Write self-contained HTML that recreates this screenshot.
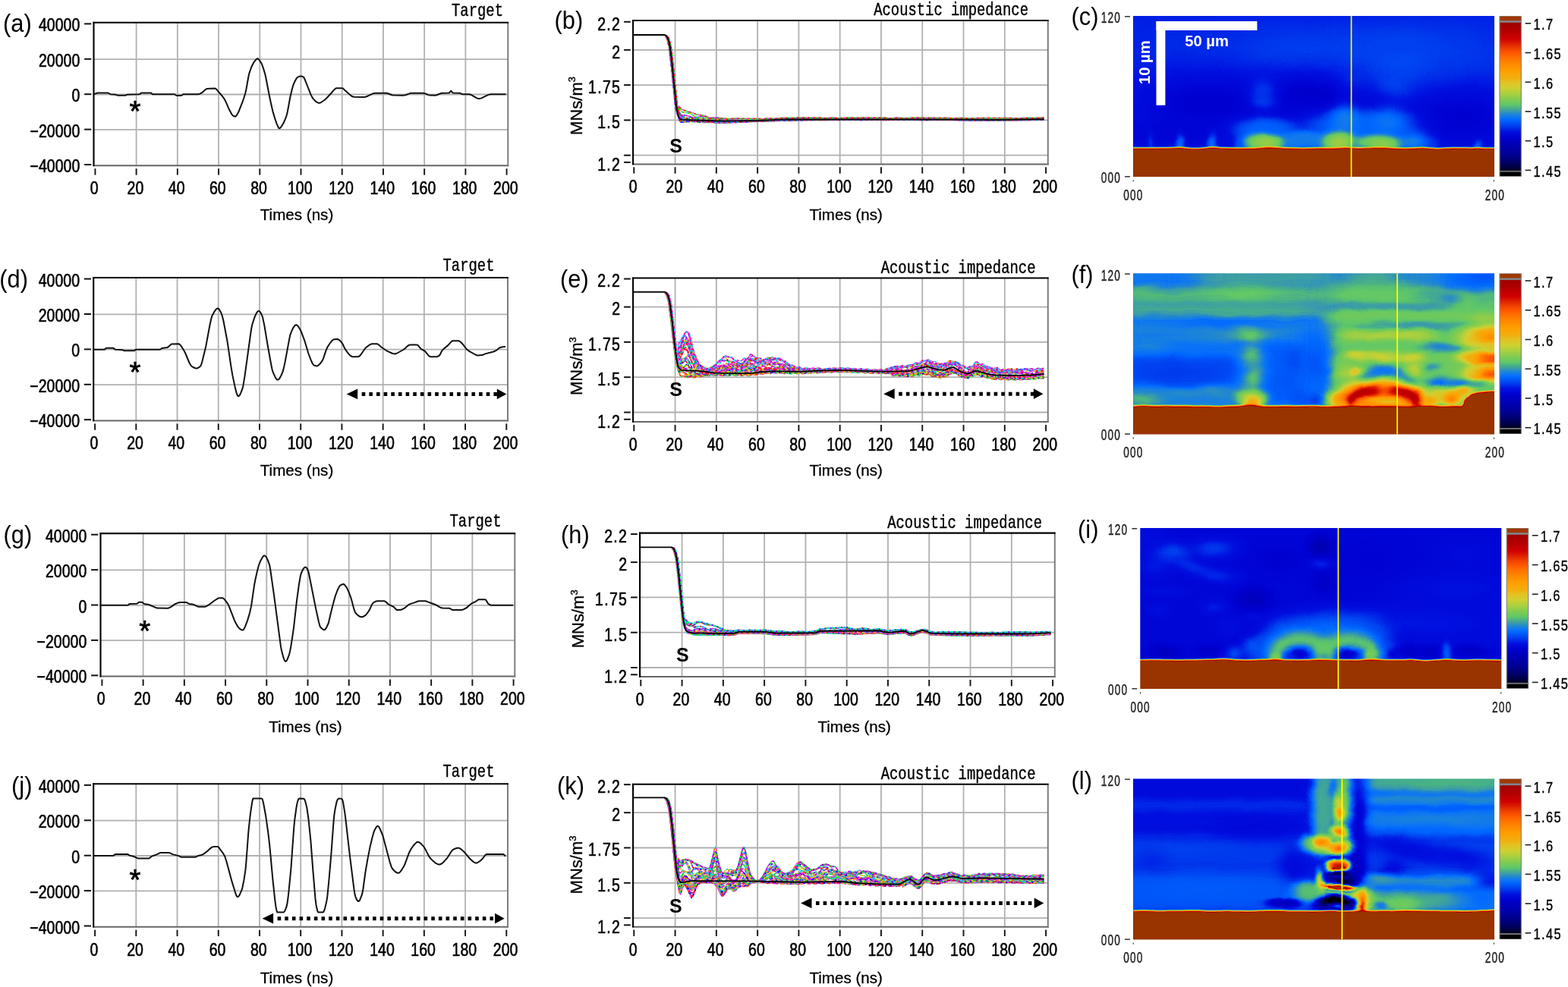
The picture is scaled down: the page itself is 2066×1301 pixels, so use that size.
<!DOCTYPE html>
<html lang="en"><head><meta charset="utf-8"><title>Figure</title>
<style>html,body{margin:0;padding:0;background:#fff;overflow:hidden}svg{display:block}text{white-space:pre}</style>
</head><body>
<svg width="2066" height="1301" viewBox="0 0 2066 1301">
<defs>
<filter id="cm" x="0" y="0" width="100%" height="100%" color-interpolation-filters="sRGB"><feComponentTransfer><feFuncR type="table" tableValues="0 0 0 0 0 0 0 0 0 0 0 0 0 0 0 0 0 0 0 0 0 0 0 0 0 0 0 0 0 0 0 0 0 0 0 0 0 0 0 0 0 0 0 0 0 0 0 0 0 0.025 0.05 0.076 0.102 0.13 0.175 0.22 0.242 0.264 0.289 0.321 0.353 0.383 0.411 0.439 0.467 0.495 0.527 0.56 0.593 0.626 0.659 0.69 0.722 0.753 0.784 0.816 0.831 0.847 0.863 0.878 0.894 0.911 0.928 0.943 0.952 0.961 0.97 0.978 0.985 0.991 0.998 1 1 1 1 1 1 1 1 1 1 1 1 1 1 0.989 0.974 0.96 0.945 0.926 0.907 0.887 0.868 0.854 0.842 0.83 0.819 0.804 0.788 0.773 0.757 0.739 0.722 0.704 0.688 0.678 0.668 0.658 0.648 0.637 0.627 0.614 0.6 0.6 0.6 0.6 0.6 0.6 0.6 0.6 0.6"/><feFuncG type="table" tableValues="0 0 0 0 0 0 0 0 0 0 0 0 0 0 0 0 0 0 0 0 0 0 0 0 0 0 0 0 0 0 0 0 0 0 0.01 0.023 0.036 0.05 0.063 0.1 0.138 0.176 0.213 0.251 0.282 0.314 0.345 0.376 0.408 0.433 0.458 0.484 0.51 0.536 0.566 0.596 0.63 0.663 0.697 0.728 0.76 0.785 0.789 0.792 0.796 0.799 0.802 0.806 0.809 0.812 0.816 0.816 0.816 0.816 0.816 0.816 0.803 0.791 0.778 0.765 0.753 0.73 0.707 0.688 0.679 0.67 0.661 0.65 0.638 0.626 0.615 0.6 0.584 0.569 0.553 0.537 0.519 0.5 0.482 0.463 0.444 0.422 0.398 0.375 0.351 0.327 0.304 0.28 0.257 0.227 0.196 0.165 0.133 0.102 0.071 0.039 0.008 0 0 0 0 0 0 0 0 0 0 0 0 0 0 0.1 0.2 0.2 0.2 0.2 0.2 0.2 0.2 0.2 0.2"/><feFuncB type="table" tableValues="0 0 0 0 0 0.118 0.165 0.212 0.259 0.299 0.331 0.363 0.396 0.428 0.456 0.481 0.506 0.532 0.557 0.578 0.597 0.616 0.634 0.653 0.669 0.683 0.697 0.711 0.725 0.739 0.753 0.772 0.792 0.811 0.826 0.839 0.852 0.865 0.878 0.891 0.904 0.916 0.929 0.941 0.953 0.965 0.976 0.988 1 0.976 0.953 0.915 0.863 0.81 0.75 0.69 0.634 0.578 0.525 0.482 0.44 0.403 0.382 0.361 0.34 0.319 0.304 0.291 0.277 0.264 0.251 0.238 0.226 0.213 0.201 0.188 0.176 0.163 0.151 0.138 0.125 0.103 0.08 0.061 0.052 0.043 0.034 0.025 0.018 0.01 0.002 0 0 0 0 0 0 0 0 0 0 0 0 0 0 0 0 0 0 0 0 0 0 0 0 0 0 0 0 0 0 0 0 0 0 0 0 0 0 0 0 0 0 0 0 0 0 0 0 0 0"/></feComponentTransfer></filter>
<clipPath id="clip-b"><rect x="835.1" y="28.0" width="545.4" height="187.4"/></clipPath>
<path id="cb0" d="M875.9,46.7L878.6,50.7L881.3,61.3L884,83.8L889.5,138L890.8,146.5L895,157.2L896.4,159L899.1,160.3L903.1,160.9L912.6,160.3L920.8,161.2L952,161.7L1063.3,158.1L1074.1,158.4L1147.4,157.9L1161,158.3L1232.9,158.1L1326.5,158.7L1375.4,158"/>
<path id="cb1" d="M876.2,46.7L878.9,50.7L881.6,61.3L884.3,83.8L889.7,138L891.1,146.5L893.7,153.3L895,159L896.4,160.6L897.7,161.2L909.9,159.4L919.4,160.4L928.9,159.9L941.1,161.5L957.4,161.7L983.2,160.9L994.1,159.9L1004.9,159.9L1015.8,159.1L1068.7,158.4L1079.6,157.8L1135.2,158.3L1165.1,157.7L1219.3,158.4L1249.2,157.9L1261.4,158.4L1302.1,158.8L1375.4,158"/>
<path id="cb2" d="M876.4,46.7L879.1,50.7L881.9,61.3L884.6,83.8L890,138L891.4,146.5L895,157.4L896.4,158.6L897.7,158.8L903.1,157.8L912.6,159.5L922.1,159.1L934.4,161.1L954.7,161.7L977.8,160.8L988.6,159.7L999.5,159.9L1009,159.3L1018.5,159.4L1072.8,157.6L1105.3,158.3L1158.3,157.5L1190.8,158.3L1243.8,157.6L1277.7,158.6L1298,158.6L1308.9,158.1L1359.1,158.3L1375.4,157.7"/>
<path id="cb3" d="M876.7,46.7L879.4,50.7L882.1,61.3L884.8,83.8L890.3,138L891.6,146.5L893.7,152.7L895,153.3L897.7,156L903.1,157.9L907.2,158.3L915.4,157.7L926.2,160.4L937.1,160.5L947.9,161.5L958.8,160.7L969.6,160.7L980.5,159.5L990,159.8L1000.9,159.3L1011.7,159.6L1066,157.3L1098.6,158.2L1118.9,158.1L1150.1,157.2L1182.7,158.2L1235.6,157.4L1268.2,158.5L1289.9,158.4L1300.8,157.8L1352.3,158.3L1375.4,157.6"/>
<path id="cb4" d="M877,46.7L879.7,50.7L882.4,61.3L885.1,83.8L890.5,138L891.9,146.5L893.7,152.7L896.4,154.8L897.7,155.2L903.1,155.2L912.6,158.9L915.4,159.3L923.5,159.2L935.7,160.9L946.6,160.2L956.1,160.6L968.3,159.3L977.8,159.8L988.6,159.2L1000.9,159.8L1052.4,157.1L1063.3,157.6L1074.1,157.4L1085,158L1105.3,158L1137.9,156.9L1170.5,158L1190.8,158L1201.7,157.3L1212.5,157.5L1222,157L1254.6,158.2L1307.5,157.5L1318.4,158.2L1340.1,158.4L1361.8,157.7L1375.4,156.8"/>
<path id="cb5" d="M877.2,46.7L879.9,50.7L882.7,61.3L885.4,83.8L890.8,138L892.2,146.5L893.7,152.4L895,151.4L897.7,154.7L900.4,155.6L904.5,155.9L912.6,154.7L923.5,158.2L934.4,158.7L942.5,160.4L946.6,160.7L956.1,160.1L966.9,160.4L977.8,159L987.3,159.2L998.1,158.3L1009,158.9L1019.9,158.2L1030.7,158.4L1041.6,157.7L1052.4,157.7L1063.3,156.8L1072.8,157.2L1083.6,156.8L1094.5,157.6L1105.3,157.4L1116.2,157.9L1127.1,157.3L1137.9,157.4L1148.8,156.6L1158.3,157.1L1169.1,156.9L1180,157.7L1200.3,157.9L1232.9,156.7L1243.8,157.3L1254.6,157.2L1265.5,158L1285.8,158.2L1318.4,157.1L1327.9,157.7L1338.7,157.5L1349.6,158L1375.4,157.2"/>
<path id="cb6" d="M877.5,46.7L880.2,50.7L882.9,61.3L885.6,83.8L891.1,138L893.7,152.1L895,148.3L897.7,152.3L901.8,155.3L905.9,157L915.4,157L926.2,159.4L937.1,158.4L947.9,159.3L958.8,158.1L968.3,159L979.1,158.6L991.4,159.6L1000.9,159L1011.7,159L1022.6,157.6L1033.4,157.3L1044.3,156.4L1055.1,157.1L1066,156.9L1076.8,157.7L1086.3,157.3L1097.2,157.6L1108.1,156.7L1118.9,156.9L1128.4,156.3L1161,157.6L1171.8,157.2L1182.7,157.4L1193.5,156.6L1204.4,156.9L1213.9,156.4L1224.8,157.2L1235.6,157.1L1246.5,157.8L1257.3,157.3L1268.2,157.5L1279,156.8L1288.5,157.2L1299.4,156.9L1310.2,157.8L1321.1,157.6L1330.6,158L1342.8,157.3L1353.7,157.3L1364.5,156.3L1375.4,156.6"/>
<path id="cb7" d="M877.8,46.7L880.5,50.7L883.2,61.3L885.9,83.8L891.3,138L893.7,152L895,148.2L897.7,152.5L901.8,155.5L904.5,156.5L914,156.2L924.9,158.3L935.7,157L946.6,158.2L957.4,157.3L968.3,158.8L977.8,158.5L990,159.4L999.5,158.7L1010.4,158.6L1021.2,157L1032.1,156.9L1041.6,156.1L1053.8,157L1063.3,156.8L1075.5,157.5L1085,156.9L1095.8,157.1L1108.1,156.1L1117.6,156.5L1128.4,156L1137.9,156.9L1148.8,156.8L1159.6,157.4L1170.5,156.8L1181.3,156.9L1192.2,156L1203,156.6L1212.5,156.2L1223.4,157.2L1234.3,157L1245.1,157.5L1256,156.8L1266.8,157L1277.7,156.3L1288.5,157L1298,156.8L1310.2,157.7L1319.7,157.4L1330.6,157.7L1341.5,156.8L1352.3,156.8L1361.8,155.9L1375.4,156.4"/>
<path id="cb8" d="M878,46.7L880.7,50.7L883.5,61.3L886.2,83.8L891.6,138L893.7,152L895,147.9L897.7,151.3L903.1,154.9L905.9,156L908.6,156.3L918.1,155L926.2,156.7L928.9,156.8L938.4,155.5L949.3,157.4L960.1,157.1L971,158.9L981.9,158.5L991.4,159.1L1003.6,157.8L1013.1,157.7L1025.3,156L1034.8,156.4L1045.6,156L1056.5,157L1067.3,156.7L1076.8,157.2L1087.7,156.3L1098.6,156.4L1109.4,155.5L1120.3,156.2L1131.1,156L1142,157L1151.5,156.6L1162.3,157L1173.2,156.1L1184,156.3L1194.9,155.6L1204.4,156.4L1215.3,156.3L1227.5,157.2L1237,156.7L1247.8,157L1258.7,156.1L1269.5,156.5L1279,156L1289.9,156.9L1300.8,156.8L1311.6,157.6L1322.5,157L1333.3,157.1L1345.5,156L1355,156.3L1365.9,155.7L1375.4,156.4"/>
<path id="cb9" d="M878.3,46.7L881,50.7L883.7,61.3L893.7,152.3L895,149.8L896.4,151.4L897.7,151.9L903.1,151.8L912.6,154.9L915.4,155L924.9,153.3L934.4,155.4L945.2,155L956.1,157.5L966.9,157.6L977.8,158.9L988.6,158L999.5,158.1L1010.4,156.4L1019.9,156.5L1030.7,155.4L1041.6,156.4L1052.4,156.2L1063.3,157L1074.1,156.2L1085,156.3L1095.8,155.3L1105.3,155.8L1116.2,155.3L1127.1,156.4L1137.9,156.2L1148.8,156.8L1159.6,156L1170.5,156.2L1181.3,155.2L1190.8,155.9L1201.7,155.6L1212.5,156.6L1223.4,156.4L1232.9,156.9L1243.8,156L1254.6,156.2L1265.5,155.4L1276.3,156.3L1287.2,156.1L1299.4,157.2L1308.9,156.8L1319.7,157.1L1329.2,156.1L1340.1,156.2L1351,155.4L1361.8,156.1L1375.4,155.9"/>
<path id="cb10" d="M878.6,46.7L881.3,50.7L884,61.3L886.7,83.8L892.1,138L893.5,146.5L893.7,151.2L895,142L896.4,145L897.7,146.7L899.1,147.5L901.8,148.4L908.6,149.4L918.1,154.6L922.1,155.4L930.3,154.9L941.1,156.9L952,155.5L961.5,156.7L976.4,156.4L983.2,157.4L994.1,157.1L1004.9,158L1015.8,156.7L1026.6,156.5L1036.1,155.2L1048.3,155.5L1060.6,155.1L1068.7,156L1079.6,155.8L1090.4,156.5L1101.3,155.7L1112.1,155.8L1118.9,155.1L1133.8,155.4L1143.3,155.1L1154.2,156.2L1165.1,155.9L1174.5,156.5L1186.8,155.6L1196.3,155.8L1204.4,155.2L1219.3,155.6L1228.8,155.4L1239.7,156.5L1250.5,156.1L1260,156.6L1272.3,155.6L1281.8,156L1296.7,155.6L1304.8,156.2L1314.3,156L1325.2,156.9L1336,156.3L1345.5,156.5L1357.7,155.2L1367.2,155.4L1375.4,154.9"/>
<path id="cb11" d="M878.8,46.7L881.5,50.7L884.3,61.3L887,83.8L892.4,138L893.8,146.5L893.7,151.1L895,140.6L897.7,143.8L903.1,146L914,149.2L918.1,151.1L927.6,152.3L937.1,156.2L941.1,156.6L949.3,156.1L958.8,157.3L966.9,156.2L998.1,156.3L1003.6,156.8L1013.1,156.2L1022.6,156.8L1033.4,155.6L1044.3,155.8L1051.1,155.1L1080.9,155.1L1087.7,155.7L1098.6,155.4L1108.1,156.2L1118.9,155.3L1128.4,155.5L1135.2,155.1L1165.1,155.1L1173.2,155.9L1182.7,155.6L1193.5,156.2L1205.8,155.2L1249.2,155.3L1257.3,156.2L1268.2,155.9L1277.7,156.4L1288.5,155.5L1332,155.5L1344.2,156.4L1353.7,155.7L1364.5,155.8L1375.4,154.9"/>
<clipPath id="clip-e"><rect x="835.1" y="367.5" width="545.4" height="187.6"/></clipPath>
<path id="ce0" d="M875.8,385.5L878.5,389.5L881.3,400.2L889.4,469.7L890.8,477.7L893.7,489.5L896.4,495L897.7,495.8L901.8,495.6L905.9,497.7L909.9,496.5L914,497.7L915.4,497.6L919.4,495.6L923.5,496.1L927.6,493.7L928.9,493.6L933,494.9L937.1,493.5L941.1,494.6L942.5,494.3L946.6,491.9L950.6,493.3L954.7,493L958.8,494.9L960.1,495L964.2,493.6L968.3,495L973.7,493.7L977.8,495.2L981.9,493.7L985.9,495.1L987.3,495.1L991.4,493.4L995.4,494.3L999.5,492.2L1000.9,492.1L1004.9,493L1009,490.5L1013.1,490.9L1017.1,489.8L1018.5,489.9L1022.6,491.8L1026.6,490.1L1032.1,491L1034.8,490.1L1036.1,490.2L1040.2,492.5L1041.6,492.4L1044.3,491.3L1045.6,491.3L1049.7,492.7L1053.8,491.3L1057.8,492.6L1063.3,491L1067.3,492.2L1071.4,490.6L1076.8,491.6L1080.9,489.9L1085,491.1L1090.4,489.4L1094.5,490.5L1098.6,488.8L1102.6,490.2L1104,490.3L1108.1,489L1112.1,490.5L1116.2,489L1117.6,489.1L1121.6,490.8L1125.7,489.6L1129.8,491.3L1135.2,490.1L1139.3,491.7L1143.3,490.4L1147.4,491.9L1148.8,492L1152.8,490.8L1156.9,492.3L1161,490.9L1162.3,490.9L1166.4,492.4L1170.5,491.1L1174.5,492.7L1175.9,495.2L1180,493.3L1184,494.5L1188.1,493.6L1192.2,495.6L1193.5,495.8L1197.6,494.6L1201.7,495.5L1205.8,493.8L1207.1,493.8L1209.8,495L1211.2,495.1L1215.3,493L1216.6,493L1219.3,494L1223.4,493.4L1224.8,493.7L1228.8,496.6L1230.2,496.8L1232.9,496.1L1238.3,498.2L1242.4,496.5L1246.5,496.1L1251.9,491.7L1256,491.9L1258.7,491.3L1260,491.5L1264.1,494.5L1269.5,494.8L1273.6,497.9L1275,498L1279,495.9L1283.1,495.1L1285.8,493.2L1287.2,492.9L1292.6,496L1296.7,495.9L1300.8,498.4L1304.8,498L1308.9,500L1310.2,500.1L1314.3,498.8L1318.4,500.4L1322.5,499.2L1323.8,499.2L1326.5,500.4L1327.9,500.5L1332,498.6L1336,500.1L1337.4,500.2L1341.5,499L1345.5,500.2L1349.6,498.1L1351,497.9L1355,499.1L1359.1,498.2L1363.2,499.8L1367.2,498.2L1368.6,498L1372.7,499L1375.4,497.8"/>
<path id="ce1" d="M876,385.5L878.7,389.5L881.4,400.2L889.5,469.7L890.9,477.7L893.7,486.9L895,488.7L897.7,490.2L901.8,490.5L907.2,495.3L908.6,495.2L911.3,493.7L912.6,493.5L916.7,494.6L920.8,494L924.9,495.9L926.2,495.7L928.9,494.1L930.3,494L934.4,495.2L938.4,493.6L942.5,495L943.9,495L947.9,493.5L952,495L956.1,493.6L961.5,494.6L965.6,493.3L969.6,495L971,494.9L975.1,493.1L979.1,493.1L983.2,490.7L984.6,490.9L988.6,493.2L992.7,492.3L996.8,492.9L1000.9,490.4L1002.2,490.2L1006.3,492L1010.4,491.1L1014.4,492.3L1015.8,492.2L1019.9,490.7L1023.9,492.2L1028,490.8L1033.4,492.4L1037.5,491L1041.6,492.6L1045.6,491L1047,490.9L1051.1,492.5L1055.1,491.1L1059.2,492.3L1060.6,492.2L1064.6,490.2L1068.7,491.4L1072.8,490L1074.1,490.1L1076.8,491.3L1078.2,491.4L1082.3,489.6L1086.3,490.8L1091.8,489.3L1095.8,490.7L1099.9,489.1L1105.3,490.5L1109.4,489.1L1113.5,490.6L1117.6,489.4L1118.9,489.4L1123,491L1127.1,489.6L1131.1,491.1L1136.6,489.9L1140.6,491.6L1144.7,490.3L1150.1,491.6L1154.2,490.3L1158.3,492.1L1163.7,490.9L1167.8,492.4L1171.8,491L1174.5,492L1175.9,495.3L1177.3,495.4L1181.3,494.2L1185.4,495.7L1189.5,494.4L1194.9,496.1L1199,494.9L1203,496L1204.4,495.7L1207.1,494.1L1212.5,494.3L1216.6,491.3L1218,491.2L1222,493L1226.1,493.4L1230.2,495.9L1231.5,495.7L1234.3,494.4L1235.6,494.3L1239.7,496.2L1243.8,495.4L1247.8,495.6L1251.9,492.1L1253.3,491.3L1254.6,491.2L1261.4,492.7L1265.5,496L1266.8,496.6L1270.9,496.6L1275,498.6L1276.3,498.2L1280.4,495.1L1284.5,494.8L1288.5,493.5L1292.6,496.1L1294,496.4L1298,495.4L1302.1,497.2L1306.2,496.9L1310.2,499.3L1311.6,499.5L1315.7,498.1L1319.7,499.2L1323.8,497.9L1325.2,498L1329.2,500.4L1333.3,499.2L1337.4,500.6L1338.7,500.6L1342.8,499.1L1346.9,500.6L1351,499L1352.3,499L1356.4,500.2L1360.5,498.5L1364.5,499.5L1370,497.7L1374,498.9L1375.4,498.5"/>
<path id="ce2" d="M876.1,385.5L878.8,389.5L881.5,400.2L889.7,469.7L891,477.7L893.7,487.5L895,489.9L896.4,491.2L900.4,487.4L903.1,487.1L905.9,488.1L908.6,490.5L912.6,496.1L914,496.5L918.1,495.2L922.1,495.8L926.2,493.9L930.3,495.3L931.6,495.2L935.7,493.7L939.8,495.1L943.9,493.6L945.2,493.5L949.3,494.7L953.4,493.5L957.4,495L958.8,494.9L962.9,492.6L966.9,492.9L971,491.5L975.1,493.5L976.4,493.8L980.5,492.1L984.6,492.2L988.6,489.8L990,489.8L994.1,492.5L998.1,491.9L1002.2,493L1003.6,492.8L1007.6,490.8L1011.7,492.1L1015.8,490.8L1017.1,490.9L1021.2,492.2L1025.3,490.8L1029.4,492.1L1033.4,490.6L1034.8,490.7L1038.8,492.4L1042.9,491.1L1047,492.2L1048.3,492L1052.4,490.3L1056.5,491.8L1060.6,490.6L1066,491.9L1070.1,490L1074.1,491.1L1079.6,489.7L1083.6,491.2L1087.7,489.5L1093.1,490.7L1097.2,489.1L1101.3,490.6L1105.3,489.1L1106.7,489.1L1110.8,490.6L1114.8,489.1L1118.9,490.6L1124.3,489.5L1128.4,491.1L1132.5,489.7L1137.9,490.9L1142,489.7L1146.1,491.6L1151.5,490.5L1155.6,491.9L1159.6,490.5L1163.7,492.1L1165.1,492.2L1169.1,491.1L1173.2,492.7L1174.5,492.5L1175.9,494.7L1178.6,494.1L1182.7,495.5L1186.8,494.3L1190.8,495.9L1192.2,495.9L1194.9,494.8L1200.3,495.7L1204.4,493.4L1209.8,494.5L1213.9,492.4L1218,492.4L1222,489.9L1223.4,490.1L1227.5,493.5L1231.5,494.5L1235.6,497.1L1237,497.1L1241,495.4L1245.1,495.9L1249.2,493.1L1253.3,492.7L1257.3,490.9L1258.7,491.1L1262.8,495L1264.1,495.4L1266.8,495.1L1272.3,498.4L1276.3,496.9L1280.4,496.5L1284.5,492.8L1285.8,492.1L1289.9,493.9L1294,494.2L1298,496.7L1299.4,497.1L1303.5,496L1307.5,497.5L1311.6,496.8L1313,497.1L1317,499.7L1321.1,498.7L1325.2,500L1326.5,499.9L1330.6,498.6L1334.7,500.6L1336,500.5L1338.7,499.3L1340.1,499.3L1344.2,500.6L1348.2,499.1L1352.3,500.2L1357.7,498.7L1361.8,499.9L1365.9,498L1371.3,498L1375.4,495.9"/>
<path id="ce3" d="M876.2,385.5L878.9,389.5L881.7,400.2L889.8,469.7L891.2,477.7L893.7,483.3L896.4,487.1L897.7,488.6L901.8,491.5L905.9,496.1L907.2,496.7L911.3,495.1L915.4,496.1L920.8,495.1L924.9,496.1L928.9,494.1L934.4,494.9L938.4,493.1L942.5,494.5L946.6,493.2L947.9,493.1L950.6,493.8L952,493.6L956.1,490.1L957.4,489.7L961.5,490.7L964.2,490.5L965.6,490.9L969.6,493.4L971,493.2L973.7,491.7L979.1,491.9L981.9,490.9L983.2,490.9L987.3,494L988.6,494.3L992.7,493.2L996.8,493.7L1000.9,491.3L1002.2,491.3L1004.9,492.6L1006.3,492.7L1010.4,491.1L1014.4,492.3L1019.9,490.1L1023.9,490.8L1028,489.7L1032.1,491.6L1033.4,491.6L1037.5,489.9L1041.6,490.8L1045.6,489.4L1051.1,491.7L1055.1,490.7L1059.2,492L1063.3,490.3L1064.6,490.2L1068.7,491.6L1072.8,490.3L1076.8,491.6L1082.3,489.8L1086.3,490.9L1090.4,489.4L1091.8,489.5L1094.5,490.6L1095.8,490.7L1099.9,489.1L1104,490.4L1108.1,488.8L1109.4,488.7L1113.5,490.3L1117.6,489L1121.6,490.5L1123,490.5L1127.1,489L1131.1,490.5L1135.2,489.5L1140.6,491.4L1144.7,490.1L1148.8,491.7L1154.2,490.6L1158.3,492.3L1162.3,490.9L1167.8,492.4L1171.8,491L1174.5,492.2L1175.9,495.4L1180,494.2L1181.3,494.2L1185.4,495.6L1189.5,493.6L1193.5,494.4L1199,493.4L1203,494.8L1207.1,492.4L1208.5,492L1211.2,492.1L1216.6,489.4L1218,489.9L1220.7,492L1226.1,493.4L1228.8,495.5L1230.2,496.1L1234.3,494.9L1239.7,497.5L1243.8,496.2L1247.8,495.8L1251.9,492L1253.3,491.4L1260,491.7L1261.4,492.3L1265.5,496L1266.8,496.4L1270.9,496.3L1273.6,497.4L1275,497.4L1279,493.9L1280.4,493.3L1283.1,493.4L1287.2,491.9L1288.5,492L1292.6,494.4L1294,494.4L1296.7,493.5L1298,493.6L1302.1,496.3L1306.2,496.9L1310.2,499.7L1311.6,499.8L1315.7,498.5L1319.7,499.8L1323.8,498.7L1327.9,500.5L1329.2,500.6L1333.3,499.2L1337.4,500.7L1341.5,498.8L1342.8,498.7L1346.9,500.1L1351,498.7L1355,499.8L1356.4,499.5L1360.5,497L1364.5,497.5L1368.6,496L1370,496.2L1372.7,497.6L1374,497.8L1375.4,497.2"/>
<path id="ce4" d="M876.4,385.5L879.1,389.5L881.8,400.2L889.9,469.7L891.3,477.7L896.4,488.9L897.7,490.2L904.5,494.6L905.9,494.5L908.6,492.8L909.9,492.6L914,495.4L915.4,495.7L919.4,495.5L922.1,496.4L923.5,496.3L927.6,494.1L931.6,494.8L935.7,493.1L937.1,493.1L941.1,494.6L945.2,492.8L949.3,492.8L954.7,488.6L956.1,488.7L958.8,490.2L962.9,490.4L966.9,492.4L968.3,492.5L972.4,490.4L976.4,491.3L980.5,490.9L981.9,491.4L985.9,494.2L987.3,494.1L990,492.9L994.1,493.2L995.4,492.9L998.1,491.3L999.5,491.1L1003.6,492.9L1009,491.3L1011.7,492.2L1013.1,492.1L1017.1,489.4L1018.5,489.3L1022.6,490.4L1026.6,489.6L1030.7,491.2L1034.8,489L1036.1,488.8L1040.2,489.9L1044.3,489.2L1048.3,491.5L1049.7,491.6L1053.8,490.5L1057.8,491.6L1061.9,490L1066,491.6L1067.3,491.7L1071.4,490.4L1075.5,491.7L1079.6,489.9L1080.9,489.8L1085,490.9L1089.1,489.4L1093.1,490.8L1098.6,489.1L1102.6,490.2L1106.7,488.6L1112.1,490.2L1116.2,488.9L1120.3,490.2L1124.3,488.7L1125.7,488.7L1129.8,490.5L1133.8,489.5L1137.9,491.2L1139.3,491.2L1143.3,489.9L1147.4,491.5L1151.5,490.5L1156.9,492.3L1161,490.9L1165.1,492.3L1169.1,490.9L1170.5,490.9L1174.5,492.7L1175.9,495.1L1178.6,494L1182.7,495.2L1184,495L1188.1,492.8L1192.2,494.1L1196.3,493.3L1200.3,494.6L1201.7,494.5L1205.8,491.4L1209.8,491.3L1213.9,489.7L1215.3,489.8L1219.3,492.1L1223.4,491.8L1227.5,494.2L1228.8,494.6L1232.9,494.1L1237,497.3L1238.3,497.5L1241,496.7L1245.1,497L1246.5,496.4L1250.5,492.2L1251.9,491.5L1254.6,491.4L1257.3,490.7L1258.7,490.8L1260,491.5L1264.1,495.4L1268.2,494.9L1272.3,496.4L1273.6,496.4L1277.7,494.1L1281.8,494.1L1285.8,491.4L1287.2,491.3L1291.3,492.8L1295.3,492.1L1300.8,496L1304.8,496.8L1308.9,499.3L1313,497.9L1314.3,497.9L1318.4,499.4L1322.5,498.7L1326.5,500.6L1332,499.2L1336,500.2L1340.1,498.4L1341.5,498.6L1344.2,499.9L1345.5,500L1349.6,498.6L1353.7,499.2L1357.7,496.5L1359.1,496.2L1363.2,497.3L1367.2,496.2L1371.3,497.6L1372.7,497.4L1375.4,495.6"/>
<path id="ce5" d="M876.5,385.5L879.2,389.5L881.9,400.2L890.1,469.7L893.7,487.3L895,489.6L897.7,489.9L899.1,488.8L903.1,481.8L904.5,480.6L905.9,481L909.9,486.2L916.7,492.8L918.1,493.1L922.1,491.6L926.2,493.2L931.6,492.6L935.7,494.6L939.8,493.2L943.9,494L945.2,493.7L947.9,492.3L949.3,492.1L953.4,494.3L954.7,494.4L957.4,493.5L961.5,494.4L962.9,494.3L966.9,491.7L968.3,491.7L971,492.8L976.4,491.9L979.1,493L980.5,493L985.9,488.7L988.6,488.2L992.7,486.6L994.1,486.8L998.1,489.8L999.5,489.9L1003.6,488.6L1007.6,489.1L1011.7,487.2L1017.1,490.2L1021.2,490L1025.3,491.7L1029.4,489.9L1030.7,489.9L1034.8,491.5L1038.8,490.7L1042.9,492.5L1048.3,490.9L1052.4,491.8L1056.5,490.2L1060.6,491.7L1061.9,491.7L1066,490.1L1070.1,490.9L1074.1,488.8L1075.5,488.8L1079.6,490.2L1083.6,489L1087.7,490.4L1093.1,488.7L1097.2,490L1101.3,488.7L1105.3,490.3L1106.7,490.4L1110.8,489L1114.8,490.5L1118.9,489.1L1120.3,489.2L1124.3,490.9L1128.4,489.7L1132.5,491.1L1137.9,489.5L1142,491L1146.1,489.9L1151.5,491.6L1155.6,490L1159.6,491.2L1163.7,490L1165.1,490L1169.1,491.8L1173.2,490.5L1174.5,490.7L1175.9,493.7L1177.3,494.2L1182.7,492.7L1186.8,495L1190.8,494.3L1196.3,496.1L1200.3,494L1204.4,494.6L1208.5,493.1L1209.8,493L1212.5,494L1213.9,494L1218,491.1L1219.3,490.6L1223.4,490.8L1226.1,490.1L1227.5,490.4L1231.5,493.9L1232.9,494.2L1237,493.6L1239.7,494.3L1241,494.1L1245.1,490.9L1246.5,490.7L1249.2,491.1L1254.6,489.2L1258.7,491.4L1264.1,492.8L1268.2,495.7L1272.3,496.3L1276.3,498.3L1277.7,497.7L1281.8,494.3L1285.8,493.6L1289.9,492.3L1295.3,495.9L1299.4,495.7L1303.5,497.3L1307.5,495.4L1308.9,495.3L1313,496.8L1317,496.3L1321.1,498.3L1322.5,498.2L1326.5,496.4L1330.6,497.5L1334.7,496.8L1338.7,499.4L1340.1,499.7L1344.2,498.5L1348.2,499.6L1352.3,497.9L1353.7,497.9L1357.7,499.7L1361.8,498.3L1365.9,499.4L1367.2,499.1L1371.3,496.7L1375.4,497.4"/>
<path id="ce6" d="M876.6,385.5L879.3,389.5L882.1,400.2L890.2,469.7L891.6,477.7L896.4,480.6L903.1,486.8L907.2,491.3L908.6,491.6L912.6,490.4L916.7,493.4L918.1,493.9L922.1,494.2L924.9,495.5L926.2,495.6L930.3,493.6L934.4,494.3L939.8,492.4L943.9,493.8L947.9,492.1L952,491.9L953.4,491.1L957.4,487.2L958.8,487.1L962.9,488.9L966.9,489.5L969.6,491.3L971,491.5L975.1,489.1L976.4,488.7L980.5,488.9L983.2,488.2L984.6,488.6L988.6,492.1L990,492.3L994.1,491L998.1,491.2L1002.2,489.3L1006.3,491.6L1007.6,491.7L1011.7,490.7L1015.8,491.5L1019.9,488.7L1021.2,488.5L1025.3,489.5L1029.4,488.9L1033.4,490.8L1038.8,488.6L1042.9,489.6L1047,488.6L1051.1,490.9L1052.4,491.1L1056.5,490L1060.6,491.1L1064.6,489.4L1066,489.4L1070.1,491.1L1074.1,489.9L1078.2,491.2L1083.6,489.3L1087.7,490.6L1091.8,489.1L1095.8,490.5L1097.2,490.5L1101.3,488.9L1105.3,490L1109.4,488.4L1110.8,488.5L1114.8,490.1L1118.9,488.8L1123,490.1L1128.4,488.5L1132.5,490.2L1136.6,489.2L1140.6,490.9L1142,491L1146.1,489.7L1150.1,491.2L1154.2,490.2L1155.6,490.4L1159.6,492.1L1163.7,490.7L1167.8,492.1L1169.1,492L1171.8,490.7L1173.2,490.6L1174.5,491.1L1175.9,494.4L1177.3,494.9L1181.3,493.8L1185.4,494.9L1186.8,494.8L1190.8,492.4L1194.9,493.4L1199,492.4L1204.4,493.3L1208.5,490.2L1212.5,489.5L1216.6,487.4L1218,487.4L1222,490.6L1223.4,491.2L1226.1,491.4L1230.2,493.7L1231.5,493.9L1235.6,492.9L1239.7,495.8L1241,496.2L1249.2,494.5L1253.3,490.3L1254.6,489.7L1261.4,491.7L1266.8,495.9L1268.2,496.2L1270.9,495.5L1275,496.1L1276.3,495.7L1280.4,492L1288.5,490.8L1289.9,491L1294,492.9L1298,491.6L1299.4,492L1303.5,495.1L1307.5,496L1311.6,498.5L1317,497L1321.1,498.4L1325.2,497.8L1329.2,500.1L1330.6,500.3L1334.7,498.9L1338.7,499.8L1342.8,497.8L1344.2,497.8L1348.2,499.4L1352.3,498L1356.4,498.7L1361.8,495.4L1365.9,496.2L1370,495L1374,496.5L1375.4,496.4"/>
<path id="ce7" d="M876.8,385.5L879.5,389.5L882.2,400.2L890.3,469.7L891.7,477.7L893.7,478.4L899.1,485.5L901.8,488.1L907.2,491.3L908.6,491.5L912.6,490.2L914,490.8L918.1,494.4L922.1,494.2L926.2,495.4L930.3,493.2L931.6,492.8L935.7,493.5L939.8,491.7L943.9,492.9L945.2,492.7L949.3,489.9L953.4,488.4L957.4,484.9L958.8,485L962.9,488.3L966.9,489L971,490.8L976.4,488.2L980.5,489.5L984.6,489.8L988.6,492.7L990,492.9L994.1,490.7L998.1,490.8L1002.2,489.3L1007.6,491.7L1011.7,490L1015.8,490.1L1019.9,487L1021.2,486.6L1025.3,488.3L1029.4,487.8L1033.4,489.3L1034.8,489.3L1038.8,487.2L1042.9,488.8L1047,488.6L1048.3,488.9L1052.4,491.2L1056.5,489.8L1060.6,490.9L1066,489.5L1070.1,491.4L1074.1,490.1L1079.6,491L1083.6,489.2L1087.7,490.5L1093.1,489.1L1097.2,490.4L1101.3,488.5L1106.7,489.4L1110.8,488.1L1114.8,489.8L1118.9,488.5L1124.3,489.7L1128.4,488.3L1132.5,490.2L1137.9,489.4L1142,491.1L1146.1,489.7L1151.5,491.4L1155.6,490.5L1159.6,492.2L1163.7,490.7L1165.1,490.7L1169.1,491.8L1173.2,490.3L1174.5,490.6L1175.9,493.9L1178.6,494.6L1182.7,493.1L1186.8,493.6L1190.8,491.1L1192.2,491L1196.3,492.6L1200.3,491.6L1204.4,492.2L1209.8,488.4L1213.9,488.6L1218,487.8L1223.4,491.8L1227.5,491.9L1231.5,493.9L1235.6,493.3L1241,496.8L1242.4,496.5L1245.1,495L1249.2,493.9L1253.3,489.5L1254.6,488.6L1256,488.7L1258.7,490.3L1262.8,491.9L1266.8,494.9L1268.2,495.3L1272.3,493.9L1276.3,494.3L1280.4,491.2L1281.8,490.7L1285.8,490.8L1289.9,490.1L1294,491.9L1298,491.4L1299.4,491.8L1303.5,495.8L1304.8,496.3L1307.5,496.5L1311.6,498.5L1313,498.6L1317,496.8L1321.1,498.6L1326.5,498.4L1330.6,500.2L1334.7,498.3L1338.7,498.8L1342.8,497.1L1344.2,497L1348.2,498.7L1352.3,497.1L1356.4,497.2L1357.7,496.8L1361.8,494.1L1363.2,494.2L1365.9,495.5L1371.3,494.8L1374,495.9L1375.4,496"/>
<path id="ce8" d="M876.9,385.5L879.6,389.5L882.3,400.2L890.5,469.7L891.8,477.7L895,481.8L896.4,483.2L897.7,483.8L905.9,481.6L909.9,477.8L911.3,477.9L912.6,479.3L916.7,486.1L922.1,491.6L923.5,492.7L924.9,493.1L928.9,491.5L933,492.6L937.1,491.3L938.4,491.5L942.5,493.5L946.6,492.2L950.6,492.6L956.1,489.6L960.1,491.8L964.2,491.6L968.3,492.9L969.6,492.8L973.7,489.6L977.8,489.1L981.9,487.2L983.2,487.1L987.3,488.8L992.7,485.2L995.4,484.9L999.5,483.2L1000.9,483.4L1004.9,487.1L1006.3,487.6L1009,487.2L1013.1,488.2L1014.4,488.1L1018.5,485.8L1019.9,486.2L1023.9,488.7L1028,489.2L1032.1,491.3L1036.1,489.6L1037.5,489.5L1041.6,490.7L1045.6,489.8L1049.7,491.8L1055.1,490.2L1059.2,490.9L1063.3,488.9L1064.6,489L1067.3,490.2L1068.7,490.3L1072.8,488.9L1076.8,490L1080.9,488.2L1082.3,488.1L1086.3,489.5L1090.4,488.4L1094.5,490L1099.9,488.4L1104,489.7L1108.1,488.4L1113.5,490.3L1117.6,489L1121.6,490.5L1125.7,489L1127.1,489L1131.1,490.6L1135.2,489.4L1139.3,490.9L1140.6,490.8L1144.7,489.2L1148.8,490.6L1152.8,489.4L1158.3,491.2L1162.3,489.7L1166.4,490.7L1170.5,489L1171.8,489L1174.5,490.5L1175.9,493.2L1180,492.6L1184,494L1189.5,492.1L1193.5,494.1L1197.6,493.7L1201.7,495.1L1203,494.9L1207.1,491.9L1211.2,491.6L1215.3,489.3L1216.6,489.1L1220.7,490.8L1224.8,489.7L1228.8,490.4L1230.2,490.2L1232.9,488.6L1234.3,488.5L1238.3,491.6L1239.7,492L1246.5,491.6L1247.8,490.9L1251.9,486.5L1253.3,486.1L1260,488.8L1265.5,494.5L1269.5,494.5L1273.6,496.3L1275,496.4L1279,494L1283.1,494.2L1287.2,492.2L1288.5,492.2L1292.6,493.7L1296.7,492.2L1298,492.6L1302.1,495.1L1306.2,495.1L1308.9,496.5L1310.2,496.6L1314.3,494L1315.7,493.7L1319.7,494.8L1323.8,494.5L1327.9,497.2L1329.2,497.3L1333.3,495.9L1337.4,496.9L1341.5,495.8L1345.5,498.4L1346.9,498.8L1351,497.9L1355,499L1359.1,496.8L1360.5,496.6L1364.5,497.9L1368.6,496.8L1372.7,497.9L1375.4,496.5"/>
<path id="ce9" d="M877,385.5L879.7,389.5L882.5,400.2L890.6,469.7L892,477.7L893.7,478L895,480L897.7,479.6L900.4,477.4L903.1,473.4L904.5,472.1L905.9,472.5L912.6,486.3L916.7,492.3L918.1,493.5L919.4,493.8L923.5,492.3L927.6,493.5L931.6,492.3L937.1,494.1L941.1,492.2L945.2,491.9L949.3,488.2L950.6,487.6L954.7,488.8L958.8,487.8L962.9,488.5L968.3,485.3L972.4,486.8L976.4,486.6L980.5,488.5L981.9,488.6L985.9,485.8L994.1,485.3L995.4,486L999.5,489.8L1000.9,490L1003.6,489.2L1007.6,489.8L1013.1,487.1L1017.1,488.9L1018.5,489.1L1021.2,488.5L1025.3,489.7L1026.6,489.7L1030.7,486.9L1032.1,486.8L1034.8,487.8L1040.2,487.6L1044.3,490L1048.3,488.6L1053.8,489.6L1057.8,488.3L1061.9,490.3L1063.3,490.3L1067.3,489.3L1071.4,490.4L1075.5,488.5L1076.8,488.7L1079.6,490L1080.9,490.2L1085,489.1L1089.1,490.5L1093.1,488.8L1094.5,488.7L1098.6,489.8L1102.6,488.4L1106.7,489.9L1112.1,488.5L1116.2,489.6L1120.3,488L1121.6,488.1L1124.3,489.5L1125.7,489.7L1129.8,488.6L1133.8,490.1L1137.9,488.5L1139.3,488.5L1143.3,490.1L1147.4,489.3L1151.5,491.2L1152.8,491.2L1156.9,489.9L1161,491.3L1165.1,490L1170.5,491.9L1174.5,490.6L1175.9,493.3L1178.6,494L1182.7,491.9L1184,491.8L1188.1,493.4L1192.2,492.5L1196.3,493.7L1197.6,493.4L1201.7,489.9L1205.8,489.4L1209.8,487.6L1213.9,489L1215.3,489L1219.3,486.3L1220.7,486.1L1223.4,486.8L1227.5,486.7L1228.8,487.5L1232.9,492.1L1234.3,492.7L1237,492.9L1241,494.4L1242.4,494.1L1246.5,490.9L1250.5,490.8L1254.6,489L1256,489L1260,491.9L1264.1,491.9L1268.2,493.9L1273.6,494.1L1276.3,495.5L1277.7,495.4L1279,494.5L1284.5,489.4L1287.2,488.8L1289.9,487.4L1291.3,487.4L1295.3,491L1296.7,491.7L1300.8,492.4L1303.5,494.2L1304.8,494.5L1308.9,492.9L1310.2,493.1L1314.3,495.3L1318.4,495.7L1322.5,498.4L1323.8,498.2L1326.5,497L1327.9,496.9L1332,497.9L1336,496.9L1340.1,499.2L1341.5,499.3L1345.5,497.9L1349.6,498.2L1353.7,495.6L1355,495.5L1359.1,496.7L1363.2,495.5L1367.2,496.2L1372.7,492.6L1375.4,493"/>
<path id="ce10" d="M877.2,385.5L879.9,389.5L882.6,400.2L890.7,469.7L892.1,477.7L893.7,478.5L896.4,484.3L897.7,485.9L899.1,486.3L905.9,485.5L908.6,484.4L909.9,484.4L911.3,485.3L915.4,491.4L916.7,492.4L919.4,492.7L923.5,494L924.9,493.8L928.9,491.2L933,492L937.1,490.5L938.4,490.4L941.1,491.3L942.5,491.1L946.6,487.2L950.6,484.8L954.7,481.6L956.1,481.7L960.1,485.7L961.5,486.5L964.2,486.7L968.3,488.5L969.6,488.5L973.7,486.9L977.8,489.1L981.9,489.4L985.9,491.3L987.3,491.5L991.4,488.5L992.7,488.1L995.4,488.5L999.5,487.6L1000.9,487.8L1004.9,490L1006.3,489.7L1010.4,487.1L1014.4,485.8L1017.1,483.4L1018.5,482.8L1023.9,485.4L1028,484.9L1032.1,486.1L1036.1,484.3L1037.5,484.6L1041.6,487.4L1045.6,487.9L1049.7,490.5L1051.1,490.4L1053.8,489.3L1055.1,489.2L1059.2,490.5L1063.3,489.4L1067.3,491.2L1068.7,491.2L1072.8,489.7L1076.8,490.6L1080.9,488.8L1086.3,490.1L1090.4,488.7L1094.5,489.8L1099.9,487.7L1104,488.8L1108.1,487.5L1112.1,489.1L1113.5,489.1L1117.6,487.7L1121.6,489L1125.7,487.8L1127.1,488L1131.1,490.1L1135.2,489L1139.3,490.6L1144.7,489.3L1148.8,491.2L1152.8,490.2L1156.9,491.8L1158.3,491.8L1162.3,490.1L1166.4,491.2L1170.5,489.6L1171.8,489.6L1174.5,490.8L1175.9,493.2L1180,491.1L1184,491.1L1188.1,488.8L1189.5,488.6L1193.5,490.7L1197.6,490L1201.7,490.6L1203,490.1L1207.1,486.8L1208.5,486.8L1211.2,487.9L1215.3,487.6L1216.6,488L1220.7,490.3L1224.8,489.4L1226.1,489.8L1228.8,491.5L1230.2,491.9L1232.9,491.8L1234.3,492.3L1238.3,495.6L1239.7,495.7L1246.5,493L1251.9,487.1L1253.3,486.7L1260,488.1L1264.1,491.3L1265.5,491.6L1269.5,490.2L1275,492L1279,490.4L1283.1,490.9L1284.5,489.1L1285.8,488.2L1287.2,487.6L1288.5,487.6L1292.6,489.5L1296.7,490.1L1300.8,494.5L1302.1,495.3L1306.2,495.7L1310.2,497.3L1314.3,495.5L1315.7,495.7L1319.7,497.7L1323.8,497.2L1327.9,498.8L1333.3,495.9L1337.4,496.3L1341.5,495L1345.5,496.8L1346.9,496.8L1351,494.6L1355,494.4L1359.1,492.2L1360.5,492.4L1364.5,494.6L1368.6,493.9L1372.7,494.9L1375.4,493.6"/>
<path id="ce11" d="M877.3,385.5L880,389.5L882.7,400.2L890.9,469.7L892.2,477.7L895,480.2L899.1,476.8L901.8,475.8L903.1,475.9L904.5,476.8L905.9,478.9L909.9,488.2L911.3,489.9L918.1,491.9L919.4,492.1L923.5,490.7L928.9,492.9L933,491.6L937.1,492.3L942.5,487.8L946.6,486.4L949.3,484.5L950.6,484L954.7,485.4L956.1,485.2L960.1,482.7L968.3,483.9L972.4,488.1L973.7,488.9L977.8,488.4L981.9,488.7L985.9,485.7L987.3,485.6L991.4,488.2L995.4,488.6L999.5,490.1L1000.9,489.7L1004.9,486.6L1009,486.5L1013.1,485L1014.4,485.2L1017.1,486.7L1018.5,486.8L1022.6,484.3L1026.6,483.8L1030.7,482.1L1032.1,482.5L1036.1,486.1L1040.2,486.5L1044.3,488.5L1045.6,488.5L1049.7,487.3L1053.8,489.5L1057.8,489.1L1063.3,491L1067.3,489.3L1071.4,490.2L1076.8,488.9L1080.9,490.6L1085,489L1090.4,489.7L1094.5,487.8L1098.6,489.2L1104,487.9L1108.1,489L1112.1,487.1L1116.2,488.4L1121.6,487.6L1125.7,489.6L1129.8,488.3L1135.2,489.6L1139.3,488.6L1143.3,490.7L1148.8,489.9L1152.8,491.3L1156.9,489.8L1161,491.3L1162.3,491.4L1166.4,490.1L1170.5,491.4L1174.5,489.1L1175.9,490.7L1180,491.1L1184,489.7L1188.1,491.5L1189.5,491.5L1193.5,489.3L1197.6,489.2L1201.7,486.6L1203,486.6L1207.1,488.5L1211.2,487.6L1215.3,488L1219.3,485.1L1220.7,485.1L1224.8,488.4L1228.8,490.5L1232.9,494.1L1234.3,494.4L1238.3,492.7L1242.4,493L1246.5,490.5L1247.8,490.2L1250.5,490.6L1251.9,490.2L1256,487.1L1257.3,487L1261.4,488.5L1264.1,487.9L1265.5,488.2L1269.5,491.7L1270.9,492.1L1277.7,492.6L1283.1,487.1L1284.5,484.9L1291.3,487.3L1295.3,491.6L1296.7,492.5L1300.8,492.1L1304.8,494L1308.9,493.9L1310.2,494.3L1314.3,497.4L1318.4,496.8L1322.5,497.8L1323.8,497.6L1327.9,495.4L1332,497L1336,496.3L1340.1,497.4L1341.5,497.3L1345.5,494.3L1346.9,494L1349.6,494.3L1353.7,493L1355,493L1359.1,495L1363.2,493.1L1367.2,493.1L1372.7,491.2L1375.4,492.8"/>
<path id="ce12" d="M877.4,385.5L880.1,389.5L882.9,400.2L891,469.7L892.4,477.7L893.7,474.6L895,473.9L896.4,471.2L899.1,463.5L900.4,461.2L901.8,460.3L903.1,460.5L904.5,461.5L905.9,463.6L911.3,477.6L912.6,479.7L916.7,482.7L920.8,487.5L924.9,489L928.9,492.3L930.3,492.7L934.4,491.6L938.4,492.3L942.5,489.6L943.9,489.1L947.9,490L952,488.8L956.1,489.4L957.4,488.7L961.5,484.9L962.9,484.7L965.6,485.5L969.6,485.4L973.7,487.7L975.1,487.7L987.3,477.9L988.6,478.1L992.7,482.2L994.1,482.8L996.8,483L1000.9,484.5L1006.3,482.5L1010.4,485L1014.4,485.6L1018.5,487.9L1019.9,488.1L1023.9,485.9L1025.3,485.8L1028,486.7L1032.1,486.3L1033.4,486.7L1037.5,489.5L1041.6,488.3L1047,489L1051.1,487.4L1055.1,489.4L1056.5,489.4L1059.2,488.5L1064.6,489.4L1068.7,487.2L1070.1,487.3L1072.8,488.3L1078.2,487.8L1082.3,489.7L1086.3,488.1L1091.8,489.2L1095.8,487.8L1099.9,489.6L1105.3,488.3L1109.4,489.5L1113.5,487.8L1117.6,489.4L1118.9,489.5L1123,488.5L1127.1,489.9L1131.1,488.2L1132.5,488.1L1136.6,489.3L1140.6,488.2L1144.7,490.1L1146.1,490L1150.1,488.7L1154.2,490L1158.3,488.6L1163.7,490.7L1167.8,489.3L1171.8,490.4L1174.5,489.1L1175.9,490.2L1177.3,490.2L1181.3,492.1L1185.4,491.7L1189.5,493.5L1190.8,493.4L1194.9,491.1L1199,491.4L1203,489.4L1204.4,489.4L1207.1,490.5L1208.5,490.4L1212.5,487.4L1216.6,485.6L1220.7,482L1222,481.9L1226.1,485.5L1230.2,486.8L1234.3,488.7L1235.6,488.6L1239.7,486.4L1243.8,488.2L1247.8,487.4L1251.9,488.5L1253.3,488.3L1256,486.5L1257.3,486.1L1262.8,489.9L1265.5,490.2L1266.8,491.1L1269.5,494.1L1270.9,495.2L1272.3,495.4L1279,493.8L1283.1,489.4L1284.5,487.1L1285.8,487.2L1289.9,489.2L1292.6,489.3L1296.7,491.5L1298,491.6L1302.1,489.5L1303.5,489.5L1306.2,490.8L1310.2,490.8L1311.6,491.3L1315.7,494.2L1317,494.1L1319.7,492.9L1323.8,493.7L1327.9,492.8L1329.2,492.9L1333.3,496.1L1334.7,496.5L1338.7,496.2L1341.5,497.3L1342.8,497.3L1346.9,495.1L1348.2,495.2L1351,496.6L1352.3,496.7L1356.4,496L1360.5,497.3L1365.9,494L1370,493.8L1374,492.1L1375.4,492.5"/>
<path id="ce13" d="M877.6,385.5L880.3,389.5L883,400.2L891.1,469.7L892.5,477.7L893.7,472.2L895,472.7L896.4,471.8L897.7,469.8L901.8,459.7L903.1,458.3L904.5,459L905.9,461.5L915.4,486.6L916.7,488.2L920.8,488.9L924.9,491.2L928.9,490.7L934.4,493L938.4,491.2L942.5,490.8L947.9,485.5L952,485.7L956.1,484.2L960.1,484.6L961.5,484.1L965.6,481L966.9,481.2L969.6,482.7L973.7,482.9L977.8,485L979.1,485.1L984.6,480.9L991.4,479.4L992.7,480.2L996.8,485.2L998.1,485.9L1000.9,485.8L1004.9,486.9L1006.3,486.6L1010.4,484L1011.7,484.3L1014.4,485.8L1018.5,485.7L1022.6,487.2L1023.9,487.3L1028,484.3L1029.4,484.1L1032.1,484.8L1036.1,484.6L1037.5,485L1041.6,487.9L1047,486.9L1051.1,487.9L1055.1,486.7L1059.2,488.9L1060.6,489L1064.6,488.2L1068.7,489.3L1072.8,487.4L1074.1,487.5L1078.2,489.1L1082.3,488.3L1086.3,490L1090.4,488.4L1091.8,488.2L1095.8,489.3L1099.9,487.8L1104,489.4L1105.3,489.4L1109.4,487.9L1113.5,489L1117.6,487.2L1118.9,487.3L1123,488.9L1127.1,487.8L1131.1,489.3L1135.2,487.7L1136.6,487.5L1140.6,489.1L1144.7,488.2L1148.8,490.2L1150.1,490.4L1154.2,489.1L1158.3,490.5L1162.3,489.2L1167.8,491L1171.8,489.6L1174.5,490.3L1175.9,492.6L1180,490.3L1181.3,490L1185.4,491.6L1189.5,490.7L1193.5,492L1194.9,491.7L1199,488.4L1203,487.5L1207.1,485.2L1208.5,485.2L1211.2,486.5L1212.5,486.6L1216.6,483.5L1224.8,481.4L1226.1,482.1L1230.2,487.2L1231.5,488L1234.3,488.7L1238.3,490.9L1239.7,490.9L1243.8,488.4L1247.8,488.9L1251.9,487.3L1253.3,487.2L1257.3,488.6L1261.4,488.5L1266.8,491L1269.5,490.9L1275,494.2L1276.3,493.8L1280.4,490.3L1283.1,489.2L1284.5,486.4L1287.2,484.1L1288.5,483.7L1289.9,484.3L1294,487.8L1298,488.7L1300.8,490.6L1302.1,491L1306.2,489.5L1307.5,489.7L1311.6,491.8L1315.7,492.5L1319.7,495.7L1321.1,495.7L1323.8,494.6L1325.2,494.5L1329.2,495.4L1333.3,494.5L1337.4,497.1L1338.7,497.4L1342.8,496.3L1346.9,496.7L1351,493.9L1352.3,493.7L1356.4,494.9L1360.5,493.8L1364.5,494.7L1370,490.8L1374,490.9L1375.4,490.4"/>
<path id="ce14" d="M877.7,385.5L880.4,389.5L883.1,400.2L891.3,469.7L892.6,477.7L895,478.1L896.4,476.3L900.4,472.7L901.8,472L903.1,472L904.5,473L908.6,478.7L909.9,479.4L914,479L918.1,482.3L922.1,484.6L926.2,489L927.6,489.6L931.6,488.8L935.7,489.3L939.8,485.9L941.1,485.3L945.2,485.4L949.3,484.1L953.4,485.6L958.8,482.7L966.9,486L971,489.8L972.4,490.2L976.4,488.2L980.5,486.9L984.6,482.7L985.9,482.4L990,484.2L994.1,483.2L998.1,483L1002.2,479.1L1003.6,478.4L1007.6,479.5L1011.7,479.2L1015.8,481.3L1017.1,481.3L1021.2,478.7L1022.6,478.7L1029.4,480.4L1034.8,486.3L1038.8,486.6L1042.9,488.5L1048.3,487.7L1052.4,490.1L1056.5,489.4L1060.6,490.7L1061.9,490.6L1066,488.3L1070.1,489.2L1074.1,487.7L1075.5,487.8L1079.6,489.3L1083.6,487.5L1087.7,488.2L1093.1,486.5L1097.2,488.2L1101.3,487L1106.7,488.2L1110.8,486.6L1114.8,488.4L1120.3,487.9L1124.3,489.8L1128.4,488.3L1133.8,489.8L1137.9,488.7L1142,490.6L1147.4,489.3L1151.5,490.3L1155.6,488.7L1159.6,490.2L1161,490.3L1165.1,488.8L1169.1,489.3L1173.2,486.2L1174.5,485.7L1177.3,487.5L1182.7,487.4L1186.8,489.7L1188.1,489.6L1192.2,487.7L1196.3,488.6L1200.3,487.8L1204.4,490.3L1205.8,490.5L1209.8,489L1213.9,488.6L1218,485.4L1219.3,485.2L1223.4,488L1227.5,488.8L1231.5,490.7L1232.9,490.1L1237,486.9L1241,487.2L1245.1,485.7L1249.2,486L1250.5,485.4L1254.6,481.3L1256,480.9L1262.8,483.1L1268.2,489.4L1276.3,492L1277.7,491.3L1280.4,488.6L1281.8,487.8L1283.1,487.9L1284.5,486.8L1289.9,488.8L1294,492.3L1295.3,492.8L1299.4,491.4L1303.5,493L1307.5,492.8L1313,495.5L1317,493.6L1321.1,493.3L1325.2,490.8L1326.5,490.6L1330.6,492.8L1332,492.9L1334.7,492.2L1338.7,493.1L1340.1,492.8L1344.2,490.2L1345.5,490.4L1348.2,491.8L1353.7,492.5L1356.4,494.4L1357.7,494.8L1361.8,493L1367.2,493.5L1370,492.6L1371.3,492.7L1375.4,495.2"/>
<path id="ce15" d="M877.8,385.5L880.5,389.5L883.3,400.2L891.4,469.7L892.8,477.7L893.7,473.2L895,474L896.4,474.1L899.1,472.6L903.1,473.5L904.5,472.5L907.2,469.1L908.6,468.1L909.9,468L912.6,470L915.4,473.2L920.8,484.9L922.1,486.5L926.2,487.5L928.9,488.8L930.3,488.9L934.4,486.7L939.8,487.6L943.9,486.1L947.9,486.6L952,482.8L953.4,482L954.7,481.9L960.1,482.9L961.5,483.7L965.6,488.3L966.9,488.8L971,487.6L973.7,487.6L975.1,487.2L979.1,483.4L980.5,483L984.6,484L988.6,482.3L992.7,481.2L996.8,476.7L998.1,476L1002.2,477.8L1006.3,478.5L1010.4,480.9L1011.7,480.7L1015.8,477.6L1022.6,477.7L1023.9,478.1L1025.3,479.3L1029.4,484.2L1033.4,484.7L1037.5,486.7L1041.6,486L1042.9,486.3L1047,489.2L1051.1,488.9L1055.1,490.4L1056.5,490.3L1060.6,488.2L1064.6,489.1L1068.7,487.7L1070.1,487.7L1072.8,488.9L1074.1,489L1078.2,487.1L1082.3,488L1087.7,486.5L1091.8,488.2L1095.8,486.9L1101.3,488L1105.3,486.3L1109.4,488.1L1114.8,487.6L1118.9,489.3L1123,487.9L1127.1,489.3L1132.5,488.4L1136.6,490.3L1140.6,488.9L1146.1,489.9L1150.1,488.3L1154.2,490L1159.6,488.8L1163.7,489.9L1167.8,487.1L1169.1,486.8L1171.8,487.2L1174.5,486.4L1177.3,487.1L1181.3,489.3L1186.8,487.2L1190.8,488.1L1194.9,487.6L1199,490.7L1200.3,490.9L1204.4,489.3L1208.5,489L1212.5,485.8L1213.9,485.5L1218,486.9L1222,486.4L1226.1,488.2L1227.5,487.8L1231.5,484.9L1235.6,485.6L1239.7,485.4L1243.8,487.4L1245.1,486.9L1249.2,482.3L1250.5,481.5L1256,478.7L1257.3,478.6L1258.7,479.9L1262.8,486.1L1266.8,487.8L1270.9,490.7L1272.3,490.7L1276.3,489.4L1280.4,490.3L1283.1,489.2L1284.5,487.5L1288.5,489.9L1289.9,490.2L1294,489L1298,490.8L1302.1,490.9L1306.2,493.9L1307.5,494.4L1311.6,492.5L1315.7,492.2L1319.7,489.7L1321.1,489.6L1325.2,491.9L1329.2,491.3L1333.3,492.2L1334.7,491.9L1338.7,489.4L1340.1,489.7L1342.8,491.2L1346.9,491.5L1351,494.1L1352.3,494.4L1356.4,492.6L1360.5,493.3L1364.5,492.4L1365.9,492.6L1370,495.1L1375.4,493.6"/>
<path id="ce16" d="M878,385.5L880.7,389.5L883.4,400.2L891.5,469.7L892.9,477.7L893.7,467.4L895,467.5L896.4,465.2L899.1,459.3L903.1,447.9L904.5,445.6L905.9,445.6L907.2,448.2L915.4,476.7L918.1,483.5L919.4,485.2L923.5,486.5L927.6,489.3L931.6,489.1L935.7,491.2L937.1,491.5L941.1,489.2L945.2,487.9L949.3,483.4L950.6,482.6L954.7,483.7L958.8,482.8L962.9,483.3L968.3,479.8L972.4,481.1L976.4,480.3L980.5,480.8L981.9,480.4L985.9,475.4L987.3,474.3L992.7,473.4L994.1,473.7L995.4,474.8L999.5,480.7L1000.9,481.5L1003.6,481.5L1007.6,482.4L1013.1,480L1018.5,483.3L1022.6,483.9L1025.3,485.4L1026.6,485.5L1030.7,483.1L1032.1,483L1036.1,484.8L1040.2,485.2L1044.3,487.9L1049.7,486.5L1053.8,487.3L1057.8,486L1061.9,488L1063.3,488.1L1067.3,486.9L1071.4,487.8L1075.5,485.9L1076.8,486.1L1080.9,488.1L1085,487.5L1089.1,489.1L1094.5,487.3L1098.6,488.5L1102.6,487.3L1106.7,489L1108.1,489L1112.1,487.6L1116.2,488.7L1120.3,487L1125.7,488.8L1129.8,487.6L1133.8,488.9L1137.9,487.2L1139.3,487L1143.3,488.5L1147.4,487.7L1151.5,489.5L1152.8,489.6L1156.9,488.1L1161,489.4L1165.1,488.1L1166.4,488.1L1170.5,489.6L1174.5,488L1175.9,489.9L1178.6,490.5L1182.7,488.5L1184,488.4L1188.1,490.4L1192.2,489.8L1196.3,491L1197.6,490.5L1201.7,486.6L1203,486.1L1205.8,485.7L1209.8,483.6L1213.9,484.4L1215.3,484.1L1219.3,480.3L1220.7,479.7L1227.5,478.6L1228.8,479.3L1232.9,484L1234.3,484.7L1237,485L1241,486.5L1242.4,486.2L1246.5,483.1L1247.8,483L1250.5,484L1254.6,483.5L1256,483.9L1260,487.6L1265.5,488.2L1269.5,490.6L1272.3,490.6L1276.3,492.7L1277.7,492.8L1283.1,488L1284.5,485.8L1287.2,485L1289.9,483.4L1291.3,483.3L1295.3,486.7L1296.7,487.4L1300.8,487.7L1303.5,489.1L1304.8,489.2L1308.9,486.9L1310.2,486.9L1314.3,489L1318.4,489.8L1322.5,492.8L1323.8,492.8L1326.5,491.5L1327.9,491.3L1332,492.4L1336,492.1L1340.1,495.3L1341.5,495.6L1345.5,494.5L1349.6,495L1353.7,492.4L1355,492.4L1359.1,494L1363.2,493L1367.2,493.5L1372.7,489.3L1375.4,489.4"/>
<path id="ce17" d="M878.1,385.5L880.8,389.5L883.5,400.2L891.7,469.7L893,477.7L893.7,469.9L895,471.9L900.4,474L901.8,473.2L905.9,467.8L907.2,467.3L909.9,469L912.6,472.5L918.1,484.4L919.4,486.4L920.8,487.2L923.5,487.3L927.6,488.5L933,486.2L937.1,487.3L938.4,486.8L941.1,485L945.2,483.6L946.6,482.2L950.6,475.8L952,474.8L953.4,474.5L957.4,475.1L958.8,475.9L964.2,482.8L965.6,483.2L968.3,482.8L972.4,484L976.4,482.6L977.8,482.6L981.9,485.1L983.2,485.1L985.9,483.9L990,483.1L995.4,478.2L996.8,478.4L1000.9,480.6L1003.6,480.5L1007.6,481.6L1009,481.3L1014.4,475.6L1021.2,474.3L1022.6,474.9L1026.6,479L1028,479.4L1032.1,479.2L1036.1,481.2L1038.8,481.3L1040.2,481.8L1044.3,486.1L1045.6,486.9L1049.7,487.3L1053.8,489.1L1057.8,487.5L1063.3,489.1L1067.3,488.2L1071.4,489.7L1076.8,487.4L1080.9,488.4L1085,487L1089.1,488.5L1090.4,488.4L1094.5,486.7L1098.6,487.5L1102.6,485.5L1104,485.6L1108.1,487.2L1112.1,486.3L1116.2,487.9L1120.3,486.4L1121.6,486.4L1125.7,488.1L1129.8,487.4L1133.8,489.5L1135.2,489.6L1139.3,488.3L1143.3,489.7L1147.4,488.4L1152.8,490.5L1156.9,489.2L1161,490.3L1162.3,489.9L1166.4,487.7L1170.5,488.2L1174.5,486.1L1175.9,487.3L1178.6,488.2L1180,487.8L1184,484.7L1185.4,484.5L1188.1,484.9L1192.2,483.9L1197.6,487.1L1201.7,485.2L1205.8,484.6L1209.8,482.2L1211.2,482.2L1215.3,484.8L1219.3,484.6L1223.4,486.3L1224.8,486.4L1228.8,484.7L1232.9,487L1237,487.6L1241,489.7L1242.4,489.6L1243.8,488.5L1247.8,483.6L1254.6,478.7L1256,478.6L1261.4,483.7L1265.5,484.4L1268.2,485.8L1269.5,485.9L1273.6,485L1277.7,487.4L1279,487.4L1283.1,485.9L1284.5,484L1287.2,485L1291.3,483.9L1292.6,484.5L1296.7,487.8L1300.8,489.5L1304.8,493.5L1306.2,493.6L1310.2,492.3L1314.3,492.6L1318.4,491.2L1322.5,493.6L1323.8,493.8L1327.9,492.4L1332,492.3L1336,489.1L1337.4,488.9L1341.5,490.4L1345.5,489.9L1349.6,491.4L1355,488.3L1359.1,489.1L1363.2,488.8L1367.2,491.8L1368.6,492.1L1372.7,490.7L1375.4,491.1"/>
<path id="ce18" d="M878.2,385.5L880.9,389.5L883.7,400.2L891.8,469.7L893.2,477.7L893.7,462.5L899.1,451.8L900.4,449.8L901.8,448.9L903.1,449.3L907.2,453.9L909.9,455.2L911.3,456.5L912.6,458.9L916.7,469.7L922.1,482.2L924.9,486.8L926.2,487.6L928.9,487.6L933,488.9L934.4,488.7L938.4,486.2L942.5,487.1L946.6,485.5L950.6,485.4L952,484.7L956.1,480L957.4,479.3L964.2,480.7L969.6,484.8L971,484.5L977.8,479.3L981.9,473.9L983.2,472.8L984.6,472.7L988.6,474.3L992.7,473.5L996.8,473.7L1000.9,471.8L1002.2,472.5L1006.3,476.5L1010.4,478.1L1013.1,480.1L1014.4,480.5L1015.8,480.1L1018.5,478.2L1019.9,477.9L1028,480.7L1032.1,485.1L1033.4,485.6L1037.5,485L1041.6,486.2L1045.6,485.1L1051.1,488L1055.1,487.2L1059.2,488.2L1063.3,485.8L1064.6,485.6L1068.7,486.7L1072.8,485.6L1076.8,487.4L1078.2,487.5L1082.3,486.1L1086.3,487.4L1090.4,486.1L1095.8,488.2L1099.9,486.9L1104,488.1L1108.1,486.6L1109.4,486.6L1113.5,488.4L1117.6,487.5L1121.6,489L1123,488.9L1127.1,487.2L1131.1,488.5L1135.2,487.3L1136.6,487.5L1139.3,488.9L1140.6,489.1L1144.7,487.4L1148.8,488.4L1152.8,487.1L1154.2,487.1L1158.3,489L1162.3,487.9L1166.4,488.6L1167.8,488.2L1171.8,485.4L1174.5,486L1175.9,487.4L1180,487.5L1184,489.6L1185.4,489.8L1189.5,487.5L1190.8,487.4L1193.5,488.2L1199,487.4L1203,489.2L1204.4,488.6L1208.5,485.5L1211.2,484.5L1216.6,479.1L1218,479.1L1220.7,480.4L1224.8,480.5L1228.8,481.8L1230.2,481.6L1234.3,478.3L1235.6,478.3L1239.7,480.6L1242.4,481.2L1246.5,483.2L1247.8,483.3L1253.3,479L1257.3,479.8L1260,481L1261.4,482.3L1265.5,488.2L1266.8,489.3L1270.9,490.1L1273.6,491.4L1275,491.4L1279,488.1L1280.4,487.6L1283.1,488L1284.5,486L1288.5,485.7L1292.6,487.8L1298,485.1L1302.1,486.6L1306.2,486.8L1310.2,489.6L1311.6,489.6L1315.7,487.4L1319.7,487.5L1323.8,486.4L1329.2,490.5L1333.3,490.4L1337.4,491.7L1341.5,489.9L1342.8,489.9L1346.9,492.4L1351,492.6L1355,494.6L1356.4,494.4L1360.5,491.7L1364.5,492L1368.6,490.6L1372.7,492.3L1374,492.4L1375.4,491.7"/>
<path id="ce19" d="M878.4,385.5L881.1,389.5L883.8,400.2L891.9,469.7L893.3,477.7L893.7,466.9L895,465.5L896.4,462.3L901.8,441L903.1,438.2L904.5,437.1L905.9,437.6L907.2,440.2L914,466.2L919.4,477.2L922.1,481.2L926.2,483.6L930.3,487.8L931.6,488.2L934.4,487.7L938.4,488.5L939.8,488.1L943.9,483.8L945.2,483L947.9,482.6L952,481L953.4,481.2L956.1,482.8L957.4,483.1L962.9,479.8L966.9,480.2L969.6,479.6L971,479.8L975.1,482.1L976.4,481.8L983.2,475.3L988.6,467.4L990,467.2L1000.9,475.6L1002.2,476.1L1003.6,475.8L1006.3,474L1007.6,473.8L1015.8,476.2L1019.9,480.4L1021.2,480.8L1025.3,479.8L1029.4,481.1L1033.4,481L1038.8,485.9L1042.9,485.9L1047,487.4L1051.1,485.6L1052.4,485.6L1056.5,487.3L1060.6,486.4L1064.6,487.7L1066,487.4L1070.1,485.1L1074.1,485.9L1078.2,485.1L1082.3,487.4L1083.6,487.7L1087.7,486.4L1091.8,487.4L1095.8,485.9L1097.2,486L1101.3,487.9L1105.3,486.9L1109.4,488.3L1110.8,488.2L1114.8,486.6L1118.9,488.2L1123,487.2L1128.4,489L1132.5,487.3L1136.6,488.2L1140.6,486.9L1142,486.9L1146.1,488.8L1150.1,487.5L1154.2,488.5L1159.6,486.8L1163.7,488.6L1167.8,486.8L1169.1,486.8L1171.8,487.5L1173.2,487.3L1174.5,486.4L1177.3,485.5L1178.6,485.6L1181.3,486.7L1185.4,486.5L1186.8,486.9L1190.8,489.6L1192.2,489.3L1194.9,487.9L1199,487.7L1204.4,484.3L1208.5,485.7L1209.8,485.5L1213.9,483L1216.6,482L1220.7,477.5L1222,476.3L1223.4,476.2L1227.5,478.5L1231.5,479.7L1234.3,481.7L1235.6,482.1L1241,479L1245.1,479.1L1247.8,478.1L1249.2,478.1L1253.3,480.6L1257.3,480.1L1258.7,480.6L1262.8,484.2L1266.8,484.8L1270.9,489.4L1272.3,490.4L1273.6,490.7L1279,490.5L1280.4,489.9L1283.1,486.9L1284.5,483.2L1285.8,482.6L1289.9,484.3L1294,485.2L1298,488.2L1299.4,488.2L1303.5,486L1307.5,486.3L1311.6,485.1L1317,488.5L1321.1,487.6L1325.2,488.3L1329.2,486.3L1330.6,486.5L1334.7,489.6L1338.7,490.4L1342.8,492.6L1344.2,492.4L1348.2,490.3L1352.3,491.7L1356.4,491.3L1360.5,493.6L1361.8,493.8L1365.9,491.4L1370,491L1374,488.4L1375.4,488.2"/>
<path id="ce20" d="M878.5,385.5L881.2,389.5L883.9,400.2L892.1,469.7L893.4,477.7L893.7,469.9L895,469.6L897.7,464.2L901.8,453.9L903.1,452L904.5,452.1L905.9,454.3L909.9,465.5L916.7,477.4L918.1,478.7L922.1,480.4L926.2,484.8L927.6,485.5L931.6,485.7L934.4,486.9L935.7,486.9L941.1,481.5L943.9,480.5L945.2,479.2L949.3,474L950.6,474.2L953.4,475.8L954.7,475.9L958.8,475.1L962.9,476.6L965.6,476.5L966.9,477.1L971,482L972.4,483L979.1,483.5L980.5,482.9L985.9,476L992.7,475.3L994.1,475.8L998.1,478.6L999.5,478.4L1003.6,475.2L1007.6,473.9L1011.7,471.3L1013.1,471.7L1015.8,473.7L1017.1,474.1L1021.2,473.2L1025.3,473.9L1029.4,473.5L1032.1,475.5L1034.8,478.9L1038.8,481.6L1042.9,485.4L1044.3,485.7L1048.3,485L1052.4,487.1L1056.5,486.8L1060.6,489L1061.9,489.1L1066,487.4L1070.1,487.9L1074.1,485.9L1075.5,485.9L1079.6,487.8L1083.6,486.7L1087.7,487.6L1093.1,485.3L1097.2,486.6L1101.3,485.3L1105.3,486.8L1106.7,486.9L1110.8,485.2L1114.8,486.6L1118.9,485.7L1120.3,485.9L1124.3,488.2L1128.4,487.2L1132.5,488.5L1133.8,488.5L1136.6,487.3L1137.9,487.2L1142,489.2L1146.1,488.3L1151.5,489.7L1155.6,487.8L1159.6,489L1165.1,487.5L1169.1,488.1L1174.5,484.1L1178.6,484.3L1182.7,482.6L1184,482.9L1186.8,484.5L1188.1,484.7L1192.2,483.7L1194.9,484.2L1196.3,484L1200.3,481.2L1201.7,481.3L1205.8,483.1L1208.5,482.9L1212.5,484.3L1213.9,484.2L1218,480.6L1219.3,480L1226.1,481.6L1227.5,482.3L1231.5,486.3L1232.9,486.4L1237,484.3L1241,483.2L1245.1,479.7L1250.5,480L1253.3,478.2L1256,477.6L1258.7,478.3L1261.4,478.1L1262.8,478.6L1266.8,482.1L1270.9,483.7L1276.3,487.5L1277.7,487.1L1281.8,483.4L1283.1,483.2L1284.5,480.1L1288.5,480.6L1289.9,481.3L1294,486.7L1295.3,487.8L1299.4,488L1303.5,489.5L1307.5,488.1L1308.9,488.4L1313,491L1317,490.6L1321.1,491.5L1326.5,487.5L1330.6,488.1L1334.7,487.4L1338.7,489.5L1340.1,489.5L1344.2,486.9L1345.5,486.7L1348.2,487.6L1352.3,486.2L1353.7,486.1L1357.7,489.2L1361.8,488.7L1365.9,489.6L1370,487.6L1371.3,487.4L1375.4,489.7"/>
<path id="ce21" d="M878.6,385.5L881.3,389.5L884.1,400.2L892.2,469.7L893.6,477.7L893.7,466L896.4,467.9L897.7,466.4L903.1,455.6L905.9,451.7L907.2,450.8L908.6,451.5L909.9,454.1L915.4,472.1L920.8,481.7L922.1,483.2L923.5,483.9L926.2,483.3L927.6,483.5L931.6,486L933,485.8L935.7,484.2L937.1,483.9L939.8,484.3L941.1,483.7L945.2,477.8L949.3,475L953.4,470.4L954.7,469.8L960.1,476L962.9,477L966.9,479.7L968.3,479.9L972.4,478.9L976.4,481.1L977.8,481.3L980.5,480.4L984.6,480.3L985.9,479.4L990,473.8L991.4,472.8L998.1,472.8L1003.6,476.8L1004.9,476.5L1010.4,472.6L1013.1,472.6L1017.1,470.7L1026.6,473.7L1030.7,476.1L1034.8,476.4L1040.2,481.7L1044.3,483.8L1048.3,487.1L1049.7,487.1L1052.4,486.1L1053.8,486.1L1057.8,487.6L1061.9,486.6L1066,488.5L1067.3,488.5L1071.4,486.7L1075.5,487.2L1079.6,485.5L1085,487.5L1089.1,486L1093.1,487L1097.2,485.2L1098.6,485.2L1102.6,486.5L1106.7,485L1110.8,486.8L1112.1,486.9L1116.2,485.5L1120.3,486.9L1124.3,485.9L1129.8,488.4L1133.8,487.4L1137.9,488.8L1142,487.3L1143.3,487.3L1147.4,489.1L1151.5,488.1L1155.6,489.5L1156.9,489.4L1161,487.4L1165.1,488.1L1169.1,485.5L1170.5,485.3L1173.2,485.9L1175.9,485.2L1178.6,483.3L1180,483.1L1182.7,484L1188.1,482.1L1193.5,483.7L1196.3,483.3L1200.3,483.9L1201.7,483.3L1205.8,479.9L1207.1,480L1211.2,481.5L1213.9,481.2L1215.3,481.5L1218,482.9L1219.3,482.9L1223.4,480.3L1224.8,480.2L1228.8,481.4L1231.5,481.2L1232.9,481.7L1237,485.1L1238.3,485.1L1245.1,481.3L1249.2,476.4L1250.5,475.6L1251.9,475.5L1258.7,476.7L1262.8,480.5L1264.1,481.1L1268.2,481.5L1272.3,484.6L1273.6,484.9L1276.3,484.2L1281.8,485.7L1283.1,485L1284.5,481.1L1285.8,480.3L1287.2,480.2L1291.3,482.2L1294,482.6L1295.3,483.4L1299.4,488.2L1300.8,489L1304.8,489.2L1307.5,490.2L1308.9,490.1L1313,487.5L1314.3,487.6L1318.4,489.6L1322.5,489.1L1326.5,490.1L1332,486L1336,487.5L1340.1,486.1L1341.5,486.4L1344.2,488.3L1345.5,488.4L1349.6,486.4L1353.7,487.6L1357.7,486L1359.1,486L1363.2,488.9L1367.2,488.7L1371.3,489.8L1375.4,487.4"/>
<path id="ce22" d="M878.8,385.5L881.5,389.5L884.2,400.2L892.3,469.7L893.7,477.7L893.7,460.1L896.4,455.7L900.4,443.2L901.8,441.6L903.1,442.5L904.5,445.5L912.6,469.8L915.4,475.1L919.4,478.3L923.5,483.7L924.9,484.8L928.9,485.9L931.6,487.6L933,487.9L934.4,487.2L938.4,483.6L941.1,482.8L942.5,481.7L946.6,476.4L950.6,473.8L954.7,469.7L956.1,469.1L960.1,470.7L964.2,471.4L968.3,475.3L976.4,479.7L977.8,479.6L979.1,478.6L981.9,475L984.6,473.2L990,472.8L991.4,473.5L995.4,478.1L996.8,478.5L1000.9,476.8L1004.9,476.2L1009,473.2L1010.4,473.3L1013.1,474.7L1014.4,475L1018.5,473.5L1021.2,473.6L1023.9,472.6L1026.6,472.3L1028,472.9L1032.1,476.3L1036.1,477.2L1040.2,481L1041.6,481.6L1044.3,481.5L1045.6,481.9L1049.7,484.7L1053.8,484.2L1057.8,487.1L1059.2,487.5L1063.3,486.5L1067.3,487.5L1071.4,485.6L1072.8,485.6L1076.8,487.6L1080.9,486.7L1085,488.2L1086.3,487.9L1090.4,485.8L1094.5,486.8L1098.6,485.3L1102.6,486.7L1104,486.8L1108.1,485L1112.1,486.5L1116.2,485.3L1117.6,485.3L1121.6,486.9L1125.7,485.8L1129.8,487.2L1135.2,486L1139.3,487.9L1143.3,487.3L1148.8,489.3L1152.8,487.7L1156.9,489L1161,487.9L1166.4,489.1L1170.5,486.4L1175.9,485L1178.6,483.2L1180,482.8L1184,484L1189.5,482.6L1193.5,483L1197.6,481.1L1201.7,481.5L1207.1,478.2L1209.8,479.7L1211.2,479.9L1212.5,479.1L1215.3,476.5L1218,475.6L1223.4,475.9L1224.8,476.9L1228.8,482.6L1230.2,483.5L1234.3,483.4L1237,484L1238.3,483.7L1242.4,481.1L1246.5,482.2L1247.8,482.1L1251.9,479.8L1256,479.2L1260,477L1261.4,477.7L1264.1,480.7L1265.5,481.5L1269.5,482.1L1273.6,485.2L1275,485.2L1279,482.9L1283.1,482.6L1284.5,478.2L1287.2,477.2L1288.5,477.7L1292.6,481.3L1296.7,482.9L1299.4,484.7L1300.8,485.2L1304.8,484.4L1306.2,484.9L1310.2,488.4L1314.3,489.2L1318.4,491.5L1319.7,491.2L1323.8,488.6L1327.9,489L1332,488.1L1336,490.3L1337.4,490.4L1341.5,487.9L1346.9,487.5L1349.6,486.2L1351,486.2L1355,487.5L1359.1,485.9L1363.2,487.1L1364.5,487L1368.6,485.4L1372.7,486.6L1375.4,485.5"/>
<path id="ce23" d="M878.9,385.5L881.6,389.5L884.3,400.2L892.5,469.7L893.8,477.7L893.7,454.3L901.8,440L903.1,438.7L905.9,437.9L907.2,438.6L908.6,440.8L909.9,445L914,464.3L916.7,474L920.8,482.9L922.1,484.9L923.5,486L927.6,485.3L931.6,486.7L933,486.7L937.1,485.1L939.8,485.5L941.1,485.1L942.5,483.6L946.6,476.9L950.6,473.8L954.7,469.5L956.1,469.4L958.8,470.4L962.9,470.6L968.3,475.4L969.6,475.6L972.4,475.2L976.4,475.8L977.8,475L980.5,472L985.9,473.1L990,469.7L991.4,469.2L998.1,472.2L1003.6,478.4L1004.9,478.9L1011.7,476.2L1015.8,472.5L1017.1,471.7L1018.5,471.7L1022.6,474.4L1026.6,474.4L1029.4,475.6L1034.8,476.4L1040.2,480.9L1044.3,481.3L1048.3,484.3L1049.7,484.6L1053.8,484.2L1057.8,486.1L1061.9,484.8L1063.3,484.9L1067.3,486.9L1071.4,485.7L1075.5,486.9L1079.6,485.5L1080.9,485.7L1085,487.8L1089.1,486.6L1093.1,487.8L1094.5,487.6L1098.6,485.5L1102.6,486.5L1106.7,485.1L1112.1,486.7L1116.2,485.2L1120.3,486.8L1125.7,485.6L1129.8,487.2L1133.8,485.9L1137.9,487.5L1139.3,487.5L1143.3,486.3L1147.4,488L1151.5,487.3L1152.8,487.5L1155.6,489L1156.9,489.2L1161,487.6L1165.1,488.4L1170.5,486L1175.9,487.3L1178.6,485.6L1182.7,484.9L1188.1,482.1L1192.2,483.2L1197.6,481.3L1201.7,481.5L1205.8,478.6L1209.8,478.7L1211.2,478.2L1215.3,475.2L1219.3,475.6L1223.4,474.1L1228.8,477L1231.5,476.5L1232.9,477.1L1237,482.6L1238.3,483.4L1245.1,482.9L1246.5,482.1L1250.5,477.7L1251.9,477.3L1258.7,479.3L1262.8,483L1264.1,483.6L1268.2,481.7L1273.6,485L1277.7,483.3L1281.8,483.1L1283.1,482.5L1284.5,477.8L1285.8,477.2L1287.2,477.2L1291.3,480L1295.3,480.1L1299.4,482.8L1304.8,484L1308.9,486.1L1313,484.6L1314.3,484.7L1318.4,487.7L1322.5,488.6L1326.5,491.1L1327.9,490.9L1332,488.4L1336,488.8L1340.1,487.8L1344.2,490L1345.5,490.1L1349.6,487.7L1352.3,487.2L1355,487.3L1357.7,486L1359.1,486L1363.2,487.2L1367.2,485.5L1371.3,486.6L1372.7,486.5L1375.4,485.1"/>
<clipPath id="clip-h"><rect x="844.1" y="703.6" width="545.4" height="187.5"/></clipPath>
<path id="ch0" d="M884.9,722L887.6,726L890.3,736.6L893,759.1L898.5,813.3L899.8,821.8L904,832.9L905.4,834.4L908.1,835.4L916.2,837.1L965.1,837.2L967.8,837L973.2,834.7L975.9,834.6L985.4,835.1L1008.5,835.2L1020.7,836.9L1031.6,837L1060.1,836.3L1075,836.5L1080.4,834.3L1096.7,834.6L1117.1,835.7L1125.2,835.2L1134.7,835.8L1145.6,834.8L1157.8,834.7L1170,836.3L1191.7,834.2L1193,834.5L1198.5,837.7L1199.8,837.9L1203.9,837.1L1212,833.5L1216.1,833L1218.8,833.7L1225.6,836.6L1250,837.7L1284,837.9L1296.2,837.4L1305.7,837.9L1350.5,837.9L1384.4,836.1"/>
<path id="ch1" d="M885.2,722L887.9,726L890.6,736.6L893.3,759.1L898.7,813.3L900.1,821.8L902.7,828.3L905.4,832.2L913.5,836.5L917.6,837L925.7,836.7L932.5,837.3L948.8,836.9L959.6,837.2L966.4,836.5L971.9,834.8L974.6,834.4L1008.5,835.2L1020.7,836.9L1027.5,837L1045.1,836.7L1054.6,836L1065.5,836.4L1075,836L1080.4,834.1L1111.6,835.4L1119.8,835L1127.9,835.6L1140.1,834.3L1149.6,834.8L1157.8,834.3L1170,836.3L1191.7,834.3L1193,834.5L1198.5,837.5L1199.8,837.7L1202.5,837.1L1212,833.7L1216.1,832.9L1218.8,833.4L1227,836.3L1235.1,837.2L1252.8,837.8L1278.5,837.9L1289.4,837.2L1300.3,837.6L1309.8,837.2L1320.6,837.9L1347.7,838L1364,837.4L1376.2,836.1L1384.4,836.1"/>
<path id="ch2" d="M885.4,722L888.1,726L890.9,736.6L893.6,759.1L899,813.3L900.4,821.8L902.7,828.4L904,830.6L906.7,832.5L913.5,834.6L917.6,834.6L925.7,832.9L928.4,833.3L936.6,836L947.4,836.2L959.6,837.4L967.8,836.9L973.2,835L981.4,835L992.2,834.2L1000.4,834.5L1009.9,834.2L1023.4,836.8L1043.8,837L1064.1,836.5L1075,835.3L1080.4,833.2L1087.2,833.5L1095.3,833.1L1108.9,835L1118.4,835.2L1127.9,836.1L1141.5,834.9L1149.6,834.7L1157.8,833.5L1161.8,833.8L1170,835.6L1183.5,834L1191.7,834.1L1193,834.4L1198.5,837.5L1199.8,837.8L1203.9,837L1212,834L1216.1,833.3L1218.8,833.7L1224.3,835.8L1227,836.4L1236.5,836.9L1247.3,836.4L1256.8,837.3L1267.7,837.2L1278.5,837.9L1300.3,837.9L1311.1,837.2L1320.6,837.4L1331.5,836.7L1342.3,837.5L1361.3,837.6L1384.4,836.4"/>
<path id="ch3" d="M885.7,722L888.4,726L891.1,736.6L893.8,759.1L899.3,813.3L900.6,821.8L904,831.6L906.7,833.3L913.5,835.1L918.9,835.3L927.1,832.6L929.8,832.4L937.9,834.4L948.8,834.3L958.3,836.4L962.4,836.7L967.8,836.5L973.2,834.7L982.7,835L1011.2,834.1L1023.4,836L1034.3,835.7L1045.1,836.6L1066.8,836.5L1075,835.8L1080.4,833.3L1088.6,833.4L1099.4,832.3L1110.3,833.8L1119.8,833.8L1127.9,835.3L1132,835.7L1141.5,834.8L1151,834.8L1159.1,833.9L1168.6,835.3L1172.7,835.3L1183.5,833.2L1189,833L1193,833.6L1197.1,836.2L1199.8,837.1L1202.5,836.7L1212,833.6L1216.1,833.1L1218.8,833.7L1225.6,836.3L1236.5,837.1L1248.7,836.5L1259.5,836.9L1269,836.3L1279.9,837.3L1290.8,837.2L1303,837.8L1312.5,837.4L1323.3,837.5L1334.2,836.5L1345,837L1355.9,836.4L1365.4,836.9L1376.2,836.2L1384.4,836.3"/>
<path id="ch4" d="M886,722L888.7,726L891.4,736.6L894.1,759.1L899.5,813.3L900.9,821.8L902.7,827.8L904,826.9L906.7,830.4L909.4,832.3L912.1,833.5L914.9,833.7L921.6,833.1L929.8,835.6L933.9,836.2L943.4,835L955.6,835.9L963.7,834.9L967.8,834.8L973.2,833.6L985.4,833.2L997.6,834.4L1008.5,834.3L1018,836.2L1022.1,836.5L1030.2,835.9L1039.7,836L1050.6,834.9L1061.4,835.4L1070.9,834.8L1075,835L1080.4,833.5L1094,833.3L1104.8,834.3L1115.7,833.3L1125.2,834L1136.1,832.3L1145.6,833.5L1157.8,832.9L1168.6,835.8L1191.7,833.6L1193,833.8L1198.5,836.3L1199.8,836.5L1205.3,835.4L1214.8,831.8L1217.5,831.6L1220.2,832.4L1225.6,835.1L1228.3,835.7L1241.9,836.3L1254.1,837.4L1263.6,837L1274.5,837.3L1285.3,836.3L1296.2,836.6L1305.7,835.9L1316.5,837L1327.4,836.8L1339.6,837.6L1349.1,837L1358.6,837L1370.8,835.3L1384.4,835"/>
<path id="ch5" d="M886.2,722L888.9,726L891.7,736.6L894.4,759.1L899.8,813.3L901.2,821.8L902.7,828.3L904,830.8L905.4,832.1L906.7,832.4L914.9,831.2L921.6,832.4L924.4,832.4L933.9,829.7L936.6,830.1L944.7,833.2L955.6,833.7L966.4,836.2L974.6,833.8L988.1,834.5L1000.4,833.4L1018,834.1L1030.2,835.4L1041.1,835.1L1051.9,836.1L1062.8,835.5L1072.3,835.7L1075,835.5L1079.1,833.1L1081.8,832.3L1085.8,831.9L1095.3,832.2L1104.8,830.9L1115.7,832.9L1126.6,833L1137.4,834.7L1149.6,833.4L1167.3,834L1176.8,833.9L1187.6,832L1191.7,831.8L1193,832.2L1197.1,835.3L1199.8,836.6L1203.9,835.9L1210.7,833L1214.8,832.1L1217.5,832.5L1225.6,836.1L1233.8,836L1241.9,836.5L1254.1,835.5L1265,836.1L1274.5,835.6L1286.7,836.8L1296.2,836.6L1308.4,837.3L1319.2,836.5L1330.1,836.6L1339.6,835.5L1350.5,836.2L1361.3,835.5L1370.8,836.2L1384.4,835.3"/>
<path id="ch6" d="M886.5,722L889.2,726L891.9,736.6L894.6,759.1L900.1,813.3L902.7,828L904,827.8L906.7,829.7L913.5,832.2L917.6,832.2L925.7,828.8L928.4,828.6L937.9,831.2L946.1,830.7L948.8,831L956.9,834L962.4,834.8L967.8,834.6L973.2,833.3L981.4,834.1L990.9,833.5L1001.7,833.8L1011.2,832.8L1022.1,834.7L1032.9,834.1L1045.1,835.4L1054.6,835L1066.8,835.7L1075,834.6L1080.4,832.3L1087.2,832.3L1099.4,830.3L1108.9,831.4L1118.4,830.8L1130.6,833.6L1140.1,833L1151,833.7L1159.1,832.6L1170,834.4L1174.1,834.1L1183.5,831.8L1187.6,831.7L1193,832.3L1197.1,834.8L1199.8,835.5L1212,832.6L1216.1,832.1L1218.8,832.6L1225.6,835.2L1236.5,836.3L1247.3,835.4L1258.2,835.8L1267.7,834.9L1278.5,835.9L1289.4,835.7L1301.6,836.9L1311.1,836.3L1322,836.7L1332.8,835.5L1343.7,835.8L1353.2,834.8L1364,835.7L1374.9,834.9L1384.4,835.4"/>
<path id="ch7" d="M886.8,722L889.5,726L892.2,736.6L894.9,759.1L900.3,813.3L902.7,827.8L904,827.4L905.4,829.3L908.1,831L912.1,831.1L917.6,829.1L920.3,828.8L927.1,830.5L929.8,830.7L939.3,828.4L942,828.8L950.1,831.8L961,832.4L967.8,834L974.6,833L982.7,832.8L993.6,833.8L1005.8,832.7L1016.6,834L1026.1,833.5L1037,834.3L1046.5,833.8L1058.7,835.1L1068.2,834.5L1075,834.8L1080.4,832.6L1088.6,831.2L1100.8,831.1L1111.6,829.1L1122.5,831.3L1132,830.9L1141.5,833.1L1155.1,832.2L1167.3,834.2L1191.7,831L1194.4,831.7L1198.5,834.2L1201.2,834.8L1205.3,834.2L1213.4,831.1L1216.1,830.7L1218.8,831.4L1225.6,835.2L1229.7,835.7L1239.2,835.4L1250,836L1259.5,834.8L1270.4,835.3L1281.3,834.4L1292.1,835.8L1303,835.6L1313.8,836.6L1324.7,835.8L1335.5,836L1346.4,834.6L1355.9,835.1L1366.7,834L1377.6,834.9L1384.4,834.3"/>
<path id="ch8" d="M887,722L889.7,726L892.5,736.6L895.2,759.1L900.6,813.3L902.7,827L904,820.1L909.4,823L914.9,827L917.6,828.3L920.3,828.8L925.7,828.2L928.4,828.3L936.6,831.9L939.3,832.5L950.1,831.4L958.3,833.1L962.4,833.2L966.4,832.8L973.2,830.5L981.4,831.7L992.2,831.5L1003.1,833.1L1012.6,833.1L1023.4,835.2L1035.6,833.8L1046.5,834L1056,832.6L1069.6,833.4L1075,832.9L1080.4,830.8L1088.6,831.9L1099.4,830.9L1110.3,831.8L1121.1,829.5L1130.6,830.4L1141.5,829L1151,831L1160.5,831.3L1171.3,834.2L1175.4,834.1L1184.9,832.1L1191.7,832L1197.1,834.6L1199.8,835.2L1210.7,831L1216.1,830.1L1218.8,830.6L1225.6,832.8L1236.5,834.7L1248.7,834.9L1259.5,836.1L1270.4,835.2L1281.3,835.5L1292.1,834L1301.6,834.7L1312.5,834.1L1323.3,835.6L1334.2,835.3L1345,836.2L1355.9,834.9L1365.4,834.8L1376.2,832.8L1384.4,833.1"/>
<path id="ch9" d="M887.3,722L890,726L892.7,736.6L895.4,759.1L900.9,813.3L902.7,826.6L904,817.4L906.7,820.2L913.5,825.5L916.2,826.2L923,825.5L925.7,825.9L932.5,829.6L936.6,830.9L946.1,829.9L955.6,832.1L958.3,832.3L973.2,830.3L980,831.1L988.1,830.7L1000.4,832.5L1009.9,832.2L1022.1,834.7L1032.9,833.4L1043.8,833.6L1053.3,832.1L1065.5,832.9L1075,832.1L1080.4,830.7L1087.2,831.3L1096.7,830.3L1106.2,831.2L1108.9,830.9L1117.1,828.8L1127.9,829.5L1137.4,827.8L1140.1,828L1149.6,830.2L1159.1,830.2L1167.3,833.3L1170,833.8L1174.1,833.5L1182.2,832L1191.7,831.7L1198.5,834.2L1199.8,834.2L1213.4,830L1217.5,829.4L1220.2,830L1225.6,832.2L1232.4,833.8L1244.6,834.1L1256.8,835.6L1266.3,834.8L1277.2,835.2L1288,833.6L1298.9,834.2L1308.4,833.4L1319.2,834.9L1330.1,834.7L1342.3,835.7L1351.8,834.6L1362.7,834.5L1373.5,832.5L1384.4,832.7"/>
<path id="ch10" d="M887.6,722L890.3,726L893,736.6L895.7,759.1L901.1,813.3L902.5,821.8L902.7,827.1L904,821.5L906.7,824.4L910.8,825.3L913.5,824.4L918.9,820.8L921.6,820.1L924.4,820.7L931.1,823.6L937.9,823.8L946.1,826.5L951.5,829.6L954.2,830.5L962.4,831.4L967.8,832.6L984.1,831.4L996.3,831.9L1007.1,830.4L1009.9,830.5L1018,832.2L1030.2,832.2L1038.4,833.4L1049.2,833.1L1060.1,834.1L1069.6,832.7L1075,832.5L1080.4,830.3L1088.6,828.3L1096.7,827.7L1102.1,828.1L1108.9,827L1114.3,826.9L1123.8,829.8L1133.3,829.4L1144.2,831.3L1156.4,829.6L1165.9,831.8L1168.6,831.9L1182.2,830.2L1191.7,829.8L1194.4,830.5L1198.5,833L1201.2,833.5L1205.3,833.2L1214.8,830.1L1217.5,829.9L1225.6,833.8L1229.7,834.4L1240.5,833.3L1251.4,833.8L1258.2,833L1267.7,833.2L1273.1,833.8L1282.6,833.5L1294.8,835.1L1304.3,834.4L1313.8,835L1327.4,833.4L1335.5,833.8L1342.3,833.1L1351.8,833.1L1358.6,833.8L1368.1,833.1L1379,834L1384.4,833.4"/>
<path id="ch11" d="M887.8,722L890.5,726L893.3,736.6L896,759.1L901.4,813.3L902.8,821.8L902.7,826.6L904,817.7L906.7,820L910.8,821.6L913.5,821.6L918.9,819.1L923,819.7L931.1,821.7L950.1,827.7L954.2,830.1L956.9,831L967.8,831.9L973.2,831.2L978.6,831.6L988.1,830.4L997.6,830.8L1007.1,830.4L1022.1,832.2L1034.3,832.2L1041.1,833.4L1051.9,832.7L1061.4,833.4L1075,831.2L1080.4,829L1102.1,827.4L1117.1,826.9L1125.2,829.5L1127.9,829.9L1137.4,828.9L1148.3,830.1L1156.4,828.6L1170,831.2L1187.6,829.6L1191.7,829.8L1199.8,833.2L1205.3,832.6L1214.8,830.1L1217.5,829.8L1220.2,830.4L1225.6,832.7L1232.4,833.5L1240.5,832.7L1270.4,833.1L1277.2,833.8L1286.7,833.5L1297.5,834.8L1307,833.7L1317.9,834L1324.7,833.1L1354.5,833L1361.3,833.7L1370.8,832.9L1380.3,833.4L1384.4,833.2"/>
<clipPath id="clip-k"><rect x="835.1" y="1034.8" width="545.4" height="185.9"/></clipPath>
<path id="ck0" d="M875.8,1052.1L878.5,1056.1L881.3,1066.7L884,1089.2L889.4,1143.4L895,1174.4L896.4,1175.7L899.1,1166.5L900.4,1164L901.8,1164.1L904.5,1167.7L909.9,1180.8L911.3,1182.4L912.6,1181.5L918.1,1166.4L919.4,1164.8L924.9,1162.3L926.2,1162.4L930.3,1163.8L934.4,1162.4L935.7,1162.5L938.4,1163.9L942.5,1164.7L943.9,1166L945.2,1168.6L949.3,1178.2L950.6,1179.6L952,1179.9L954.7,1178L960.1,1170.4L961.5,1170.1L965.6,1174.2L966.9,1174.7L968.3,1173.9L971,1171L975.1,1169.1L980.5,1165.1L984.6,1165.4L988.6,1163.6L992.7,1163.4L996.8,1161L998.1,1160.9L1002.2,1162.8L1006.3,1162.1L1010.4,1164.2L1011.7,1164.4L1015.8,1163.2L1019.9,1164.8L1023.9,1163.5L1025.3,1163.6L1029.4,1165.1L1033.4,1163.7L1037.5,1165.3L1042.9,1164L1045.6,1165L1047,1165L1051.1,1163.1L1056.5,1165.1L1060.6,1163.6L1064.6,1164.3L1068.7,1162.1L1070.1,1162.1L1074.1,1163.9L1078.2,1163.3L1082.3,1164.9L1083.6,1164.8L1087.7,1163L1091.8,1164.4L1095.8,1163.2L1101.3,1164.6L1105.3,1163.1L1109.4,1164.6L1113.5,1163.5L1114.8,1163.6L1118.9,1165.5L1123,1164.5L1127.1,1166.4L1128.4,1166.5L1132.5,1164.7L1136.6,1166.1L1140.6,1165.3L1142,1165.5L1144.7,1166.9L1146.1,1167.1L1150.1,1165.2L1154.2,1166.3L1158.3,1165.5L1159.6,1165.8L1163.7,1168L1167.8,1166.7L1171.8,1168.1L1173.2,1168.1L1177.3,1166.8L1181.3,1168.3L1182.7,1168.1L1186.8,1165.9L1188.1,1165.8L1189.5,1168.8L1190.8,1168.2L1194.9,1164.5L1196.3,1164.2L1203,1165.7L1208.5,1171.2L1209.8,1171.1L1211.2,1170.1L1219.3,1161.3L1220.7,1160.2L1222,1160.1L1226.1,1163.6L1227.5,1164.2L1231.5,1164.2L1234.3,1165L1235.6,1164.9L1239.7,1162.4L1241,1162.2L1243.8,1163L1245.1,1162.8L1249.2,1160.7L1253.3,1161.4L1257.3,1159.9L1258.7,1160.2L1262.8,1162.6L1266.8,1162.3L1270.9,1164L1276.3,1162.4L1280.4,1163.7L1284.5,1162L1288.5,1163.2L1289.9,1163.2L1294,1161.6L1298,1162.9L1302.1,1161L1303.5,1160.9L1307.5,1162.3L1311.6,1161.4L1315.7,1163.2L1317,1163.1L1321.1,1161.7L1325.2,1163.1L1329.2,1162.1L1333.3,1163.8L1334.7,1163.9L1338.7,1162.6L1342.8,1164.1L1346.9,1162.8L1348.2,1162.7L1352.3,1164.2L1356.4,1162.8L1360.5,1164.2L1361.8,1164.2L1365.9,1162.9L1370,1164.2L1374,1162.9L1375.4,1163"/>
<path id="ck1" d="M876,1052.1L878.7,1056.1L881.4,1066.7L884.1,1089.2L889.5,1143.4L895,1176.1L896.4,1178.5L897.7,1175.8L900.4,1166.6L901.8,1164.7L903.1,1164.7L904.5,1166.2L909.9,1175.9L911.3,1177L912.6,1177.2L914,1176.2L915.4,1174L919.4,1164.6L920.8,1162.9L922.1,1162.4L924.9,1162.4L928.9,1160.8L934.4,1163.5L938.4,1162.6L939.8,1163.2L945.2,1168.9L950.6,1180.2L952,1181.2L953.4,1180.2L957.4,1172.8L958.8,1171.7L960.1,1171.4L962.9,1172L966.9,1174.1L968.3,1174.3L969.6,1173.4L973.7,1167.5L975.1,1166.8L979.1,1168.6L980.5,1168.4L987.3,1165.9L991.4,1162.1L992.7,1161.5L996.8,1162.3L1000.9,1161.1L1004.9,1163.3L1006.3,1163.5L1010.4,1161.9L1014.4,1163.1L1018.5,1162.9L1023.9,1164.9L1028,1163.6L1032.1,1165.1L1037.5,1163.8L1041.6,1165.4L1045.6,1164L1051.1,1165.5L1055.1,1163L1056.5,1163L1059.2,1164L1064.6,1163.4L1067.3,1164.6L1068.7,1164.7L1072.8,1162.4L1076.8,1162.5L1080.9,1161.2L1082.3,1161.3L1086.3,1164L1087.7,1164L1090.4,1163L1095.8,1163.8L1099.9,1162.4L1104,1164.5L1105.3,1164.4L1108.1,1163.2L1109.4,1163.2L1113.5,1164.9L1117.6,1163.9L1123,1165.9L1127.1,1165L1131.1,1166.8L1136.6,1165.5L1140.6,1166.2L1144.7,1164.6L1148.8,1166.7L1150.1,1166.8L1154.2,1165.7L1158.3,1166.7L1162.3,1164.9L1163.7,1165.1L1167.8,1167.2L1171.8,1166.5L1175.9,1168.2L1180,1166.8L1181.3,1166.7L1184,1167.7L1185.4,1167.7L1188.1,1165.5L1189.5,1167.5L1193.5,1166.6L1197.6,1163.8L1199,1163.5L1200.3,1164.2L1204.4,1167.9L1207.1,1168.9L1209.8,1170.6L1211.2,1170.9L1212.5,1170L1216.6,1163.6L1218,1162.4L1219.3,1162L1224.8,1161.3L1226.1,1161.7L1230.2,1164.7L1234.3,1163.6L1238.3,1164.5L1239.7,1164.1L1243.8,1161.2L1247.8,1161.3L1251.9,1159.4L1253.3,1159.5L1257.3,1161.3L1261.4,1160.7L1265.5,1163.3L1266.8,1163.5L1270.9,1162.5L1275,1163.9L1279,1162.3L1284.5,1163.4L1288.5,1161.8L1292.6,1163L1296.7,1161.7L1298,1161.7L1302.1,1163.1L1306.2,1161.4L1310.2,1162.2L1314.3,1160.9L1315.7,1160.8L1319.7,1162.9L1323.8,1161.8L1329.2,1163.1L1333.3,1161.5L1337.4,1163.5L1342.8,1162.7L1346.9,1164.1L1351,1162.7L1355,1164.1L1356.4,1164.2L1360.5,1162.8L1364.5,1164.3L1368.6,1162.9L1370,1163L1372.7,1164.2L1374,1164.3L1375.4,1163.7"/>
<path id="ck2" d="M876.1,1052.1L878.8,1056.1L881.5,1066.7L884.2,1089.2L889.7,1143.4L895,1174.5L896.4,1177.1L899.1,1169.5L900.4,1167.1L901.8,1167L903.1,1168.3L905.9,1172.3L909.9,1181.7L911.3,1183.3L912.6,1182.5L916.7,1170.4L918.1,1167.5L919.4,1165.9L924.9,1162.7L926.2,1162.4L930.3,1163.5L934.4,1160.8L941.1,1157.9L942.5,1158.5L943.9,1160.7L947.9,1172.9L949.3,1175.8L950.6,1177L952,1176.9L953.4,1175.7L958.8,1168.1L960.1,1167L961.5,1167.2L965.6,1173.4L966.9,1174.3L968.3,1173.8L972.4,1169.9L977.8,1167.1L979.1,1166.6L980.5,1167L983.2,1168.8L984.6,1168.7L988.6,1164.6L990,1163.9L992.7,1163.5L996.8,1161L998.1,1160.9L1002.2,1162.8L1006.3,1162.2L1010.4,1164.1L1011.7,1164.2L1015.8,1162.1L1019.9,1161.5L1023.9,1159.3L1025.3,1159.7L1029.4,1163L1033.4,1162.7L1037.5,1164L1038.8,1163.8L1042.9,1161.7L1047,1163.4L1051.1,1163.4L1055.1,1165.4L1056.5,1165.5L1060.6,1163.9L1064.6,1165.1L1070.1,1163.8L1074.1,1165.2L1078.2,1163.6L1082.3,1164.8L1083.6,1164.5L1086.3,1162.6L1087.7,1162.2L1091.8,1163.8L1095.8,1162.7L1099.9,1163.5L1101.3,1163.3L1105.3,1160.7L1106.7,1160.7L1109.4,1161.8L1113.5,1161.6L1114.8,1162L1118.9,1164.5L1123,1163.3L1128.4,1164.8L1131.1,1164.2L1132.5,1164.3L1136.6,1167L1137.9,1167L1140.6,1165.9L1142,1165.9L1146.1,1167.5L1150.1,1166L1154.2,1167.7L1155.6,1167.7L1159.6,1166.5L1163.7,1168L1167.8,1166.5L1173.2,1167.4L1177.3,1166.2L1181.3,1167.9L1182.7,1167.7L1186.8,1165.1L1188.1,1164.8L1189.5,1167.3L1194.9,1162.6L1196.3,1162.5L1203,1165.2L1208.5,1170.6L1209.8,1170.6L1213.9,1166.4L1220.7,1161L1222,1160.8L1223.4,1161.6L1226.1,1164L1227.5,1164.6L1231.5,1164.4L1235.6,1165.4L1239.7,1163.2L1243.8,1163.5L1245.1,1163.1L1249.2,1160.6L1253.3,1161L1257.3,1159L1258.7,1159.1L1262.8,1161.8L1266.8,1161.7L1270.9,1163.2L1276.3,1160.8L1280.4,1162.1L1284.5,1161.1L1288.5,1162.8L1289.9,1162.9L1294,1161.3L1298,1162.6L1302.1,1161.4L1303.5,1161.6L1307.5,1163.2L1311.6,1161.9L1315.7,1163.4L1317,1163.4L1321.1,1162L1325.2,1163.6L1329.2,1162.4L1334.7,1163.9L1338.7,1161.9L1342.8,1162.8L1346.9,1161.6L1348.2,1161.7L1352.3,1163.5L1356.4,1161.9L1360.5,1162.8L1365.9,1161.5L1370,1163.7L1375.4,1162.9"/>
<path id="ck3" d="M876.2,1052.1L878.9,1056.1L881.7,1066.7L884.4,1089.2L889.8,1143.4L895,1170.5L896.4,1174.2L897.7,1172L899.1,1167.9L900.4,1165.5L901.8,1165.6L904.5,1169.3L909.9,1178.9L911.3,1180.4L912.6,1180.2L914,1178L916.7,1170.6L918.1,1167.6L919.4,1165.9L926.2,1162.4L931.6,1163.3L935.7,1161.4L937.1,1161.6L943.9,1165.1L945.2,1167L949.3,1175.6L950.6,1176.5L952,1175.7L957.4,1169L960.1,1167.1L961.5,1167.1L962.9,1168.2L965.6,1171.8L966.9,1172.6L968.3,1171.9L972.4,1165.7L975.1,1163.1L977.8,1161.5L979.1,1161.6L980.5,1162.8L983.2,1166.6L984.6,1167.7L985.9,1167.4L990,1163.5L994.1,1162.9L998.1,1160.9L999.5,1161.1L1003.6,1163.2L1007.6,1162.6L1011.7,1164.4L1013.1,1164.3L1017.1,1162L1021.2,1162.9L1025.3,1162.3L1029.4,1164.2L1030.7,1164.2L1034.8,1162.2L1038.8,1162.6L1042.9,1160.5L1044.3,1160.7L1048.3,1162.8L1052.4,1161.6L1056.5,1162.4L1060.6,1160.7L1061.9,1161L1066,1163.9L1070.1,1163.6L1074.1,1165.1L1075.5,1165L1079.6,1163.2L1083.6,1164.3L1087.7,1163.3L1089.1,1163.4L1093.1,1164.7L1097.2,1163.1L1101.3,1163.6L1105.3,1161.6L1106.7,1161.5L1110.8,1163.6L1114.8,1162.6L1118.9,1163.6L1120.3,1163.4L1124.3,1161.2L1128.4,1163.2L1133.8,1163.8L1136.6,1165.6L1137.9,1165.9L1142,1164.2L1143.3,1164.3L1146.1,1165.6L1151.5,1165.5L1155.6,1167.8L1159.6,1166.5L1165.1,1167.9L1169.1,1166.4L1173.2,1168.1L1178.6,1166.8L1182.7,1168.1L1188.1,1164.5L1189.5,1167.1L1192.2,1166L1194.9,1163.6L1196.3,1163L1204.4,1165.5L1208.5,1169L1209.8,1169.3L1211.2,1168.4L1215.3,1164L1220.7,1160.8L1222,1160.4L1223.4,1160.8L1227.5,1164L1228.8,1164.2L1231.5,1163.6L1235.6,1165L1237,1165L1241,1162.8L1245.1,1163.2L1249.2,1160.7L1250.5,1160.3L1254.6,1161L1258.7,1159.9L1262.8,1162.5L1264.1,1162.9L1268.2,1162.1L1272.3,1162.9L1276.3,1160.9L1277.7,1161L1280.4,1162.3L1281.8,1162.5L1285.8,1161L1289.9,1161.9L1294,1159.8L1295.3,1159.7L1299.4,1161.5L1303.5,1160.9L1307.5,1162.8L1308.9,1162.9L1313,1161.4L1317,1162.9L1321.1,1161.9L1326.5,1163.8L1330.6,1162.4L1334.7,1163.8L1338.7,1162.3L1340.1,1162.2L1344.2,1163.8L1348.2,1162.6L1352.3,1163.7L1353.7,1163.5L1357.7,1161.4L1361.8,1162.5L1365.9,1161.5L1367.2,1161.7L1370,1163.2L1371.3,1163.4L1375.4,1161.6"/>
<path id="ck4" d="M876.4,1052.1L879.1,1056.1L881.8,1066.7L884.5,1089.2L889.9,1143.4L895,1172.7L896.4,1175.6L900.4,1164.2L901.8,1163.5L907.2,1167L911.3,1171.8L912.6,1172.2L914,1171.1L918.1,1163.8L919.4,1162.8L922.1,1162.1L926.2,1159.7L927.6,1159.6L931.6,1161L935.7,1160.4L943.9,1165.7L945.2,1167.8L949.3,1177.2L950.6,1178.6L952,1178.6L953.4,1177.6L958.8,1171.9L960.1,1170.7L961.5,1170.4L962.9,1171.1L965.6,1174.2L966.9,1174.6L968.3,1173.5L972.4,1166.8L977.8,1162.6L979.1,1162.3L980.5,1162.7L983.2,1165L984.6,1165.6L985.9,1165.3L990,1162.1L994.1,1162.4L998.1,1160.9L1003.6,1162.6L1007.6,1161.5L1011.7,1162.1L1015.8,1159.8L1017.1,1159.9L1021.2,1163.1L1025.3,1163.2L1029.4,1165L1030.7,1164.9L1034.8,1163.3L1038.8,1164.6L1042.9,1163.5L1047,1165.1L1048.3,1165.2L1052.4,1162.9L1056.5,1162.3L1060.6,1160.1L1061.9,1160.3L1066,1162.9L1070.1,1161.8L1074.1,1162.3L1079.6,1158.6L1083.6,1160.1L1087.7,1160.4L1091.8,1162.9L1093.1,1163.1L1097.2,1161.3L1101.3,1162.6L1105.3,1162.2L1106.7,1162.5L1110.8,1164.7L1114.8,1163.6L1118.9,1165L1120.3,1165L1123,1163.8L1124.3,1163.7L1128.4,1165.9L1132.5,1165.1L1136.6,1166.1L1137.9,1165.9L1142,1163.2L1143.3,1163.1L1146.1,1164.1L1150.1,1163.7L1151.5,1163.9L1155.6,1166L1159.6,1164.2L1165.1,1165.2L1167.8,1164.5L1169.1,1164.6L1173.2,1167.2L1178.6,1166.4L1182.7,1167.7L1186.8,1165.1L1188.1,1164.8L1189.5,1167.8L1192.2,1167L1196.3,1164L1204.4,1166.4L1208.5,1170.3L1209.8,1170.6L1211.2,1169.8L1215.3,1165.2L1220.7,1160.8L1222,1160.2L1223.4,1160.3L1227.5,1162.8L1231.5,1162.1L1235.6,1163.7L1237,1163.6L1241,1161.6L1245.1,1161.6L1249.2,1158.7L1250.5,1158.4L1254.6,1159.8L1258.7,1159.4L1262.8,1162.3L1264.1,1162.7L1268.2,1162.1L1272.3,1163.4L1276.3,1162.1L1280.4,1163.6L1281.8,1163.6L1285.8,1161.9L1289.9,1162.8L1294,1160.8L1295.3,1160.7L1299.4,1162.3L1303.5,1161L1307.5,1162.1L1313,1159.7L1317,1161.1L1321.1,1160.4L1325.2,1162.4L1326.5,1162.6L1330.6,1161L1334.7,1162.2L1338.7,1161.3L1340.1,1161.5L1344.2,1163.8L1348.2,1162.6L1352.3,1163.9L1353.7,1163.8L1356.4,1162.5L1357.7,1162.3L1361.8,1164L1365.9,1162.9L1371.3,1164.2L1375.4,1162.2"/>
<path id="ck5" d="M876.5,1052.1L879.2,1056.1L881.9,1066.7L884.6,1089.2L890.1,1143.4L895,1170.2L896.4,1172.4L900.4,1160.9L901.8,1160.4L903.1,1162.1L904.5,1165.2L908.6,1176.4L911.3,1181.1L912.6,1181.1L914,1179.1L918.1,1166.9L919.4,1164.1L920.8,1162.9L927.6,1161.5L931.6,1163.3L933,1163.5L939.8,1159.5L942.5,1157.3L943.9,1157.3L945.2,1159.2L949.3,1172.1L950.6,1175.1L952,1176L953.4,1175.1L958.8,1167.5L961.5,1165.1L962.9,1164.5L964.2,1164.9L968.3,1167.9L969.6,1167.5L973.7,1164.1L977.8,1164.1L981.9,1162.1L985.9,1164.3L987.3,1164.4L991.4,1162.3L995.4,1162.6L999.5,1160.9L1003.6,1163L1004.9,1163.2L1009,1161.6L1013.1,1163.2L1017.1,1162.4L1021.2,1163.1L1022.6,1162.8L1026.6,1159.7L1028,1159.7L1032.1,1161.4L1036.1,1161.2L1040.2,1162.9L1045.6,1159.5L1048.3,1159L1052.4,1157.3L1053.8,1157.5L1057.8,1161.7L1059.2,1162.4L1063.3,1162.3L1066,1163.4L1067.3,1163.5L1071.4,1161.8L1076.8,1163.9L1080.9,1163.3L1085,1164.7L1090.4,1162L1094.5,1162.5L1098.6,1161.6L1102.6,1163.6L1104,1163.4L1108.1,1161.4L1112.1,1161.5L1116.2,1159.6L1117.6,1160L1121.6,1162.5L1125.7,1162L1129.8,1163.3L1133.8,1161.2L1135.2,1161.2L1139.3,1163.6L1143.3,1164L1147.4,1166.5L1148.8,1166.6L1152.8,1165.1L1156.9,1166.5L1161,1165.7L1165.1,1167.7L1166.4,1168L1170.5,1166.6L1174.5,1167.6L1178.6,1165.8L1180,1165.8L1184,1167.3L1188.1,1164.5L1189.5,1166.8L1190.8,1166.5L1193.5,1165L1196.3,1161.9L1197.6,1161.1L1199,1161.1L1205.8,1165.7L1209.8,1169.6L1211.2,1169.4L1212.5,1167.9L1216.6,1161.9L1219.3,1160.3L1222,1159.4L1223.4,1159.4L1224.8,1160.2L1227.5,1163.3L1228.8,1164.5L1230.2,1164.8L1232.9,1164L1237,1164.7L1238.3,1164.3L1242.4,1161.7L1246.5,1162.3L1250.5,1160.3L1251.9,1160.1L1256,1161L1260,1159.6L1264.1,1161.6L1265.5,1161.8L1269.5,1161.3L1273.6,1162.9L1277.7,1160.9L1281.8,1161.1L1287.2,1159L1291.3,1161L1296.7,1160.3L1300.8,1161.5L1304.8,1159.8L1310.2,1161.9L1314.3,1161.4L1318.4,1163.3L1322.5,1161.9L1327.9,1163.1L1332,1161.9L1336,1163.8L1341.5,1162.3L1345.5,1163.1L1349.6,1161L1351,1161.1L1353.7,1162.4L1355,1162.6L1359.1,1161.5L1363.2,1162.6L1367.2,1160.4L1368.6,1160.2L1372.7,1161.5L1375.4,1161"/>
<path id="ck6" d="M876.6,1052.1L879.3,1056.1L882.1,1066.7L884.8,1089.2L890.2,1143.4L893.7,1166.7L895,1173L896.4,1173.6L900.4,1161.8L901.8,1159.6L903.1,1158.7L904.5,1159.6L908.6,1169.5L909.9,1172.1L911.3,1173.1L912.6,1172.5L914,1170.7L920.8,1157.8L922.1,1156.5L923.5,1156.4L926.2,1157.8L930.3,1158.5L934.4,1161.1L935.7,1161.3L937.1,1160.5L939.8,1157.7L941.1,1157.1L942.5,1157.7L945.2,1162.3L950.6,1176.4L952,1178.6L953.4,1179.1L954.7,1177.6L957.4,1172.1L958.8,1170.3L960.1,1170L964.2,1171.2L969.6,1170.2L971,1169.4L975.1,1164.9L976.4,1164.2L979.1,1164.5L980.5,1164.2L984.6,1160.9L985.9,1160.9L988.6,1162.3L990,1162.4L994.1,1160.9L998.1,1162.3L999.5,1162.1L1002.2,1160.9L1006.3,1161L1007.6,1160.5L1011.7,1157.3L1013.1,1157.5L1017.1,1160.4L1021.2,1160.9L1023.9,1162.4L1025.3,1162.7L1029.4,1161.3L1030.7,1161.6L1034.8,1163.8L1038.8,1163.3L1042.9,1165L1044.3,1164.8L1048.3,1162.3L1052.4,1161.8L1055.1,1160.4L1056.5,1160.2L1060.6,1162.7L1061.9,1162.9L1066,1161.2L1070.1,1161.2L1074.1,1158.2L1075.5,1158L1079.6,1159.5L1083.6,1158.8L1087.7,1160L1091.8,1157.4L1093.1,1157.1L1097.2,1159.4L1101.3,1160.3L1105.3,1163.3L1106.7,1163.5L1110.8,1162.1L1114.8,1163.4L1118.9,1162.5L1120.3,1162.9L1124.3,1165.5L1128.4,1164.6L1132.5,1165.6L1137.9,1162.7L1142,1164.3L1146.1,1163.6L1150.1,1165.1L1151.5,1164.9L1155.6,1162.4L1156.9,1162.4L1159.6,1163.4L1163.7,1162.9L1169.1,1166L1173.2,1164.9L1177.3,1166.1L1182.7,1165L1185.4,1166.2L1186.8,1166.3L1188.1,1165.7L1189.5,1167.4L1192.2,1165.6L1194.9,1165.3L1199,1162.9L1200.3,1162.8L1205.8,1168.4L1211.2,1169.7L1212.5,1169.3L1213.9,1168.1L1218,1161.1L1219.3,1159.9L1226.1,1160.5L1231.5,1164.1L1232.9,1163.9L1237,1161.9L1239.7,1161.9L1241,1161.4L1245.1,1158.3L1246.5,1158.3L1249.2,1159.3L1254.6,1158.2L1258.7,1160L1262.8,1159.3L1268.2,1162.3L1272.3,1161.7L1276.3,1163.6L1281.8,1161.7L1285.8,1162.5L1289.9,1160.8L1294,1162.4L1295.3,1162.4L1299.4,1161L1303.5,1161.8L1307.5,1159.5L1308.9,1159.4L1313,1160.9L1317,1160L1321.1,1161.6L1326.5,1159.4L1330.6,1160.7L1334.7,1160L1338.7,1162.4L1340.1,1162.7L1344.2,1161.4L1348.2,1162.6L1352.3,1161.3L1353.7,1161.6L1357.7,1163.7L1361.8,1162.6L1365.9,1163.9L1371.3,1161.9L1375.4,1163.2"/>
<path id="ck7" d="M876.8,1052.1L879.5,1056.1L882.2,1066.7L884.9,1089.2L890.3,1143.4L895,1171.2L896.4,1173L900.4,1165.1L901.8,1164.1L904.5,1163.8L905.9,1164.8L908.6,1168.5L909.9,1169.5L911.3,1169.2L915.4,1163.8L922.1,1158.3L923.5,1157.6L927.6,1158.1L931.6,1156.2L935.7,1156.6L937.1,1156.2L939.8,1154.3L941.1,1154.5L942.5,1156.3L946.6,1166.7L949.3,1171.8L952,1174.3L953.4,1174.5L954.7,1173.6L958.8,1168.2L960.1,1168.1L964.2,1172.7L965.6,1173.3L966.9,1172.9L971,1169.4L976.4,1161L977.8,1160.1L979.1,1160.6L981.9,1163.5L983.2,1164.1L987.3,1163.3L990,1163.3L995.4,1160.8L999.5,1162.3L1004.9,1160.3L1007.6,1160.9L1009,1160.6L1013.1,1156.5L1015.8,1155.4L1021.2,1155.8L1022.6,1156.8L1026.6,1161.8L1028,1162.3L1032.1,1162L1034.8,1163.2L1036.1,1163.3L1040.2,1161.6L1044.3,1163.6L1045.6,1163.8L1049.7,1163L1052.4,1163.8L1053.8,1163.6L1057.8,1160.3L1059.2,1159.9L1063.3,1161.3L1067.3,1160.9L1071.4,1162.6L1072.8,1162.1L1076.8,1158.7L1079.6,1157.9L1083.6,1155.3L1085,1155L1090.4,1158.6L1094.5,1158L1098.6,1159L1102.6,1157.6L1104,1158.1L1108.1,1161.3L1112.1,1161.7L1116.2,1163.9L1121.6,1162.3L1125.7,1164L1129.8,1163.7L1133.8,1166L1135.2,1166.1L1139.3,1164.2L1143.3,1164.3L1147.4,1162.3L1148.8,1162.5L1152.8,1164.7L1156.9,1163.6L1161,1164.5L1165.1,1162.3L1166.4,1162.1L1170.5,1164.2L1174.5,1164.1L1178.6,1166.2L1180,1166.3L1184,1164.6L1188.1,1164.5L1189.5,1166.1L1192.2,1163.9L1193.5,1163.6L1197.6,1164.3L1200.3,1163.5L1201.7,1163.9L1203,1165L1205.8,1168.3L1207.1,1169.1L1208.5,1169.2L1213.9,1167.1L1219.3,1160.5L1220.7,1160.1L1224.8,1162.1L1228.8,1161.6L1232.9,1163.1L1238.3,1161.3L1241,1161.9L1242.4,1161.7L1246.5,1158.5L1247.8,1158L1250.5,1158.1L1254.6,1156.4L1256,1156.4L1260,1159.5L1264.1,1159.9L1268.2,1161.9L1269.5,1162L1273.6,1160.3L1277.7,1162.3L1279,1162.4L1283.1,1161.6L1287.2,1162.8L1291.3,1160.7L1296.7,1161.6L1300.8,1160.6L1304.8,1162.3L1310.2,1160.3L1314.3,1160.7L1318.4,1158.9L1322.5,1160.9L1323.8,1161.1L1327.9,1160L1332,1161L1336,1158.9L1337.4,1159L1341.5,1161L1345.5,1160.7L1349.6,1162.8L1355,1161.1L1359.1,1162.5L1363.2,1161.6L1367.2,1163.7L1368.6,1163.8L1372.7,1162.4L1375.4,1163.2"/>
<path id="ck8" d="M876.9,1052.1L879.6,1056.1L882.3,1066.7L885,1089.2L890.5,1143.4L893.7,1164.3L895,1169.8L896.4,1170.9L899.1,1160.7L900.4,1157.2L901.8,1156.2L903.1,1156.9L905.9,1160L909.9,1168.4L911.3,1170.6L912.6,1170.8L914,1168.7L918.1,1158.4L919.4,1156.7L924.9,1154.7L926.2,1154.9L930.3,1158.8L931.6,1159.6L933,1159.5L938.4,1156.8L941.1,1153.6L942.5,1152.6L943.9,1153.7L945.2,1157.3L949.3,1172.8L950.6,1175.6L952,1176.7L953.4,1176.4L954.7,1175.4L960.1,1168.5L961.5,1167.5L962.9,1167.6L965.6,1169.7L966.9,1170.2L968.3,1169.6L972.4,1165.6L976.4,1163.4L980.5,1158.5L981.9,1157.9L990,1160.4L994.1,1162.2L998.1,1160.8L1002.2,1162L1003.6,1161.6L1007.6,1157.7L1009,1157.2L1015.8,1157L1019.9,1160.1L1021.2,1160.6L1025.3,1159.2L1029.4,1161.2L1034.8,1161.8L1038.8,1164.2L1042.9,1162.7L1047,1162.4L1052.4,1158.3L1053.8,1158.6L1056.5,1160.2L1057.8,1160.5L1060.6,1160L1064.6,1161.1L1066,1160.9L1070.1,1157.9L1071.4,1157.6L1074.1,1158L1078.2,1156.7L1079.6,1156.8L1083.6,1158.6L1089.1,1155.7L1093.1,1156.2L1095.8,1156L1097.2,1156.5L1101.3,1160.9L1102.6,1161.4L1106.7,1161.1L1110.8,1162.3L1114.8,1160.7L1120.3,1163.5L1124.3,1163.4L1128.4,1165.2L1133.8,1162.3L1137.9,1162.8L1142,1161.8L1146.1,1164.1L1147.4,1164L1151.5,1162L1155.6,1162.2L1159.6,1160.7L1165.1,1164L1169.1,1163.7L1173.2,1165.3L1177.3,1163.7L1178.6,1163.8L1182.7,1165.9L1188.1,1164.3L1189.5,1167.3L1190.8,1167.1L1192.2,1166.2L1196.3,1162.6L1197.6,1162.6L1203,1164.4L1204.4,1165.3L1208.5,1170.1L1209.8,1170.5L1211.2,1169.6L1213.9,1166L1219.3,1160.1L1222,1158.1L1223.4,1158.4L1227.5,1161.9L1228.8,1162.3L1231.5,1162L1235.6,1162.7L1237,1162.1L1241,1158.8L1245.1,1158.9L1249.2,1157.3L1254.6,1158.9L1258.7,1157.6L1262.8,1159.8L1266.8,1159.9L1268.2,1160.4L1272.3,1162.8L1276.3,1161.6L1280.4,1162.6L1281.8,1162.3L1285.8,1160.3L1289.9,1161.7L1294,1160.6L1298,1161.8L1299.4,1161.7L1303.5,1159.3L1307.5,1159.9L1311.6,1158.8L1313,1158.9L1317,1160.8L1321.1,1159.2L1325.2,1159.8L1330.6,1158.4L1334.7,1160.9L1340.1,1160.7L1342.8,1161.9L1344.2,1162L1348.2,1160.3L1353.7,1162.3L1357.7,1161.9L1361.8,1163.6L1365.9,1161.9L1371.3,1162.5L1375.4,1161.2"/>
<path id="ck9" d="M877,1052.1L879.7,1056.1L882.5,1066.7L885.2,1089.2L890.6,1143.4L893.7,1162.1L895,1167.5L896.4,1168.8L900.4,1155L901.8,1153.6L903.1,1153.9L905.9,1156.6L911.3,1166.8L912.6,1167.8L914,1166.8L918.1,1158L919.4,1156.3L920.8,1155.6L926.2,1154.5L927.6,1155.1L931.6,1159.2L933,1159.5L938.4,1157.1L942.5,1153.7L943.9,1154.2L945.2,1157L949.3,1171.5L950.6,1174.5L952,1175.6L953.4,1175.3L954.7,1174.2L961.5,1167.2L962.9,1166.9L966.9,1168.5L968.3,1167.9L972.4,1162.9L976.4,1160.2L980.5,1155.7L981.9,1155.2L983.2,1155.7L985.9,1158.1L990,1159.6L994.1,1162L999.5,1160.9L1002.2,1161.8L1003.6,1161.7L1009,1157L1015.8,1156.5L1017.1,1157.1L1021.2,1160.6L1022.6,1160.7L1025.3,1159.6L1026.6,1159.6L1030.7,1161.4L1034.8,1161.1L1038.8,1163.5L1040.2,1163.6L1044.3,1161.7L1047,1161.5L1048.3,1160.8L1052.4,1156.4L1053.8,1156L1057.8,1158L1061.9,1158.3L1066,1159.9L1071.4,1156.5L1075.5,1156.6L1079.6,1155.4L1083.6,1157.8L1085,1157.9L1089.1,1155.9L1093.1,1156.5L1097.2,1156.2L1102.6,1161.2L1106.7,1161.1L1110.8,1162.4L1114.8,1160.6L1116.2,1160.5L1120.3,1162.6L1124.3,1162.5L1128.4,1164.3L1129.8,1164.2L1133.8,1161.3L1137.9,1161.3L1142,1160.1L1147.4,1162.8L1151.5,1161.2L1155.6,1161.6L1159.6,1160.1L1161,1160.3L1165.1,1163.4L1169.1,1163.5L1173.2,1165.4L1174.5,1165.4L1178.6,1163.8L1182.7,1165.8L1184,1165.8L1188.1,1164L1189.5,1166.8L1190.8,1166.8L1192.2,1166.3L1196.3,1162.5L1197.6,1162.2L1204.4,1164.7L1208.5,1169.2L1209.8,1169.9L1211.2,1169.3L1215.3,1163.7L1220.7,1158.3L1222,1157.5L1223.4,1157.4L1227.5,1160.9L1228.8,1161.5L1232.9,1161.3L1235.6,1162.1L1237,1161.9L1241,1158.6L1242.4,1158.1L1246.5,1158.2L1249.2,1157L1250.5,1157L1254.6,1158.9L1258.7,1157.9L1260,1158.1L1264.1,1160.3L1268.2,1160.1L1272.3,1162.5L1273.6,1162.6L1277.7,1161.5L1281.8,1162.3L1285.8,1159.9L1287.2,1159.8L1291.3,1161L1295.3,1159.8L1299.4,1161.2L1304.8,1158.4L1308.9,1159L1313,1157.8L1317,1160L1318.4,1160.2L1322.5,1158.8L1326.5,1159.6L1330.6,1158.1L1332,1158.5L1336,1161L1340.1,1160.6L1344.2,1162.2L1348.2,1160.5L1349.6,1160.4L1353.7,1162.1L1357.7,1161.5L1361.8,1163.3L1363.2,1163.3L1367.2,1161.4L1371.3,1162L1375.4,1160.4"/>
<path id="ck10" d="M877.2,1052.1L879.9,1056.1L882.6,1066.7L885.3,1089.2L890.7,1143.4L893.7,1164.6L895,1170.7L896.4,1172.5L900.4,1159.1L901.8,1157.3L903.1,1157.5L904.5,1159.2L909.9,1168.9L911.3,1170.3L912.6,1170.6L914,1169.2L918.1,1158.7L919.4,1155.9L920.8,1154.4L927.6,1153L928.9,1153.6L931.6,1156.2L933,1156.9L934.4,1156.5L937.1,1152.5L941.1,1143.6L942.5,1142.2L943.9,1143.1L945.2,1146.6L950.6,1169L952,1171.3L953.4,1171.6L957.4,1168.2L961.5,1166.3L964.2,1166.2L968.3,1168.4L969.6,1167.9L973.7,1163.6L977.8,1163.1L981.9,1160L983.2,1159.7L987.3,1161.5L991.4,1160.7L995.4,1162.2L996.8,1162.1L999.5,1161L1003.6,1161.2L1004.9,1160.6L1010.4,1153.6L1017.1,1152.3L1018.5,1152.7L1022.6,1155.6L1026.6,1154.8L1028,1155.3L1032.1,1158.8L1036.1,1159.7L1040.2,1162.5L1041.6,1162.6L1045.6,1160.6L1049.7,1160L1053.8,1157.6L1055.1,1158.1L1059.2,1161.2L1063.3,1160.8L1067.3,1161.5L1072.8,1157.7L1076.8,1157.7L1080.9,1156.1L1085,1156.9L1086.3,1156.4L1090.4,1152.5L1091.8,1152.1L1098.6,1152.9L1104,1158.4L1108.1,1158.1L1112.1,1159.3L1116.2,1158.1L1117.6,1158.4L1121.6,1161.8L1125.7,1162.2L1129.8,1164.2L1131.1,1164.1L1135.2,1161.8L1139.3,1162.9L1143.3,1162.5L1147.4,1164.5L1148.8,1164.7L1152.8,1162.4L1156.9,1162.4L1161,1160.8L1162.3,1160.9L1166.4,1163.6L1170.5,1162.7L1174.5,1163.7L1175.9,1163.6L1178.6,1162.2L1180,1161.9L1184,1164.1L1185.4,1164L1188.1,1162.4L1189.5,1164.2L1192.2,1164.3L1193.5,1163.8L1197.6,1160.4L1199,1160.4L1205.8,1165.6L1209.8,1169.5L1211.2,1169.7L1212.5,1168.4L1216.6,1162.2L1218,1161.1L1222,1159.3L1223.4,1158.9L1224.8,1159.2L1228.8,1162.9L1230.2,1163.3L1234.3,1162.1L1237,1162.4L1238.3,1162L1242.4,1158.2L1243.8,1157.7L1247.8,1157.7L1250.5,1156.3L1251.9,1156.1L1256,1157.6L1260,1156.2L1261.4,1156.3L1265.5,1158.5L1269.5,1158.4L1273.6,1161L1275,1161.2L1279,1160.1L1283.1,1161L1287.2,1159.1L1292.6,1161.2L1296.7,1160.4L1300.8,1161.7L1304.8,1159.5L1306.2,1159.2L1310.2,1160.3L1314.3,1159.2L1318.4,1161L1319.7,1160.9L1323.8,1158.7L1327.9,1159.1L1332,1157.4L1337.4,1160L1341.5,1159L1345.5,1160L1349.6,1158.2L1351,1158.2L1355,1160.6L1359.1,1160.4L1363.2,1162.4L1364.5,1162.3L1368.6,1160.6L1372.7,1161.8L1375.4,1161.2"/>
<path id="ck11" d="M877.3,1052.1L880,1056.1L882.7,1066.7L885.4,1089.2L890.9,1143.4L892.2,1151.9L895,1162.9L896.4,1164.6L897.7,1163L900.4,1157.9L903.1,1156.3L904.5,1156.6L905.9,1158.4L909.9,1169.3L911.3,1171.5L912.6,1171.8L914,1170.6L922.1,1159L923.5,1157.8L924.9,1157.5L928.9,1158L931.6,1157.3L935.7,1157.9L937.1,1157L941.1,1148.1L942.5,1146.2L943.9,1146.4L945.2,1148.8L947.9,1155.9L950.6,1161L953.4,1163.8L954.7,1163.9L958.8,1160.2L960.1,1159.8L964.2,1161.7L965.6,1161.4L972.4,1157.4L976.4,1152L977.8,1151.9L983.2,1158.7L990,1162.2L991.4,1162.3L995.4,1160.8L999.5,1162.3L1000.9,1162.3L1003.6,1161.1L1007.6,1161.1L1009,1160.4L1013.1,1155.5L1014.4,1154.8L1018.5,1155.6L1022.6,1155.4L1026.6,1157L1030.7,1155.2L1032.1,1155.3L1036.1,1157.3L1040.2,1156.3L1044.3,1157.4L1045.6,1156.8L1049.7,1153L1056.5,1151.6L1057.8,1152.2L1059.2,1153.7L1061.9,1157.9L1063.3,1159.2L1067.3,1159.8L1070.1,1160.9L1071.4,1161.1L1075.5,1158.5L1076.8,1158.2L1080.9,1159.7L1085,1159.2L1089.1,1160.6L1090.4,1160.1L1094.5,1156.6L1095.8,1156.4L1098.6,1156.7L1102.6,1156.1L1106.7,1158.7L1108.1,1159L1112.1,1157.1L1116.2,1156.9L1120.3,1154.7L1121.6,1154.9L1125.7,1158L1129.8,1158.4L1133.8,1159.9L1139.3,1157.8L1143.3,1160.4L1147.4,1161.4L1151.5,1164.4L1152.8,1164.8L1156.9,1163.2L1161,1164.2L1165.1,1163.4L1166.4,1163.7L1170.5,1166.1L1174.5,1164.8L1178.6,1165.4L1180,1165.1L1184,1162.9L1188.1,1163.1L1189.5,1164.3L1192.2,1161.9L1193.5,1161.2L1197.6,1160.5L1200.3,1158.9L1201.7,1158.9L1203,1159.9L1207.1,1164.5L1208.5,1164.9L1212.5,1164.7L1215.3,1163.1L1219.3,1157.5L1220.7,1157L1224.8,1159.1L1228.8,1160.2L1231.5,1162.6L1232.9,1163.3L1234.3,1163.4L1238.3,1161.9L1241,1162.1L1242.4,1161.8L1246.5,1158.5L1247.8,1158.3L1251.9,1158.9L1254.6,1157.8L1256,1157.7L1260,1159.5L1264.1,1158.2L1269.5,1159.2L1273.6,1157.9L1277.7,1159.8L1279,1159.6L1283.1,1157.7L1287.2,1157.9L1291.3,1156L1296.7,1158.8L1300.8,1158.4L1304.8,1159.9L1308.9,1158.2L1310.2,1158.2L1314.3,1160.2L1318.4,1159.9L1322.5,1162L1323.8,1162L1327.9,1160.2L1332,1161L1336,1159.6L1340.1,1161.4L1341.5,1161.6L1345.5,1159.9L1349.6,1160.2L1353.7,1157.8L1355,1157.6L1359.1,1159.4L1363.2,1158.6L1367.2,1160L1368.6,1159.7L1372.7,1157.6L1375.4,1158.5"/>
<path id="ck12" d="M877.4,1052.1L880.1,1056.1L882.9,1066.7L885.6,1089.2L891,1143.4L892.4,1151.9L893.7,1152.5L895,1157.9L896.4,1160.4L897.7,1158.1L900.4,1150.7L901.8,1149.3L903.1,1149.1L907.2,1150.6L908.6,1152L912.6,1159.6L914,1160.9L915.4,1160.5L919.4,1156.5L923.5,1156.2L926.2,1154.7L927.6,1154.5L928.9,1155.2L931.6,1157.5L933,1157.9L942.5,1154L943.9,1154L945.2,1155.6L949.3,1166.5L950.6,1168.6L952,1169.1L961.5,1163.5L962.9,1163.2L966.9,1163.3L968.3,1162.2L975.1,1149.3L977.8,1145.7L979.1,1144.9L980.5,1145.3L981.9,1147.1L985.9,1155.8L987.3,1157.4L995.4,1162L999.5,1160.8L1003.6,1161.7L1004.9,1161.2L1009,1157.6L1013.1,1156.1L1015.8,1154.3L1017.1,1154.2L1022.6,1159L1026.6,1158.9L1030.7,1160.2L1034.8,1158.5L1036.1,1158.5L1038.8,1159.7L1040.2,1159.8L1044.3,1157.7L1048.3,1156.8L1052.4,1151.1L1053.8,1149.7L1055.1,1149.2L1060.6,1150.9L1061.9,1151.8L1066,1156.5L1067.3,1157.1L1071.4,1155.5L1075.5,1155.1L1079.6,1152.6L1080.9,1152.8L1085,1156.2L1089.1,1156.5L1093.1,1157.8L1097.2,1156L1098.6,1156L1102.6,1158.9L1106.7,1159.3L1110.8,1161.3L1112.1,1161.3L1116.2,1158.7L1120.3,1158.9L1124.3,1157.7L1125.7,1158L1129.8,1160.4L1133.8,1158.3L1137.9,1157.8L1142,1155.4L1143.3,1155.3L1147.4,1158.6L1148.8,1159.1L1151.5,1159.2L1155.6,1161.1L1156.9,1161.2L1161,1159.6L1165.1,1162L1170.5,1163.2L1174.5,1165.7L1178.6,1164.3L1182.7,1165.3L1184,1165.2L1188.1,1162.6L1189.5,1164.8L1192.2,1164.9L1196.3,1161.7L1197.6,1161.1L1205.8,1163.2L1209.8,1166.7L1211.2,1166.4L1216.6,1160L1222,1156L1223.4,1155.6L1224.8,1155.9L1228.8,1158.9L1232.9,1159L1237,1161L1238.3,1160.7L1242.4,1158.2L1246.5,1158.1L1250.5,1156L1256,1158.4L1260,1158.2L1264.1,1160.6L1268.2,1159.4L1269.5,1159.4L1273.6,1160.9L1277.7,1159.9L1281.8,1161.1L1287.2,1157.9L1291.3,1158.1L1295.3,1156.6L1299.4,1158.5L1300.8,1158.6L1304.8,1156.9L1308.9,1157.4L1313,1155.6L1314.3,1155.9L1318.4,1158.5L1322.5,1158.3L1326.5,1160L1332,1158.2L1336,1160.1L1340.1,1159.9L1344.2,1162L1345.5,1162.1L1349.6,1160.2L1353.7,1161L1357.7,1159.5L1359.1,1159.6L1363.2,1161.5L1367.2,1159.9L1371.3,1160.2L1375.4,1157.7"/>
<path id="ck13" d="M877.6,1052.1L880.3,1056.1L883,1066.7L885.7,1089.2L891.1,1143.4L892.5,1151.9L893.7,1147.4L895,1152.7L896.4,1155.7L897.7,1155.5L900.4,1150.7L901.8,1149.3L903.1,1149.1L909.9,1152.5L914,1157.1L915.4,1158L916.7,1157.8L919.4,1156.1L920.8,1155.9L924.9,1156.9L928.9,1155.1L930.3,1155.4L933,1156.9L934.4,1156.8L938.4,1152.9L939.8,1152.3L941.1,1152.5L943.9,1154.4L945.2,1156.1L949.3,1164.9L950.6,1166.8L952,1167L956.1,1162L957.4,1161.2L962.9,1161.9L966.9,1161.9L968.3,1161.4L969.6,1159.7L971,1156.9L976.4,1141.3L977.8,1139.4L979.1,1139.2L980.5,1140.5L981.9,1143.3L985.9,1155.3L987.3,1158L988.6,1159.3L992.7,1159.8L996.8,1162.2L1000.9,1160.6L1004.9,1161.2L1006.3,1160.8L1010.4,1157.3L1013.1,1156.2L1017.1,1153.2L1018.5,1152.8L1019.9,1153.4L1023.9,1157.7L1028,1158.3L1032.1,1159.9L1037.5,1157.1L1041.6,1157.3L1045.6,1154.7L1049.7,1154.2L1051.1,1153.1L1055.1,1148.1L1056.5,1147.7L1061.9,1149.6L1063.3,1150.5L1067.3,1155.7L1068.7,1156.7L1076.8,1155.1L1080.9,1152.1L1082.3,1152L1086.3,1155.4L1090.4,1156.4L1094.5,1158.3L1095.8,1158.1L1099.9,1156L1104,1158L1108.1,1158.1L1112.1,1160.4L1113.5,1160.5L1117.6,1157.9L1121.6,1157.5L1125.7,1155.7L1127.1,1155.8L1131.1,1158.4L1132.5,1158.3L1135.2,1157.1L1139.3,1157L1143.3,1154.7L1144.7,1154.4L1146.1,1155.1L1148.8,1157.6L1154.2,1159.4L1156.9,1161.4L1158.3,1161.8L1162.3,1160.2L1163.7,1160.5L1167.8,1162.6L1171.8,1163L1175.9,1165.7L1177.3,1165.6L1180,1164.4L1184,1165.1L1185.4,1164.7L1188.1,1162.2L1189.5,1163.3L1193.5,1163.1L1197.6,1160.6L1199,1160.2L1203,1162.7L1207.1,1163.3L1209.8,1164.7L1211.2,1164.9L1212.5,1164L1216.6,1158.4L1218,1157.5L1224.8,1155.9L1226.1,1156.3L1230.2,1158.9L1234.3,1158.3L1238.3,1160.4L1239.7,1160.3L1243.8,1158.1L1247.8,1158L1251.9,1155.7L1253.3,1155.9L1257.3,1158.2L1261.4,1158.4L1265.5,1160.8L1266.8,1160.7L1270.9,1158.9L1275,1159.9L1279,1158.7L1283.1,1160.1L1284.5,1159.8L1288.5,1157.1L1292.6,1157.1L1296.7,1155.3L1302.1,1157.7L1306.2,1156.5L1310.2,1157.3L1314.3,1155.5L1315.7,1155.6L1319.7,1158.2L1323.8,1158.2L1327.9,1160.2L1329.2,1160.2L1333.3,1158.5L1337.4,1160L1341.5,1159.4L1345.5,1161.6L1346.9,1161.8L1351,1160L1355,1160.4L1359.1,1158.5L1360.5,1158.5L1364.5,1160.4L1368.6,1159L1372.7,1159.5L1375.4,1158.1"/>
<path id="ck14" d="M877.7,1052.1L880.4,1056.1L883.1,1066.7L885.8,1089.2L891.3,1143.4L893.7,1156.1L895,1160.5L896.4,1160.7L899.1,1155.7L900.4,1154.6L901.8,1154.8L903.1,1155.6L905.9,1159.7L908.6,1166.9L909.9,1169.4L911.3,1169.5L912.6,1167.3L916.7,1156.9L920.8,1152.2L922.1,1151.2L923.5,1151L928.9,1154.6L930.3,1154.4L934.4,1151.9L935.7,1149.9L937.1,1145.7L941.1,1124.7L942.5,1123L943.9,1126.9L947.9,1151.4L949.3,1156.9L950.6,1160.4L952,1162.5L953.4,1163.3L954.7,1162.8L958.8,1156.5L960.1,1155.6L961.5,1156.1L965.6,1160.6L966.9,1161.5L969.6,1162.7L971,1162.9L972.4,1162.4L973.7,1160.9L977.8,1152.9L979.1,1151.3L980.5,1150.8L983.2,1152.8L990,1161.7L991.4,1162.2L995.4,1160.8L999.5,1162.2L1000.9,1162L1004.9,1157.9L1009,1154.9L1013.1,1150.6L1017.1,1149.5L1018.5,1148.6L1022.6,1144.7L1023.9,1144.8L1025.3,1146L1030.7,1151.6L1034.8,1157L1036.1,1158L1037.5,1158.1L1040.2,1156.6L1044.3,1155.3L1048.3,1151.8L1049.7,1151.5L1051.1,1152.2L1055.1,1156.1L1057.8,1156.7L1061.9,1158.8L1063.3,1158.8L1067.3,1156.7L1071.4,1157.9L1072.8,1158L1076.8,1156.8L1079.6,1157.4L1080.9,1157.2L1082.3,1156L1086.3,1150.9L1093.1,1147.8L1094.5,1148.1L1098.6,1152.4L1099.9,1153L1104,1152.6L1108.1,1153.2L1112.1,1151.6L1113.5,1152.2L1117.6,1155.7L1121.6,1156.7L1124.3,1158.6L1125.7,1159L1129.8,1157.1L1131.1,1157.1L1135.2,1159L1139.3,1159.6L1143.3,1162.7L1144.7,1162.8L1148.8,1161L1152.8,1161.3L1156.9,1159.8L1162.3,1162.7L1166.4,1161.6L1170.5,1162.2L1174.5,1159.9L1175.9,1159.8L1180,1161.8L1184,1161.4L1188.1,1161.8L1189.5,1162.3L1193.5,1157.9L1194.9,1157.6L1200.3,1157.6L1201.7,1158.4L1203,1160.1L1205.8,1164.7L1207.1,1166.2L1208.5,1166.7L1209.8,1166.4L1213.9,1163.8L1219.3,1156.7L1220.7,1156.5L1224.8,1160L1226.1,1160.6L1232.9,1162.6L1234.3,1162.1L1238.3,1158.9L1242.4,1158.9L1246.5,1156.7L1250.5,1157.2L1251.9,1156.9L1256,1153.9L1257.3,1153.8L1260,1154.6L1264.1,1154.4L1269.5,1158.1L1273.6,1157L1277.7,1157.6L1283.1,1155.7L1287.2,1158.1L1291.3,1157.9L1295.3,1159.5L1296.7,1159.6L1300.8,1157.6L1304.8,1158.9L1310.2,1158.5L1314.3,1160.6L1318.4,1158.6L1323.8,1158.5L1326.5,1157L1327.9,1156.8L1332,1158.8L1333.3,1158.8L1337.4,1157.5L1340.1,1158L1341.5,1157.8L1345.5,1155.2L1346.9,1155.4L1351,1157.2L1355,1157.1L1359.1,1159L1363.2,1157.2L1364.5,1157.1L1368.6,1158.5L1372.7,1158.2L1375.4,1160.1"/>
<path id="ck15" d="M877.8,1052.1L880.5,1056.1L883.3,1066.7L886,1089.2L891.4,1143.4L892.8,1151.9L893.7,1152.9L895,1159.6L896.4,1163L897.7,1162.6L900.4,1157L901.8,1155.4L903.1,1155.1L904.5,1155.9L908.6,1159.6L914,1161.2L915.4,1160.8L916.7,1159.6L920.8,1154.7L924.9,1153.8L928.9,1150.5L930.3,1150.2L933,1151L934.4,1150.5L935.7,1148.3L939.8,1135.7L941.1,1132.8L942.5,1131.9L943.9,1133.3L945.2,1136.6L949.3,1150.5L950.6,1153.4L952,1154.9L953.4,1155L956.1,1154.3L957.4,1154.7L962.9,1159.4L968.3,1161L969.6,1160.4L971,1158.6L975.1,1149.7L976.4,1148.2L977.8,1148.2L980.5,1150.9L985.9,1159.6L987.3,1161L988.6,1161.5L992.7,1160.2L996.8,1162.2L998.1,1162.1L1002.2,1160.3L1004.9,1160.3L1006.3,1159.5L1007.6,1157.7L1011.7,1150.7L1017.1,1143.1L1018.5,1142L1019.9,1142.2L1025.3,1148.9L1028,1150.3L1032.1,1153.6L1033.4,1154.1L1037.5,1153L1041.6,1154.4L1045.6,1153.5L1049.7,1154.4L1051.1,1154.1L1055.1,1151L1056.5,1151.1L1060.6,1154L1063.3,1155.3L1068.7,1159.9L1070.1,1159.7L1074.1,1157.2L1076.8,1156.3L1082.3,1151.4L1087.7,1152.8L1091.8,1151.3L1094.5,1151.2L1095.8,1150.7L1099.9,1147.8L1101.3,1148.1L1105.3,1151.2L1109.4,1152.4L1113.5,1155.1L1118.9,1152.8L1123,1154L1125.7,1154.1L1127.1,1154.7L1131.1,1158.9L1132.5,1159.5L1136.6,1158.7L1140.6,1159.5L1144.7,1158L1146.1,1158.6L1150.1,1161.7L1154.2,1161.5L1158.3,1162.6L1162.3,1160.1L1163.7,1159.7L1167.8,1161.2L1171.8,1160.7L1175.9,1162.8L1177.3,1162.7L1181.3,1160.7L1185.4,1160.9L1188.1,1158.9L1190.8,1158.4L1194.9,1159.1L1199,1157.3L1200.3,1157.8L1204.4,1161.3L1207.1,1162.2L1211.2,1164.8L1212.5,1164.5L1216.6,1159.6L1218,1158.6L1222,1158.5L1224.8,1157.9L1226.1,1158.2L1230.2,1161L1231.5,1161.1L1234.3,1160.2L1238.3,1161.3L1239.7,1161.2L1243.8,1157.9L1247.8,1156.8L1251.9,1153.8L1253.3,1153.5L1257.3,1155.3L1261.4,1155L1265.5,1156.7L1266.8,1156.6L1270.9,1154.5L1275,1156.2L1279,1155.9L1280.4,1156.3L1283.1,1157.8L1284.5,1158L1288.5,1156L1289.9,1156L1292.6,1157L1296.7,1156.5L1298,1156.8L1302.1,1159.5L1303.5,1159.5L1306.2,1158.4L1311.6,1159L1315.7,1157.2L1319.7,1159.3L1321.1,1159.4L1325.2,1158.5L1327.9,1159.3L1329.2,1159.1L1333.3,1156.3L1334.7,1156.1L1338.7,1157L1342.8,1156.3L1346.9,1158.1L1352.3,1155.6L1356.4,1156.2L1359.1,1155.3L1360.5,1155.4L1364.5,1158.3L1365.9,1158.6L1370,1157.9L1372.7,1158.9L1375.4,1158.5"/>
<path id="ck16" d="M878,1052.1L880.7,1056.1L883.4,1066.7L886.1,1089.2L891.5,1143.4L892.9,1151.9L893.7,1146.8L895,1150L896.4,1150.9L899.1,1148L900.4,1147.7L904.5,1149.4L909.9,1149.9L911.3,1148.9L915.4,1143.6L916.7,1143.5L920.8,1147.3L924.9,1149.1L928.9,1152L930.3,1152L933,1150.1L935.7,1146.8L939.8,1135.2L941.1,1132.9L942.5,1134.2L943.9,1139.2L947.9,1160.1L949.3,1163.8L950.6,1165.4L952,1165.5L953.4,1164.7L958.8,1158.2L960.1,1157.4L961.5,1158L965.6,1163.8L966.9,1164.3L969.6,1162.2L972.4,1158.2L973.7,1154.8L977.8,1138.3L979.1,1134.6L980.5,1134.2L981.9,1137L985.9,1151.1L987.3,1154.3L990,1158.8L992.7,1160.9L996.8,1160.7L999.5,1161.6L1000.9,1161.5L1002.2,1160.4L1006.3,1155L1010.4,1153.2L1015.8,1147.1L1021.2,1145.4L1022.6,1145.6L1023.9,1146.8L1028,1154.4L1029.4,1156.1L1036.1,1159.4L1037.5,1159.4L1042.9,1154.9L1045.6,1154.5L1049.7,1152.8L1051.1,1152.7L1053.8,1153.6L1055.1,1153.7L1059.2,1150.3L1060.6,1149.7L1064.6,1150.8L1068.7,1151L1072.8,1153.7L1074.1,1153.5L1078.2,1150L1080.9,1148.3L1085,1143.7L1086.3,1142.8L1087.7,1143.1L1091.8,1147.6L1099.9,1153.5L1101.3,1153.4L1104,1152.3L1105.3,1152.4L1109.4,1155.2L1113.5,1156.1L1117.6,1159.3L1118.9,1159.5L1123,1157.5L1127.1,1157.5L1131.1,1155.9L1136.6,1158.7L1140.6,1157.3L1144.7,1157L1148.8,1153.9L1150.1,1153.7L1154.2,1156.2L1158.3,1156.7L1162.3,1159.1L1163.7,1159.1L1167.8,1157.4L1171.8,1159.3L1175.9,1159.7L1180,1162.9L1181.3,1163.4L1186.8,1161.7L1188.1,1161.6L1189.5,1162.7L1193.5,1159.2L1194.9,1158.7L1203,1161.8L1207.1,1166.2L1208.5,1166.6L1209.8,1165.9L1219.3,1156.1L1220.7,1155.3L1222,1155.6L1226.1,1158.5L1227.5,1158.4L1230.2,1157.4L1234.3,1157.4L1238.3,1155.3L1239.7,1155.2L1243.8,1156.5L1247.8,1154.2L1251.9,1154L1256,1152.1L1257.3,1152.1L1258.7,1153L1262.8,1156.5L1265.5,1157L1269.5,1159.3L1270.9,1159.4L1275,1157.2L1280.4,1158.5L1284.5,1157.9L1288.5,1159.6L1292.6,1157.4L1298,1157L1302.1,1155.3L1306.2,1157.3L1307.5,1157.3L1311.6,1155.8L1315.7,1156.1L1319.7,1153.5L1321.1,1153.6L1325.2,1155.6L1329.2,1155.5L1333.3,1157.4L1337.4,1155.5L1338.7,1155.4L1342.8,1156.9L1346.9,1156.8L1351,1159.7L1352.3,1159.8L1356.4,1158.5L1360.5,1159.3L1364.5,1157.7L1370,1160.1L1374,1159L1375.4,1159.2"/>
<path id="ck17" d="M878.1,1052.1L880.8,1056.1L883.5,1066.7L886.2,1089.2L891.7,1143.4L893,1151.9L893.7,1142.4L895,1144.4L896.4,1143.2L899.1,1139.2L900.4,1138.4L903.1,1138L904.5,1138.7L905.9,1140.7L909.9,1152L911.3,1154.4L912.6,1155L916.7,1151.8L922.1,1148.9L923.5,1148.9L924.9,1149.9L928.9,1154.4L930.3,1154.9L934.4,1155L935.7,1154.2L937.1,1151.8L941.1,1135.8L942.5,1133.2L943.9,1134.8L949.3,1157.5L952,1162.5L953.4,1163.2L954.7,1162.6L960.1,1153.3L961.5,1152.6L966.9,1151.3L971,1151.2L972.4,1150.1L973.7,1147.4L977.8,1134L979.1,1131.2L980.5,1130.6L981.9,1132.1L983.2,1135.3L987.3,1149.9L990,1157.7L991.4,1159.6L992.7,1160.3L995.4,1160.5L999.5,1162.2L1000.9,1161.8L1004.9,1157.7L1013.1,1151.3L1014.4,1151.4L1017.1,1153L1018.5,1153.2L1022.6,1151L1023.9,1150.9L1026.6,1151.8L1030.7,1152.3L1034.8,1156.1L1036.1,1156.9L1037.5,1156.7L1044.3,1152.2L1048.3,1144.4L1049.7,1142.2L1051.1,1141.2L1053.8,1141.7L1057.8,1143.9L1061.9,1149.2L1063.3,1150.2L1067.3,1149.6L1071.4,1150.9L1075.5,1150L1076.8,1150.3L1080.9,1153L1082.3,1152.9L1086.3,1151.2L1089.1,1151.2L1093.1,1149.5L1094.5,1149.7L1098.6,1154.1L1099.9,1155L1104,1155.7L1106.7,1156.8L1108.1,1156.7L1112.1,1153.5L1113.5,1153.2L1116.2,1154L1121.6,1153.7L1124.3,1155.3L1125.7,1155.6L1131.1,1151.8L1133.8,1151.5L1137.9,1150L1139.3,1150.2L1143.3,1154.2L1144.7,1154.9L1148.8,1154.9L1152.8,1156.2L1156.9,1155.1L1158.3,1155.8L1162.3,1159.5L1166.4,1160.6L1170.5,1163L1174.5,1161.4L1175.9,1161.3L1180,1162.9L1184,1162.3L1188.1,1162.9L1189.5,1164L1193.5,1159.5L1200.3,1156.5L1201.7,1156.7L1203,1158L1207.1,1163.3L1208.5,1163.7L1209.8,1163.4L1213.9,1160.6L1219.3,1152L1220.7,1151.4L1224.8,1154.4L1228.8,1156.2L1232.9,1159L1234.3,1158.9L1238.3,1156.3L1242.4,1156.5L1246.5,1154.9L1251.9,1156.9L1256,1155.4L1260,1156.7L1264.1,1155.9L1265.5,1156.3L1269.5,1158.9L1273.6,1157.8L1277.7,1158.5L1279,1157.9L1283.1,1154.8L1287.2,1155.3L1291.3,1154.2L1295.3,1155.8L1296.7,1155.9L1300.8,1153.6L1304.8,1154L1308.9,1152.9L1310.2,1153.2L1314.3,1156.3L1318.4,1155.8L1322.5,1157.1L1327.9,1155.5L1332,1158L1336,1158L1340.1,1159.7L1341.5,1159.8L1345.5,1157.5L1346.9,1157.4L1349.6,1158.2L1353.7,1157.2L1355,1157.3L1359.1,1159.2L1363.2,1157L1367.2,1156.8L1372.7,1154.3L1375.4,1155.7"/>
<path id="ck18" d="M878.2,1052.1L880.9,1056.1L883.7,1066.7L886.4,1089.2L891.8,1143.4L893.2,1151.9L893.7,1137.7L895,1141.9L897.7,1146.3L904.5,1149.7L908.6,1154.6L909.9,1155.1L914,1152.6L915.4,1152.5L918.1,1153.2L922.1,1152.8L926.2,1154.3L927.6,1154.2L934.4,1149.4L935.7,1147.2L939.8,1130.4L941.1,1126.5L942.5,1126.5L943.9,1130.2L947.9,1146.8L949.3,1149.9L950.6,1151.3L952,1151.4L953.4,1150.5L957.4,1145.9L958.8,1145.7L960.1,1146.7L964.2,1152.1L965.6,1153L968.3,1153.8L969.6,1153.6L971,1152.5L972.4,1149.7L976.4,1133.2L977.8,1129.4L979.1,1128.8L980.5,1131.4L985.9,1152.6L988.6,1159.3L990,1160.7L991.4,1160.9L994.1,1160.3L998.1,1162.2L999.5,1162.2L1003.6,1159.1L1007.6,1157.9L1009,1156.7L1019.9,1141.2L1021.2,1140.4L1022.6,1141.1L1026.6,1147.1L1028,1148.5L1033.4,1152.9L1034.8,1153.3L1036.1,1152.8L1040.2,1148.7L1044.3,1146.7L1047,1144.6L1048.3,1144.2L1052.4,1146.2L1053.8,1146.2L1056.5,1144.9L1057.8,1144.8L1059.2,1145.5L1061.9,1148L1066,1150.6L1070.1,1155.6L1071.4,1156.4L1079.6,1153.9L1083.6,1149.2L1085,1148.6L1089.1,1150.5L1093.1,1150.9L1097.2,1152.3L1098.6,1151.9L1102.6,1148.7L1104,1148.8L1106.7,1149.8L1110.8,1149.7L1114.8,1152.5L1116.2,1152.7L1120.3,1150.3L1124.3,1149.9L1128.4,1148.4L1129.8,1149L1133.8,1153.2L1135.2,1153.8L1137.9,1154L1142,1155.6L1143.3,1155.5L1146.1,1154.2L1147.4,1154.1L1151.5,1157.5L1155.6,1158.8L1159.6,1161.5L1161,1161.8L1165.1,1159.8L1169.1,1160.8L1173.2,1160.2L1174.5,1160.4L1178.6,1162.8L1182.7,1161.2L1186.8,1160.5L1189.5,1158.6L1192.2,1155.8L1193.5,1155.5L1196.3,1156.1L1200.3,1155.5L1201.7,1156.3L1205.8,1160.6L1208.5,1160.6L1213.9,1159L1218,1154.4L1219.3,1153.7L1220.7,1154.3L1223.4,1156.5L1227.5,1156.9L1231.5,1158.9L1232.9,1158.9L1237,1157.6L1241,1159.3L1242.4,1159.1L1246.5,1156.7L1250.5,1156.1L1254.6,1153L1256,1153L1260,1155.2L1264.1,1155.4L1266.8,1156.9L1268.2,1157.1L1272.3,1154.1L1273.6,1153.6L1277.7,1154.1L1281.8,1153.2L1285.8,1155.4L1287.2,1155.3L1291.3,1153.4L1295.3,1154L1299.4,1152.8L1304.8,1156.4L1308.9,1156.1L1313,1157.5L1317,1155.6L1318.4,1155.6L1322.5,1157.7L1326.5,1157.4L1330.6,1159.2L1332,1158.9L1336,1156.4L1340.1,1156.8L1344.2,1155.4L1348.2,1157.2L1349.6,1157.4L1353.7,1155.3L1357.7,1155.3L1361.8,1153L1363.2,1153L1367.2,1155.4L1371.3,1155.1L1375.4,1156.5"/>
<path id="ck19" d="M878.4,1052.1L881.1,1056.1L883.8,1066.7L886.5,1089.2L891.9,1143.4L893.3,1151.9L893.7,1138.8L895,1142.5L896.4,1143.4L897.7,1143.1L901.8,1137.6L903.1,1136.5L904.5,1136.7L905.9,1138.2L912.6,1151.6L914,1153.4L915.4,1154.3L916.7,1154.2L920.8,1150.2L922.1,1149.5L926.2,1150.5L930.3,1150.9L933,1152.9L934.4,1153.2L935.7,1151.9L937.1,1148.5L941.1,1132.7L942.5,1129.6L943.9,1129.5L945.2,1132.3L950.6,1150.6L952,1152.9L953.4,1153.8L954.7,1153.4L957.4,1151.4L961.5,1150.8L966.9,1146.7L969.6,1147.1L971,1146L976.4,1131.7L977.8,1129.8L979.1,1129.5L980.5,1130.7L983.2,1136.6L988.6,1155.2L990,1157.4L996.8,1162L998.1,1162.3L1006.3,1158.2L1011.7,1149.2L1013.1,1148.1L1014.4,1147.7L1019.9,1146.8L1023.9,1149.4L1025.3,1149.6L1029.4,1148.6L1033.4,1151.3L1034.8,1151.7L1037.5,1151L1041.6,1151.4L1042.9,1150.7L1044.3,1149.1L1048.3,1142.7L1052.4,1138.1L1055.1,1136.4L1056.5,1136.8L1061.9,1146.5L1068.7,1152.4L1070.1,1152.4L1074.1,1149.6L1075.5,1149.4L1078.2,1150.1L1082.3,1149.9L1086.3,1152.2L1087.7,1152.4L1091.8,1149.5L1093.1,1149L1099.9,1149.3L1101.3,1150L1105.3,1153.8L1106.7,1154L1110.8,1152.4L1113.5,1152.2L1118.9,1148.3L1120.3,1148.4L1124.3,1150.5L1128.4,1150.5L1131.1,1151.5L1132.5,1151.5L1136.6,1148.4L1137.9,1148.1L1146.1,1152.1L1150.1,1156.5L1151.5,1156.9L1155.6,1156.1L1159.6,1157.7L1163.7,1157.6L1167.8,1161.2L1169.1,1161.8L1173.2,1161.4L1177.3,1162.5L1181.3,1160.3L1185.4,1161.3L1186.8,1161.1L1190.8,1159.3L1194.9,1158.4L1199,1154.7L1200.3,1154.3L1205.8,1158.5L1211.2,1161.2L1212.5,1161L1213.9,1159.7L1218,1153.2L1219.3,1152.3L1226.1,1152.8L1231.5,1158L1235.6,1157.5L1239.7,1158.2L1245.1,1154.6L1249.2,1155.3L1253.3,1154.3L1257.3,1156.1L1258.7,1156.3L1262.8,1154.9L1266.8,1156.2L1270.9,1154.8L1272.3,1154.9L1276.3,1156.7L1280.4,1154.6L1284.5,1154.4L1288.5,1151.6L1289.9,1151.3L1294,1153.3L1298,1153L1302.1,1154.6L1303.5,1154.5L1307.5,1152.4L1308.9,1152.7L1311.6,1154.1L1315.7,1154.3L1321.1,1157.7L1325.2,1156.3L1329.2,1157L1333.3,1155.9L1334.7,1155.9L1338.7,1158.4L1340.1,1158.4L1342.8,1157.4L1346.9,1157.8L1348.2,1157.4L1352.3,1154.6L1353.7,1154.7L1356.4,1155.8L1361.8,1155.1L1364.5,1156.2L1365.9,1156.2L1370,1153.4L1371.3,1153.1L1375.4,1153.9"/>
<path id="ck20" d="M878.5,1052.1L881.2,1056.1L883.9,1066.7L886.6,1089.2L892.1,1143.4L893.4,1151.9L893.7,1138.3L895,1140.7L896.4,1141.4L900.4,1133.3L901.8,1132.8L905.9,1134.1L908.6,1133.6L909.9,1135.5L912.6,1142.6L914,1145L915.4,1145.8L919.4,1144.5L923.5,1145.5L926.2,1145.4L927.6,1146L931.6,1151.1L933,1151.8L934.4,1151.2L935.7,1149.3L938.4,1142.6L942.5,1130L943.9,1129.8L945.2,1133.2L949.3,1152.1L950.6,1155.7L952,1157.1L953.4,1157.3L957.4,1156.3L960.1,1154.3L962.9,1151.4L964.2,1150.5L968.3,1149.3L969.6,1148L973.7,1139.7L977.8,1127.8L979.1,1124.9L980.5,1124L981.9,1125.9L983.2,1130.3L987.3,1148.2L988.6,1152L992.7,1158.7L995.4,1161.5L996.8,1161.6L1002.2,1160.3L1003.6,1159.6L1004.9,1157.8L1009,1150.1L1011.7,1147.3L1015.8,1144.5L1017.1,1144.6L1021.2,1148.6L1022.6,1149.4L1026.6,1149.2L1030.7,1152L1034.8,1152.5L1038.8,1154.6L1040.2,1154.5L1047,1147.3L1052.4,1137.4L1053.8,1136.2L1055.1,1136.8L1057.8,1139.1L1061.9,1143.1L1066,1148.2L1067.3,1148.7L1071.4,1146.4L1075.5,1146.3L1078.2,1144.3L1079.6,1143.9L1080.9,1144.3L1085,1147.2L1089.1,1145.9L1093.1,1146.4L1097.2,1146.3L1098.6,1147.2L1102.6,1152.5L1104,1153.3L1106.7,1153.6L1110.8,1154.9L1112.1,1154.5L1116.2,1151.3L1117.6,1151.2L1120.3,1152.1L1124.3,1151.7L1128.4,1153.4L1129.8,1153.3L1135.2,1148.9L1139.3,1149.1L1143.3,1148.3L1147.4,1152.2L1148.8,1152.6L1151.5,1152.2L1156.9,1153.5L1159.6,1152.7L1161,1152.9L1166.4,1157.9L1170.5,1159.1L1173.2,1161L1174.5,1161.4L1178.6,1159.8L1184,1161.6L1188.1,1159.9L1189.5,1161.2L1192.2,1161.2L1196.3,1157.3L1197.6,1156.5L1199,1156.4L1204.4,1158L1209.8,1162.9L1211.2,1162.7L1216.6,1155.4L1220.7,1151.6L1222,1150.8L1223.4,1150.8L1224.8,1151.5L1227.5,1154.1L1228.8,1154.7L1232.9,1155L1237,1156.4L1242.4,1152.9L1246.5,1153.2L1250.5,1152.1L1254.6,1154.5L1256,1154.8L1260,1154.1L1264.1,1156L1268.2,1155.1L1273.6,1157.6L1277.7,1156.4L1281.8,1156.8L1287.2,1153L1291.3,1153.8L1295.3,1152.8L1299.4,1154.4L1300.8,1154.2L1304.8,1151.6L1306.2,1151.6L1308.9,1152.8L1313,1151.5L1314.3,1151.6L1318.4,1154.5L1322.5,1153.8L1326.5,1154.9L1330.6,1153.4L1332,1153.5L1336,1156.4L1340.1,1156.4L1344.2,1158.1L1345.5,1158L1349.6,1155.7L1353.7,1156.8L1357.7,1156L1363.2,1158L1367.2,1155.5L1371.3,1155.2L1375.4,1153.1"/>
<path id="ck21" d="M878.6,1052.1L881.3,1056.1L884.1,1066.7L886.8,1089.2L892.2,1143.4L893.6,1151.9L893.7,1132.7L896.4,1138.3L897.7,1138.7L900.4,1136.3L904.5,1134.3L908.6,1133.8L909.9,1134L914,1137.8L916.7,1138.7L922.1,1145.2L923.5,1146.1L924.9,1146.1L927.6,1145.2L928.9,1145.5L931.6,1147.3L933,1147.4L934.4,1146.3L935.7,1143.8L939.8,1133L941.1,1131L942.5,1131L943.9,1133.2L945.2,1137.6L949.3,1153L950.6,1154.9L952,1154.7L954.7,1152.1L956.1,1151.7L966.9,1154.3L968.3,1153.5L971,1147.6L977.8,1121.5L979.1,1117.9L980.5,1117.4L981.9,1122L985.9,1144.3L987.3,1149.5L988.6,1152.7L994.1,1160.3L995.4,1161.5L996.8,1161.7L1003.6,1158.7L1004.9,1157.2L1009,1150.5L1013.1,1145.3L1015.8,1140.5L1017.1,1138.9L1018.5,1138.7L1019.9,1139.9L1022.6,1144.1L1029.4,1152.6L1030.7,1153.9L1032.1,1154.3L1036.1,1152.7L1040.2,1152.2L1044.3,1148.3L1048.3,1147.2L1049.7,1146.1L1053.8,1140.2L1056.5,1138.5L1061.9,1141L1066,1145.7L1068.7,1147.7L1074.1,1147.1L1076.8,1145.4L1080.9,1141.2L1085,1140.4L1089.1,1142.4L1093.1,1146.7L1094.5,1147.3L1098.6,1146.4L1099.9,1146.9L1102.6,1148.9L1106.7,1150.2L1112.1,1154.8L1113.5,1154.7L1116.2,1153.4L1120.3,1152.8L1124.3,1149.9L1125.7,1149.5L1129.8,1151.8L1131.1,1151.9L1133.8,1151.2L1137.9,1151.3L1142,1148.4L1143.3,1148.3L1147.4,1150.6L1148.8,1150.8L1151.5,1150.2L1152.8,1150.6L1156.9,1154.2L1161,1153.1L1162.3,1153.2L1165.1,1155.1L1166.4,1155.5L1169.1,1155.3L1170.5,1155.9L1174.5,1160L1175.9,1160.5L1180,1160.3L1182.7,1161.4L1184,1161.4L1188.1,1158.4L1192.2,1159.1L1197.6,1156.9L1201.7,1158.9L1205.8,1159.4L1209.8,1161.6L1211.2,1161.2L1216.6,1154.9L1223.4,1151.7L1224.8,1151.7L1228.8,1154.8L1230.2,1154.8L1232.9,1153.9L1238.3,1154.8L1242.4,1153.2L1246.5,1153.1L1250.5,1150.2L1251.9,1150.1L1256,1152.2L1260,1153L1264.1,1156.4L1265.5,1156.6L1269.5,1155.1L1273.6,1156L1277.7,1154.9L1281.8,1156.8L1283.1,1156.9L1287.2,1154.6L1291.3,1154.2L1295.3,1151.5L1296.7,1151.5L1300.8,1153.3L1304.8,1152.4L1308.9,1153.1L1313,1151.6L1314.3,1151.5L1318.4,1153L1322.5,1152L1326.5,1154.7L1327.9,1154.9L1332,1153.3L1336,1154.4L1340.1,1153.8L1341.5,1154.3L1345.5,1157.3L1349.6,1156.4L1353.7,1157.1L1359.1,1154.7L1363.2,1156.6L1367.2,1155.9L1371.3,1156.8L1372.7,1156.5L1375.4,1154.2"/>
<path id="ck22" d="M878.8,1052.1L881.5,1056.1L884.2,1066.7L886.9,1089.2L892.3,1143.4L893.7,1151.9L893.7,1132L896.4,1134.9L899.1,1133.4L900.4,1133.2L903.1,1133.9L907.2,1133.1L908.6,1133.4L911.3,1136.6L912.6,1137.3L916.7,1137.9L920.8,1141.1L924.9,1142.4L930.3,1149.6L931.6,1150.2L933,1149.6L934.4,1147.9L935.7,1145L937.1,1140.5L941.1,1119.6L942.5,1117L943.9,1120.1L947.9,1146.9L949.3,1153.2L950.6,1156.4L952,1157.3L953.4,1156.9L956.1,1154.4L961.5,1146.4L962.9,1145.9L966.9,1148.5L968.3,1148.7L969.6,1148.2L971,1147L973.7,1141.3L977.8,1120.9L979.1,1117.1L980.5,1117.1L981.9,1121L985.9,1142.2L988.6,1151.5L992.7,1159.4L994.1,1160.6L995.4,1160.9L1000.9,1160.9L1002.2,1160L1007.6,1149.6L1009,1148.2L1014.4,1144.4L1015.8,1143.7L1019.9,1143.8L1023.9,1142L1025.3,1142.5L1026.6,1144.1L1030.7,1150.1L1036.1,1154.3L1037.5,1155L1038.8,1154.6L1049.7,1138.7L1051.1,1137.1L1052.4,1136.5L1053.8,1136.7L1056.5,1139.3L1061.9,1141.2L1064.6,1144.8L1066,1145.9L1070.1,1146.2L1072.8,1147.1L1074.1,1147L1078.2,1143.7L1082.3,1143.8L1083.6,1143.1L1087.7,1138.8L1089.1,1138.6L1095.8,1143.7L1099.9,1149.7L1101.3,1151.1L1102.6,1151.4L1105.3,1150.7L1109.4,1151.2L1113.5,1149.7L1114.8,1149.7L1118.9,1152.6L1120.3,1152.8L1123,1151.9L1127.1,1151.4L1128.4,1150.6L1131.1,1147.5L1132.5,1147.2L1136.6,1148.9L1142,1148.2L1144.7,1150L1146.1,1150.4L1150.1,1149.8L1155.6,1152.6L1159.6,1152.2L1161,1153L1163.7,1155.9L1165.1,1156.6L1169.1,1156.5L1173.2,1158.1L1177.3,1157.5L1182.7,1161.2L1188.1,1160L1189.5,1161L1190.8,1160.3L1194.9,1155.6L1196.3,1154.8L1197.6,1154.8L1203,1156.9L1208.5,1162.8L1209.8,1162.7L1211.2,1161.3L1215.3,1155.3L1220.7,1150.6L1222,1150.3L1227.5,1154.1L1231.5,1153.9L1235.6,1155L1241,1152.4L1243.8,1152.9L1249.2,1151.7L1253.3,1153L1254.6,1152.8L1257.3,1151.2L1258.7,1151.1L1262.8,1153.6L1266.8,1154.4L1270.9,1157.1L1272.3,1157.3L1276.3,1155.1L1280.4,1155L1284.5,1152.6L1285.8,1152.6L1289.9,1154.4L1294,1152.8L1298,1153L1303.5,1151.2L1307.5,1152.7L1311.6,1151.4L1317,1153L1321.1,1151.7L1325.2,1153.2L1326.5,1153.1L1329.2,1152L1330.6,1152.5L1334.7,1155.7L1338.7,1154.8L1342.8,1155.6L1346.9,1154.1L1348.2,1154L1352.3,1156.5L1353.7,1156.7L1356.4,1156L1360.5,1156.9L1361.8,1156.6L1365.9,1153.6L1367.2,1153.5L1370,1154.3L1375.4,1153.5"/>
<path id="ck23" d="M878.9,1052.1L881.6,1056.1L884.3,1066.7L887,1089.2L892.5,1143.4L893.8,1151.9L893.7,1132.9L895,1135.7L896.4,1136.9L897.7,1137.2L900.4,1133.9L903.1,1132.5L907.2,1134.4L911.3,1134.9L916.7,1139.3L920.8,1139.8L926.2,1143.4L928.9,1143.4L933,1144.9L934.4,1144.4L935.7,1142.3L939.8,1127L941.1,1123.3L942.5,1122.5L943.9,1124.5L947.9,1140.6L950.6,1148.8L952,1150.6L953.4,1151.1L957.4,1150.6L961.5,1152.7L962.9,1152.6L968.3,1149.2L971,1146L972.4,1142.7L977.8,1121.1L979.1,1118.4L980.5,1118.3L981.9,1121.2L983.2,1126.6L987.3,1148.3L988.6,1153L990,1155.6L991.4,1157L996.8,1162L998.1,1162.2L999.5,1161.4L1004.9,1155.9L1006.3,1153.8L1011.7,1141.9L1017.1,1135.4L1018.5,1135L1019.9,1136L1025.3,1145.8L1033.4,1151.8L1037.5,1150.6L1041.6,1151L1042.9,1150.4L1049.7,1143.7L1053.8,1136.9L1055.1,1136.3L1056.5,1136.8L1060.6,1141.1L1064.6,1143.4L1068.7,1147.3L1070.1,1147.5L1074.1,1145.6L1076.8,1145.2L1078.2,1144.6L1082.3,1140.3L1083.6,1139.6L1090.4,1139.9L1091.8,1140L1095.8,1142L1099.9,1142.2L1101.3,1143.3L1105.3,1148.9L1113.5,1153L1114.8,1152.6L1118.9,1149.5L1123,1150L1127.1,1149.5L1131.1,1151.8L1132.5,1151.9L1137.9,1147.9L1140.6,1149.4L1144.7,1148.7L1146.1,1148.9L1150.1,1151.2L1154.2,1150.8L1158.3,1153.3L1159.6,1153.6L1163.7,1153.4L1167.8,1155.9L1171.8,1155.7L1175.9,1158.9L1177.3,1159.3L1181.3,1158L1185.4,1159.2L1190.8,1157.3L1194.9,1158L1199,1155.6L1200.3,1155.7L1204.4,1158.6L1207.1,1159L1211.2,1160.7L1212.5,1160.3L1216.6,1154.5L1218,1152.9L1219.3,1152.1L1224.8,1151.7L1226.1,1152L1230.2,1155.2L1231.5,1155.3L1235.6,1153.6L1239.7,1154.2L1243.8,1151.6L1249.2,1151.6L1253.3,1149.4L1254.6,1149.7L1257.3,1151.8L1262.8,1152.7L1265.5,1154.3L1266.8,1154.6L1270.9,1153.1L1276.3,1155.5L1280.4,1154.9L1283.1,1155.8L1284.5,1155.8L1288.5,1152.6L1289.9,1152.1L1294,1152.6L1298,1151.5L1302.1,1153.3L1303.5,1153.1L1306.2,1151.4L1307.5,1151.3L1311.6,1152.8L1315.7,1151.5L1319.7,1153L1321.1,1153.1L1325.2,1151.8L1329.2,1153.4L1333.3,1152.1L1334.7,1152.1L1337.4,1153.4L1342.8,1153.8L1346.9,1156.1L1348.2,1156L1352.3,1154L1356.4,1155L1360.5,1154.2L1364.5,1156.5L1365.9,1156.7L1370,1154.7L1374,1154.5L1375.4,1153.8"/>
<clipPath id="hc-c"><rect x="1493.0" y="21.0" width="476.0" height="212.1"/></clipPath>
<radialGradient id="q78"><stop offset="0" stop-color="#4e4e4e" stop-opacity="1.000"/><stop offset="0.12" stop-color="#4e4e4e" stop-opacity="0.951"/><stop offset="0.24" stop-color="#4e4e4e" stop-opacity="0.817"/><stop offset="0.36" stop-color="#4e4e4e" stop-opacity="0.633"/><stop offset="0.48" stop-color="#4e4e4e" stop-opacity="0.440"/><stop offset="0.6" stop-color="#4e4e4e" stop-opacity="0.271"/><stop offset="0.72" stop-color="#4e4e4e" stop-opacity="0.144"/><stop offset="0.86" stop-color="#4e4e4e" stop-opacity="0.050"/><stop offset="1" stop-color="#4e4e4e" stop-opacity="0.000"/></radialGradient>
<radialGradient id="q81"><stop offset="0" stop-color="#515151" stop-opacity="1.000"/><stop offset="0.12" stop-color="#515151" stop-opacity="0.951"/><stop offset="0.24" stop-color="#515151" stop-opacity="0.817"/><stop offset="0.36" stop-color="#515151" stop-opacity="0.633"/><stop offset="0.48" stop-color="#515151" stop-opacity="0.440"/><stop offset="0.6" stop-color="#515151" stop-opacity="0.271"/><stop offset="0.72" stop-color="#515151" stop-opacity="0.144"/><stop offset="0.86" stop-color="#515151" stop-opacity="0.050"/><stop offset="1" stop-color="#515151" stop-opacity="0.000"/></radialGradient>
<radialGradient id="q79"><stop offset="0" stop-color="#4f4f4f" stop-opacity="1.000"/><stop offset="0.12" stop-color="#4f4f4f" stop-opacity="0.951"/><stop offset="0.24" stop-color="#4f4f4f" stop-opacity="0.817"/><stop offset="0.36" stop-color="#4f4f4f" stop-opacity="0.633"/><stop offset="0.48" stop-color="#4f4f4f" stop-opacity="0.440"/><stop offset="0.6" stop-color="#4f4f4f" stop-opacity="0.271"/><stop offset="0.72" stop-color="#4f4f4f" stop-opacity="0.144"/><stop offset="0.86" stop-color="#4f4f4f" stop-opacity="0.050"/><stop offset="1" stop-color="#4f4f4f" stop-opacity="0.000"/></radialGradient>
<radialGradient id="q77"><stop offset="0" stop-color="#4d4d4d" stop-opacity="1.000"/><stop offset="0.12" stop-color="#4d4d4d" stop-opacity="0.951"/><stop offset="0.24" stop-color="#4d4d4d" stop-opacity="0.817"/><stop offset="0.36" stop-color="#4d4d4d" stop-opacity="0.633"/><stop offset="0.48" stop-color="#4d4d4d" stop-opacity="0.440"/><stop offset="0.6" stop-color="#4d4d4d" stop-opacity="0.271"/><stop offset="0.72" stop-color="#4d4d4d" stop-opacity="0.144"/><stop offset="0.86" stop-color="#4d4d4d" stop-opacity="0.050"/><stop offset="1" stop-color="#4d4d4d" stop-opacity="0.000"/></radialGradient>
<radialGradient id="q75"><stop offset="0" stop-color="#4b4b4b" stop-opacity="1.000"/><stop offset="0.12" stop-color="#4b4b4b" stop-opacity="0.951"/><stop offset="0.24" stop-color="#4b4b4b" stop-opacity="0.817"/><stop offset="0.36" stop-color="#4b4b4b" stop-opacity="0.633"/><stop offset="0.48" stop-color="#4b4b4b" stop-opacity="0.440"/><stop offset="0.6" stop-color="#4b4b4b" stop-opacity="0.271"/><stop offset="0.72" stop-color="#4b4b4b" stop-opacity="0.144"/><stop offset="0.86" stop-color="#4b4b4b" stop-opacity="0.050"/><stop offset="1" stop-color="#4b4b4b" stop-opacity="0.000"/></radialGradient>
<radialGradient id="q60"><stop offset="0" stop-color="#3c3c3c" stop-opacity="1.000"/><stop offset="0.12" stop-color="#3c3c3c" stop-opacity="0.951"/><stop offset="0.24" stop-color="#3c3c3c" stop-opacity="0.817"/><stop offset="0.36" stop-color="#3c3c3c" stop-opacity="0.633"/><stop offset="0.48" stop-color="#3c3c3c" stop-opacity="0.440"/><stop offset="0.6" stop-color="#3c3c3c" stop-opacity="0.271"/><stop offset="0.72" stop-color="#3c3c3c" stop-opacity="0.144"/><stop offset="0.86" stop-color="#3c3c3c" stop-opacity="0.050"/><stop offset="1" stop-color="#3c3c3c" stop-opacity="0.000"/></radialGradient>
<radialGradient id="q59"><stop offset="0" stop-color="#3b3b3b" stop-opacity="1.000"/><stop offset="0.12" stop-color="#3b3b3b" stop-opacity="0.951"/><stop offset="0.24" stop-color="#3b3b3b" stop-opacity="0.817"/><stop offset="0.36" stop-color="#3b3b3b" stop-opacity="0.633"/><stop offset="0.48" stop-color="#3b3b3b" stop-opacity="0.440"/><stop offset="0.6" stop-color="#3b3b3b" stop-opacity="0.271"/><stop offset="0.72" stop-color="#3b3b3b" stop-opacity="0.144"/><stop offset="0.86" stop-color="#3b3b3b" stop-opacity="0.050"/><stop offset="1" stop-color="#3b3b3b" stop-opacity="0.000"/></radialGradient>
<radialGradient id="q61"><stop offset="0" stop-color="#3d3d3d" stop-opacity="1.000"/><stop offset="0.12" stop-color="#3d3d3d" stop-opacity="0.951"/><stop offset="0.24" stop-color="#3d3d3d" stop-opacity="0.817"/><stop offset="0.36" stop-color="#3d3d3d" stop-opacity="0.633"/><stop offset="0.48" stop-color="#3d3d3d" stop-opacity="0.440"/><stop offset="0.6" stop-color="#3d3d3d" stop-opacity="0.271"/><stop offset="0.72" stop-color="#3d3d3d" stop-opacity="0.144"/><stop offset="0.86" stop-color="#3d3d3d" stop-opacity="0.050"/><stop offset="1" stop-color="#3d3d3d" stop-opacity="0.000"/></radialGradient>
<radialGradient id="q65"><stop offset="0" stop-color="#414141" stop-opacity="1.000"/><stop offset="0.12" stop-color="#414141" stop-opacity="0.951"/><stop offset="0.24" stop-color="#414141" stop-opacity="0.817"/><stop offset="0.36" stop-color="#414141" stop-opacity="0.633"/><stop offset="0.48" stop-color="#414141" stop-opacity="0.440"/><stop offset="0.6" stop-color="#414141" stop-opacity="0.271"/><stop offset="0.72" stop-color="#414141" stop-opacity="0.144"/><stop offset="0.86" stop-color="#414141" stop-opacity="0.050"/><stop offset="1" stop-color="#414141" stop-opacity="0.000"/></radialGradient>
<radialGradient id="q62"><stop offset="0" stop-color="#3e3e3e" stop-opacity="1.000"/><stop offset="0.12" stop-color="#3e3e3e" stop-opacity="0.951"/><stop offset="0.24" stop-color="#3e3e3e" stop-opacity="0.817"/><stop offset="0.36" stop-color="#3e3e3e" stop-opacity="0.633"/><stop offset="0.48" stop-color="#3e3e3e" stop-opacity="0.440"/><stop offset="0.6" stop-color="#3e3e3e" stop-opacity="0.271"/><stop offset="0.72" stop-color="#3e3e3e" stop-opacity="0.144"/><stop offset="0.86" stop-color="#3e3e3e" stop-opacity="0.050"/><stop offset="1" stop-color="#3e3e3e" stop-opacity="0.000"/></radialGradient>
<radialGradient id="q64"><stop offset="0" stop-color="#404040" stop-opacity="1.000"/><stop offset="0.12" stop-color="#404040" stop-opacity="0.951"/><stop offset="0.24" stop-color="#404040" stop-opacity="0.817"/><stop offset="0.36" stop-color="#404040" stop-opacity="0.633"/><stop offset="0.48" stop-color="#404040" stop-opacity="0.440"/><stop offset="0.6" stop-color="#404040" stop-opacity="0.271"/><stop offset="0.72" stop-color="#404040" stop-opacity="0.144"/><stop offset="0.86" stop-color="#404040" stop-opacity="0.050"/><stop offset="1" stop-color="#404040" stop-opacity="0.000"/></radialGradient>
<radialGradient id="q80"><stop offset="0" stop-color="#505050" stop-opacity="1.000"/><stop offset="0.12" stop-color="#505050" stop-opacity="0.951"/><stop offset="0.24" stop-color="#505050" stop-opacity="0.817"/><stop offset="0.36" stop-color="#505050" stop-opacity="0.633"/><stop offset="0.48" stop-color="#505050" stop-opacity="0.440"/><stop offset="0.6" stop-color="#505050" stop-opacity="0.271"/><stop offset="0.72" stop-color="#505050" stop-opacity="0.144"/><stop offset="0.86" stop-color="#505050" stop-opacity="0.050"/><stop offset="1" stop-color="#505050" stop-opacity="0.000"/></radialGradient>
<radialGradient id="r88"><stop offset="0" stop-color="#585858" stop-opacity="1.000"/><stop offset="0.25" stop-color="#585858" stop-opacity="0.969"/><stop offset="0.35" stop-color="#585858" stop-opacity="0.887"/><stop offset="0.45" stop-color="#585858" stop-opacity="0.720"/><stop offset="0.55" stop-color="#585858" stop-opacity="0.481"/><stop offset="0.65" stop-color="#585858" stop-opacity="0.240"/><stop offset="0.75" stop-color="#585858" stop-opacity="0.079"/><stop offset="0.87" stop-color="#585858" stop-opacity="0.010"/><stop offset="1" stop-color="#585858" stop-opacity="0.000"/></radialGradient>
<radialGradient id="r95"><stop offset="0" stop-color="#5f5f5f" stop-opacity="1.000"/><stop offset="0.25" stop-color="#5f5f5f" stop-opacity="0.969"/><stop offset="0.35" stop-color="#5f5f5f" stop-opacity="0.887"/><stop offset="0.45" stop-color="#5f5f5f" stop-opacity="0.720"/><stop offset="0.55" stop-color="#5f5f5f" stop-opacity="0.481"/><stop offset="0.65" stop-color="#5f5f5f" stop-opacity="0.240"/><stop offset="0.75" stop-color="#5f5f5f" stop-opacity="0.079"/><stop offset="0.87" stop-color="#5f5f5f" stop-opacity="0.010"/><stop offset="1" stop-color="#5f5f5f" stop-opacity="0.000"/></radialGradient>
<radialGradient id="q96"><stop offset="0" stop-color="#606060" stop-opacity="1.000"/><stop offset="0.12" stop-color="#606060" stop-opacity="0.951"/><stop offset="0.24" stop-color="#606060" stop-opacity="0.817"/><stop offset="0.36" stop-color="#606060" stop-opacity="0.633"/><stop offset="0.48" stop-color="#606060" stop-opacity="0.440"/><stop offset="0.6" stop-color="#606060" stop-opacity="0.271"/><stop offset="0.72" stop-color="#606060" stop-opacity="0.144"/><stop offset="0.86" stop-color="#606060" stop-opacity="0.050"/><stop offset="1" stop-color="#606060" stop-opacity="0.000"/></radialGradient>
<radialGradient id="q95"><stop offset="0" stop-color="#5f5f5f" stop-opacity="1.000"/><stop offset="0.12" stop-color="#5f5f5f" stop-opacity="0.951"/><stop offset="0.24" stop-color="#5f5f5f" stop-opacity="0.817"/><stop offset="0.36" stop-color="#5f5f5f" stop-opacity="0.633"/><stop offset="0.48" stop-color="#5f5f5f" stop-opacity="0.440"/><stop offset="0.6" stop-color="#5f5f5f" stop-opacity="0.271"/><stop offset="0.72" stop-color="#5f5f5f" stop-opacity="0.144"/><stop offset="0.86" stop-color="#5f5f5f" stop-opacity="0.050"/><stop offset="1" stop-color="#5f5f5f" stop-opacity="0.000"/></radialGradient>
<radialGradient id="q92"><stop offset="0" stop-color="#5c5c5c" stop-opacity="1.000"/><stop offset="0.12" stop-color="#5c5c5c" stop-opacity="0.951"/><stop offset="0.24" stop-color="#5c5c5c" stop-opacity="0.817"/><stop offset="0.36" stop-color="#5c5c5c" stop-opacity="0.633"/><stop offset="0.48" stop-color="#5c5c5c" stop-opacity="0.440"/><stop offset="0.6" stop-color="#5c5c5c" stop-opacity="0.271"/><stop offset="0.72" stop-color="#5c5c5c" stop-opacity="0.144"/><stop offset="0.86" stop-color="#5c5c5c" stop-opacity="0.050"/><stop offset="1" stop-color="#5c5c5c" stop-opacity="0.000"/></radialGradient>
<radialGradient id="r117"><stop offset="0" stop-color="#757575" stop-opacity="1.000"/><stop offset="0.25" stop-color="#757575" stop-opacity="0.969"/><stop offset="0.35" stop-color="#757575" stop-opacity="0.887"/><stop offset="0.45" stop-color="#757575" stop-opacity="0.720"/><stop offset="0.55" stop-color="#757575" stop-opacity="0.481"/><stop offset="0.65" stop-color="#757575" stop-opacity="0.240"/><stop offset="0.75" stop-color="#757575" stop-opacity="0.079"/><stop offset="0.87" stop-color="#757575" stop-opacity="0.010"/><stop offset="1" stop-color="#757575" stop-opacity="0.000"/></radialGradient>
<radialGradient id="r118"><stop offset="0" stop-color="#767676" stop-opacity="1.000"/><stop offset="0.25" stop-color="#767676" stop-opacity="0.969"/><stop offset="0.35" stop-color="#767676" stop-opacity="0.887"/><stop offset="0.45" stop-color="#767676" stop-opacity="0.720"/><stop offset="0.55" stop-color="#767676" stop-opacity="0.481"/><stop offset="0.65" stop-color="#767676" stop-opacity="0.240"/><stop offset="0.75" stop-color="#767676" stop-opacity="0.079"/><stop offset="0.87" stop-color="#767676" stop-opacity="0.010"/><stop offset="1" stop-color="#767676" stop-opacity="0.000"/></radialGradient>
<radialGradient id="r115"><stop offset="0" stop-color="#737373" stop-opacity="1.000"/><stop offset="0.25" stop-color="#737373" stop-opacity="0.969"/><stop offset="0.35" stop-color="#737373" stop-opacity="0.887"/><stop offset="0.45" stop-color="#737373" stop-opacity="0.720"/><stop offset="0.55" stop-color="#737373" stop-opacity="0.481"/><stop offset="0.65" stop-color="#737373" stop-opacity="0.240"/><stop offset="0.75" stop-color="#737373" stop-opacity="0.079"/><stop offset="0.87" stop-color="#737373" stop-opacity="0.010"/><stop offset="1" stop-color="#737373" stop-opacity="0.000"/></radialGradient>
<radialGradient id="q125"><stop offset="0" stop-color="#7d7d7d" stop-opacity="1.000"/><stop offset="0.12" stop-color="#7d7d7d" stop-opacity="0.951"/><stop offset="0.24" stop-color="#7d7d7d" stop-opacity="0.817"/><stop offset="0.36" stop-color="#7d7d7d" stop-opacity="0.633"/><stop offset="0.48" stop-color="#7d7d7d" stop-opacity="0.440"/><stop offset="0.6" stop-color="#7d7d7d" stop-opacity="0.271"/><stop offset="0.72" stop-color="#7d7d7d" stop-opacity="0.144"/><stop offset="0.86" stop-color="#7d7d7d" stop-opacity="0.050"/><stop offset="1" stop-color="#7d7d7d" stop-opacity="0.000"/></radialGradient>
<radialGradient id="q127"><stop offset="0" stop-color="#7f7f7f" stop-opacity="1.000"/><stop offset="0.12" stop-color="#7f7f7f" stop-opacity="0.951"/><stop offset="0.24" stop-color="#7f7f7f" stop-opacity="0.817"/><stop offset="0.36" stop-color="#7f7f7f" stop-opacity="0.633"/><stop offset="0.48" stop-color="#7f7f7f" stop-opacity="0.440"/><stop offset="0.6" stop-color="#7f7f7f" stop-opacity="0.271"/><stop offset="0.72" stop-color="#7f7f7f" stop-opacity="0.144"/><stop offset="0.86" stop-color="#7f7f7f" stop-opacity="0.050"/><stop offset="1" stop-color="#7f7f7f" stop-opacity="0.000"/></radialGradient>
<radialGradient id="q123"><stop offset="0" stop-color="#7b7b7b" stop-opacity="1.000"/><stop offset="0.12" stop-color="#7b7b7b" stop-opacity="0.951"/><stop offset="0.24" stop-color="#7b7b7b" stop-opacity="0.817"/><stop offset="0.36" stop-color="#7b7b7b" stop-opacity="0.633"/><stop offset="0.48" stop-color="#7b7b7b" stop-opacity="0.440"/><stop offset="0.6" stop-color="#7b7b7b" stop-opacity="0.271"/><stop offset="0.72" stop-color="#7b7b7b" stop-opacity="0.144"/><stop offset="0.86" stop-color="#7b7b7b" stop-opacity="0.050"/><stop offset="1" stop-color="#7b7b7b" stop-opacity="0.000"/></radialGradient>
<radialGradient id="q87"><stop offset="0" stop-color="#575757" stop-opacity="1.000"/><stop offset="0.12" stop-color="#575757" stop-opacity="0.951"/><stop offset="0.24" stop-color="#575757" stop-opacity="0.817"/><stop offset="0.36" stop-color="#575757" stop-opacity="0.633"/><stop offset="0.48" stop-color="#575757" stop-opacity="0.440"/><stop offset="0.6" stop-color="#575757" stop-opacity="0.271"/><stop offset="0.72" stop-color="#575757" stop-opacity="0.144"/><stop offset="0.86" stop-color="#575757" stop-opacity="0.050"/><stop offset="1" stop-color="#575757" stop-opacity="0.000"/></radialGradient>
<radialGradient id="q84"><stop offset="0" stop-color="#545454" stop-opacity="1.000"/><stop offset="0.12" stop-color="#545454" stop-opacity="0.951"/><stop offset="0.24" stop-color="#545454" stop-opacity="0.817"/><stop offset="0.36" stop-color="#545454" stop-opacity="0.633"/><stop offset="0.48" stop-color="#545454" stop-opacity="0.440"/><stop offset="0.6" stop-color="#545454" stop-opacity="0.271"/><stop offset="0.72" stop-color="#545454" stop-opacity="0.144"/><stop offset="0.86" stop-color="#545454" stop-opacity="0.050"/><stop offset="1" stop-color="#545454" stop-opacity="0.000"/></radialGradient>
<filter id="bc0" filterUnits="userSpaceOnUse" x="1453" y="-19" width="556" height="292" color-interpolation-filters="sRGB"><feGaussianBlur stdDeviation="1 1"/></filter>
<filter id="dpc" filterUnits="userSpaceOnUse" x="1473" y="1" width="516" height="252" color-interpolation-filters="sRGB"><feTurbulence type="fractalNoise" baseFrequency="0.03 0.05" numOctaves="2" seed="3" result="t"/><feDisplacementMap in="SourceGraphic" in2="t" scale="6" xChannelSelector="R" yChannelSelector="G"/></filter>
<linearGradient id="cbar" x1="0" y1="0" x2="0" y2="1"><stop offset="0.0000" stop-color="#a00000"/><stop offset="0.0500" stop-color="#b00000"/><stop offset="0.0780" stop-color="#c00000"/><stop offset="0.1100" stop-color="#d00000"/><stop offset="0.1420" stop-color="#dc2000"/><stop offset="0.1740" stop-color="#f04000"/><stop offset="0.2060" stop-color="#ff5800"/><stop offset="0.2380" stop-color="#ff7000"/><stop offset="0.2780" stop-color="#ff8800"/><stop offset="0.3180" stop-color="#ff9c00"/><stop offset="0.3500" stop-color="#f8a808"/><stop offset="0.3780" stop-color="#f0b010"/><stop offset="0.4000" stop-color="#e4c020"/><stop offset="0.4400" stop-color="#d0d030"/><stop offset="0.4800" stop-color="#a8d040"/><stop offset="0.5180" stop-color="#80cc50"/><stop offset="0.5540" stop-color="#60c868"/><stop offset="0.5776" stop-color="#48b088"/><stop offset="0.6000" stop-color="#3898b0"/><stop offset="0.6168" stop-color="#2088d0"/><stop offset="0.6360" stop-color="#1078f0"/><stop offset="0.6560" stop-color="#0068ff"/><stop offset="0.6960" stop-color="#0040f0"/><stop offset="0.7360" stop-color="#0010e0"/><stop offset="0.7740" stop-color="#0000d0"/><stop offset="0.8000" stop-color="#0000c0"/><stop offset="0.8536" stop-color="#0000a8"/><stop offset="0.8936" stop-color="#000090"/><stop offset="0.9332" stop-color="#000070"/><stop offset="0.9720" stop-color="#000048"/><stop offset="1.0000" stop-color="#00001e"/><stop offset="1" stop-color="#000008"/></linearGradient>
<clipPath id="hc-f"><rect x="1493.0" y="360.3" width="476.0" height="212.1"/></clipPath>
<filter id="bf0" filterUnits="userSpaceOnUse" x="1453" y="320" width="556" height="292" color-interpolation-filters="sRGB"><feGaussianBlur stdDeviation="10 5"/></filter>
<filter id="bf1" filterUnits="userSpaceOnUse" x="1453" y="320" width="556" height="292" color-interpolation-filters="sRGB"><feGaussianBlur stdDeviation="20 5"/></filter>
<filter id="bf2" filterUnits="userSpaceOnUse" x="1453" y="320" width="556" height="292" color-interpolation-filters="sRGB"><feGaussianBlur stdDeviation="10 4.5"/></filter>
<radialGradient id="q112"><stop offset="0" stop-color="#707070" stop-opacity="1.000"/><stop offset="0.12" stop-color="#707070" stop-opacity="0.951"/><stop offset="0.24" stop-color="#707070" stop-opacity="0.817"/><stop offset="0.36" stop-color="#707070" stop-opacity="0.633"/><stop offset="0.48" stop-color="#707070" stop-opacity="0.440"/><stop offset="0.6" stop-color="#707070" stop-opacity="0.271"/><stop offset="0.72" stop-color="#707070" stop-opacity="0.144"/><stop offset="0.86" stop-color="#707070" stop-opacity="0.050"/><stop offset="1" stop-color="#707070" stop-opacity="0.000"/></radialGradient>
<radialGradient id="q108"><stop offset="0" stop-color="#6c6c6c" stop-opacity="1.000"/><stop offset="0.12" stop-color="#6c6c6c" stop-opacity="0.951"/><stop offset="0.24" stop-color="#6c6c6c" stop-opacity="0.817"/><stop offset="0.36" stop-color="#6c6c6c" stop-opacity="0.633"/><stop offset="0.48" stop-color="#6c6c6c" stop-opacity="0.440"/><stop offset="0.6" stop-color="#6c6c6c" stop-opacity="0.271"/><stop offset="0.72" stop-color="#6c6c6c" stop-opacity="0.144"/><stop offset="0.86" stop-color="#6c6c6c" stop-opacity="0.050"/><stop offset="1" stop-color="#6c6c6c" stop-opacity="0.000"/></radialGradient>
<filter id="bf3" filterUnits="userSpaceOnUse" x="1453" y="320" width="556" height="292" color-interpolation-filters="sRGB"><feGaussianBlur stdDeviation="10 4"/></filter>
<radialGradient id="q107"><stop offset="0" stop-color="#6b6b6b" stop-opacity="1.000"/><stop offset="0.12" stop-color="#6b6b6b" stop-opacity="0.951"/><stop offset="0.24" stop-color="#6b6b6b" stop-opacity="0.817"/><stop offset="0.36" stop-color="#6b6b6b" stop-opacity="0.633"/><stop offset="0.48" stop-color="#6b6b6b" stop-opacity="0.440"/><stop offset="0.6" stop-color="#6b6b6b" stop-opacity="0.271"/><stop offset="0.72" stop-color="#6b6b6b" stop-opacity="0.144"/><stop offset="0.86" stop-color="#6b6b6b" stop-opacity="0.050"/><stop offset="1" stop-color="#6b6b6b" stop-opacity="0.000"/></radialGradient>
<radialGradient id="q88"><stop offset="0" stop-color="#585858" stop-opacity="1.000"/><stop offset="0.12" stop-color="#585858" stop-opacity="0.951"/><stop offset="0.24" stop-color="#585858" stop-opacity="0.817"/><stop offset="0.36" stop-color="#585858" stop-opacity="0.633"/><stop offset="0.48" stop-color="#585858" stop-opacity="0.440"/><stop offset="0.6" stop-color="#585858" stop-opacity="0.271"/><stop offset="0.72" stop-color="#585858" stop-opacity="0.144"/><stop offset="0.86" stop-color="#585858" stop-opacity="0.050"/><stop offset="1" stop-color="#585858" stop-opacity="0.000"/></radialGradient>
<radialGradient id="q100"><stop offset="0" stop-color="#646464" stop-opacity="1.000"/><stop offset="0.12" stop-color="#646464" stop-opacity="0.951"/><stop offset="0.24" stop-color="#646464" stop-opacity="0.817"/><stop offset="0.36" stop-color="#646464" stop-opacity="0.633"/><stop offset="0.48" stop-color="#646464" stop-opacity="0.440"/><stop offset="0.6" stop-color="#646464" stop-opacity="0.271"/><stop offset="0.72" stop-color="#646464" stop-opacity="0.144"/><stop offset="0.86" stop-color="#646464" stop-opacity="0.050"/><stop offset="1" stop-color="#646464" stop-opacity="0.000"/></radialGradient>
<radialGradient id="q97"><stop offset="0" stop-color="#616161" stop-opacity="1.000"/><stop offset="0.12" stop-color="#616161" stop-opacity="0.951"/><stop offset="0.24" stop-color="#616161" stop-opacity="0.817"/><stop offset="0.36" stop-color="#616161" stop-opacity="0.633"/><stop offset="0.48" stop-color="#616161" stop-opacity="0.440"/><stop offset="0.6" stop-color="#616161" stop-opacity="0.271"/><stop offset="0.72" stop-color="#616161" stop-opacity="0.144"/><stop offset="0.86" stop-color="#616161" stop-opacity="0.050"/><stop offset="1" stop-color="#616161" stop-opacity="0.000"/></radialGradient>
<radialGradient id="q109"><stop offset="0" stop-color="#6d6d6d" stop-opacity="1.000"/><stop offset="0.12" stop-color="#6d6d6d" stop-opacity="0.951"/><stop offset="0.24" stop-color="#6d6d6d" stop-opacity="0.817"/><stop offset="0.36" stop-color="#6d6d6d" stop-opacity="0.633"/><stop offset="0.48" stop-color="#6d6d6d" stop-opacity="0.440"/><stop offset="0.6" stop-color="#6d6d6d" stop-opacity="0.271"/><stop offset="0.72" stop-color="#6d6d6d" stop-opacity="0.144"/><stop offset="0.86" stop-color="#6d6d6d" stop-opacity="0.050"/><stop offset="1" stop-color="#6d6d6d" stop-opacity="0.000"/></radialGradient>
<filter id="bf4" filterUnits="userSpaceOnUse" x="1453" y="320" width="556" height="292" color-interpolation-filters="sRGB"><feGaussianBlur stdDeviation="8.5 6.5"/></filter>
<filter id="bf5" filterUnits="userSpaceOnUse" x="1453" y="320" width="556" height="292" color-interpolation-filters="sRGB"><feGaussianBlur stdDeviation="6.5 6.5"/></filter>
<radialGradient id="q83"><stop offset="0" stop-color="#535353" stop-opacity="1.000"/><stop offset="0.12" stop-color="#535353" stop-opacity="0.951"/><stop offset="0.24" stop-color="#535353" stop-opacity="0.817"/><stop offset="0.36" stop-color="#535353" stop-opacity="0.633"/><stop offset="0.48" stop-color="#535353" stop-opacity="0.440"/><stop offset="0.6" stop-color="#535353" stop-opacity="0.271"/><stop offset="0.72" stop-color="#535353" stop-opacity="0.144"/><stop offset="0.86" stop-color="#535353" stop-opacity="0.050"/><stop offset="1" stop-color="#535353" stop-opacity="0.000"/></radialGradient>
<filter id="bf6" filterUnits="userSpaceOnUse" x="1453" y="320" width="556" height="292" color-interpolation-filters="sRGB"><feGaussianBlur stdDeviation="8.5 5"/></filter>
<radialGradient id="q98"><stop offset="0" stop-color="#626262" stop-opacity="1.000"/><stop offset="0.12" stop-color="#626262" stop-opacity="0.951"/><stop offset="0.24" stop-color="#626262" stop-opacity="0.817"/><stop offset="0.36" stop-color="#626262" stop-opacity="0.633"/><stop offset="0.48" stop-color="#626262" stop-opacity="0.440"/><stop offset="0.6" stop-color="#626262" stop-opacity="0.271"/><stop offset="0.72" stop-color="#626262" stop-opacity="0.144"/><stop offset="0.86" stop-color="#626262" stop-opacity="0.050"/><stop offset="1" stop-color="#626262" stop-opacity="0.000"/></radialGradient>
<radialGradient id="q99"><stop offset="0" stop-color="#636363" stop-opacity="1.000"/><stop offset="0.12" stop-color="#636363" stop-opacity="0.951"/><stop offset="0.24" stop-color="#636363" stop-opacity="0.817"/><stop offset="0.36" stop-color="#636363" stop-opacity="0.633"/><stop offset="0.48" stop-color="#636363" stop-opacity="0.440"/><stop offset="0.6" stop-color="#636363" stop-opacity="0.271"/><stop offset="0.72" stop-color="#636363" stop-opacity="0.144"/><stop offset="0.86" stop-color="#636363" stop-opacity="0.050"/><stop offset="1" stop-color="#636363" stop-opacity="0.000"/></radialGradient>
<radialGradient id="q153"><stop offset="0" stop-color="#999999" stop-opacity="1.000"/><stop offset="0.12" stop-color="#999999" stop-opacity="0.951"/><stop offset="0.24" stop-color="#999999" stop-opacity="0.817"/><stop offset="0.36" stop-color="#999999" stop-opacity="0.633"/><stop offset="0.48" stop-color="#999999" stop-opacity="0.440"/><stop offset="0.6" stop-color="#999999" stop-opacity="0.271"/><stop offset="0.72" stop-color="#999999" stop-opacity="0.144"/><stop offset="0.86" stop-color="#999999" stop-opacity="0.050"/><stop offset="1" stop-color="#999999" stop-opacity="0.000"/></radialGradient>
<radialGradient id="q173"><stop offset="0" stop-color="#adadad" stop-opacity="1.000"/><stop offset="0.12" stop-color="#adadad" stop-opacity="0.951"/><stop offset="0.24" stop-color="#adadad" stop-opacity="0.817"/><stop offset="0.36" stop-color="#adadad" stop-opacity="0.633"/><stop offset="0.48" stop-color="#adadad" stop-opacity="0.440"/><stop offset="0.6" stop-color="#adadad" stop-opacity="0.271"/><stop offset="0.72" stop-color="#adadad" stop-opacity="0.144"/><stop offset="0.86" stop-color="#adadad" stop-opacity="0.050"/><stop offset="1" stop-color="#adadad" stop-opacity="0.000"/></radialGradient>
<filter id="bf7" filterUnits="userSpaceOnUse" x="1453" y="320" width="556" height="292" color-interpolation-filters="sRGB"><feGaussianBlur stdDeviation="12 6.5"/></filter>
<filter id="bf8" filterUnits="userSpaceOnUse" x="1453" y="320" width="556" height="292" color-interpolation-filters="sRGB"><feGaussianBlur stdDeviation="7.5 8.5"/></filter>
<radialGradient id="q82"><stop offset="0" stop-color="#525252" stop-opacity="1.000"/><stop offset="0.12" stop-color="#525252" stop-opacity="0.951"/><stop offset="0.24" stop-color="#525252" stop-opacity="0.817"/><stop offset="0.36" stop-color="#525252" stop-opacity="0.633"/><stop offset="0.48" stop-color="#525252" stop-opacity="0.440"/><stop offset="0.6" stop-color="#525252" stop-opacity="0.271"/><stop offset="0.72" stop-color="#525252" stop-opacity="0.144"/><stop offset="0.86" stop-color="#525252" stop-opacity="0.050"/><stop offset="1" stop-color="#525252" stop-opacity="0.000"/></radialGradient>
<filter id="bf9" filterUnits="userSpaceOnUse" x="1453" y="320" width="556" height="292" color-interpolation-filters="sRGB"><feGaussianBlur stdDeviation="12 6"/></filter>
<radialGradient id="q106"><stop offset="0" stop-color="#6a6a6a" stop-opacity="1.000"/><stop offset="0.12" stop-color="#6a6a6a" stop-opacity="0.951"/><stop offset="0.24" stop-color="#6a6a6a" stop-opacity="0.817"/><stop offset="0.36" stop-color="#6a6a6a" stop-opacity="0.633"/><stop offset="0.48" stop-color="#6a6a6a" stop-opacity="0.440"/><stop offset="0.6" stop-color="#6a6a6a" stop-opacity="0.271"/><stop offset="0.72" stop-color="#6a6a6a" stop-opacity="0.144"/><stop offset="0.86" stop-color="#6a6a6a" stop-opacity="0.050"/><stop offset="1" stop-color="#6a6a6a" stop-opacity="0.000"/></radialGradient>
<radialGradient id="q101"><stop offset="0" stop-color="#656565" stop-opacity="1.000"/><stop offset="0.12" stop-color="#656565" stop-opacity="0.951"/><stop offset="0.24" stop-color="#656565" stop-opacity="0.817"/><stop offset="0.36" stop-color="#656565" stop-opacity="0.633"/><stop offset="0.48" stop-color="#656565" stop-opacity="0.440"/><stop offset="0.6" stop-color="#656565" stop-opacity="0.271"/><stop offset="0.72" stop-color="#656565" stop-opacity="0.144"/><stop offset="0.86" stop-color="#656565" stop-opacity="0.050"/><stop offset="1" stop-color="#656565" stop-opacity="0.000"/></radialGradient>
<filter id="bf10" filterUnits="userSpaceOnUse" x="1453" y="320" width="556" height="292" color-interpolation-filters="sRGB"><feGaussianBlur stdDeviation="10 3"/></filter>
<filter id="bf11" filterUnits="userSpaceOnUse" x="1453" y="320" width="556" height="292" color-interpolation-filters="sRGB"><feGaussianBlur stdDeviation="10 3.5"/></filter>
<radialGradient id="q124"><stop offset="0" stop-color="#7c7c7c" stop-opacity="1.000"/><stop offset="0.12" stop-color="#7c7c7c" stop-opacity="0.951"/><stop offset="0.24" stop-color="#7c7c7c" stop-opacity="0.817"/><stop offset="0.36" stop-color="#7c7c7c" stop-opacity="0.633"/><stop offset="0.48" stop-color="#7c7c7c" stop-opacity="0.440"/><stop offset="0.6" stop-color="#7c7c7c" stop-opacity="0.271"/><stop offset="0.72" stop-color="#7c7c7c" stop-opacity="0.144"/><stop offset="0.86" stop-color="#7c7c7c" stop-opacity="0.050"/><stop offset="1" stop-color="#7c7c7c" stop-opacity="0.000"/></radialGradient>
<filter id="bf12" filterUnits="userSpaceOnUse" x="1453" y="320" width="556" height="292" color-interpolation-filters="sRGB"><feGaussianBlur stdDeviation="8.5 3"/></filter>
<filter id="bf13" filterUnits="userSpaceOnUse" x="1453" y="320" width="556" height="292" color-interpolation-filters="sRGB"><feGaussianBlur stdDeviation="8.5 3.5"/></filter>
<radialGradient id="q130"><stop offset="0" stop-color="#828282" stop-opacity="1.000"/><stop offset="0.12" stop-color="#828282" stop-opacity="0.951"/><stop offset="0.24" stop-color="#828282" stop-opacity="0.817"/><stop offset="0.36" stop-color="#828282" stop-opacity="0.633"/><stop offset="0.48" stop-color="#828282" stop-opacity="0.440"/><stop offset="0.6" stop-color="#828282" stop-opacity="0.271"/><stop offset="0.72" stop-color="#828282" stop-opacity="0.144"/><stop offset="0.86" stop-color="#828282" stop-opacity="0.050"/><stop offset="1" stop-color="#828282" stop-opacity="0.000"/></radialGradient>
<radialGradient id="q129"><stop offset="0" stop-color="#818181" stop-opacity="1.000"/><stop offset="0.12" stop-color="#818181" stop-opacity="0.951"/><stop offset="0.24" stop-color="#818181" stop-opacity="0.817"/><stop offset="0.36" stop-color="#818181" stop-opacity="0.633"/><stop offset="0.48" stop-color="#818181" stop-opacity="0.440"/><stop offset="0.6" stop-color="#818181" stop-opacity="0.271"/><stop offset="0.72" stop-color="#818181" stop-opacity="0.144"/><stop offset="0.86" stop-color="#818181" stop-opacity="0.050"/><stop offset="1" stop-color="#818181" stop-opacity="0.000"/></radialGradient>
<radialGradient id="q126"><stop offset="0" stop-color="#7e7e7e" stop-opacity="1.000"/><stop offset="0.12" stop-color="#7e7e7e" stop-opacity="0.951"/><stop offset="0.24" stop-color="#7e7e7e" stop-opacity="0.817"/><stop offset="0.36" stop-color="#7e7e7e" stop-opacity="0.633"/><stop offset="0.48" stop-color="#7e7e7e" stop-opacity="0.440"/><stop offset="0.6" stop-color="#7e7e7e" stop-opacity="0.271"/><stop offset="0.72" stop-color="#7e7e7e" stop-opacity="0.144"/><stop offset="0.86" stop-color="#7e7e7e" stop-opacity="0.050"/><stop offset="1" stop-color="#7e7e7e" stop-opacity="0.000"/></radialGradient>
<radialGradient id="q138"><stop offset="0" stop-color="#8a8a8a" stop-opacity="1.000"/><stop offset="0.12" stop-color="#8a8a8a" stop-opacity="0.951"/><stop offset="0.24" stop-color="#8a8a8a" stop-opacity="0.817"/><stop offset="0.36" stop-color="#8a8a8a" stop-opacity="0.633"/><stop offset="0.48" stop-color="#8a8a8a" stop-opacity="0.440"/><stop offset="0.6" stop-color="#8a8a8a" stop-opacity="0.271"/><stop offset="0.72" stop-color="#8a8a8a" stop-opacity="0.144"/><stop offset="0.86" stop-color="#8a8a8a" stop-opacity="0.050"/><stop offset="1" stop-color="#8a8a8a" stop-opacity="0.000"/></radialGradient>
<radialGradient id="q137"><stop offset="0" stop-color="#898989" stop-opacity="1.000"/><stop offset="0.12" stop-color="#898989" stop-opacity="0.951"/><stop offset="0.24" stop-color="#898989" stop-opacity="0.817"/><stop offset="0.36" stop-color="#898989" stop-opacity="0.633"/><stop offset="0.48" stop-color="#898989" stop-opacity="0.440"/><stop offset="0.6" stop-color="#898989" stop-opacity="0.271"/><stop offset="0.72" stop-color="#898989" stop-opacity="0.144"/><stop offset="0.86" stop-color="#898989" stop-opacity="0.050"/><stop offset="1" stop-color="#898989" stop-opacity="0.000"/></radialGradient>
<radialGradient id="q116"><stop offset="0" stop-color="#747474" stop-opacity="1.000"/><stop offset="0.12" stop-color="#747474" stop-opacity="0.951"/><stop offset="0.24" stop-color="#747474" stop-opacity="0.817"/><stop offset="0.36" stop-color="#747474" stop-opacity="0.633"/><stop offset="0.48" stop-color="#747474" stop-opacity="0.440"/><stop offset="0.6" stop-color="#747474" stop-opacity="0.271"/><stop offset="0.72" stop-color="#747474" stop-opacity="0.144"/><stop offset="0.86" stop-color="#747474" stop-opacity="0.050"/><stop offset="1" stop-color="#747474" stop-opacity="0.000"/></radialGradient>
<radialGradient id="q146"><stop offset="0" stop-color="#929292" stop-opacity="1.000"/><stop offset="0.12" stop-color="#929292" stop-opacity="0.951"/><stop offset="0.24" stop-color="#929292" stop-opacity="0.817"/><stop offset="0.36" stop-color="#929292" stop-opacity="0.633"/><stop offset="0.48" stop-color="#929292" stop-opacity="0.440"/><stop offset="0.6" stop-color="#929292" stop-opacity="0.271"/><stop offset="0.72" stop-color="#929292" stop-opacity="0.144"/><stop offset="0.86" stop-color="#929292" stop-opacity="0.050"/><stop offset="1" stop-color="#929292" stop-opacity="0.000"/></radialGradient>
<radialGradient id="r193"><stop offset="0" stop-color="#c1c1c1" stop-opacity="1.000"/><stop offset="0.25" stop-color="#c1c1c1" stop-opacity="0.969"/><stop offset="0.35" stop-color="#c1c1c1" stop-opacity="0.887"/><stop offset="0.45" stop-color="#c1c1c1" stop-opacity="0.720"/><stop offset="0.55" stop-color="#c1c1c1" stop-opacity="0.481"/><stop offset="0.65" stop-color="#c1c1c1" stop-opacity="0.240"/><stop offset="0.75" stop-color="#c1c1c1" stop-opacity="0.079"/><stop offset="0.87" stop-color="#c1c1c1" stop-opacity="0.010"/><stop offset="1" stop-color="#c1c1c1" stop-opacity="0.000"/></radialGradient>
<radialGradient id="q155"><stop offset="0" stop-color="#9b9b9b" stop-opacity="1.000"/><stop offset="0.12" stop-color="#9b9b9b" stop-opacity="0.951"/><stop offset="0.24" stop-color="#9b9b9b" stop-opacity="0.817"/><stop offset="0.36" stop-color="#9b9b9b" stop-opacity="0.633"/><stop offset="0.48" stop-color="#9b9b9b" stop-opacity="0.440"/><stop offset="0.6" stop-color="#9b9b9b" stop-opacity="0.271"/><stop offset="0.72" stop-color="#9b9b9b" stop-opacity="0.144"/><stop offset="0.86" stop-color="#9b9b9b" stop-opacity="0.050"/><stop offset="1" stop-color="#9b9b9b" stop-opacity="0.000"/></radialGradient>
<radialGradient id="q191"><stop offset="0" stop-color="#bfbfbf" stop-opacity="1.000"/><stop offset="0.12" stop-color="#bfbfbf" stop-opacity="0.951"/><stop offset="0.24" stop-color="#bfbfbf" stop-opacity="0.817"/><stop offset="0.36" stop-color="#bfbfbf" stop-opacity="0.633"/><stop offset="0.48" stop-color="#bfbfbf" stop-opacity="0.440"/><stop offset="0.6" stop-color="#bfbfbf" stop-opacity="0.271"/><stop offset="0.72" stop-color="#bfbfbf" stop-opacity="0.144"/><stop offset="0.86" stop-color="#bfbfbf" stop-opacity="0.050"/><stop offset="1" stop-color="#bfbfbf" stop-opacity="0.000"/></radialGradient>
<radialGradient id="q152"><stop offset="0" stop-color="#989898" stop-opacity="1.000"/><stop offset="0.12" stop-color="#989898" stop-opacity="0.951"/><stop offset="0.24" stop-color="#989898" stop-opacity="0.817"/><stop offset="0.36" stop-color="#989898" stop-opacity="0.633"/><stop offset="0.48" stop-color="#989898" stop-opacity="0.440"/><stop offset="0.6" stop-color="#989898" stop-opacity="0.271"/><stop offset="0.72" stop-color="#989898" stop-opacity="0.144"/><stop offset="0.86" stop-color="#989898" stop-opacity="0.050"/><stop offset="1" stop-color="#989898" stop-opacity="0.000"/></radialGradient>
<radialGradient id="q128"><stop offset="0" stop-color="#808080" stop-opacity="1.000"/><stop offset="0.12" stop-color="#808080" stop-opacity="0.951"/><stop offset="0.24" stop-color="#808080" stop-opacity="0.817"/><stop offset="0.36" stop-color="#808080" stop-opacity="0.633"/><stop offset="0.48" stop-color="#808080" stop-opacity="0.440"/><stop offset="0.6" stop-color="#808080" stop-opacity="0.271"/><stop offset="0.72" stop-color="#808080" stop-opacity="0.144"/><stop offset="0.86" stop-color="#808080" stop-opacity="0.050"/><stop offset="1" stop-color="#808080" stop-opacity="0.000"/></radialGradient>
<radialGradient id="q133"><stop offset="0" stop-color="#858585" stop-opacity="1.000"/><stop offset="0.12" stop-color="#858585" stop-opacity="0.951"/><stop offset="0.24" stop-color="#858585" stop-opacity="0.817"/><stop offset="0.36" stop-color="#858585" stop-opacity="0.633"/><stop offset="0.48" stop-color="#858585" stop-opacity="0.440"/><stop offset="0.6" stop-color="#858585" stop-opacity="0.271"/><stop offset="0.72" stop-color="#858585" stop-opacity="0.144"/><stop offset="0.86" stop-color="#858585" stop-opacity="0.050"/><stop offset="1" stop-color="#858585" stop-opacity="0.000"/></radialGradient>
<radialGradient id="q117"><stop offset="0" stop-color="#757575" stop-opacity="1.000"/><stop offset="0.12" stop-color="#757575" stop-opacity="0.951"/><stop offset="0.24" stop-color="#757575" stop-opacity="0.817"/><stop offset="0.36" stop-color="#757575" stop-opacity="0.633"/><stop offset="0.48" stop-color="#757575" stop-opacity="0.440"/><stop offset="0.6" stop-color="#757575" stop-opacity="0.271"/><stop offset="0.72" stop-color="#757575" stop-opacity="0.144"/><stop offset="0.86" stop-color="#757575" stop-opacity="0.050"/><stop offset="1" stop-color="#757575" stop-opacity="0.000"/></radialGradient>
<filter id="bf14" filterUnits="userSpaceOnUse" x="1453" y="320" width="556" height="292" color-interpolation-filters="sRGB"><feGaussianBlur stdDeviation="5 5"/></filter>
<radialGradient id="q89"><stop offset="0" stop-color="#595959" stop-opacity="1.000"/><stop offset="0.12" stop-color="#595959" stop-opacity="0.951"/><stop offset="0.24" stop-color="#595959" stop-opacity="0.817"/><stop offset="0.36" stop-color="#595959" stop-opacity="0.633"/><stop offset="0.48" stop-color="#595959" stop-opacity="0.440"/><stop offset="0.6" stop-color="#595959" stop-opacity="0.271"/><stop offset="0.72" stop-color="#595959" stop-opacity="0.144"/><stop offset="0.86" stop-color="#595959" stop-opacity="0.050"/><stop offset="1" stop-color="#595959" stop-opacity="0.000"/></radialGradient>
<radialGradient id="q93"><stop offset="0" stop-color="#5d5d5d" stop-opacity="1.000"/><stop offset="0.12" stop-color="#5d5d5d" stop-opacity="0.951"/><stop offset="0.24" stop-color="#5d5d5d" stop-opacity="0.817"/><stop offset="0.36" stop-color="#5d5d5d" stop-opacity="0.633"/><stop offset="0.48" stop-color="#5d5d5d" stop-opacity="0.440"/><stop offset="0.6" stop-color="#5d5d5d" stop-opacity="0.271"/><stop offset="0.72" stop-color="#5d5d5d" stop-opacity="0.144"/><stop offset="0.86" stop-color="#5d5d5d" stop-opacity="0.050"/><stop offset="1" stop-color="#5d5d5d" stop-opacity="0.000"/></radialGradient>
<radialGradient id="q102"><stop offset="0" stop-color="#666666" stop-opacity="1.000"/><stop offset="0.12" stop-color="#666666" stop-opacity="0.951"/><stop offset="0.24" stop-color="#666666" stop-opacity="0.817"/><stop offset="0.36" stop-color="#666666" stop-opacity="0.633"/><stop offset="0.48" stop-color="#666666" stop-opacity="0.440"/><stop offset="0.6" stop-color="#666666" stop-opacity="0.271"/><stop offset="0.72" stop-color="#666666" stop-opacity="0.144"/><stop offset="0.86" stop-color="#666666" stop-opacity="0.050"/><stop offset="1" stop-color="#666666" stop-opacity="0.000"/></radialGradient>
<filter id="bf15" filterUnits="userSpaceOnUse" x="1453" y="320" width="556" height="292" color-interpolation-filters="sRGB"><feGaussianBlur stdDeviation="8 8"/></filter>
<radialGradient id="r182"><stop offset="0" stop-color="#b6b6b6" stop-opacity="1.000"/><stop offset="0.25" stop-color="#b6b6b6" stop-opacity="0.969"/><stop offset="0.35" stop-color="#b6b6b6" stop-opacity="0.887"/><stop offset="0.45" stop-color="#b6b6b6" stop-opacity="0.720"/><stop offset="0.55" stop-color="#b6b6b6" stop-opacity="0.481"/><stop offset="0.65" stop-color="#b6b6b6" stop-opacity="0.240"/><stop offset="0.75" stop-color="#b6b6b6" stop-opacity="0.079"/><stop offset="0.87" stop-color="#b6b6b6" stop-opacity="0.010"/><stop offset="1" stop-color="#b6b6b6" stop-opacity="0.000"/></radialGradient>
<filter id="bf16" filterUnits="userSpaceOnUse" x="1453" y="320" width="556" height="292" color-interpolation-filters="sRGB"><feGaussianBlur stdDeviation="4.5 4.5"/></filter>
<radialGradient id="r159"><stop offset="0" stop-color="#9f9f9f" stop-opacity="1.000"/><stop offset="0.25" stop-color="#9f9f9f" stop-opacity="0.969"/><stop offset="0.35" stop-color="#9f9f9f" stop-opacity="0.887"/><stop offset="0.45" stop-color="#9f9f9f" stop-opacity="0.720"/><stop offset="0.55" stop-color="#9f9f9f" stop-opacity="0.481"/><stop offset="0.65" stop-color="#9f9f9f" stop-opacity="0.240"/><stop offset="0.75" stop-color="#9f9f9f" stop-opacity="0.079"/><stop offset="0.87" stop-color="#9f9f9f" stop-opacity="0.010"/><stop offset="1" stop-color="#9f9f9f" stop-opacity="0.000"/></radialGradient>
<radialGradient id="q143"><stop offset="0" stop-color="#8f8f8f" stop-opacity="1.000"/><stop offset="0.12" stop-color="#8f8f8f" stop-opacity="0.951"/><stop offset="0.24" stop-color="#8f8f8f" stop-opacity="0.817"/><stop offset="0.36" stop-color="#8f8f8f" stop-opacity="0.633"/><stop offset="0.48" stop-color="#8f8f8f" stop-opacity="0.440"/><stop offset="0.6" stop-color="#8f8f8f" stop-opacity="0.271"/><stop offset="0.72" stop-color="#8f8f8f" stop-opacity="0.144"/><stop offset="0.86" stop-color="#8f8f8f" stop-opacity="0.050"/><stop offset="1" stop-color="#8f8f8f" stop-opacity="0.000"/></radialGradient>
<radialGradient id="q159"><stop offset="0" stop-color="#9f9f9f" stop-opacity="1.000"/><stop offset="0.12" stop-color="#9f9f9f" stop-opacity="0.951"/><stop offset="0.24" stop-color="#9f9f9f" stop-opacity="0.817"/><stop offset="0.36" stop-color="#9f9f9f" stop-opacity="0.633"/><stop offset="0.48" stop-color="#9f9f9f" stop-opacity="0.440"/><stop offset="0.6" stop-color="#9f9f9f" stop-opacity="0.271"/><stop offset="0.72" stop-color="#9f9f9f" stop-opacity="0.144"/><stop offset="0.86" stop-color="#9f9f9f" stop-opacity="0.050"/><stop offset="1" stop-color="#9f9f9f" stop-opacity="0.000"/></radialGradient>
<radialGradient id="q178"><stop offset="0" stop-color="#b2b2b2" stop-opacity="1.000"/><stop offset="0.12" stop-color="#b2b2b2" stop-opacity="0.951"/><stop offset="0.24" stop-color="#b2b2b2" stop-opacity="0.817"/><stop offset="0.36" stop-color="#b2b2b2" stop-opacity="0.633"/><stop offset="0.48" stop-color="#b2b2b2" stop-opacity="0.440"/><stop offset="0.6" stop-color="#b2b2b2" stop-opacity="0.271"/><stop offset="0.72" stop-color="#b2b2b2" stop-opacity="0.144"/><stop offset="0.86" stop-color="#b2b2b2" stop-opacity="0.050"/><stop offset="1" stop-color="#b2b2b2" stop-opacity="0.000"/></radialGradient>
<radialGradient id="q164"><stop offset="0" stop-color="#a4a4a4" stop-opacity="1.000"/><stop offset="0.12" stop-color="#a4a4a4" stop-opacity="0.951"/><stop offset="0.24" stop-color="#a4a4a4" stop-opacity="0.817"/><stop offset="0.36" stop-color="#a4a4a4" stop-opacity="0.633"/><stop offset="0.48" stop-color="#a4a4a4" stop-opacity="0.440"/><stop offset="0.6" stop-color="#a4a4a4" stop-opacity="0.271"/><stop offset="0.72" stop-color="#a4a4a4" stop-opacity="0.144"/><stop offset="0.86" stop-color="#a4a4a4" stop-opacity="0.050"/><stop offset="1" stop-color="#a4a4a4" stop-opacity="0.000"/></radialGradient>
<filter id="bf17" filterUnits="userSpaceOnUse" x="1453" y="320" width="556" height="292" color-interpolation-filters="sRGB"><feGaussianBlur stdDeviation="1 1"/></filter>
<filter id="dpf" filterUnits="userSpaceOnUse" x="1473" y="340" width="516" height="252" color-interpolation-filters="sRGB"><feTurbulence type="fractalNoise" baseFrequency="0.025 0.05" numOctaves="2" seed="5" result="t"/><feDisplacementMap in="SourceGraphic" in2="t" scale="9" xChannelSelector="R" yChannelSelector="G"/></filter>
<clipPath id="hc-i"><rect x="1502.3" y="696.0" width="476.0" height="212.1"/></clipPath>
<radialGradient id="q74"><stop offset="0" stop-color="#4a4a4a" stop-opacity="1.000"/><stop offset="0.12" stop-color="#4a4a4a" stop-opacity="0.951"/><stop offset="0.24" stop-color="#4a4a4a" stop-opacity="0.817"/><stop offset="0.36" stop-color="#4a4a4a" stop-opacity="0.633"/><stop offset="0.48" stop-color="#4a4a4a" stop-opacity="0.440"/><stop offset="0.6" stop-color="#4a4a4a" stop-opacity="0.271"/><stop offset="0.72" stop-color="#4a4a4a" stop-opacity="0.144"/><stop offset="0.86" stop-color="#4a4a4a" stop-opacity="0.050"/><stop offset="1" stop-color="#4a4a4a" stop-opacity="0.000"/></radialGradient>
<radialGradient id="q72"><stop offset="0" stop-color="#484848" stop-opacity="1.000"/><stop offset="0.12" stop-color="#484848" stop-opacity="0.951"/><stop offset="0.24" stop-color="#484848" stop-opacity="0.817"/><stop offset="0.36" stop-color="#484848" stop-opacity="0.633"/><stop offset="0.48" stop-color="#484848" stop-opacity="0.440"/><stop offset="0.6" stop-color="#484848" stop-opacity="0.271"/><stop offset="0.72" stop-color="#484848" stop-opacity="0.144"/><stop offset="0.86" stop-color="#484848" stop-opacity="0.050"/><stop offset="1" stop-color="#484848" stop-opacity="0.000"/></radialGradient>
<radialGradient id="q69"><stop offset="0" stop-color="#454545" stop-opacity="1.000"/><stop offset="0.12" stop-color="#454545" stop-opacity="0.951"/><stop offset="0.24" stop-color="#454545" stop-opacity="0.817"/><stop offset="0.36" stop-color="#454545" stop-opacity="0.633"/><stop offset="0.48" stop-color="#454545" stop-opacity="0.440"/><stop offset="0.6" stop-color="#454545" stop-opacity="0.271"/><stop offset="0.72" stop-color="#454545" stop-opacity="0.144"/><stop offset="0.86" stop-color="#454545" stop-opacity="0.050"/><stop offset="1" stop-color="#454545" stop-opacity="0.000"/></radialGradient>
<radialGradient id="q73"><stop offset="0" stop-color="#494949" stop-opacity="1.000"/><stop offset="0.12" stop-color="#494949" stop-opacity="0.951"/><stop offset="0.24" stop-color="#494949" stop-opacity="0.817"/><stop offset="0.36" stop-color="#494949" stop-opacity="0.633"/><stop offset="0.48" stop-color="#494949" stop-opacity="0.440"/><stop offset="0.6" stop-color="#494949" stop-opacity="0.271"/><stop offset="0.72" stop-color="#494949" stop-opacity="0.144"/><stop offset="0.86" stop-color="#494949" stop-opacity="0.050"/><stop offset="1" stop-color="#494949" stop-opacity="0.000"/></radialGradient>
<radialGradient id="q70"><stop offset="0" stop-color="#464646" stop-opacity="1.000"/><stop offset="0.12" stop-color="#464646" stop-opacity="0.951"/><stop offset="0.24" stop-color="#464646" stop-opacity="0.817"/><stop offset="0.36" stop-color="#464646" stop-opacity="0.633"/><stop offset="0.48" stop-color="#464646" stop-opacity="0.440"/><stop offset="0.6" stop-color="#464646" stop-opacity="0.271"/><stop offset="0.72" stop-color="#464646" stop-opacity="0.144"/><stop offset="0.86" stop-color="#464646" stop-opacity="0.050"/><stop offset="1" stop-color="#464646" stop-opacity="0.000"/></radialGradient>
<radialGradient id="q47"><stop offset="0" stop-color="#2f2f2f" stop-opacity="1.000"/><stop offset="0.12" stop-color="#2f2f2f" stop-opacity="0.951"/><stop offset="0.24" stop-color="#2f2f2f" stop-opacity="0.817"/><stop offset="0.36" stop-color="#2f2f2f" stop-opacity="0.633"/><stop offset="0.48" stop-color="#2f2f2f" stop-opacity="0.440"/><stop offset="0.6" stop-color="#2f2f2f" stop-opacity="0.271"/><stop offset="0.72" stop-color="#2f2f2f" stop-opacity="0.144"/><stop offset="0.86" stop-color="#2f2f2f" stop-opacity="0.050"/><stop offset="1" stop-color="#2f2f2f" stop-opacity="0.000"/></radialGradient>
<radialGradient id="q53"><stop offset="0" stop-color="#353535" stop-opacity="1.000"/><stop offset="0.12" stop-color="#353535" stop-opacity="0.951"/><stop offset="0.24" stop-color="#353535" stop-opacity="0.817"/><stop offset="0.36" stop-color="#353535" stop-opacity="0.633"/><stop offset="0.48" stop-color="#353535" stop-opacity="0.440"/><stop offset="0.6" stop-color="#353535" stop-opacity="0.271"/><stop offset="0.72" stop-color="#353535" stop-opacity="0.144"/><stop offset="0.86" stop-color="#353535" stop-opacity="0.050"/><stop offset="1" stop-color="#353535" stop-opacity="0.000"/></radialGradient>
<radialGradient id="q56"><stop offset="0" stop-color="#383838" stop-opacity="1.000"/><stop offset="0.12" stop-color="#383838" stop-opacity="0.951"/><stop offset="0.24" stop-color="#383838" stop-opacity="0.817"/><stop offset="0.36" stop-color="#383838" stop-opacity="0.633"/><stop offset="0.48" stop-color="#383838" stop-opacity="0.440"/><stop offset="0.6" stop-color="#383838" stop-opacity="0.271"/><stop offset="0.72" stop-color="#383838" stop-opacity="0.144"/><stop offset="0.86" stop-color="#383838" stop-opacity="0.050"/><stop offset="1" stop-color="#383838" stop-opacity="0.000"/></radialGradient>
<radialGradient id="q67"><stop offset="0" stop-color="#434343" stop-opacity="1.000"/><stop offset="0.12" stop-color="#434343" stop-opacity="0.951"/><stop offset="0.24" stop-color="#434343" stop-opacity="0.817"/><stop offset="0.36" stop-color="#434343" stop-opacity="0.633"/><stop offset="0.48" stop-color="#434343" stop-opacity="0.440"/><stop offset="0.6" stop-color="#434343" stop-opacity="0.271"/><stop offset="0.72" stop-color="#434343" stop-opacity="0.144"/><stop offset="0.86" stop-color="#434343" stop-opacity="0.050"/><stop offset="1" stop-color="#434343" stop-opacity="0.000"/></radialGradient>
<radialGradient id="q71"><stop offset="0" stop-color="#474747" stop-opacity="1.000"/><stop offset="0.12" stop-color="#474747" stop-opacity="0.951"/><stop offset="0.24" stop-color="#474747" stop-opacity="0.817"/><stop offset="0.36" stop-color="#474747" stop-opacity="0.633"/><stop offset="0.48" stop-color="#474747" stop-opacity="0.440"/><stop offset="0.6" stop-color="#474747" stop-opacity="0.271"/><stop offset="0.72" stop-color="#474747" stop-opacity="0.144"/><stop offset="0.86" stop-color="#474747" stop-opacity="0.050"/><stop offset="1" stop-color="#474747" stop-opacity="0.000"/></radialGradient>
<filter id="bi0" filterUnits="userSpaceOnUse" x="1462" y="656" width="556" height="292" color-interpolation-filters="sRGB"><feGaussianBlur stdDeviation="11.5 11.5"/></filter>
<filter id="bi1" filterUnits="userSpaceOnUse" x="1462" y="656" width="556" height="292" color-interpolation-filters="sRGB"><feGaussianBlur stdDeviation="6.5 6.5"/></filter>
<radialGradient id="q111"><stop offset="0" stop-color="#6f6f6f" stop-opacity="1.000"/><stop offset="0.12" stop-color="#6f6f6f" stop-opacity="0.951"/><stop offset="0.24" stop-color="#6f6f6f" stop-opacity="0.817"/><stop offset="0.36" stop-color="#6f6f6f" stop-opacity="0.633"/><stop offset="0.48" stop-color="#6f6f6f" stop-opacity="0.440"/><stop offset="0.6" stop-color="#6f6f6f" stop-opacity="0.271"/><stop offset="0.72" stop-color="#6f6f6f" stop-opacity="0.144"/><stop offset="0.86" stop-color="#6f6f6f" stop-opacity="0.050"/><stop offset="1" stop-color="#6f6f6f" stop-opacity="0.000"/></radialGradient>
<radialGradient id="q120"><stop offset="0" stop-color="#787878" stop-opacity="1.000"/><stop offset="0.12" stop-color="#787878" stop-opacity="0.951"/><stop offset="0.24" stop-color="#787878" stop-opacity="0.817"/><stop offset="0.36" stop-color="#787878" stop-opacity="0.633"/><stop offset="0.48" stop-color="#787878" stop-opacity="0.440"/><stop offset="0.6" stop-color="#787878" stop-opacity="0.271"/><stop offset="0.72" stop-color="#787878" stop-opacity="0.144"/><stop offset="0.86" stop-color="#787878" stop-opacity="0.050"/><stop offset="1" stop-color="#787878" stop-opacity="0.000"/></radialGradient>
<radialGradient id="q57"><stop offset="0" stop-color="#393939" stop-opacity="1.000"/><stop offset="0.12" stop-color="#393939" stop-opacity="0.951"/><stop offset="0.24" stop-color="#393939" stop-opacity="0.817"/><stop offset="0.36" stop-color="#393939" stop-opacity="0.633"/><stop offset="0.48" stop-color="#393939" stop-opacity="0.440"/><stop offset="0.6" stop-color="#393939" stop-opacity="0.271"/><stop offset="0.72" stop-color="#393939" stop-opacity="0.144"/><stop offset="0.86" stop-color="#393939" stop-opacity="0.050"/><stop offset="1" stop-color="#393939" stop-opacity="0.000"/></radialGradient>
<radialGradient id="q54"><stop offset="0" stop-color="#363636" stop-opacity="1.000"/><stop offset="0.12" stop-color="#363636" stop-opacity="0.951"/><stop offset="0.24" stop-color="#363636" stop-opacity="0.817"/><stop offset="0.36" stop-color="#363636" stop-opacity="0.633"/><stop offset="0.48" stop-color="#363636" stop-opacity="0.440"/><stop offset="0.6" stop-color="#363636" stop-opacity="0.271"/><stop offset="0.72" stop-color="#363636" stop-opacity="0.144"/><stop offset="0.86" stop-color="#363636" stop-opacity="0.050"/><stop offset="1" stop-color="#363636" stop-opacity="0.000"/></radialGradient>
<radialGradient id="q68"><stop offset="0" stop-color="#444444" stop-opacity="1.000"/><stop offset="0.12" stop-color="#444444" stop-opacity="0.951"/><stop offset="0.24" stop-color="#444444" stop-opacity="0.817"/><stop offset="0.36" stop-color="#444444" stop-opacity="0.633"/><stop offset="0.48" stop-color="#444444" stop-opacity="0.440"/><stop offset="0.6" stop-color="#444444" stop-opacity="0.271"/><stop offset="0.72" stop-color="#444444" stop-opacity="0.144"/><stop offset="0.86" stop-color="#444444" stop-opacity="0.050"/><stop offset="1" stop-color="#444444" stop-opacity="0.000"/></radialGradient>
<filter id="bi2" filterUnits="userSpaceOnUse" x="1462" y="656" width="556" height="292" color-interpolation-filters="sRGB"><feGaussianBlur stdDeviation="1 1"/></filter>
<filter id="dpi" filterUnits="userSpaceOnUse" x="1482" y="676" width="516" height="252" color-interpolation-filters="sRGB"><feTurbulence type="fractalNoise" baseFrequency="0.03 0.05" numOctaves="2" seed="8" result="t"/><feDisplacementMap in="SourceGraphic" in2="t" scale="6" xChannelSelector="R" yChannelSelector="G"/></filter>
<clipPath id="hc-l"><rect x="1493.0" y="1026.4" width="476.0" height="212.1"/></clipPath>
<filter id="bl0" filterUnits="userSpaceOnUse" x="1453" y="986" width="556" height="292" color-interpolation-filters="sRGB"><feGaussianBlur stdDeviation="6.5 5"/></filter>
<filter id="bl1" filterUnits="userSpaceOnUse" x="1453" y="986" width="556" height="292" color-interpolation-filters="sRGB"><feGaussianBlur stdDeviation="6.5 3.5"/></filter>
<filter id="bl2" filterUnits="userSpaceOnUse" x="1453" y="986" width="556" height="292" color-interpolation-filters="sRGB"><feGaussianBlur stdDeviation="6.5 4"/></filter>
<filter id="bl3" filterUnits="userSpaceOnUse" x="1453" y="986" width="556" height="292" color-interpolation-filters="sRGB"><feGaussianBlur stdDeviation="6.5 6.5"/></filter>
<radialGradient id="q85"><stop offset="0" stop-color="#555555" stop-opacity="1.000"/><stop offset="0.12" stop-color="#555555" stop-opacity="0.951"/><stop offset="0.24" stop-color="#555555" stop-opacity="0.817"/><stop offset="0.36" stop-color="#555555" stop-opacity="0.633"/><stop offset="0.48" stop-color="#555555" stop-opacity="0.440"/><stop offset="0.6" stop-color="#555555" stop-opacity="0.271"/><stop offset="0.72" stop-color="#555555" stop-opacity="0.144"/><stop offset="0.86" stop-color="#555555" stop-opacity="0.050"/><stop offset="1" stop-color="#555555" stop-opacity="0.000"/></radialGradient>
<radialGradient id="q66"><stop offset="0" stop-color="#424242" stop-opacity="1.000"/><stop offset="0.12" stop-color="#424242" stop-opacity="0.951"/><stop offset="0.24" stop-color="#424242" stop-opacity="0.817"/><stop offset="0.36" stop-color="#424242" stop-opacity="0.633"/><stop offset="0.48" stop-color="#424242" stop-opacity="0.440"/><stop offset="0.6" stop-color="#424242" stop-opacity="0.271"/><stop offset="0.72" stop-color="#424242" stop-opacity="0.144"/><stop offset="0.86" stop-color="#424242" stop-opacity="0.050"/><stop offset="1" stop-color="#424242" stop-opacity="0.000"/></radialGradient>
<filter id="bl4" filterUnits="userSpaceOnUse" x="1453" y="986" width="556" height="292" color-interpolation-filters="sRGB"><feGaussianBlur stdDeviation="8.5 4"/></filter>
<filter id="bl5" filterUnits="userSpaceOnUse" x="1453" y="986" width="556" height="292" color-interpolation-filters="sRGB"><feGaussianBlur stdDeviation="8.5 5"/></filter>
<radialGradient id="q115"><stop offset="0" stop-color="#737373" stop-opacity="1.000"/><stop offset="0.12" stop-color="#737373" stop-opacity="0.951"/><stop offset="0.24" stop-color="#737373" stop-opacity="0.817"/><stop offset="0.36" stop-color="#737373" stop-opacity="0.633"/><stop offset="0.48" stop-color="#737373" stop-opacity="0.440"/><stop offset="0.6" stop-color="#737373" stop-opacity="0.271"/><stop offset="0.72" stop-color="#737373" stop-opacity="0.144"/><stop offset="0.86" stop-color="#737373" stop-opacity="0.050"/><stop offset="1" stop-color="#737373" stop-opacity="0.000"/></radialGradient>
<radialGradient id="q105"><stop offset="0" stop-color="#696969" stop-opacity="1.000"/><stop offset="0.12" stop-color="#696969" stop-opacity="0.951"/><stop offset="0.24" stop-color="#696969" stop-opacity="0.817"/><stop offset="0.36" stop-color="#696969" stop-opacity="0.633"/><stop offset="0.48" stop-color="#696969" stop-opacity="0.440"/><stop offset="0.6" stop-color="#696969" stop-opacity="0.271"/><stop offset="0.72" stop-color="#696969" stop-opacity="0.144"/><stop offset="0.86" stop-color="#696969" stop-opacity="0.050"/><stop offset="1" stop-color="#696969" stop-opacity="0.000"/></radialGradient>
<radialGradient id="q91"><stop offset="0" stop-color="#5b5b5b" stop-opacity="1.000"/><stop offset="0.12" stop-color="#5b5b5b" stop-opacity="0.951"/><stop offset="0.24" stop-color="#5b5b5b" stop-opacity="0.817"/><stop offset="0.36" stop-color="#5b5b5b" stop-opacity="0.633"/><stop offset="0.48" stop-color="#5b5b5b" stop-opacity="0.440"/><stop offset="0.6" stop-color="#5b5b5b" stop-opacity="0.271"/><stop offset="0.72" stop-color="#5b5b5b" stop-opacity="0.144"/><stop offset="0.86" stop-color="#5b5b5b" stop-opacity="0.050"/><stop offset="1" stop-color="#5b5b5b" stop-opacity="0.000"/></radialGradient>
<filter id="bl6" filterUnits="userSpaceOnUse" x="1453" y="986" width="556" height="292" color-interpolation-filters="sRGB"><feGaussianBlur stdDeviation="3.5 8.5"/></filter>
<radialGradient id="q52"><stop offset="0" stop-color="#343434" stop-opacity="1.000"/><stop offset="0.12" stop-color="#343434" stop-opacity="0.951"/><stop offset="0.24" stop-color="#343434" stop-opacity="0.817"/><stop offset="0.36" stop-color="#343434" stop-opacity="0.633"/><stop offset="0.48" stop-color="#343434" stop-opacity="0.440"/><stop offset="0.6" stop-color="#343434" stop-opacity="0.271"/><stop offset="0.72" stop-color="#343434" stop-opacity="0.144"/><stop offset="0.86" stop-color="#343434" stop-opacity="0.050"/><stop offset="1" stop-color="#343434" stop-opacity="0.000"/></radialGradient>
<filter id="bl7" filterUnits="userSpaceOnUse" x="1453" y="986" width="556" height="292" color-interpolation-filters="sRGB"><feGaussianBlur stdDeviation="5 6.5"/></filter>
<radialGradient id="q90"><stop offset="0" stop-color="#5a5a5a" stop-opacity="1.000"/><stop offset="0.12" stop-color="#5a5a5a" stop-opacity="0.951"/><stop offset="0.24" stop-color="#5a5a5a" stop-opacity="0.817"/><stop offset="0.36" stop-color="#5a5a5a" stop-opacity="0.633"/><stop offset="0.48" stop-color="#5a5a5a" stop-opacity="0.440"/><stop offset="0.6" stop-color="#5a5a5a" stop-opacity="0.271"/><stop offset="0.72" stop-color="#5a5a5a" stop-opacity="0.144"/><stop offset="0.86" stop-color="#5a5a5a" stop-opacity="0.050"/><stop offset="1" stop-color="#5a5a5a" stop-opacity="0.000"/></radialGradient>
<radialGradient id="q118"><stop offset="0" stop-color="#767676" stop-opacity="1.000"/><stop offset="0.12" stop-color="#767676" stop-opacity="0.951"/><stop offset="0.24" stop-color="#767676" stop-opacity="0.817"/><stop offset="0.36" stop-color="#767676" stop-opacity="0.633"/><stop offset="0.48" stop-color="#767676" stop-opacity="0.440"/><stop offset="0.6" stop-color="#767676" stop-opacity="0.271"/><stop offset="0.72" stop-color="#767676" stop-opacity="0.144"/><stop offset="0.86" stop-color="#767676" stop-opacity="0.050"/><stop offset="1" stop-color="#767676" stop-opacity="0.000"/></radialGradient>
<radialGradient id="q166"><stop offset="0" stop-color="#a6a6a6" stop-opacity="1.000"/><stop offset="0.12" stop-color="#a6a6a6" stop-opacity="0.951"/><stop offset="0.24" stop-color="#a6a6a6" stop-opacity="0.817"/><stop offset="0.36" stop-color="#a6a6a6" stop-opacity="0.633"/><stop offset="0.48" stop-color="#a6a6a6" stop-opacity="0.440"/><stop offset="0.6" stop-color="#a6a6a6" stop-opacity="0.271"/><stop offset="0.72" stop-color="#a6a6a6" stop-opacity="0.144"/><stop offset="0.86" stop-color="#a6a6a6" stop-opacity="0.050"/><stop offset="1" stop-color="#a6a6a6" stop-opacity="0.000"/></radialGradient>
<radialGradient id="r122"><stop offset="0" stop-color="#7a7a7a" stop-opacity="1.000"/><stop offset="0.25" stop-color="#7a7a7a" stop-opacity="0.969"/><stop offset="0.35" stop-color="#7a7a7a" stop-opacity="0.887"/><stop offset="0.45" stop-color="#7a7a7a" stop-opacity="0.720"/><stop offset="0.55" stop-color="#7a7a7a" stop-opacity="0.481"/><stop offset="0.65" stop-color="#7a7a7a" stop-opacity="0.240"/><stop offset="0.75" stop-color="#7a7a7a" stop-opacity="0.079"/><stop offset="0.87" stop-color="#7a7a7a" stop-opacity="0.010"/><stop offset="1" stop-color="#7a7a7a" stop-opacity="0.000"/></radialGradient>
<radialGradient id="q184"><stop offset="0" stop-color="#b8b8b8" stop-opacity="1.000"/><stop offset="0.12" stop-color="#b8b8b8" stop-opacity="0.951"/><stop offset="0.24" stop-color="#b8b8b8" stop-opacity="0.817"/><stop offset="0.36" stop-color="#b8b8b8" stop-opacity="0.633"/><stop offset="0.48" stop-color="#b8b8b8" stop-opacity="0.440"/><stop offset="0.6" stop-color="#b8b8b8" stop-opacity="0.271"/><stop offset="0.72" stop-color="#b8b8b8" stop-opacity="0.144"/><stop offset="0.86" stop-color="#b8b8b8" stop-opacity="0.050"/><stop offset="1" stop-color="#b8b8b8" stop-opacity="0.000"/></radialGradient>
<radialGradient id="r111"><stop offset="0" stop-color="#6f6f6f" stop-opacity="1.000"/><stop offset="0.25" stop-color="#6f6f6f" stop-opacity="0.969"/><stop offset="0.35" stop-color="#6f6f6f" stop-opacity="0.887"/><stop offset="0.45" stop-color="#6f6f6f" stop-opacity="0.720"/><stop offset="0.55" stop-color="#6f6f6f" stop-opacity="0.481"/><stop offset="0.65" stop-color="#6f6f6f" stop-opacity="0.240"/><stop offset="0.75" stop-color="#6f6f6f" stop-opacity="0.079"/><stop offset="0.87" stop-color="#6f6f6f" stop-opacity="0.010"/><stop offset="1" stop-color="#6f6f6f" stop-opacity="0.000"/></radialGradient>
<radialGradient id="r55"><stop offset="0" stop-color="#373737" stop-opacity="1.000"/><stop offset="0.25" stop-color="#373737" stop-opacity="0.969"/><stop offset="0.35" stop-color="#373737" stop-opacity="0.887"/><stop offset="0.45" stop-color="#373737" stop-opacity="0.720"/><stop offset="0.55" stop-color="#373737" stop-opacity="0.481"/><stop offset="0.65" stop-color="#373737" stop-opacity="0.240"/><stop offset="0.75" stop-color="#373737" stop-opacity="0.079"/><stop offset="0.87" stop-color="#373737" stop-opacity="0.010"/><stop offset="1" stop-color="#373737" stop-opacity="0.000"/></radialGradient>
<radialGradient id="q144"><stop offset="0" stop-color="#909090" stop-opacity="1.000"/><stop offset="0.12" stop-color="#909090" stop-opacity="0.951"/><stop offset="0.24" stop-color="#909090" stop-opacity="0.817"/><stop offset="0.36" stop-color="#909090" stop-opacity="0.633"/><stop offset="0.48" stop-color="#909090" stop-opacity="0.440"/><stop offset="0.6" stop-color="#909090" stop-opacity="0.271"/><stop offset="0.72" stop-color="#909090" stop-opacity="0.144"/><stop offset="0.86" stop-color="#909090" stop-opacity="0.050"/><stop offset="1" stop-color="#909090" stop-opacity="0.000"/></radialGradient>
<radialGradient id="q220"><stop offset="0" stop-color="#dcdcdc" stop-opacity="1.000"/><stop offset="0.12" stop-color="#dcdcdc" stop-opacity="0.951"/><stop offset="0.24" stop-color="#dcdcdc" stop-opacity="0.817"/><stop offset="0.36" stop-color="#dcdcdc" stop-opacity="0.633"/><stop offset="0.48" stop-color="#dcdcdc" stop-opacity="0.440"/><stop offset="0.6" stop-color="#dcdcdc" stop-opacity="0.271"/><stop offset="0.72" stop-color="#dcdcdc" stop-opacity="0.144"/><stop offset="0.86" stop-color="#dcdcdc" stop-opacity="0.050"/><stop offset="1" stop-color="#dcdcdc" stop-opacity="0.000"/></radialGradient>
<radialGradient id="q103"><stop offset="0" stop-color="#676767" stop-opacity="1.000"/><stop offset="0.12" stop-color="#676767" stop-opacity="0.951"/><stop offset="0.24" stop-color="#676767" stop-opacity="0.817"/><stop offset="0.36" stop-color="#676767" stop-opacity="0.633"/><stop offset="0.48" stop-color="#676767" stop-opacity="0.440"/><stop offset="0.6" stop-color="#676767" stop-opacity="0.271"/><stop offset="0.72" stop-color="#676767" stop-opacity="0.144"/><stop offset="0.86" stop-color="#676767" stop-opacity="0.050"/><stop offset="1" stop-color="#676767" stop-opacity="0.000"/></radialGradient>
<radialGradient id="q55"><stop offset="0" stop-color="#373737" stop-opacity="1.000"/><stop offset="0.12" stop-color="#373737" stop-opacity="0.951"/><stop offset="0.24" stop-color="#373737" stop-opacity="0.817"/><stop offset="0.36" stop-color="#373737" stop-opacity="0.633"/><stop offset="0.48" stop-color="#373737" stop-opacity="0.440"/><stop offset="0.6" stop-color="#373737" stop-opacity="0.271"/><stop offset="0.72" stop-color="#373737" stop-opacity="0.144"/><stop offset="0.86" stop-color="#373737" stop-opacity="0.050"/><stop offset="1" stop-color="#373737" stop-opacity="0.000"/></radialGradient>
<radialGradient id="r187"><stop offset="0" stop-color="#bbbbbb" stop-opacity="1.000"/><stop offset="0.25" stop-color="#bbbbbb" stop-opacity="0.969"/><stop offset="0.35" stop-color="#bbbbbb" stop-opacity="0.887"/><stop offset="0.45" stop-color="#bbbbbb" stop-opacity="0.720"/><stop offset="0.55" stop-color="#bbbbbb" stop-opacity="0.481"/><stop offset="0.65" stop-color="#bbbbbb" stop-opacity="0.240"/><stop offset="0.75" stop-color="#bbbbbb" stop-opacity="0.079"/><stop offset="0.87" stop-color="#bbbbbb" stop-opacity="0.010"/><stop offset="1" stop-color="#bbbbbb" stop-opacity="0.000"/></radialGradient>
<radialGradient id="q211"><stop offset="0" stop-color="#d3d3d3" stop-opacity="1.000"/><stop offset="0.12" stop-color="#d3d3d3" stop-opacity="0.951"/><stop offset="0.24" stop-color="#d3d3d3" stop-opacity="0.817"/><stop offset="0.36" stop-color="#d3d3d3" stop-opacity="0.633"/><stop offset="0.48" stop-color="#d3d3d3" stop-opacity="0.440"/><stop offset="0.6" stop-color="#d3d3d3" stop-opacity="0.271"/><stop offset="0.72" stop-color="#d3d3d3" stop-opacity="0.144"/><stop offset="0.86" stop-color="#d3d3d3" stop-opacity="0.050"/><stop offset="1" stop-color="#d3d3d3" stop-opacity="0.000"/></radialGradient>
<radialGradient id="r248"><stop offset="0" stop-color="#f8f8f8" stop-opacity="1.000"/><stop offset="0.25" stop-color="#f8f8f8" stop-opacity="0.969"/><stop offset="0.35" stop-color="#f8f8f8" stop-opacity="0.887"/><stop offset="0.45" stop-color="#f8f8f8" stop-opacity="0.720"/><stop offset="0.55" stop-color="#f8f8f8" stop-opacity="0.481"/><stop offset="0.65" stop-color="#f8f8f8" stop-opacity="0.240"/><stop offset="0.75" stop-color="#f8f8f8" stop-opacity="0.079"/><stop offset="0.87" stop-color="#f8f8f8" stop-opacity="0.010"/><stop offset="1" stop-color="#f8f8f8" stop-opacity="0.000"/></radialGradient>
<radialGradient id="r27"><stop offset="0" stop-color="#1b1b1b" stop-opacity="1.000"/><stop offset="0.25" stop-color="#1b1b1b" stop-opacity="0.969"/><stop offset="0.35" stop-color="#1b1b1b" stop-opacity="0.887"/><stop offset="0.45" stop-color="#1b1b1b" stop-opacity="0.720"/><stop offset="0.55" stop-color="#1b1b1b" stop-opacity="0.481"/><stop offset="0.65" stop-color="#1b1b1b" stop-opacity="0.240"/><stop offset="0.75" stop-color="#1b1b1b" stop-opacity="0.079"/><stop offset="0.87" stop-color="#1b1b1b" stop-opacity="0.010"/><stop offset="1" stop-color="#1b1b1b" stop-opacity="0.000"/></radialGradient>
<radialGradient id="q11"><stop offset="0" stop-color="#0b0b0b" stop-opacity="1.000"/><stop offset="0.12" stop-color="#0b0b0b" stop-opacity="0.951"/><stop offset="0.24" stop-color="#0b0b0b" stop-opacity="0.817"/><stop offset="0.36" stop-color="#0b0b0b" stop-opacity="0.633"/><stop offset="0.48" stop-color="#0b0b0b" stop-opacity="0.440"/><stop offset="0.6" stop-color="#0b0b0b" stop-opacity="0.271"/><stop offset="0.72" stop-color="#0b0b0b" stop-opacity="0.144"/><stop offset="0.86" stop-color="#0b0b0b" stop-opacity="0.050"/><stop offset="1" stop-color="#0b0b0b" stop-opacity="0.000"/></radialGradient>
<radialGradient id="r189"><stop offset="0" stop-color="#bdbdbd" stop-opacity="1.000"/><stop offset="0.25" stop-color="#bdbdbd" stop-opacity="0.969"/><stop offset="0.35" stop-color="#bdbdbd" stop-opacity="0.887"/><stop offset="0.45" stop-color="#bdbdbd" stop-opacity="0.720"/><stop offset="0.55" stop-color="#bdbdbd" stop-opacity="0.481"/><stop offset="0.65" stop-color="#bdbdbd" stop-opacity="0.240"/><stop offset="0.75" stop-color="#bdbdbd" stop-opacity="0.079"/><stop offset="0.87" stop-color="#bdbdbd" stop-opacity="0.010"/><stop offset="1" stop-color="#bdbdbd" stop-opacity="0.000"/></radialGradient>
<radialGradient id="r217"><stop offset="0" stop-color="#d9d9d9" stop-opacity="1.000"/><stop offset="0.25" stop-color="#d9d9d9" stop-opacity="0.969"/><stop offset="0.35" stop-color="#d9d9d9" stop-opacity="0.887"/><stop offset="0.45" stop-color="#d9d9d9" stop-opacity="0.720"/><stop offset="0.55" stop-color="#d9d9d9" stop-opacity="0.481"/><stop offset="0.65" stop-color="#d9d9d9" stop-opacity="0.240"/><stop offset="0.75" stop-color="#d9d9d9" stop-opacity="0.079"/><stop offset="0.87" stop-color="#d9d9d9" stop-opacity="0.010"/><stop offset="1" stop-color="#d9d9d9" stop-opacity="0.000"/></radialGradient>
<radialGradient id="r123"><stop offset="0" stop-color="#7b7b7b" stop-opacity="1.000"/><stop offset="0.25" stop-color="#7b7b7b" stop-opacity="0.969"/><stop offset="0.35" stop-color="#7b7b7b" stop-opacity="0.887"/><stop offset="0.45" stop-color="#7b7b7b" stop-opacity="0.720"/><stop offset="0.55" stop-color="#7b7b7b" stop-opacity="0.481"/><stop offset="0.65" stop-color="#7b7b7b" stop-opacity="0.240"/><stop offset="0.75" stop-color="#7b7b7b" stop-opacity="0.079"/><stop offset="0.87" stop-color="#7b7b7b" stop-opacity="0.010"/><stop offset="1" stop-color="#7b7b7b" stop-opacity="0.000"/></radialGradient>
<radialGradient id="r20"><stop offset="0" stop-color="#141414" stop-opacity="1.000"/><stop offset="0.25" stop-color="#141414" stop-opacity="0.969"/><stop offset="0.35" stop-color="#141414" stop-opacity="0.887"/><stop offset="0.45" stop-color="#141414" stop-opacity="0.720"/><stop offset="0.55" stop-color="#141414" stop-opacity="0.481"/><stop offset="0.65" stop-color="#141414" stop-opacity="0.240"/><stop offset="0.75" stop-color="#141414" stop-opacity="0.079"/><stop offset="0.87" stop-color="#141414" stop-opacity="0.010"/><stop offset="1" stop-color="#141414" stop-opacity="0.000"/></radialGradient>
<radialGradient id="r5"><stop offset="0" stop-color="#050505" stop-opacity="1.000"/><stop offset="0.25" stop-color="#050505" stop-opacity="0.969"/><stop offset="0.35" stop-color="#050505" stop-opacity="0.887"/><stop offset="0.45" stop-color="#050505" stop-opacity="0.720"/><stop offset="0.55" stop-color="#050505" stop-opacity="0.481"/><stop offset="0.65" stop-color="#050505" stop-opacity="0.240"/><stop offset="0.75" stop-color="#050505" stop-opacity="0.079"/><stop offset="0.87" stop-color="#050505" stop-opacity="0.010"/><stop offset="1" stop-color="#050505" stop-opacity="0.000"/></radialGradient>
<filter id="bl8" filterUnits="userSpaceOnUse" x="1453" y="986" width="556" height="292" color-interpolation-filters="sRGB"><feGaussianBlur stdDeviation="1 1"/></filter>
<filter id="dpl" filterUnits="userSpaceOnUse" x="1473" y="1006" width="516" height="252" color-interpolation-filters="sRGB"><feTurbulence type="fractalNoise" baseFrequency="0.03 0.05" numOctaves="2" seed="2" result="t"/><feDisplacementMap in="SourceGraphic" in2="t" scale="7" xChannelSelector="R" yChannelSelector="G"/></filter>
</defs>
<rect width="2066" height="1301" fill="#fff"/>
<g id="plot-a">
<rect x="123.50" y="29.80" width="546.00" height="188.50" fill="#fff"/>
<line x1="179.62" y1="29.80" x2="179.62" y2="218.30" stroke="#b0b0b0" stroke-width="1.8"/>
<line x1="233.84" y1="29.80" x2="233.84" y2="218.30" stroke="#b0b0b0" stroke-width="1.8"/>
<line x1="288.06" y1="29.80" x2="288.06" y2="218.30" stroke="#b0b0b0" stroke-width="1.8"/>
<line x1="342.28" y1="29.80" x2="342.28" y2="218.30" stroke="#b0b0b0" stroke-width="1.8"/>
<line x1="396.50" y1="29.80" x2="396.50" y2="218.30" stroke="#b0b0b0" stroke-width="1.8"/>
<line x1="450.72" y1="29.80" x2="450.72" y2="218.30" stroke="#b0b0b0" stroke-width="1.8"/>
<line x1="504.94" y1="29.80" x2="504.94" y2="218.30" stroke="#b0b0b0" stroke-width="1.8"/>
<line x1="559.16" y1="29.80" x2="559.16" y2="218.30" stroke="#b0b0b0" stroke-width="1.8"/>
<line x1="613.38" y1="29.80" x2="613.38" y2="218.30" stroke="#b0b0b0" stroke-width="1.8"/>
<line x1="123.50" y1="78.10" x2="669.50" y2="78.10" stroke="#b0b0b0" stroke-width="1.8"/>
<line x1="123.50" y1="124.50" x2="669.50" y2="124.50" stroke="#b0b0b0" stroke-width="1.8"/>
<line x1="123.50" y1="170.90" x2="669.50" y2="170.90" stroke="#b0b0b0" stroke-width="1.8"/>
<line x1="122.50" y1="218.30" x2="670.30" y2="218.30" stroke="#666" stroke-width="2.0"/>
<line x1="669.30" y1="28.80" x2="669.30" y2="219.30" stroke="#777" stroke-width="1.9"/>
<line x1="122.50" y1="29.80" x2="670.10" y2="29.80" stroke="#000" stroke-width="2.1"/>
<line x1="123.50" y1="28.80" x2="123.50" y2="219.10" stroke="#000" stroke-width="2.1"/>
<line x1="111.10" y1="31.40" x2="120.30" y2="31.40" stroke="#111" stroke-width="2.0"/>
<line x1="111.10" y1="77.80" x2="120.30" y2="77.80" stroke="#111" stroke-width="2.0"/>
<line x1="111.10" y1="124.20" x2="120.30" y2="124.20" stroke="#111" stroke-width="2.0"/>
<line x1="111.10" y1="170.60" x2="120.30" y2="170.60" stroke="#111" stroke-width="2.0"/>
<line x1="111.10" y1="217.00" x2="120.30" y2="217.00" stroke="#111" stroke-width="2.0"/>
<line x1="125.40" y1="222.20" x2="125.40" y2="230.60" stroke="#111" stroke-width="1.9"/>
<line x1="179.62" y1="222.20" x2="179.62" y2="230.60" stroke="#111" stroke-width="1.9"/>
<line x1="233.84" y1="222.20" x2="233.84" y2="230.60" stroke="#111" stroke-width="1.9"/>
<line x1="288.06" y1="222.20" x2="288.06" y2="230.60" stroke="#111" stroke-width="1.9"/>
<line x1="342.28" y1="222.20" x2="342.28" y2="230.60" stroke="#111" stroke-width="1.9"/>
<line x1="396.50" y1="222.20" x2="396.50" y2="230.60" stroke="#111" stroke-width="1.9"/>
<line x1="450.72" y1="222.20" x2="450.72" y2="230.60" stroke="#111" stroke-width="1.9"/>
<line x1="504.94" y1="222.20" x2="504.94" y2="230.60" stroke="#111" stroke-width="1.9"/>
<line x1="559.16" y1="222.20" x2="559.16" y2="230.60" stroke="#111" stroke-width="1.9"/>
<line x1="613.38" y1="222.20" x2="613.38" y2="230.60" stroke="#111" stroke-width="1.9"/>
<line x1="667.60" y1="222.20" x2="667.60" y2="230.60" stroke="#111" stroke-width="1.9"/>
<text transform="translate(105.30,41.40) scale(0.8350,1)" font-family="'Liberation Sans', 'Noto Sans CJK JP', sans-serif" font-size="23.4" text-anchor="end" fill="#000" stroke="#000" stroke-width="0.62">40000</text>
<text transform="translate(105.30,87.80) scale(0.8350,1)" font-family="'Liberation Sans', 'Noto Sans CJK JP', sans-serif" font-size="23.4" text-anchor="end" fill="#000" stroke="#000" stroke-width="0.62">20000</text>
<text transform="translate(105.30,134.20) scale(0.8350,1)" font-family="'Liberation Sans', 'Noto Sans CJK JP', sans-serif" font-size="23.4" text-anchor="end" fill="#000" stroke="#000" stroke-width="0.62">0</text>
<text transform="translate(105.30,180.60) scale(0.8350,1)" font-family="'Liberation Sans', 'Noto Sans CJK JP', sans-serif" font-size="23.4" text-anchor="end" fill="#000" stroke="#000" stroke-width="0.62">−20000</text>
<text transform="translate(105.30,227.00) scale(0.8350,1)" font-family="'Liberation Sans', 'Noto Sans CJK JP', sans-serif" font-size="23.4" text-anchor="end" fill="#000" stroke="#000" stroke-width="0.62">−40000</text>
<text transform="translate(124.20,256.00) scale(0.8350,1)" font-family="'Liberation Sans', 'Noto Sans CJK JP', sans-serif" font-size="23.4" text-anchor="middle" fill="#000" stroke="#000" stroke-width="0.62">0</text>
<text transform="translate(178.42,256.00) scale(0.8350,1)" font-family="'Liberation Sans', 'Noto Sans CJK JP', sans-serif" font-size="23.4" text-anchor="middle" fill="#000" stroke="#000" stroke-width="0.62">20</text>
<text transform="translate(232.64,256.00) scale(0.8350,1)" font-family="'Liberation Sans', 'Noto Sans CJK JP', sans-serif" font-size="23.4" text-anchor="middle" fill="#000" stroke="#000" stroke-width="0.62">40</text>
<text transform="translate(286.86,256.00) scale(0.8350,1)" font-family="'Liberation Sans', 'Noto Sans CJK JP', sans-serif" font-size="23.4" text-anchor="middle" fill="#000" stroke="#000" stroke-width="0.62">60</text>
<text transform="translate(341.08,256.00) scale(0.8350,1)" font-family="'Liberation Sans', 'Noto Sans CJK JP', sans-serif" font-size="23.4" text-anchor="middle" fill="#000" stroke="#000" stroke-width="0.62">80</text>
<text transform="translate(395.30,256.00) scale(0.8350,1)" font-family="'Liberation Sans', 'Noto Sans CJK JP', sans-serif" font-size="23.4" text-anchor="middle" fill="#000" stroke="#000" stroke-width="0.62">100</text>
<text transform="translate(449.52,256.00) scale(0.8350,1)" font-family="'Liberation Sans', 'Noto Sans CJK JP', sans-serif" font-size="23.4" text-anchor="middle" fill="#000" stroke="#000" stroke-width="0.62">120</text>
<text transform="translate(503.74,256.00) scale(0.8350,1)" font-family="'Liberation Sans', 'Noto Sans CJK JP', sans-serif" font-size="23.4" text-anchor="middle" fill="#000" stroke="#000" stroke-width="0.62">140</text>
<text transform="translate(557.96,256.00) scale(0.8350,1)" font-family="'Liberation Sans', 'Noto Sans CJK JP', sans-serif" font-size="23.4" text-anchor="middle" fill="#000" stroke="#000" stroke-width="0.62">160</text>
<text transform="translate(612.18,256.00) scale(0.8350,1)" font-family="'Liberation Sans', 'Noto Sans CJK JP', sans-serif" font-size="23.4" text-anchor="middle" fill="#000" stroke="#000" stroke-width="0.62">180</text>
<text transform="translate(666.40,256.00) scale(0.8350,1)" font-family="'Liberation Sans', 'Noto Sans CJK JP', sans-serif" font-size="23.4" text-anchor="middle" fill="#000" stroke="#000" stroke-width="0.62">200</text>
<path d="M123.4,124.7L126.4,123.2L128.4,122.5L141.4,122.4L142.4,122.5L145.4,124.2L152.4,124.7L154.4,125.6L155.4,125.8L165.4,125.8L167.4,124.7L183.4,124.3L184.4,124L185.4,123L186.4,122.4L198.4,122.4L199.4,122.8L200.4,123.8L201.4,124.3L229.4,124.3L230.4,124.5L232.4,126L236.4,126L239.4,125.8L241.4,124.3L261.4,124.3L263.4,123.6L266.4,122L270.4,118.3L272.4,117L276.4,116.7L283.4,116.6L284.4,117L285.4,117.9L287.4,120.5L292.4,126.2L295.4,130.2L297.4,133.8L301.4,143.2L305.4,150.7L306.4,152L307.4,152.7L309.4,153.5L310.4,153.5L311.4,152.5L313.4,149.3L314.4,147.3L319.4,134.6L321.4,129L323.4,122.3L324.4,117.7L327.4,101L328.4,96.6L330.4,90.7L332.4,85.9L334.4,82.2L337.4,78.4L338.4,77.5L339.4,77.3L340.4,77.7L341.4,78.7L344.4,83.4L345.4,85.6L347.4,91.4L349.4,98.3L350.4,102.7L354.4,123.7L357.4,138L359.4,146.6L362.4,156.9L364.4,162.6L366.4,167.2L367.4,169L368.4,169.3L369.4,168.5L371.4,165.8L373.4,162.5L375.4,158.2L377.4,152.8L378.4,149.1L379.4,144.2L382.4,127.7L384.4,119.2L386.4,112L388.4,107.4L390.4,103.7L391.4,102.5L392.4,101.7L395.4,100.4L397.4,100.4L399.4,101.3L400.4,102.1L401.4,104.2L409.4,124.4L411.4,128.4L412.4,129.9L415.4,133.1L417.4,134.7L419.4,135.7L420.4,135.8L421.4,135.7L423.4,134.8L427.4,132L430.4,129.2L437.4,121.7L440.4,118.2L442.4,116.5L443.4,116.2L451.4,116.3L452.4,117L454.4,119.1L462.4,126L464.4,127.3L466.4,127.8L479.4,127.9L481.4,127.7L484.4,126.7L491.4,123.3L494.4,122.8L509.4,122.8L511.4,123.2L516.4,125.2L518.4,125.6L531.4,125.7L534.4,125.3L539.4,123.4L541.4,122.8L557.4,122.8L559.4,123L564.4,125.1L566.4,125.6L573.4,125.7L575.4,125.3L580.4,123.3L582.4,122.8L591.4,122.5L592.4,122L593.4,120.6L594.4,119.9L596.4,122.3L597.4,122.5L606.4,122.8L608.4,123.9L609.4,124.2L617.4,124.2L619.4,124.4L622.4,125.8L627.4,128.9L629.4,129.8L630.4,130L632.4,129.9L634.4,129.4L642.4,125.4L645.4,124.4L647.4,124.2L665.9,124.2" fill="none" stroke="#111" stroke-width="2.0" stroke-linejoin="round" stroke-linecap="round"/>
</g>
<text transform="translate(663.00,20.90) scale(0.8000,1)" font-family="'Liberation Mono', 'Noto Sans CJK JP', monospace" font-size="23.6" text-anchor="end" fill="#000" stroke="#000" stroke-width="0.4">Target</text>
<text transform="translate(391.00,289.60)" font-family="'Liberation Sans', 'Noto Sans CJK JP', sans-serif" font-size="20.6" text-anchor="middle" fill="#000" stroke="#000" stroke-width="0.3">Times (ns)</text>
<text transform="translate(4.00,42.30) scale(0.9500,1)" font-family="'Liberation Sans', 'Noto Sans CJK JP', sans-serif" font-size="32.5" text-anchor="start" fill="#000">(a)</text>
<g id="plot-d">
<rect x="123.20" y="366.00" width="546.00" height="188.50" fill="#fff"/>
<line x1="179.32" y1="366.00" x2="179.32" y2="554.50" stroke="#b0b0b0" stroke-width="1.8"/>
<line x1="233.54" y1="366.00" x2="233.54" y2="554.50" stroke="#b0b0b0" stroke-width="1.8"/>
<line x1="287.76" y1="366.00" x2="287.76" y2="554.50" stroke="#b0b0b0" stroke-width="1.8"/>
<line x1="341.98" y1="366.00" x2="341.98" y2="554.50" stroke="#b0b0b0" stroke-width="1.8"/>
<line x1="396.20" y1="366.00" x2="396.20" y2="554.50" stroke="#b0b0b0" stroke-width="1.8"/>
<line x1="450.42" y1="366.00" x2="450.42" y2="554.50" stroke="#b0b0b0" stroke-width="1.8"/>
<line x1="504.64" y1="366.00" x2="504.64" y2="554.50" stroke="#b0b0b0" stroke-width="1.8"/>
<line x1="558.86" y1="366.00" x2="558.86" y2="554.50" stroke="#b0b0b0" stroke-width="1.8"/>
<line x1="613.08" y1="366.00" x2="613.08" y2="554.50" stroke="#b0b0b0" stroke-width="1.8"/>
<line x1="123.20" y1="414.30" x2="669.20" y2="414.30" stroke="#b0b0b0" stroke-width="1.8"/>
<line x1="123.20" y1="460.70" x2="669.20" y2="460.70" stroke="#b0b0b0" stroke-width="1.8"/>
<line x1="123.20" y1="507.10" x2="669.20" y2="507.10" stroke="#b0b0b0" stroke-width="1.8"/>
<line x1="122.20" y1="554.50" x2="670.00" y2="554.50" stroke="#666" stroke-width="2.0"/>
<line x1="669.00" y1="365.00" x2="669.00" y2="555.50" stroke="#777" stroke-width="1.9"/>
<line x1="122.20" y1="366.00" x2="669.80" y2="366.00" stroke="#000" stroke-width="2.1"/>
<line x1="123.20" y1="365.00" x2="123.20" y2="555.30" stroke="#000" stroke-width="2.1"/>
<line x1="110.80" y1="367.60" x2="120.00" y2="367.60" stroke="#111" stroke-width="2.0"/>
<line x1="110.80" y1="414.00" x2="120.00" y2="414.00" stroke="#111" stroke-width="2.0"/>
<line x1="110.80" y1="460.40" x2="120.00" y2="460.40" stroke="#111" stroke-width="2.0"/>
<line x1="110.80" y1="506.80" x2="120.00" y2="506.80" stroke="#111" stroke-width="2.0"/>
<line x1="110.80" y1="553.20" x2="120.00" y2="553.20" stroke="#111" stroke-width="2.0"/>
<line x1="125.10" y1="558.40" x2="125.10" y2="566.80" stroke="#111" stroke-width="1.9"/>
<line x1="179.32" y1="558.40" x2="179.32" y2="566.80" stroke="#111" stroke-width="1.9"/>
<line x1="233.54" y1="558.40" x2="233.54" y2="566.80" stroke="#111" stroke-width="1.9"/>
<line x1="287.76" y1="558.40" x2="287.76" y2="566.80" stroke="#111" stroke-width="1.9"/>
<line x1="341.98" y1="558.40" x2="341.98" y2="566.80" stroke="#111" stroke-width="1.9"/>
<line x1="396.20" y1="558.40" x2="396.20" y2="566.80" stroke="#111" stroke-width="1.9"/>
<line x1="450.42" y1="558.40" x2="450.42" y2="566.80" stroke="#111" stroke-width="1.9"/>
<line x1="504.64" y1="558.40" x2="504.64" y2="566.80" stroke="#111" stroke-width="1.9"/>
<line x1="558.86" y1="558.40" x2="558.86" y2="566.80" stroke="#111" stroke-width="1.9"/>
<line x1="613.08" y1="558.40" x2="613.08" y2="566.80" stroke="#111" stroke-width="1.9"/>
<line x1="667.30" y1="558.40" x2="667.30" y2="566.80" stroke="#111" stroke-width="1.9"/>
<text transform="translate(105.00,377.60) scale(0.8350,1)" font-family="'Liberation Sans', 'Noto Sans CJK JP', sans-serif" font-size="23.4" text-anchor="end" fill="#000" stroke="#000" stroke-width="0.62">40000</text>
<text transform="translate(105.00,424.00) scale(0.8350,1)" font-family="'Liberation Sans', 'Noto Sans CJK JP', sans-serif" font-size="23.4" text-anchor="end" fill="#000" stroke="#000" stroke-width="0.62">20000</text>
<text transform="translate(105.00,470.40) scale(0.8350,1)" font-family="'Liberation Sans', 'Noto Sans CJK JP', sans-serif" font-size="23.4" text-anchor="end" fill="#000" stroke="#000" stroke-width="0.62">0</text>
<text transform="translate(105.00,516.80) scale(0.8350,1)" font-family="'Liberation Sans', 'Noto Sans CJK JP', sans-serif" font-size="23.4" text-anchor="end" fill="#000" stroke="#000" stroke-width="0.62">−20000</text>
<text transform="translate(105.00,563.20) scale(0.8350,1)" font-family="'Liberation Sans', 'Noto Sans CJK JP', sans-serif" font-size="23.4" text-anchor="end" fill="#000" stroke="#000" stroke-width="0.62">−40000</text>
<text transform="translate(123.90,592.20) scale(0.8350,1)" font-family="'Liberation Sans', 'Noto Sans CJK JP', sans-serif" font-size="23.4" text-anchor="middle" fill="#000" stroke="#000" stroke-width="0.62">0</text>
<text transform="translate(178.12,592.20) scale(0.8350,1)" font-family="'Liberation Sans', 'Noto Sans CJK JP', sans-serif" font-size="23.4" text-anchor="middle" fill="#000" stroke="#000" stroke-width="0.62">20</text>
<text transform="translate(232.34,592.20) scale(0.8350,1)" font-family="'Liberation Sans', 'Noto Sans CJK JP', sans-serif" font-size="23.4" text-anchor="middle" fill="#000" stroke="#000" stroke-width="0.62">40</text>
<text transform="translate(286.56,592.20) scale(0.8350,1)" font-family="'Liberation Sans', 'Noto Sans CJK JP', sans-serif" font-size="23.4" text-anchor="middle" fill="#000" stroke="#000" stroke-width="0.62">60</text>
<text transform="translate(340.78,592.20) scale(0.8350,1)" font-family="'Liberation Sans', 'Noto Sans CJK JP', sans-serif" font-size="23.4" text-anchor="middle" fill="#000" stroke="#000" stroke-width="0.62">80</text>
<text transform="translate(395.00,592.20) scale(0.8350,1)" font-family="'Liberation Sans', 'Noto Sans CJK JP', sans-serif" font-size="23.4" text-anchor="middle" fill="#000" stroke="#000" stroke-width="0.62">100</text>
<text transform="translate(449.22,592.20) scale(0.8350,1)" font-family="'Liberation Sans', 'Noto Sans CJK JP', sans-serif" font-size="23.4" text-anchor="middle" fill="#000" stroke="#000" stroke-width="0.62">120</text>
<text transform="translate(503.44,592.20) scale(0.8350,1)" font-family="'Liberation Sans', 'Noto Sans CJK JP', sans-serif" font-size="23.4" text-anchor="middle" fill="#000" stroke="#000" stroke-width="0.62">140</text>
<text transform="translate(557.66,592.20) scale(0.8350,1)" font-family="'Liberation Sans', 'Noto Sans CJK JP', sans-serif" font-size="23.4" text-anchor="middle" fill="#000" stroke="#000" stroke-width="0.62">160</text>
<text transform="translate(611.88,592.20) scale(0.8350,1)" font-family="'Liberation Sans', 'Noto Sans CJK JP', sans-serif" font-size="23.4" text-anchor="middle" fill="#000" stroke="#000" stroke-width="0.62">180</text>
<text transform="translate(666.10,592.20) scale(0.8350,1)" font-family="'Liberation Sans', 'Noto Sans CJK JP', sans-serif" font-size="23.4" text-anchor="middle" fill="#000" stroke="#000" stroke-width="0.62">200</text>
<path d="M123.4,460.7L137.4,460.7L138.4,460.3L139.4,459.2L140.4,458.7L149.4,458.7L151.4,460.5L152.4,460.8L161.4,461.3L162.4,461.6L163.4,462.3L176.4,462.3L177.4,462.1L178.4,461L179.4,460.7L210.4,460.7L211.4,460.5L213.4,459L220.4,458L221.4,457.5L225.4,453.9L226.4,453.4L235.4,453.3L236.4,453.7L237.4,454.5L238.4,455.8L242.4,462L244.4,466L249.4,478L251.4,481.6L252.4,482.7L253.4,483.4L256.4,485L258.4,485.5L259.4,485.5L260.4,485.2L262.4,484.1L263.4,483.3L264.4,482.1L265.4,479.8L266.4,476.6L271.4,455.9L276.4,428.7L278.4,419.7L279.4,416.5L282.4,410.8L284.4,408L285.4,407.1L286.4,406.6L287.4,406.6L288.4,407.3L289.4,408.7L291.4,412.5L292.4,415L294.4,422.8L299.4,449.2L304.4,483L306.4,494.9L309.4,509L311.4,517.3L312.4,520.2L313.4,522L314.4,522.3L315.4,521.5L316.4,519.9L317.4,517.7L319.4,512.4L320.4,508.4L322.4,496.4L330.4,438.5L331.4,432.2L332.4,427.5L335.4,418.4L337.4,413.7L338.4,411.9L339.4,410.6L340.4,410L341.4,410L342.4,410.8L343.4,412.3L345.4,416.3L346.4,419.6L348.4,429.4L352.4,453.5L356.4,476L358.4,486.2L359.4,489.9L362.4,496.7L363.4,498.5L364.4,499.8L365.4,500.6L366.4,500.6L367.4,500L368.4,498.7L370.4,495L372.4,490.4L373.4,487.1L375.4,478.1L381.4,445.9L382.4,441.3L384.4,436.1L386.4,432L388.4,429.2L389.4,428.4L390.4,428.2L391.4,428.6L392.4,429.6L393.4,431L395.4,434.2L397.4,438.5L401.4,449.3L406.4,466L409.4,473.8L411.4,478.5L412.4,480.2L413.4,481.4L414.4,481.8L416.4,482.3L417.4,482.4L418.4,482.2L419.4,481.6L421.4,479.8L424.4,475.9L425.4,474L426.4,471.4L429.4,462.4L431.4,457.6L434.4,453L436.4,450.3L438.4,448.3L439.4,447.6L440.4,447.2L444.4,447.1L445.4,447.3L446.4,447.8L448.4,449.5L450.4,451.7L451.4,453.2L454.4,459.7L458.4,465.3L461.4,468.6L463.4,469.9L464.4,470.2L471.4,470.2L472.4,470L473.4,469.5L475.4,467.5L480.4,460.2L482.4,457.9L487.4,454.3L489.4,453.4L490.4,453.2L496.4,453.2L497.4,453.4L498.4,454L502.4,457.5L507.4,461L510.4,462.8L517.4,466L520.4,466.5L522.4,466L531.4,461L533.4,459.5L536.4,456.6L538.4,455.1L539.4,454.7L540.4,454.6L549.4,454.6L550.4,454.9L551.4,455.8L554.4,459.6L555.4,460.3L559.4,462.5L560.4,463.4L564.4,468.4L565.4,469.4L566.4,470L567.4,470.2L575.4,470.2L576.4,470L578.4,468.9L579.4,468.1L580.4,466.3L581.4,463.9L582.4,462.2L583.4,461.1L585.4,459.1L590.4,455.1L594.4,450.6L595.4,449.7L596.4,449.3L603.4,449.2L604.4,449.3L605.4,449.7L607.4,451.3L610.4,454.5L614.4,459.9L616.4,461.6L619.4,463.6L626.4,467.5L628.4,468.3L629.4,468.4L635.4,468.1L639.4,466.4L650.4,463.5L653.4,462.2L658.4,458.3L662.4,457.3L665.4,457" fill="none" stroke="#111" stroke-width="2.0" stroke-linejoin="round" stroke-linecap="round"/>
</g>
<text transform="translate(651.50,357.10) scale(0.8000,1)" font-family="'Liberation Mono', 'Noto Sans CJK JP', monospace" font-size="23.6" text-anchor="end" fill="#000" stroke="#000" stroke-width="0.4">Target</text>
<text transform="translate(391.00,626.50)" font-family="'Liberation Sans', 'Noto Sans CJK JP', sans-serif" font-size="20.6" text-anchor="middle" fill="#000" stroke="#000" stroke-width="0.3">Times (ns)</text>
<text transform="translate(-0.80,378.50) scale(0.9500,1)" font-family="'Liberation Sans', 'Noto Sans CJK JP', sans-serif" font-size="32.5" text-anchor="start" fill="#000">(d)</text>
<g id="plot-g">
<rect x="132.50" y="703.10" width="546.00" height="188.50" fill="#fff"/>
<line x1="188.62" y1="703.10" x2="188.62" y2="891.60" stroke="#b0b0b0" stroke-width="1.8"/>
<line x1="242.84" y1="703.10" x2="242.84" y2="891.60" stroke="#b0b0b0" stroke-width="1.8"/>
<line x1="297.06" y1="703.10" x2="297.06" y2="891.60" stroke="#b0b0b0" stroke-width="1.8"/>
<line x1="351.28" y1="703.10" x2="351.28" y2="891.60" stroke="#b0b0b0" stroke-width="1.8"/>
<line x1="405.50" y1="703.10" x2="405.50" y2="891.60" stroke="#b0b0b0" stroke-width="1.8"/>
<line x1="459.72" y1="703.10" x2="459.72" y2="891.60" stroke="#b0b0b0" stroke-width="1.8"/>
<line x1="513.94" y1="703.10" x2="513.94" y2="891.60" stroke="#b0b0b0" stroke-width="1.8"/>
<line x1="568.16" y1="703.10" x2="568.16" y2="891.60" stroke="#b0b0b0" stroke-width="1.8"/>
<line x1="622.38" y1="703.10" x2="622.38" y2="891.60" stroke="#b0b0b0" stroke-width="1.8"/>
<line x1="132.50" y1="751.40" x2="678.50" y2="751.40" stroke="#b0b0b0" stroke-width="1.8"/>
<line x1="132.50" y1="797.80" x2="678.50" y2="797.80" stroke="#b0b0b0" stroke-width="1.8"/>
<line x1="132.50" y1="844.20" x2="678.50" y2="844.20" stroke="#b0b0b0" stroke-width="1.8"/>
<line x1="131.50" y1="891.60" x2="679.30" y2="891.60" stroke="#666" stroke-width="2.0"/>
<line x1="678.30" y1="702.10" x2="678.30" y2="892.60" stroke="#777" stroke-width="1.9"/>
<line x1="131.50" y1="703.10" x2="679.10" y2="703.10" stroke="#000" stroke-width="2.1"/>
<line x1="132.50" y1="702.10" x2="132.50" y2="892.40" stroke="#000" stroke-width="2.1"/>
<line x1="120.10" y1="704.70" x2="129.30" y2="704.70" stroke="#111" stroke-width="2.0"/>
<line x1="120.10" y1="751.10" x2="129.30" y2="751.10" stroke="#111" stroke-width="2.0"/>
<line x1="120.10" y1="797.50" x2="129.30" y2="797.50" stroke="#111" stroke-width="2.0"/>
<line x1="120.10" y1="843.90" x2="129.30" y2="843.90" stroke="#111" stroke-width="2.0"/>
<line x1="120.10" y1="890.30" x2="129.30" y2="890.30" stroke="#111" stroke-width="2.0"/>
<line x1="134.40" y1="895.50" x2="134.40" y2="903.90" stroke="#111" stroke-width="1.9"/>
<line x1="188.62" y1="895.50" x2="188.62" y2="903.90" stroke="#111" stroke-width="1.9"/>
<line x1="242.84" y1="895.50" x2="242.84" y2="903.90" stroke="#111" stroke-width="1.9"/>
<line x1="297.06" y1="895.50" x2="297.06" y2="903.90" stroke="#111" stroke-width="1.9"/>
<line x1="351.28" y1="895.50" x2="351.28" y2="903.90" stroke="#111" stroke-width="1.9"/>
<line x1="405.50" y1="895.50" x2="405.50" y2="903.90" stroke="#111" stroke-width="1.9"/>
<line x1="459.72" y1="895.50" x2="459.72" y2="903.90" stroke="#111" stroke-width="1.9"/>
<line x1="513.94" y1="895.50" x2="513.94" y2="903.90" stroke="#111" stroke-width="1.9"/>
<line x1="568.16" y1="895.50" x2="568.16" y2="903.90" stroke="#111" stroke-width="1.9"/>
<line x1="622.38" y1="895.50" x2="622.38" y2="903.90" stroke="#111" stroke-width="1.9"/>
<line x1="676.60" y1="895.50" x2="676.60" y2="903.90" stroke="#111" stroke-width="1.9"/>
<text transform="translate(114.30,714.70) scale(0.8350,1)" font-family="'Liberation Sans', 'Noto Sans CJK JP', sans-serif" font-size="23.4" text-anchor="end" fill="#000" stroke="#000" stroke-width="0.62">40000</text>
<text transform="translate(114.30,761.10) scale(0.8350,1)" font-family="'Liberation Sans', 'Noto Sans CJK JP', sans-serif" font-size="23.4" text-anchor="end" fill="#000" stroke="#000" stroke-width="0.62">20000</text>
<text transform="translate(114.30,807.50) scale(0.8350,1)" font-family="'Liberation Sans', 'Noto Sans CJK JP', sans-serif" font-size="23.4" text-anchor="end" fill="#000" stroke="#000" stroke-width="0.62">0</text>
<text transform="translate(114.30,853.90) scale(0.8350,1)" font-family="'Liberation Sans', 'Noto Sans CJK JP', sans-serif" font-size="23.4" text-anchor="end" fill="#000" stroke="#000" stroke-width="0.62">−20000</text>
<text transform="translate(114.30,900.30) scale(0.8350,1)" font-family="'Liberation Sans', 'Noto Sans CJK JP', sans-serif" font-size="23.4" text-anchor="end" fill="#000" stroke="#000" stroke-width="0.62">−40000</text>
<text transform="translate(133.20,929.30) scale(0.8350,1)" font-family="'Liberation Sans', 'Noto Sans CJK JP', sans-serif" font-size="23.4" text-anchor="middle" fill="#000" stroke="#000" stroke-width="0.62">0</text>
<text transform="translate(187.42,929.30) scale(0.8350,1)" font-family="'Liberation Sans', 'Noto Sans CJK JP', sans-serif" font-size="23.4" text-anchor="middle" fill="#000" stroke="#000" stroke-width="0.62">20</text>
<text transform="translate(241.64,929.30) scale(0.8350,1)" font-family="'Liberation Sans', 'Noto Sans CJK JP', sans-serif" font-size="23.4" text-anchor="middle" fill="#000" stroke="#000" stroke-width="0.62">40</text>
<text transform="translate(295.86,929.30) scale(0.8350,1)" font-family="'Liberation Sans', 'Noto Sans CJK JP', sans-serif" font-size="23.4" text-anchor="middle" fill="#000" stroke="#000" stroke-width="0.62">60</text>
<text transform="translate(350.08,929.30) scale(0.8350,1)" font-family="'Liberation Sans', 'Noto Sans CJK JP', sans-serif" font-size="23.4" text-anchor="middle" fill="#000" stroke="#000" stroke-width="0.62">80</text>
<text transform="translate(404.30,929.30) scale(0.8350,1)" font-family="'Liberation Sans', 'Noto Sans CJK JP', sans-serif" font-size="23.4" text-anchor="middle" fill="#000" stroke="#000" stroke-width="0.62">100</text>
<text transform="translate(458.52,929.30) scale(0.8350,1)" font-family="'Liberation Sans', 'Noto Sans CJK JP', sans-serif" font-size="23.4" text-anchor="middle" fill="#000" stroke="#000" stroke-width="0.62">120</text>
<text transform="translate(512.74,929.30) scale(0.8350,1)" font-family="'Liberation Sans', 'Noto Sans CJK JP', sans-serif" font-size="23.4" text-anchor="middle" fill="#000" stroke="#000" stroke-width="0.62">140</text>
<text transform="translate(566.96,929.30) scale(0.8350,1)" font-family="'Liberation Sans', 'Noto Sans CJK JP', sans-serif" font-size="23.4" text-anchor="middle" fill="#000" stroke="#000" stroke-width="0.62">160</text>
<text transform="translate(621.18,929.30) scale(0.8350,1)" font-family="'Liberation Sans', 'Noto Sans CJK JP', sans-serif" font-size="23.4" text-anchor="middle" fill="#000" stroke="#000" stroke-width="0.62">180</text>
<text transform="translate(675.40,929.30) scale(0.8350,1)" font-family="'Liberation Sans', 'Noto Sans CJK JP', sans-serif" font-size="23.4" text-anchor="middle" fill="#000" stroke="#000" stroke-width="0.62">200</text>
<path d="M132,797.8L168,797.8L169,797.6L170,796.4L171,796L180,795.8L181,795.4L183,793.8L187,793.7L188,794.4L189,795.4L190,795.9L196,797L207,801.6L221,801.7L222,801.5L224,800.6L227,798.9L230,796.5L234,794.8L236,794.3L238,794L245,794L246,794.2L249,796L255,796.8L261,799.7L262,799.8L270,799.8L272,799.1L276,796.7L282,792L287,788.8L289,788.2L293,788.2L294,788.6L296,790.3L300,795.6L302,799.9L309,817.8L310,820L313,825.4L315,828L316,828.8L318,830.1L319,830.5L320,830.5L321,829.7L322,828L323,825.8L326,818.1L329,808L331,799.1L335,771.6L336,766L339,752.4L341,745L343,739.9L346,734.3L347,733.1L348,732.4L349,732.5L350,733.2L351,734.6L353,738.7L355,744.3L356,749.2L361,784.3L370,852.4L371,857.6L373,865.1L374,868.3L375,870.6L376,871.8L377,871.6L378,870.3L379,868.2L381,862.8L382,858.9L383,853.8L385,841.3L387,827.3L391,791.8L394,770L396,758.5L397,755.2L399,751L400,749.3L401,748.1L402,747.6L403,747.7L404,748.6L405,750L406,752.4L407,756.2L416,801.6L420,819.7L421,823.6L422,826.3L423,827.6L425,829.3L426,829.9L427,830.2L428,830L429,829L430,827.4L432,823.3L433,820.6L437,803.4L440,791.9L442,785L445,777.2L447,773.1L448,771.9L450,770.7L452,770L453,770.1L454,770.9L456,773.3L457,774.8L459,779.1L462,786.8L463,790L466,801.4L467,804.7L468,807.2L469,808.6L472,811.4L474,812.7L476,813.3L477,813.3L478,813.1L480,812L482,810.6L484,808.2L487,803.6L490,797.1L491,795.4L492,794.5L494,793.2L496,792.4L497,792.2L506,792.2L507,792.5L508,793.1L512,796.7L517,799.1L519,800.2L522,803.5L523,803.9L527,803.9L529,803.5L531,802.6L534,800.8L537,798.2L539,796.8L541,795.9L546,794.4L550,792.8L552,792.3L553,792.2L560,792.2L562,792.6L566,794.3L573,796.7L575,797.7L579,800.2L581,801.1L583,801.5L592,801.7L593,802.1L595,803.5L596,803.9L608,803.9L609,803.8L611,803.2L615,801L619,797.2L621,795.7L627,792.8L630,790.5L631,790.3L639,790.3L640,790.6L641,792L643,795.6L645,797L647,797.7L675.4,797.8" fill="none" stroke="#111" stroke-width="2.0" stroke-linejoin="round" stroke-linecap="round"/>
</g>
<text transform="translate(660.50,694.20) scale(0.8000,1)" font-family="'Liberation Mono', 'Noto Sans CJK JP', monospace" font-size="23.6" text-anchor="end" fill="#000" stroke="#000" stroke-width="0.4">Target</text>
<text transform="translate(402.40,965.00)" font-family="'Liberation Sans', 'Noto Sans CJK JP', sans-serif" font-size="20.6" text-anchor="middle" fill="#000" stroke="#000" stroke-width="0.3">Times (ns)</text>
<text transform="translate(4.50,716.00) scale(0.9500,1)" font-family="'Liberation Sans', 'Noto Sans CJK JP', sans-serif" font-size="32.5" text-anchor="start" fill="#000">(g)</text>
<g id="plot-j">
<rect x="123.20" y="1033.30" width="546.00" height="188.50" fill="#fff"/>
<line x1="179.32" y1="1033.30" x2="179.32" y2="1221.80" stroke="#b0b0b0" stroke-width="1.8"/>
<line x1="233.54" y1="1033.30" x2="233.54" y2="1221.80" stroke="#b0b0b0" stroke-width="1.8"/>
<line x1="287.76" y1="1033.30" x2="287.76" y2="1221.80" stroke="#b0b0b0" stroke-width="1.8"/>
<line x1="341.98" y1="1033.30" x2="341.98" y2="1221.80" stroke="#b0b0b0" stroke-width="1.8"/>
<line x1="396.20" y1="1033.30" x2="396.20" y2="1221.80" stroke="#b0b0b0" stroke-width="1.8"/>
<line x1="450.42" y1="1033.30" x2="450.42" y2="1221.80" stroke="#b0b0b0" stroke-width="1.8"/>
<line x1="504.64" y1="1033.30" x2="504.64" y2="1221.80" stroke="#b0b0b0" stroke-width="1.8"/>
<line x1="558.86" y1="1033.30" x2="558.86" y2="1221.80" stroke="#b0b0b0" stroke-width="1.8"/>
<line x1="613.08" y1="1033.30" x2="613.08" y2="1221.80" stroke="#b0b0b0" stroke-width="1.8"/>
<line x1="123.20" y1="1081.60" x2="669.20" y2="1081.60" stroke="#b0b0b0" stroke-width="1.8"/>
<line x1="123.20" y1="1128.00" x2="669.20" y2="1128.00" stroke="#b0b0b0" stroke-width="1.8"/>
<line x1="123.20" y1="1174.40" x2="669.20" y2="1174.40" stroke="#b0b0b0" stroke-width="1.8"/>
<line x1="122.20" y1="1221.80" x2="670.00" y2="1221.80" stroke="#666" stroke-width="2.0"/>
<line x1="669.00" y1="1032.30" x2="669.00" y2="1222.80" stroke="#777" stroke-width="1.9"/>
<line x1="122.20" y1="1033.30" x2="669.80" y2="1033.30" stroke="#000" stroke-width="2.1"/>
<line x1="123.20" y1="1032.30" x2="123.20" y2="1222.60" stroke="#000" stroke-width="2.1"/>
<line x1="110.80" y1="1034.90" x2="120.00" y2="1034.90" stroke="#111" stroke-width="2.0"/>
<line x1="110.80" y1="1081.30" x2="120.00" y2="1081.30" stroke="#111" stroke-width="2.0"/>
<line x1="110.80" y1="1127.70" x2="120.00" y2="1127.70" stroke="#111" stroke-width="2.0"/>
<line x1="110.80" y1="1174.10" x2="120.00" y2="1174.10" stroke="#111" stroke-width="2.0"/>
<line x1="110.80" y1="1220.50" x2="120.00" y2="1220.50" stroke="#111" stroke-width="2.0"/>
<line x1="125.10" y1="1225.70" x2="125.10" y2="1234.10" stroke="#111" stroke-width="1.9"/>
<line x1="179.32" y1="1225.70" x2="179.32" y2="1234.10" stroke="#111" stroke-width="1.9"/>
<line x1="233.54" y1="1225.70" x2="233.54" y2="1234.10" stroke="#111" stroke-width="1.9"/>
<line x1="287.76" y1="1225.70" x2="287.76" y2="1234.10" stroke="#111" stroke-width="1.9"/>
<line x1="341.98" y1="1225.70" x2="341.98" y2="1234.10" stroke="#111" stroke-width="1.9"/>
<line x1="396.20" y1="1225.70" x2="396.20" y2="1234.10" stroke="#111" stroke-width="1.9"/>
<line x1="450.42" y1="1225.70" x2="450.42" y2="1234.10" stroke="#111" stroke-width="1.9"/>
<line x1="504.64" y1="1225.70" x2="504.64" y2="1234.10" stroke="#111" stroke-width="1.9"/>
<line x1="558.86" y1="1225.70" x2="558.86" y2="1234.10" stroke="#111" stroke-width="1.9"/>
<line x1="613.08" y1="1225.70" x2="613.08" y2="1234.10" stroke="#111" stroke-width="1.9"/>
<line x1="667.30" y1="1225.70" x2="667.30" y2="1234.10" stroke="#111" stroke-width="1.9"/>
<text transform="translate(105.00,1044.90) scale(0.8350,1)" font-family="'Liberation Sans', 'Noto Sans CJK JP', sans-serif" font-size="23.4" text-anchor="end" fill="#000" stroke="#000" stroke-width="0.62">40000</text>
<text transform="translate(105.00,1091.30) scale(0.8350,1)" font-family="'Liberation Sans', 'Noto Sans CJK JP', sans-serif" font-size="23.4" text-anchor="end" fill="#000" stroke="#000" stroke-width="0.62">20000</text>
<text transform="translate(105.00,1137.70) scale(0.8350,1)" font-family="'Liberation Sans', 'Noto Sans CJK JP', sans-serif" font-size="23.4" text-anchor="end" fill="#000" stroke="#000" stroke-width="0.62">0</text>
<text transform="translate(105.00,1184.10) scale(0.8350,1)" font-family="'Liberation Sans', 'Noto Sans CJK JP', sans-serif" font-size="23.4" text-anchor="end" fill="#000" stroke="#000" stroke-width="0.62">−20000</text>
<text transform="translate(105.00,1230.50) scale(0.8350,1)" font-family="'Liberation Sans', 'Noto Sans CJK JP', sans-serif" font-size="23.4" text-anchor="end" fill="#000" stroke="#000" stroke-width="0.62">−40000</text>
<text transform="translate(123.90,1259.50) scale(0.8350,1)" font-family="'Liberation Sans', 'Noto Sans CJK JP', sans-serif" font-size="23.4" text-anchor="middle" fill="#000" stroke="#000" stroke-width="0.62">0</text>
<text transform="translate(178.12,1259.50) scale(0.8350,1)" font-family="'Liberation Sans', 'Noto Sans CJK JP', sans-serif" font-size="23.4" text-anchor="middle" fill="#000" stroke="#000" stroke-width="0.62">20</text>
<text transform="translate(232.34,1259.50) scale(0.8350,1)" font-family="'Liberation Sans', 'Noto Sans CJK JP', sans-serif" font-size="23.4" text-anchor="middle" fill="#000" stroke="#000" stroke-width="0.62">40</text>
<text transform="translate(286.56,1259.50) scale(0.8350,1)" font-family="'Liberation Sans', 'Noto Sans CJK JP', sans-serif" font-size="23.4" text-anchor="middle" fill="#000" stroke="#000" stroke-width="0.62">60</text>
<text transform="translate(340.78,1259.50) scale(0.8350,1)" font-family="'Liberation Sans', 'Noto Sans CJK JP', sans-serif" font-size="23.4" text-anchor="middle" fill="#000" stroke="#000" stroke-width="0.62">80</text>
<text transform="translate(395.00,1259.50) scale(0.8350,1)" font-family="'Liberation Sans', 'Noto Sans CJK JP', sans-serif" font-size="23.4" text-anchor="middle" fill="#000" stroke="#000" stroke-width="0.62">100</text>
<text transform="translate(449.22,1259.50) scale(0.8350,1)" font-family="'Liberation Sans', 'Noto Sans CJK JP', sans-serif" font-size="23.4" text-anchor="middle" fill="#000" stroke="#000" stroke-width="0.62">120</text>
<text transform="translate(503.44,1259.50) scale(0.8350,1)" font-family="'Liberation Sans', 'Noto Sans CJK JP', sans-serif" font-size="23.4" text-anchor="middle" fill="#000" stroke="#000" stroke-width="0.62">140</text>
<text transform="translate(557.66,1259.50) scale(0.8350,1)" font-family="'Liberation Sans', 'Noto Sans CJK JP', sans-serif" font-size="23.4" text-anchor="middle" fill="#000" stroke="#000" stroke-width="0.62">160</text>
<text transform="translate(611.88,1259.50) scale(0.8350,1)" font-family="'Liberation Sans', 'Noto Sans CJK JP', sans-serif" font-size="23.4" text-anchor="middle" fill="#000" stroke="#000" stroke-width="0.62">180</text>
<text transform="translate(666.10,1259.50) scale(0.8350,1)" font-family="'Liberation Sans', 'Noto Sans CJK JP', sans-serif" font-size="23.4" text-anchor="middle" fill="#000" stroke="#000" stroke-width="0.62">200</text>
<path d="M123.4,1128.1L148.4,1128.1L149.4,1128L151.4,1126.2L152.4,1126L168.4,1126.1L170.4,1127.4L171.4,1127.8L176.4,1129L181.4,1131.3L182.4,1131.4L195.4,1131.4L196.4,1131.4L197.4,1130.8L199.4,1129.1L200.4,1128.5L206.4,1126.4L210.4,1124.4L211.4,1124.1L222.4,1124L223.4,1124.2L227.4,1126.1L235.4,1128.1L238.4,1129.7L239.4,1129.8L257.4,1129.8L261.4,1127.9L265.4,1127L267.4,1126.2L269.4,1124.9L273.4,1121.8L277.4,1118.1L279.4,1116.6L280.4,1116.3L283.4,1116L286.4,1115.9L287.4,1116.1L288.4,1117.1L290.4,1120.1L293.4,1124L295.4,1127.2L296.4,1129.2L298.4,1135.5L305.4,1161.4L310.4,1177.7L311.4,1180.3L312.4,1181.9L313.4,1182.2L314.4,1181.5L315.4,1180.1L318.4,1173.4L319.4,1170L321.4,1160.2L323.4,1146.9L324.4,1136.2L327.4,1095.8L329.4,1077.1L330.4,1069.1L332.4,1056.2L333.4,1052.6L334.4,1052.6L344.4,1052.6L345.4,1052.9L346.4,1055.6L347.4,1060.2L350.4,1076.8L353.4,1098.3L355.4,1115.7L359.4,1159.3L362.4,1187.5L363.4,1194.9L364.4,1200L365.4,1202.6L373.4,1202.6L374.4,1202L375.4,1200.5L376.4,1198.2L377.4,1195.4L378.4,1191.3L379.4,1184.5L380.4,1175.9L383.4,1145.1L386.4,1102.5L387.4,1089.4L388.4,1079.5L390.4,1065L391.4,1059.5L392.4,1055.6L393.4,1052.9L394.4,1052.6L400.4,1052.8L401.4,1054L402.4,1056.8L404.4,1065L406.4,1079L409.4,1108.1L412.4,1147.7L415.4,1183.7L416.4,1192.1L417.4,1197.1L418.4,1201L419.4,1202.6L425.4,1202.6L426.4,1201.9L427.4,1199.7L428.4,1196.3L430.4,1187.6L431.4,1180.9L433.4,1160.5L436.4,1125.4L439.4,1084.7L440.4,1074.1L441.4,1067.4L443.4,1057.7L444.4,1054.7L445.4,1053.3L446.4,1052.7L447.4,1052.6L448.4,1052.6L450.4,1053.1L451.4,1054.7L452.4,1059.4L454.4,1071.9L455.4,1079.7L460.4,1123.7L466.4,1171.7L467.4,1178.3L468.4,1182.1L469.4,1184.5L470.4,1186.5L471.4,1187.7L472.4,1188.1L473.4,1187.4L474.4,1185.7L476.4,1180.7L477.4,1177.4L478.4,1172L481.4,1149.9L484.4,1132.4L487.4,1117.1L490.4,1104.4L492.4,1097.3L493.4,1094.6L495.4,1090.9L496.4,1089.5L497.4,1088.8L498.4,1089.1L499.4,1090.2L500.4,1091.9L504.4,1101.5L513.4,1135.3L515.4,1141.8L516.4,1144.1L518.4,1146.7L521.4,1149.5L523.4,1150.6L524.4,1150.8L525.4,1150.7L526.4,1150.1L527.4,1149.1L529.4,1146.3L532.4,1141.4L533.4,1139.3L538.4,1125.6L539.4,1123.2L541.4,1119.5L544.4,1115L547.4,1111.7L549.4,1110L550.4,1109.8L551.4,1109.9L553.4,1111L555.4,1112.8L558.4,1116.1L560.4,1119.4L565.4,1129.1L567.4,1131.7L571.4,1135.6L573.4,1137.3L576.4,1139L578.4,1139.6L579.4,1139.5L581.4,1138.8L583.4,1137.2L585.4,1135.2L589.4,1130.8L594.4,1122.7L596.4,1120.3L599.4,1118.7L602.4,1117.7L604.4,1117.7L605.4,1118L607.4,1119.3L612.4,1123.8L618.4,1131.2L623.4,1135.8L625.4,1137L626.4,1137.4L627.4,1137.5L628.4,1137.4L629.4,1137L633.4,1134.2L635.4,1132.3L639.4,1127.2L640.4,1126.4L641.4,1126L663.4,1126L664.4,1126.8L665.4,1128.1" fill="none" stroke="#111" stroke-width="2.0" stroke-linejoin="round" stroke-linecap="round"/>
</g>
<text transform="translate(651.50,1024.40) scale(0.8000,1)" font-family="'Liberation Mono', 'Noto Sans CJK JP', monospace" font-size="23.6" text-anchor="end" fill="#000" stroke="#000" stroke-width="0.4">Target</text>
<text transform="translate(391.00,1296.00)" font-family="'Liberation Sans', 'Noto Sans CJK JP', sans-serif" font-size="20.6" text-anchor="middle" fill="#000" stroke="#000" stroke-width="0.3">Times (ns)</text>
<text transform="translate(15.00,1046.50) scale(0.9500,1)" font-family="'Liberation Sans', 'Noto Sans CJK JP', sans-serif" font-size="32.5" text-anchor="start" fill="#000">(j)</text>
<g id="plot-b">
<rect x="834.10" y="27.00" width="546.90" height="189.40" fill="#fff"/>
<line x1="889.58" y1="27.00" x2="889.58" y2="216.40" stroke="#b0b0b0" stroke-width="1.8"/>
<line x1="943.86" y1="27.00" x2="943.86" y2="216.40" stroke="#b0b0b0" stroke-width="1.8"/>
<line x1="998.14" y1="27.00" x2="998.14" y2="216.40" stroke="#b0b0b0" stroke-width="1.8"/>
<line x1="1052.42" y1="27.00" x2="1052.42" y2="216.40" stroke="#b0b0b0" stroke-width="1.8"/>
<line x1="1106.70" y1="27.00" x2="1106.70" y2="216.40" stroke="#b0b0b0" stroke-width="1.8"/>
<line x1="1160.98" y1="27.00" x2="1160.98" y2="216.40" stroke="#b0b0b0" stroke-width="1.8"/>
<line x1="1215.26" y1="27.00" x2="1215.26" y2="216.40" stroke="#b0b0b0" stroke-width="1.8"/>
<line x1="1269.54" y1="27.00" x2="1269.54" y2="216.40" stroke="#b0b0b0" stroke-width="1.8"/>
<line x1="1323.82" y1="27.00" x2="1323.82" y2="216.40" stroke="#b0b0b0" stroke-width="1.8"/>
<line x1="834.10" y1="65.80" x2="1381.00" y2="65.80" stroke="#b0b0b0" stroke-width="1.8"/>
<line x1="834.10" y1="112.10" x2="1381.00" y2="112.10" stroke="#b0b0b0" stroke-width="1.8"/>
<line x1="834.10" y1="158.40" x2="1381.00" y2="158.40" stroke="#b0b0b0" stroke-width="1.8"/>
<line x1="834.10" y1="204.70" x2="1381.00" y2="204.70" stroke="#b0b0b0" stroke-width="1.8"/>
<line x1="833.10" y1="216.40" x2="1381.80" y2="216.40" stroke="#666" stroke-width="2.0"/>
<line x1="1380.80" y1="26.00" x2="1380.80" y2="217.40" stroke="#777" stroke-width="1.9"/>
<line x1="833.10" y1="27.00" x2="1381.60" y2="27.00" stroke="#000" stroke-width="2.1"/>
<line x1="834.10" y1="26.00" x2="834.10" y2="217.20" stroke="#000" stroke-width="2.1"/>
<line x1="822.10" y1="28.76" x2="830.80" y2="28.76" stroke="#111" stroke-width="2.0"/>
<line x1="822.10" y1="65.80" x2="830.80" y2="65.80" stroke="#111" stroke-width="2.0"/>
<line x1="822.10" y1="112.10" x2="830.80" y2="112.10" stroke="#111" stroke-width="2.0"/>
<line x1="822.10" y1="158.40" x2="830.80" y2="158.40" stroke="#111" stroke-width="2.0"/>
<line x1="822.10" y1="204.70" x2="830.80" y2="204.70" stroke="#111" stroke-width="2.0"/>
<line x1="822.10" y1="213.96" x2="830.80" y2="213.96" stroke="#111" stroke-width="2.0"/>
<line x1="835.30" y1="220.30" x2="835.30" y2="228.70" stroke="#111" stroke-width="1.9"/>
<line x1="889.58" y1="220.30" x2="889.58" y2="228.70" stroke="#111" stroke-width="1.9"/>
<line x1="943.86" y1="220.30" x2="943.86" y2="228.70" stroke="#111" stroke-width="1.9"/>
<line x1="998.14" y1="220.30" x2="998.14" y2="228.70" stroke="#111" stroke-width="1.9"/>
<line x1="1052.42" y1="220.30" x2="1052.42" y2="228.70" stroke="#111" stroke-width="1.9"/>
<line x1="1106.70" y1="220.30" x2="1106.70" y2="228.70" stroke="#111" stroke-width="1.9"/>
<line x1="1160.98" y1="220.30" x2="1160.98" y2="228.70" stroke="#111" stroke-width="1.9"/>
<line x1="1215.26" y1="220.30" x2="1215.26" y2="228.70" stroke="#111" stroke-width="1.9"/>
<line x1="1269.54" y1="220.30" x2="1269.54" y2="228.70" stroke="#111" stroke-width="1.9"/>
<line x1="1323.82" y1="220.30" x2="1323.82" y2="228.70" stroke="#111" stroke-width="1.9"/>
<line x1="1378.10" y1="220.30" x2="1378.10" y2="228.70" stroke="#111" stroke-width="1.9"/>
<text transform="translate(818.30,39.56) scale(0.8350,1)" font-family="'Liberation Sans', 'Noto Sans CJK JP', sans-serif" font-size="23.4" text-anchor="end" fill="#000" stroke="#000" stroke-width="0.62" letter-spacing="1.6">2.2</text>
<text transform="translate(817.00,76.60) scale(0.8350,1)" font-family="'Liberation Sans', 'Noto Sans CJK JP', sans-serif" font-size="23.4" text-anchor="end" fill="#000" stroke="#000" stroke-width="0.62">2</text>
<text transform="translate(818.30,122.90) scale(0.8350,1)" font-family="'Liberation Sans', 'Noto Sans CJK JP', sans-serif" font-size="23.4" text-anchor="end" fill="#000" stroke="#000" stroke-width="0.62" letter-spacing="1.6">1.75</text>
<text transform="translate(818.30,169.20) scale(0.8350,1)" font-family="'Liberation Sans', 'Noto Sans CJK JP', sans-serif" font-size="23.4" text-anchor="end" fill="#000" stroke="#000" stroke-width="0.62" letter-spacing="1.6">1.5</text>
<text transform="translate(818.30,224.76) scale(0.8350,1)" font-family="'Liberation Sans', 'Noto Sans CJK JP', sans-serif" font-size="23.4" text-anchor="end" fill="#000" stroke="#000" stroke-width="0.62" letter-spacing="1.6">1.2</text>
<text transform="translate(834.10,254.20) scale(0.8350,1)" font-family="'Liberation Sans', 'Noto Sans CJK JP', sans-serif" font-size="23.4" text-anchor="middle" fill="#000" stroke="#000" stroke-width="0.62">0</text>
<text transform="translate(888.38,254.20) scale(0.8350,1)" font-family="'Liberation Sans', 'Noto Sans CJK JP', sans-serif" font-size="23.4" text-anchor="middle" fill="#000" stroke="#000" stroke-width="0.62">20</text>
<text transform="translate(942.66,254.20) scale(0.8350,1)" font-family="'Liberation Sans', 'Noto Sans CJK JP', sans-serif" font-size="23.4" text-anchor="middle" fill="#000" stroke="#000" stroke-width="0.62">40</text>
<text transform="translate(996.94,254.20) scale(0.8350,1)" font-family="'Liberation Sans', 'Noto Sans CJK JP', sans-serif" font-size="23.4" text-anchor="middle" fill="#000" stroke="#000" stroke-width="0.62">60</text>
<text transform="translate(1051.22,254.20) scale(0.8350,1)" font-family="'Liberation Sans', 'Noto Sans CJK JP', sans-serif" font-size="23.4" text-anchor="middle" fill="#000" stroke="#000" stroke-width="0.62">80</text>
<text transform="translate(1105.50,254.20) scale(0.8350,1)" font-family="'Liberation Sans', 'Noto Sans CJK JP', sans-serif" font-size="23.4" text-anchor="middle" fill="#000" stroke="#000" stroke-width="0.62">100</text>
<text transform="translate(1159.78,254.20) scale(0.8350,1)" font-family="'Liberation Sans', 'Noto Sans CJK JP', sans-serif" font-size="23.4" text-anchor="middle" fill="#000" stroke="#000" stroke-width="0.62">120</text>
<text transform="translate(1214.06,254.20) scale(0.8350,1)" font-family="'Liberation Sans', 'Noto Sans CJK JP', sans-serif" font-size="23.4" text-anchor="middle" fill="#000" stroke="#000" stroke-width="0.62">140</text>
<text transform="translate(1268.34,254.20) scale(0.8350,1)" font-family="'Liberation Sans', 'Noto Sans CJK JP', sans-serif" font-size="23.4" text-anchor="middle" fill="#000" stroke="#000" stroke-width="0.62">160</text>
<text transform="translate(1322.62,254.20) scale(0.8350,1)" font-family="'Liberation Sans', 'Noto Sans CJK JP', sans-serif" font-size="23.4" text-anchor="middle" fill="#000" stroke="#000" stroke-width="0.62">180</text>
<text transform="translate(1376.90,254.20) scale(0.8350,1)" font-family="'Liberation Sans', 'Noto Sans CJK JP', sans-serif" font-size="23.4" text-anchor="middle" fill="#000" stroke="#000" stroke-width="0.62">200</text>
<g fill="none" stroke-width="1.7" stroke-dasharray="2.4 4.8" clip-path="url(#clip-b)">
<use href="#cb0" stroke="#00ff60" stroke-dashoffset="6.2"/>
<use href="#cb0" stroke="#e0e000" stroke-dashoffset="8.6"/>
<use href="#cb0" stroke="#8000ff" stroke-dashoffset="11.0"/>
<use href="#cb1" stroke="#ff6000" stroke-dashoffset="0.7"/>
<use href="#cb1" stroke="#2040ff" stroke-dashoffset="3.1"/>
<use href="#cb1" stroke="#0000ff" stroke-dashoffset="5.5"/>
<use href="#cb2" stroke="#ff40ff" stroke-dashoffset="4.3"/>
<use href="#cb2" stroke="#00b0ff" stroke-dashoffset="6.7"/>
<use href="#cb2" stroke="#ff0000" stroke-dashoffset="9.1"/>
<use href="#cb3" stroke="#00b0ff" stroke-dashoffset="0.1"/>
<use href="#cb3" stroke="#0000ff" stroke-dashoffset="2.5"/>
<use href="#cb3" stroke="#ff6000" stroke-dashoffset="4.9"/>
<use href="#cb4" stroke="#ff00ff" stroke-dashoffset="5.6"/>
<use href="#cb4" stroke="#ff6000" stroke-dashoffset="8.0"/>
<use href="#cb4" stroke="#ff0000" stroke-dashoffset="10.4"/>
<use href="#cb5" stroke="#ff00ff" stroke-dashoffset="3.6"/>
<use href="#cb5" stroke="#00b0ff" stroke-dashoffset="6.0"/>
<use href="#cb5" stroke="#00e0ff" stroke-dashoffset="8.4"/>
<use href="#cb6" stroke="#8000ff" stroke-dashoffset="1.8"/>
<use href="#cb6" stroke="#00e000" stroke-dashoffset="4.2"/>
<use href="#cb6" stroke="#ff40ff" stroke-dashoffset="6.6"/>
<use href="#cb7" stroke="#ff6000" stroke-dashoffset="2.9"/>
<use href="#cb7" stroke="#2040ff" stroke-dashoffset="5.3"/>
<use href="#cb7" stroke="#00e000" stroke-dashoffset="7.7"/>
<use href="#cb8" stroke="#e0e000" stroke-dashoffset="1.5"/>
<use href="#cb8" stroke="#00b0ff" stroke-dashoffset="3.9"/>
<use href="#cb8" stroke="#ff0000" stroke-dashoffset="6.3"/>
<use href="#cb9" stroke="#ff40ff" stroke-dashoffset="0.5"/>
<use href="#cb9" stroke="#ff0080" stroke-dashoffset="2.9"/>
<use href="#cb9" stroke="#2040ff" stroke-dashoffset="5.3"/>
<use href="#cb10" stroke="#00e000" stroke-dashoffset="0.1"/>
<use href="#cb10" stroke="#00e0ff" stroke-dashoffset="2.5"/>
<use href="#cb10" stroke="#ffb000" stroke-dashoffset="4.9"/>
<use href="#cb11" stroke="#ff40ff" stroke-dashoffset="0.4"/>
<use href="#cb11" stroke="#00e000" stroke-dashoffset="2.8"/>
<use href="#cb11" stroke="#ff0000" stroke-dashoffset="5.2"/>
</g>
<path d="M834.6,46L876,46L877.4,46.7L878.7,48.3L880.1,50.7L881.4,55L882.8,61.3L885.5,83.8L890.9,138L892.3,146.5L893.7,152.6L895,155.5L896.4,157.2L897.7,157.8L945.2,159.5L958.8,159.7L999.5,158.9L1028,157.7L1038.8,157.5L1167.8,157.3L1313,157.8L1375.4,157.1" fill="none" stroke="#000" stroke-width="1.8" stroke-linejoin="round"/>
</g>
<text transform="translate(1355.00,20.00) scale(0.8000,1)" font-family="'Liberation Mono', 'Noto Sans CJK JP', monospace" font-size="23.6" text-anchor="end" fill="#000" stroke="#000" stroke-width="0.4">Acoustic impedance</text>
<text transform="translate(1114.70,289.60)" font-family="'Liberation Sans', 'Noto Sans CJK JP', sans-serif" font-size="20.6" text-anchor="middle" fill="#000" stroke="#000" stroke-width="0.3">Times (ns)</text>
<text transform="translate(730.50,38.30) scale(0.9500,1)" font-family="'Liberation Sans', 'Noto Sans CJK JP', sans-serif" font-size="32.5" text-anchor="start" fill="#000">(b)</text>
<text transform="translate(766.5,139.5) rotate(-90)" text-anchor="middle" font-family="'Liberation Sans', 'Noto Sans CJK JP', sans-serif" font-size="22" fill="#000" stroke="#000" stroke-width="0.35">MNs/m<tspan font-size="13" dy="-8.5">3</tspan></text>
<text transform="translate(890.70,200.50)" font-family="'Liberation Sans', 'Noto Sans CJK JP', sans-serif" font-size="25" font-weight="bold" text-anchor="middle" fill="#000">S</text>
<g id="plot-e">
<rect x="834.10" y="366.50" width="546.90" height="189.60" fill="#fff"/>
<line x1="889.58" y1="366.50" x2="889.58" y2="556.10" stroke="#b0b0b0" stroke-width="1.8"/>
<line x1="943.86" y1="366.50" x2="943.86" y2="556.10" stroke="#b0b0b0" stroke-width="1.8"/>
<line x1="998.14" y1="366.50" x2="998.14" y2="556.10" stroke="#b0b0b0" stroke-width="1.8"/>
<line x1="1052.42" y1="366.50" x2="1052.42" y2="556.10" stroke="#b0b0b0" stroke-width="1.8"/>
<line x1="1106.70" y1="366.50" x2="1106.70" y2="556.10" stroke="#b0b0b0" stroke-width="1.8"/>
<line x1="1160.98" y1="366.50" x2="1160.98" y2="556.10" stroke="#b0b0b0" stroke-width="1.8"/>
<line x1="1215.26" y1="366.50" x2="1215.26" y2="556.10" stroke="#b0b0b0" stroke-width="1.8"/>
<line x1="1269.54" y1="366.50" x2="1269.54" y2="556.10" stroke="#b0b0b0" stroke-width="1.8"/>
<line x1="1323.82" y1="366.50" x2="1323.82" y2="556.10" stroke="#b0b0b0" stroke-width="1.8"/>
<line x1="834.10" y1="404.60" x2="1381.00" y2="404.60" stroke="#b0b0b0" stroke-width="1.8"/>
<line x1="834.10" y1="450.90" x2="1381.00" y2="450.90" stroke="#b0b0b0" stroke-width="1.8"/>
<line x1="834.10" y1="497.20" x2="1381.00" y2="497.20" stroke="#b0b0b0" stroke-width="1.8"/>
<line x1="834.10" y1="543.50" x2="1381.00" y2="543.50" stroke="#b0b0b0" stroke-width="1.8"/>
<line x1="833.10" y1="556.10" x2="1381.80" y2="556.10" stroke="#666" stroke-width="2.0"/>
<line x1="1380.80" y1="365.50" x2="1380.80" y2="557.10" stroke="#777" stroke-width="1.9"/>
<line x1="833.10" y1="366.50" x2="1381.60" y2="366.50" stroke="#000" stroke-width="2.1"/>
<line x1="834.10" y1="365.50" x2="834.10" y2="556.90" stroke="#000" stroke-width="2.1"/>
<line x1="822.10" y1="367.56" x2="830.80" y2="367.56" stroke="#111" stroke-width="2.0"/>
<line x1="822.10" y1="404.60" x2="830.80" y2="404.60" stroke="#111" stroke-width="2.0"/>
<line x1="822.10" y1="450.90" x2="830.80" y2="450.90" stroke="#111" stroke-width="2.0"/>
<line x1="822.10" y1="497.20" x2="830.80" y2="497.20" stroke="#111" stroke-width="2.0"/>
<line x1="822.10" y1="543.50" x2="830.80" y2="543.50" stroke="#111" stroke-width="2.0"/>
<line x1="822.10" y1="552.76" x2="830.80" y2="552.76" stroke="#111" stroke-width="2.0"/>
<line x1="835.30" y1="560.00" x2="835.30" y2="568.40" stroke="#111" stroke-width="1.9"/>
<line x1="889.58" y1="560.00" x2="889.58" y2="568.40" stroke="#111" stroke-width="1.9"/>
<line x1="943.86" y1="560.00" x2="943.86" y2="568.40" stroke="#111" stroke-width="1.9"/>
<line x1="998.14" y1="560.00" x2="998.14" y2="568.40" stroke="#111" stroke-width="1.9"/>
<line x1="1052.42" y1="560.00" x2="1052.42" y2="568.40" stroke="#111" stroke-width="1.9"/>
<line x1="1106.70" y1="560.00" x2="1106.70" y2="568.40" stroke="#111" stroke-width="1.9"/>
<line x1="1160.98" y1="560.00" x2="1160.98" y2="568.40" stroke="#111" stroke-width="1.9"/>
<line x1="1215.26" y1="560.00" x2="1215.26" y2="568.40" stroke="#111" stroke-width="1.9"/>
<line x1="1269.54" y1="560.00" x2="1269.54" y2="568.40" stroke="#111" stroke-width="1.9"/>
<line x1="1323.82" y1="560.00" x2="1323.82" y2="568.40" stroke="#111" stroke-width="1.9"/>
<line x1="1378.10" y1="560.00" x2="1378.10" y2="568.40" stroke="#111" stroke-width="1.9"/>
<text transform="translate(818.30,378.36) scale(0.8350,1)" font-family="'Liberation Sans', 'Noto Sans CJK JP', sans-serif" font-size="23.4" text-anchor="end" fill="#000" stroke="#000" stroke-width="0.62" letter-spacing="1.6">2.2</text>
<text transform="translate(817.00,415.40) scale(0.8350,1)" font-family="'Liberation Sans', 'Noto Sans CJK JP', sans-serif" font-size="23.4" text-anchor="end" fill="#000" stroke="#000" stroke-width="0.62">2</text>
<text transform="translate(818.30,461.70) scale(0.8350,1)" font-family="'Liberation Sans', 'Noto Sans CJK JP', sans-serif" font-size="23.4" text-anchor="end" fill="#000" stroke="#000" stroke-width="0.62" letter-spacing="1.6">1.75</text>
<text transform="translate(818.30,508.00) scale(0.8350,1)" font-family="'Liberation Sans', 'Noto Sans CJK JP', sans-serif" font-size="23.4" text-anchor="end" fill="#000" stroke="#000" stroke-width="0.62" letter-spacing="1.6">1.5</text>
<text transform="translate(818.30,563.56) scale(0.8350,1)" font-family="'Liberation Sans', 'Noto Sans CJK JP', sans-serif" font-size="23.4" text-anchor="end" fill="#000" stroke="#000" stroke-width="0.62" letter-spacing="1.6">1.2</text>
<text transform="translate(834.10,593.90) scale(0.8350,1)" font-family="'Liberation Sans', 'Noto Sans CJK JP', sans-serif" font-size="23.4" text-anchor="middle" fill="#000" stroke="#000" stroke-width="0.62">0</text>
<text transform="translate(888.38,593.90) scale(0.8350,1)" font-family="'Liberation Sans', 'Noto Sans CJK JP', sans-serif" font-size="23.4" text-anchor="middle" fill="#000" stroke="#000" stroke-width="0.62">20</text>
<text transform="translate(942.66,593.90) scale(0.8350,1)" font-family="'Liberation Sans', 'Noto Sans CJK JP', sans-serif" font-size="23.4" text-anchor="middle" fill="#000" stroke="#000" stroke-width="0.62">40</text>
<text transform="translate(996.94,593.90) scale(0.8350,1)" font-family="'Liberation Sans', 'Noto Sans CJK JP', sans-serif" font-size="23.4" text-anchor="middle" fill="#000" stroke="#000" stroke-width="0.62">60</text>
<text transform="translate(1051.22,593.90) scale(0.8350,1)" font-family="'Liberation Sans', 'Noto Sans CJK JP', sans-serif" font-size="23.4" text-anchor="middle" fill="#000" stroke="#000" stroke-width="0.62">80</text>
<text transform="translate(1105.50,593.90) scale(0.8350,1)" font-family="'Liberation Sans', 'Noto Sans CJK JP', sans-serif" font-size="23.4" text-anchor="middle" fill="#000" stroke="#000" stroke-width="0.62">100</text>
<text transform="translate(1159.78,593.90) scale(0.8350,1)" font-family="'Liberation Sans', 'Noto Sans CJK JP', sans-serif" font-size="23.4" text-anchor="middle" fill="#000" stroke="#000" stroke-width="0.62">120</text>
<text transform="translate(1214.06,593.90) scale(0.8350,1)" font-family="'Liberation Sans', 'Noto Sans CJK JP', sans-serif" font-size="23.4" text-anchor="middle" fill="#000" stroke="#000" stroke-width="0.62">140</text>
<text transform="translate(1268.34,593.90) scale(0.8350,1)" font-family="'Liberation Sans', 'Noto Sans CJK JP', sans-serif" font-size="23.4" text-anchor="middle" fill="#000" stroke="#000" stroke-width="0.62">160</text>
<text transform="translate(1322.62,593.90) scale(0.8350,1)" font-family="'Liberation Sans', 'Noto Sans CJK JP', sans-serif" font-size="23.4" text-anchor="middle" fill="#000" stroke="#000" stroke-width="0.62">180</text>
<text transform="translate(1376.90,593.90) scale(0.8350,1)" font-family="'Liberation Sans', 'Noto Sans CJK JP', sans-serif" font-size="23.4" text-anchor="middle" fill="#000" stroke="#000" stroke-width="0.62">200</text>
<g fill="none" stroke-width="1.7" stroke-dasharray="2.4 4.8" clip-path="url(#clip-e)">
<use href="#ce0" stroke="#00e000" stroke-dashoffset="2.2"/>
<use href="#ce0" stroke="#ff0000" stroke-dashoffset="4.6"/>
<use href="#ce0" stroke="#ff6000" stroke-dashoffset="7.0"/>
<use href="#ce1" stroke="#00e0ff" stroke-dashoffset="1.6"/>
<use href="#ce1" stroke="#00ff60" stroke-dashoffset="4.0"/>
<use href="#ce1" stroke="#ff0000" stroke-dashoffset="6.4"/>
<use href="#ce2" stroke="#ff40ff" stroke-dashoffset="0.1"/>
<use href="#ce2" stroke="#00ff60" stroke-dashoffset="2.5"/>
<use href="#ce2" stroke="#ff0080" stroke-dashoffset="4.9"/>
<use href="#ce3" stroke="#ff00ff" stroke-dashoffset="4.2"/>
<use href="#ce3" stroke="#2040ff" stroke-dashoffset="6.6"/>
<use href="#ce3" stroke="#ff0000" stroke-dashoffset="9.0"/>
<use href="#ce4" stroke="#ffb000" stroke-dashoffset="7.0"/>
<use href="#ce4" stroke="#ff6000" stroke-dashoffset="9.4"/>
<use href="#ce4" stroke="#e0e000" stroke-dashoffset="11.8"/>
<use href="#ce5" stroke="#e0e000" stroke-dashoffset="5.2"/>
<use href="#ce5" stroke="#00ff60" stroke-dashoffset="7.6"/>
<use href="#ce5" stroke="#0000ff" stroke-dashoffset="10.0"/>
<use href="#ce6" stroke="#0000ff" stroke-dashoffset="3.8"/>
<use href="#ce6" stroke="#2040ff" stroke-dashoffset="6.2"/>
<use href="#ce6" stroke="#e0e000" stroke-dashoffset="8.6"/>
<use href="#ce7" stroke="#00e000" stroke-dashoffset="0.3"/>
<use href="#ce7" stroke="#e0e000" stroke-dashoffset="2.7"/>
<use href="#ce7" stroke="#ff0080" stroke-dashoffset="5.1"/>
<use href="#ce8" stroke="#ffb000" stroke-dashoffset="6.5"/>
<use href="#ce8" stroke="#00e000" stroke-dashoffset="8.9"/>
<use href="#ce8" stroke="#e0e000" stroke-dashoffset="11.3"/>
<use href="#ce9" stroke="#ff00ff" stroke-dashoffset="0.8"/>
<use href="#ce9" stroke="#00e0ff" stroke-dashoffset="3.2"/>
<use href="#ce9" stroke="#0000ff" stroke-dashoffset="5.6"/>
<use href="#ce10" stroke="#ff00ff" stroke-dashoffset="1.0"/>
<use href="#ce10" stroke="#ffb000" stroke-dashoffset="3.4"/>
<use href="#ce10" stroke="#8000ff" stroke-dashoffset="5.8"/>
<use href="#ce11" stroke="#00ff60" stroke-dashoffset="4.5"/>
<use href="#ce11" stroke="#ff0000" stroke-dashoffset="6.9"/>
<use href="#ce11" stroke="#2040ff" stroke-dashoffset="9.3"/>
<use href="#ce12" stroke="#ff0000" stroke-dashoffset="6.8"/>
<use href="#ce12" stroke="#ff00ff" stroke-dashoffset="9.2"/>
<use href="#ce12" stroke="#ff40ff" stroke-dashoffset="11.6"/>
<use href="#ce13" stroke="#ffb000" stroke-dashoffset="3.5"/>
<use href="#ce13" stroke="#ff0000" stroke-dashoffset="5.9"/>
<use href="#ce13" stroke="#ff0080" stroke-dashoffset="8.3"/>
<use href="#ce14" stroke="#2040ff" stroke-dashoffset="1.6"/>
<use href="#ce14" stroke="#00ff60" stroke-dashoffset="4.0"/>
<use href="#ce14" stroke="#00e0ff" stroke-dashoffset="6.4"/>
<use href="#ce15" stroke="#8000ff" stroke-dashoffset="1.8"/>
<use href="#ce15" stroke="#e0e000" stroke-dashoffset="4.2"/>
<use href="#ce15" stroke="#ff00ff" stroke-dashoffset="6.6"/>
<use href="#ce16" stroke="#ffb000" stroke-dashoffset="5.9"/>
<use href="#ce16" stroke="#00b0ff" stroke-dashoffset="8.3"/>
<use href="#ce16" stroke="#ff0080" stroke-dashoffset="10.7"/>
<use href="#ce17" stroke="#ff40ff" stroke-dashoffset="1.7"/>
<use href="#ce17" stroke="#00b0ff" stroke-dashoffset="4.1"/>
<use href="#ce17" stroke="#e0e000" stroke-dashoffset="6.5"/>
<use href="#ce18" stroke="#8000ff" stroke-dashoffset="0.4"/>
<use href="#ce18" stroke="#ff6000" stroke-dashoffset="2.8"/>
<use href="#ce18" stroke="#e0e000" stroke-dashoffset="5.2"/>
<use href="#ce19" stroke="#8000ff" stroke-dashoffset="1.8"/>
<use href="#ce19" stroke="#ff40ff" stroke-dashoffset="4.2"/>
<use href="#ce19" stroke="#ff0080" stroke-dashoffset="6.6"/>
<use href="#ce20" stroke="#8000ff" stroke-dashoffset="6.4"/>
<use href="#ce20" stroke="#00e000" stroke-dashoffset="8.8"/>
<use href="#ce20" stroke="#ff00ff" stroke-dashoffset="11.2"/>
<use href="#ce21" stroke="#00e0ff" stroke-dashoffset="2.7"/>
<use href="#ce21" stroke="#ff0000" stroke-dashoffset="5.1"/>
<use href="#ce21" stroke="#ffb000" stroke-dashoffset="7.5"/>
<use href="#ce22" stroke="#ff00ff" stroke-dashoffset="0.2"/>
<use href="#ce22" stroke="#2040ff" stroke-dashoffset="2.6"/>
<use href="#ce22" stroke="#00b0ff" stroke-dashoffset="5.0"/>
<use href="#ce23" stroke="#ff0080" stroke-dashoffset="3.5"/>
<use href="#ce23" stroke="#ff40ff" stroke-dashoffset="5.9"/>
<use href="#ce23" stroke="#00e0ff" stroke-dashoffset="8.3"/>
</g>
<path d="M834.6,384.8L876,384.8L877.4,385.5L878.7,387.1L880.1,389.5L881.4,393.8L882.8,400.2L885.5,422L890.9,469.7L892.3,477.7L893.7,483.3L895,485.9L896.4,487.3L897.7,487.9L924.9,489.4L942.5,491.6L966.9,492.2L988.6,492.2L992.7,491.8L1002.2,490.3L1017.1,489.3L1055.1,489.8L1078.2,488.7L1102.6,488L1114.8,488.1L1155.6,489.7L1177.3,489.7L1196.3,489.2L1199,489L1211.2,485.7L1216.6,484L1220.7,483.3L1223.4,483.6L1230.2,485.8L1237,487.3L1242.4,487.9L1245.1,487.6L1253.3,484.6L1256,484.2L1257.3,484.5L1258.7,485.2L1262.8,488.1L1268.2,490.7L1272.3,492.2L1275,492.6L1277.7,492L1283.1,489.4L1285.8,488.9L1288.5,489.2L1295.3,491.3L1304.8,493.7L1310.2,494.4L1327.9,494.9L1344.2,494.9L1359.1,494.3L1375.4,493.1" fill="none" stroke="#000" stroke-width="1.8" stroke-linejoin="round"/>
</g>
<text transform="translate(1364.50,359.50) scale(0.8000,1)" font-family="'Liberation Mono', 'Noto Sans CJK JP', monospace" font-size="23.6" text-anchor="end" fill="#000" stroke="#000" stroke-width="0.4">Acoustic impedance</text>
<text transform="translate(1114.70,626.50)" font-family="'Liberation Sans', 'Noto Sans CJK JP', sans-serif" font-size="20.6" text-anchor="middle" fill="#000" stroke="#000" stroke-width="0.3">Times (ns)</text>
<text transform="translate(738.00,378.50) scale(0.9500,1)" font-family="'Liberation Sans', 'Noto Sans CJK JP', sans-serif" font-size="32.5" text-anchor="start" fill="#000">(e)</text>
<text transform="translate(767.0,482.6) rotate(-90)" text-anchor="middle" font-family="'Liberation Sans', 'Noto Sans CJK JP', sans-serif" font-size="22" fill="#000" stroke="#000" stroke-width="0.35">MNs/m<tspan font-size="13" dy="-8.5">3</tspan></text>
<text transform="translate(890.50,522.30)" font-family="'Liberation Sans', 'Noto Sans CJK JP', sans-serif" font-size="25" font-weight="bold" text-anchor="middle" fill="#000">S</text>
<g id="plot-h">
<rect x="843.10" y="702.60" width="546.90" height="189.50" fill="#fff"/>
<line x1="898.58" y1="702.60" x2="898.58" y2="892.10" stroke="#b0b0b0" stroke-width="1.8"/>
<line x1="952.86" y1="702.60" x2="952.86" y2="892.10" stroke="#b0b0b0" stroke-width="1.8"/>
<line x1="1007.14" y1="702.60" x2="1007.14" y2="892.10" stroke="#b0b0b0" stroke-width="1.8"/>
<line x1="1061.42" y1="702.60" x2="1061.42" y2="892.10" stroke="#b0b0b0" stroke-width="1.8"/>
<line x1="1115.70" y1="702.60" x2="1115.70" y2="892.10" stroke="#b0b0b0" stroke-width="1.8"/>
<line x1="1169.98" y1="702.60" x2="1169.98" y2="892.10" stroke="#b0b0b0" stroke-width="1.8"/>
<line x1="1224.26" y1="702.60" x2="1224.26" y2="892.10" stroke="#b0b0b0" stroke-width="1.8"/>
<line x1="1278.54" y1="702.60" x2="1278.54" y2="892.10" stroke="#b0b0b0" stroke-width="1.8"/>
<line x1="1332.82" y1="702.60" x2="1332.82" y2="892.10" stroke="#b0b0b0" stroke-width="1.8"/>
<line x1="843.10" y1="741.10" x2="1390.00" y2="741.10" stroke="#b0b0b0" stroke-width="1.8"/>
<line x1="843.10" y1="787.40" x2="1390.00" y2="787.40" stroke="#b0b0b0" stroke-width="1.8"/>
<line x1="843.10" y1="833.70" x2="1390.00" y2="833.70" stroke="#b0b0b0" stroke-width="1.8"/>
<line x1="843.10" y1="880.00" x2="1390.00" y2="880.00" stroke="#b0b0b0" stroke-width="1.8"/>
<line x1="842.10" y1="892.10" x2="1390.80" y2="892.10" stroke="#666" stroke-width="2.0"/>
<line x1="1389.80" y1="701.60" x2="1389.80" y2="893.10" stroke="#777" stroke-width="1.9"/>
<line x1="842.10" y1="702.60" x2="1390.60" y2="702.60" stroke="#000" stroke-width="2.1"/>
<line x1="843.10" y1="701.60" x2="843.10" y2="892.90" stroke="#000" stroke-width="2.1"/>
<line x1="831.10" y1="704.06" x2="839.80" y2="704.06" stroke="#111" stroke-width="2.0"/>
<line x1="831.10" y1="741.10" x2="839.80" y2="741.10" stroke="#111" stroke-width="2.0"/>
<line x1="831.10" y1="787.40" x2="839.80" y2="787.40" stroke="#111" stroke-width="2.0"/>
<line x1="831.10" y1="833.70" x2="839.80" y2="833.70" stroke="#111" stroke-width="2.0"/>
<line x1="831.10" y1="880.00" x2="839.80" y2="880.00" stroke="#111" stroke-width="2.0"/>
<line x1="831.10" y1="889.26" x2="839.80" y2="889.26" stroke="#111" stroke-width="2.0"/>
<line x1="844.30" y1="896.00" x2="844.30" y2="904.40" stroke="#111" stroke-width="1.9"/>
<line x1="898.58" y1="896.00" x2="898.58" y2="904.40" stroke="#111" stroke-width="1.9"/>
<line x1="952.86" y1="896.00" x2="952.86" y2="904.40" stroke="#111" stroke-width="1.9"/>
<line x1="1007.14" y1="896.00" x2="1007.14" y2="904.40" stroke="#111" stroke-width="1.9"/>
<line x1="1061.42" y1="896.00" x2="1061.42" y2="904.40" stroke="#111" stroke-width="1.9"/>
<line x1="1115.70" y1="896.00" x2="1115.70" y2="904.40" stroke="#111" stroke-width="1.9"/>
<line x1="1169.98" y1="896.00" x2="1169.98" y2="904.40" stroke="#111" stroke-width="1.9"/>
<line x1="1224.26" y1="896.00" x2="1224.26" y2="904.40" stroke="#111" stroke-width="1.9"/>
<line x1="1278.54" y1="896.00" x2="1278.54" y2="904.40" stroke="#111" stroke-width="1.9"/>
<line x1="1332.82" y1="896.00" x2="1332.82" y2="904.40" stroke="#111" stroke-width="1.9"/>
<line x1="1387.10" y1="896.00" x2="1387.10" y2="904.40" stroke="#111" stroke-width="1.9"/>
<text transform="translate(827.30,714.86) scale(0.8350,1)" font-family="'Liberation Sans', 'Noto Sans CJK JP', sans-serif" font-size="23.4" text-anchor="end" fill="#000" stroke="#000" stroke-width="0.62" letter-spacing="1.6">2.2</text>
<text transform="translate(826.00,751.90) scale(0.8350,1)" font-family="'Liberation Sans', 'Noto Sans CJK JP', sans-serif" font-size="23.4" text-anchor="end" fill="#000" stroke="#000" stroke-width="0.62">2</text>
<text transform="translate(827.30,798.20) scale(0.8350,1)" font-family="'Liberation Sans', 'Noto Sans CJK JP', sans-serif" font-size="23.4" text-anchor="end" fill="#000" stroke="#000" stroke-width="0.62" letter-spacing="1.6">1.75</text>
<text transform="translate(827.30,844.50) scale(0.8350,1)" font-family="'Liberation Sans', 'Noto Sans CJK JP', sans-serif" font-size="23.4" text-anchor="end" fill="#000" stroke="#000" stroke-width="0.62" letter-spacing="1.6">1.5</text>
<text transform="translate(827.30,900.06) scale(0.8350,1)" font-family="'Liberation Sans', 'Noto Sans CJK JP', sans-serif" font-size="23.4" text-anchor="end" fill="#000" stroke="#000" stroke-width="0.62" letter-spacing="1.6">1.2</text>
<text transform="translate(843.10,929.90) scale(0.8350,1)" font-family="'Liberation Sans', 'Noto Sans CJK JP', sans-serif" font-size="23.4" text-anchor="middle" fill="#000" stroke="#000" stroke-width="0.62">0</text>
<text transform="translate(897.38,929.90) scale(0.8350,1)" font-family="'Liberation Sans', 'Noto Sans CJK JP', sans-serif" font-size="23.4" text-anchor="middle" fill="#000" stroke="#000" stroke-width="0.62">20</text>
<text transform="translate(951.66,929.90) scale(0.8350,1)" font-family="'Liberation Sans', 'Noto Sans CJK JP', sans-serif" font-size="23.4" text-anchor="middle" fill="#000" stroke="#000" stroke-width="0.62">40</text>
<text transform="translate(1005.94,929.90) scale(0.8350,1)" font-family="'Liberation Sans', 'Noto Sans CJK JP', sans-serif" font-size="23.4" text-anchor="middle" fill="#000" stroke="#000" stroke-width="0.62">60</text>
<text transform="translate(1060.22,929.90) scale(0.8350,1)" font-family="'Liberation Sans', 'Noto Sans CJK JP', sans-serif" font-size="23.4" text-anchor="middle" fill="#000" stroke="#000" stroke-width="0.62">80</text>
<text transform="translate(1114.50,929.90) scale(0.8350,1)" font-family="'Liberation Sans', 'Noto Sans CJK JP', sans-serif" font-size="23.4" text-anchor="middle" fill="#000" stroke="#000" stroke-width="0.62">100</text>
<text transform="translate(1168.78,929.90) scale(0.8350,1)" font-family="'Liberation Sans', 'Noto Sans CJK JP', sans-serif" font-size="23.4" text-anchor="middle" fill="#000" stroke="#000" stroke-width="0.62">120</text>
<text transform="translate(1223.06,929.90) scale(0.8350,1)" font-family="'Liberation Sans', 'Noto Sans CJK JP', sans-serif" font-size="23.4" text-anchor="middle" fill="#000" stroke="#000" stroke-width="0.62">140</text>
<text transform="translate(1277.34,929.90) scale(0.8350,1)" font-family="'Liberation Sans', 'Noto Sans CJK JP', sans-serif" font-size="23.4" text-anchor="middle" fill="#000" stroke="#000" stroke-width="0.62">160</text>
<text transform="translate(1331.62,929.90) scale(0.8350,1)" font-family="'Liberation Sans', 'Noto Sans CJK JP', sans-serif" font-size="23.4" text-anchor="middle" fill="#000" stroke="#000" stroke-width="0.62">180</text>
<text transform="translate(1385.90,929.90) scale(0.8350,1)" font-family="'Liberation Sans', 'Noto Sans CJK JP', sans-serif" font-size="23.4" text-anchor="middle" fill="#000" stroke="#000" stroke-width="0.62">200</text>
<g fill="none" stroke-width="1.7" stroke-dasharray="2.4 4.8" clip-path="url(#clip-h)">
<use href="#ch0" stroke="#e0e000" stroke-dashoffset="3.7"/>
<use href="#ch0" stroke="#ff40ff" stroke-dashoffset="6.1"/>
<use href="#ch0" stroke="#00b0ff" stroke-dashoffset="8.5"/>
<use href="#ch1" stroke="#00e000" stroke-dashoffset="4.3"/>
<use href="#ch1" stroke="#00b0ff" stroke-dashoffset="6.7"/>
<use href="#ch1" stroke="#00ff60" stroke-dashoffset="9.1"/>
<use href="#ch2" stroke="#00ff60" stroke-dashoffset="0.7"/>
<use href="#ch2" stroke="#0000ff" stroke-dashoffset="3.1"/>
<use href="#ch2" stroke="#ff0000" stroke-dashoffset="5.5"/>
<use href="#ch3" stroke="#ff40ff" stroke-dashoffset="4.1"/>
<use href="#ch3" stroke="#ff0080" stroke-dashoffset="6.5"/>
<use href="#ch3" stroke="#ff6000" stroke-dashoffset="8.9"/>
<use href="#ch4" stroke="#8000ff" stroke-dashoffset="3.6"/>
<use href="#ch4" stroke="#ff6000" stroke-dashoffset="6.0"/>
<use href="#ch4" stroke="#ff00ff" stroke-dashoffset="8.4"/>
<use href="#ch5" stroke="#ffb000" stroke-dashoffset="4.2"/>
<use href="#ch5" stroke="#00e000" stroke-dashoffset="6.6"/>
<use href="#ch5" stroke="#ff40ff" stroke-dashoffset="9.0"/>
<use href="#ch6" stroke="#e0e000" stroke-dashoffset="0.1"/>
<use href="#ch6" stroke="#ff0000" stroke-dashoffset="2.5"/>
<use href="#ch6" stroke="#ff40ff" stroke-dashoffset="4.9"/>
<use href="#ch7" stroke="#ff00ff" stroke-dashoffset="6.6"/>
<use href="#ch7" stroke="#8000ff" stroke-dashoffset="9.0"/>
<use href="#ch7" stroke="#00b0ff" stroke-dashoffset="11.4"/>
<use href="#ch8" stroke="#00ff60" stroke-dashoffset="1.9"/>
<use href="#ch8" stroke="#0000ff" stroke-dashoffset="4.3"/>
<use href="#ch8" stroke="#ff00ff" stroke-dashoffset="6.7"/>
<use href="#ch9" stroke="#00b0ff" stroke-dashoffset="4.7"/>
<use href="#ch9" stroke="#ff0000" stroke-dashoffset="7.1"/>
<use href="#ch9" stroke="#00e0ff" stroke-dashoffset="9.5"/>
<use href="#ch10" stroke="#ff0000" stroke-dashoffset="0.5"/>
<use href="#ch10" stroke="#00e000" stroke-dashoffset="2.9"/>
<use href="#ch10" stroke="#0000ff" stroke-dashoffset="5.3"/>
<use href="#ch11" stroke="#8000ff" stroke-dashoffset="0.2"/>
<use href="#ch11" stroke="#00e0ff" stroke-dashoffset="2.6"/>
<use href="#ch11" stroke="#00ff60" stroke-dashoffset="5.0"/>
</g>
<path d="M843.6,721.3L885,721.3L886.4,722L887.7,723.6L889.1,726L890.4,730.3L891.8,736.6L894.5,759.1L899.9,813.3L901.3,821.8L902.7,827.9L904,830.8L905.4,832.3L906.7,833.1L910.8,834.2L913.5,834.6L921.6,834.7L966.4,835L967.8,834.8L973.2,832.9L974.6,832.8L1007.1,832.8L1011.2,833.1L1022.1,834.6L1053.3,834.5L1075,834.1L1076.3,833.7L1079.1,832.2L1080.4,831.8L1156.4,831.5L1159.1,831.7L1165.9,833.2L1170,833.7L1175.4,833.4L1187.6,832L1191.7,831.8L1193,832.1L1198.5,835.3L1199.8,835.6L1203.9,834.8L1212,831.6L1216.1,830.9L1218.8,831.5L1224.3,834L1227,834.6L1250,835.3L1274.5,835.5L1349.1,835.5L1362.7,835.2L1384.4,834.1" fill="none" stroke="#000" stroke-width="1.8" stroke-linejoin="round"/>
</g>
<text transform="translate(1373.00,695.60) scale(0.8000,1)" font-family="'Liberation Mono', 'Noto Sans CJK JP', monospace" font-size="23.6" text-anchor="end" fill="#000" stroke="#000" stroke-width="0.4">Acoustic impedance</text>
<text transform="translate(1125.70,965.00)" font-family="'Liberation Sans', 'Noto Sans CJK JP', sans-serif" font-size="20.6" text-anchor="middle" fill="#000" stroke="#000" stroke-width="0.3">Times (ns)</text>
<text transform="translate(739.00,716.00) scale(0.9500,1)" font-family="'Liberation Sans', 'Noto Sans CJK JP', sans-serif" font-size="32.5" text-anchor="start" fill="#000">(h)</text>
<text transform="translate(769.0,815.8) rotate(-90)" text-anchor="middle" font-family="'Liberation Sans', 'Noto Sans CJK JP', sans-serif" font-size="22" fill="#000" stroke="#000" stroke-width="0.35">MNs/m<tspan font-size="13" dy="-8.5">3</tspan></text>
<text transform="translate(899.40,871.50)" font-family="'Liberation Sans', 'Noto Sans CJK JP', sans-serif" font-size="25" font-weight="bold" text-anchor="middle" fill="#000">S</text>
<g id="plot-k">
<rect x="834.10" y="1033.80" width="546.90" height="187.90" fill="#fff"/>
<line x1="889.58" y1="1033.80" x2="889.58" y2="1221.70" stroke="#b0b0b0" stroke-width="1.8"/>
<line x1="943.86" y1="1033.80" x2="943.86" y2="1221.70" stroke="#b0b0b0" stroke-width="1.8"/>
<line x1="998.14" y1="1033.80" x2="998.14" y2="1221.70" stroke="#b0b0b0" stroke-width="1.8"/>
<line x1="1052.42" y1="1033.80" x2="1052.42" y2="1221.70" stroke="#b0b0b0" stroke-width="1.8"/>
<line x1="1106.70" y1="1033.80" x2="1106.70" y2="1221.70" stroke="#b0b0b0" stroke-width="1.8"/>
<line x1="1160.98" y1="1033.80" x2="1160.98" y2="1221.70" stroke="#b0b0b0" stroke-width="1.8"/>
<line x1="1215.26" y1="1033.80" x2="1215.26" y2="1221.70" stroke="#b0b0b0" stroke-width="1.8"/>
<line x1="1269.54" y1="1033.80" x2="1269.54" y2="1221.70" stroke="#b0b0b0" stroke-width="1.8"/>
<line x1="1323.82" y1="1033.80" x2="1323.82" y2="1221.70" stroke="#b0b0b0" stroke-width="1.8"/>
<line x1="834.10" y1="1071.20" x2="1381.00" y2="1071.20" stroke="#b0b0b0" stroke-width="1.8"/>
<line x1="834.10" y1="1117.50" x2="1381.00" y2="1117.50" stroke="#b0b0b0" stroke-width="1.8"/>
<line x1="834.10" y1="1163.80" x2="1381.00" y2="1163.80" stroke="#b0b0b0" stroke-width="1.8"/>
<line x1="834.10" y1="1210.10" x2="1381.00" y2="1210.10" stroke="#b0b0b0" stroke-width="1.8"/>
<line x1="833.10" y1="1221.70" x2="1381.80" y2="1221.70" stroke="#666" stroke-width="2.0"/>
<line x1="1380.80" y1="1032.80" x2="1380.80" y2="1222.70" stroke="#777" stroke-width="1.9"/>
<line x1="833.10" y1="1033.80" x2="1381.60" y2="1033.80" stroke="#000" stroke-width="2.1"/>
<line x1="834.10" y1="1032.80" x2="834.10" y2="1222.50" stroke="#000" stroke-width="2.1"/>
<line x1="822.10" y1="1034.16" x2="830.80" y2="1034.16" stroke="#111" stroke-width="2.0"/>
<line x1="822.10" y1="1071.20" x2="830.80" y2="1071.20" stroke="#111" stroke-width="2.0"/>
<line x1="822.10" y1="1117.50" x2="830.80" y2="1117.50" stroke="#111" stroke-width="2.0"/>
<line x1="822.10" y1="1163.80" x2="830.80" y2="1163.80" stroke="#111" stroke-width="2.0"/>
<line x1="822.10" y1="1210.10" x2="830.80" y2="1210.10" stroke="#111" stroke-width="2.0"/>
<line x1="822.10" y1="1219.36" x2="830.80" y2="1219.36" stroke="#111" stroke-width="2.0"/>
<line x1="835.30" y1="1225.60" x2="835.30" y2="1234.00" stroke="#111" stroke-width="1.9"/>
<line x1="889.58" y1="1225.60" x2="889.58" y2="1234.00" stroke="#111" stroke-width="1.9"/>
<line x1="943.86" y1="1225.60" x2="943.86" y2="1234.00" stroke="#111" stroke-width="1.9"/>
<line x1="998.14" y1="1225.60" x2="998.14" y2="1234.00" stroke="#111" stroke-width="1.9"/>
<line x1="1052.42" y1="1225.60" x2="1052.42" y2="1234.00" stroke="#111" stroke-width="1.9"/>
<line x1="1106.70" y1="1225.60" x2="1106.70" y2="1234.00" stroke="#111" stroke-width="1.9"/>
<line x1="1160.98" y1="1225.60" x2="1160.98" y2="1234.00" stroke="#111" stroke-width="1.9"/>
<line x1="1215.26" y1="1225.60" x2="1215.26" y2="1234.00" stroke="#111" stroke-width="1.9"/>
<line x1="1269.54" y1="1225.60" x2="1269.54" y2="1234.00" stroke="#111" stroke-width="1.9"/>
<line x1="1323.82" y1="1225.60" x2="1323.82" y2="1234.00" stroke="#111" stroke-width="1.9"/>
<line x1="1378.10" y1="1225.60" x2="1378.10" y2="1234.00" stroke="#111" stroke-width="1.9"/>
<text transform="translate(818.30,1044.96) scale(0.8350,1)" font-family="'Liberation Sans', 'Noto Sans CJK JP', sans-serif" font-size="23.4" text-anchor="end" fill="#000" stroke="#000" stroke-width="0.62" letter-spacing="1.6">2.2</text>
<text transform="translate(817.00,1082.00) scale(0.8350,1)" font-family="'Liberation Sans', 'Noto Sans CJK JP', sans-serif" font-size="23.4" text-anchor="end" fill="#000" stroke="#000" stroke-width="0.62">2</text>
<text transform="translate(818.30,1128.30) scale(0.8350,1)" font-family="'Liberation Sans', 'Noto Sans CJK JP', sans-serif" font-size="23.4" text-anchor="end" fill="#000" stroke="#000" stroke-width="0.62" letter-spacing="1.6">1.75</text>
<text transform="translate(818.30,1174.60) scale(0.8350,1)" font-family="'Liberation Sans', 'Noto Sans CJK JP', sans-serif" font-size="23.4" text-anchor="end" fill="#000" stroke="#000" stroke-width="0.62" letter-spacing="1.6">1.5</text>
<text transform="translate(818.30,1230.16) scale(0.8350,1)" font-family="'Liberation Sans', 'Noto Sans CJK JP', sans-serif" font-size="23.4" text-anchor="end" fill="#000" stroke="#000" stroke-width="0.62" letter-spacing="1.6">1.2</text>
<text transform="translate(834.10,1259.50) scale(0.8350,1)" font-family="'Liberation Sans', 'Noto Sans CJK JP', sans-serif" font-size="23.4" text-anchor="middle" fill="#000" stroke="#000" stroke-width="0.62">0</text>
<text transform="translate(888.38,1259.50) scale(0.8350,1)" font-family="'Liberation Sans', 'Noto Sans CJK JP', sans-serif" font-size="23.4" text-anchor="middle" fill="#000" stroke="#000" stroke-width="0.62">20</text>
<text transform="translate(942.66,1259.50) scale(0.8350,1)" font-family="'Liberation Sans', 'Noto Sans CJK JP', sans-serif" font-size="23.4" text-anchor="middle" fill="#000" stroke="#000" stroke-width="0.62">40</text>
<text transform="translate(996.94,1259.50) scale(0.8350,1)" font-family="'Liberation Sans', 'Noto Sans CJK JP', sans-serif" font-size="23.4" text-anchor="middle" fill="#000" stroke="#000" stroke-width="0.62">60</text>
<text transform="translate(1051.22,1259.50) scale(0.8350,1)" font-family="'Liberation Sans', 'Noto Sans CJK JP', sans-serif" font-size="23.4" text-anchor="middle" fill="#000" stroke="#000" stroke-width="0.62">80</text>
<text transform="translate(1105.50,1259.50) scale(0.8350,1)" font-family="'Liberation Sans', 'Noto Sans CJK JP', sans-serif" font-size="23.4" text-anchor="middle" fill="#000" stroke="#000" stroke-width="0.62">100</text>
<text transform="translate(1159.78,1259.50) scale(0.8350,1)" font-family="'Liberation Sans', 'Noto Sans CJK JP', sans-serif" font-size="23.4" text-anchor="middle" fill="#000" stroke="#000" stroke-width="0.62">120</text>
<text transform="translate(1214.06,1259.50) scale(0.8350,1)" font-family="'Liberation Sans', 'Noto Sans CJK JP', sans-serif" font-size="23.4" text-anchor="middle" fill="#000" stroke="#000" stroke-width="0.62">140</text>
<text transform="translate(1268.34,1259.50) scale(0.8350,1)" font-family="'Liberation Sans', 'Noto Sans CJK JP', sans-serif" font-size="23.4" text-anchor="middle" fill="#000" stroke="#000" stroke-width="0.62">160</text>
<text transform="translate(1322.62,1259.50) scale(0.8350,1)" font-family="'Liberation Sans', 'Noto Sans CJK JP', sans-serif" font-size="23.4" text-anchor="middle" fill="#000" stroke="#000" stroke-width="0.62">180</text>
<text transform="translate(1376.90,1259.50) scale(0.8350,1)" font-family="'Liberation Sans', 'Noto Sans CJK JP', sans-serif" font-size="23.4" text-anchor="middle" fill="#000" stroke="#000" stroke-width="0.62">200</text>
<g fill="none" stroke-width="1.7" stroke-dasharray="2.4 4.8" clip-path="url(#clip-k)">
<use href="#ck0" stroke="#ff0080" stroke-dashoffset="2.0"/>
<use href="#ck0" stroke="#ff6000" stroke-dashoffset="4.4"/>
<use href="#ck0" stroke="#ff40ff" stroke-dashoffset="6.8"/>
<use href="#ck1" stroke="#ff0000" stroke-dashoffset="4.8"/>
<use href="#ck1" stroke="#2040ff" stroke-dashoffset="7.2"/>
<use href="#ck1" stroke="#ff00ff" stroke-dashoffset="9.6"/>
<use href="#ck2" stroke="#0000ff" stroke-dashoffset="1.2"/>
<use href="#ck2" stroke="#ff40ff" stroke-dashoffset="3.6"/>
<use href="#ck2" stroke="#ffb000" stroke-dashoffset="6.0"/>
<use href="#ck3" stroke="#2040ff" stroke-dashoffset="3.1"/>
<use href="#ck3" stroke="#ff6000" stroke-dashoffset="5.5"/>
<use href="#ck3" stroke="#ff0000" stroke-dashoffset="7.9"/>
<use href="#ck4" stroke="#ffb000" stroke-dashoffset="0.9"/>
<use href="#ck4" stroke="#ff40ff" stroke-dashoffset="3.3"/>
<use href="#ck4" stroke="#00ff60" stroke-dashoffset="5.7"/>
<use href="#ck5" stroke="#ff40ff" stroke-dashoffset="1.9"/>
<use href="#ck5" stroke="#0000ff" stroke-dashoffset="4.3"/>
<use href="#ck5" stroke="#ff0000" stroke-dashoffset="6.7"/>
<use href="#ck6" stroke="#ff0080" stroke-dashoffset="2.2"/>
<use href="#ck6" stroke="#2040ff" stroke-dashoffset="4.6"/>
<use href="#ck6" stroke="#ff0000" stroke-dashoffset="7.0"/>
<use href="#ck7" stroke="#00b0ff" stroke-dashoffset="6.2"/>
<use href="#ck7" stroke="#e0e000" stroke-dashoffset="8.6"/>
<use href="#ck7" stroke="#00ff60" stroke-dashoffset="11.0"/>
<use href="#ck8" stroke="#ff40ff" stroke-dashoffset="3.8"/>
<use href="#ck8" stroke="#ff0080" stroke-dashoffset="6.2"/>
<use href="#ck8" stroke="#2040ff" stroke-dashoffset="8.6"/>
<use href="#ck9" stroke="#00ff60" stroke-dashoffset="1.0"/>
<use href="#ck9" stroke="#ffb000" stroke-dashoffset="3.4"/>
<use href="#ck9" stroke="#0000ff" stroke-dashoffset="5.8"/>
<use href="#ck10" stroke="#e0e000" stroke-dashoffset="7.1"/>
<use href="#ck10" stroke="#2040ff" stroke-dashoffset="9.5"/>
<use href="#ck10" stroke="#00e000" stroke-dashoffset="11.9"/>
<use href="#ck11" stroke="#ff40ff" stroke-dashoffset="4.4"/>
<use href="#ck11" stroke="#e0e000" stroke-dashoffset="6.8"/>
<use href="#ck11" stroke="#00e000" stroke-dashoffset="9.2"/>
<use href="#ck12" stroke="#ff00ff" stroke-dashoffset="2.6"/>
<use href="#ck12" stroke="#e0e000" stroke-dashoffset="5.0"/>
<use href="#ck12" stroke="#ff0080" stroke-dashoffset="7.4"/>
<use href="#ck13" stroke="#00e000" stroke-dashoffset="3.9"/>
<use href="#ck13" stroke="#00b0ff" stroke-dashoffset="6.3"/>
<use href="#ck13" stroke="#00e0ff" stroke-dashoffset="8.7"/>
<use href="#ck14" stroke="#ff40ff" stroke-dashoffset="2.7"/>
<use href="#ck14" stroke="#ffb000" stroke-dashoffset="5.1"/>
<use href="#ck14" stroke="#ff6000" stroke-dashoffset="7.5"/>
<use href="#ck15" stroke="#ff00ff" stroke-dashoffset="1.5"/>
<use href="#ck15" stroke="#8000ff" stroke-dashoffset="3.9"/>
<use href="#ck15" stroke="#0000ff" stroke-dashoffset="6.3"/>
<use href="#ck16" stroke="#ff00ff" stroke-dashoffset="4.5"/>
<use href="#ck16" stroke="#8000ff" stroke-dashoffset="6.9"/>
<use href="#ck16" stroke="#ff6000" stroke-dashoffset="9.3"/>
<use href="#ck17" stroke="#ff40ff" stroke-dashoffset="4.3"/>
<use href="#ck17" stroke="#00e000" stroke-dashoffset="6.7"/>
<use href="#ck17" stroke="#00ff60" stroke-dashoffset="9.1"/>
<use href="#ck18" stroke="#ffb000" stroke-dashoffset="0.2"/>
<use href="#ck18" stroke="#00e0ff" stroke-dashoffset="2.6"/>
<use href="#ck18" stroke="#e0e000" stroke-dashoffset="5.0"/>
<use href="#ck19" stroke="#8000ff" stroke-dashoffset="6.6"/>
<use href="#ck19" stroke="#e0e000" stroke-dashoffset="9.0"/>
<use href="#ck19" stroke="#00b0ff" stroke-dashoffset="11.4"/>
<use href="#ck20" stroke="#ff0000" stroke-dashoffset="4.3"/>
<use href="#ck20" stroke="#8000ff" stroke-dashoffset="6.7"/>
<use href="#ck20" stroke="#00b0ff" stroke-dashoffset="9.1"/>
<use href="#ck21" stroke="#00e0ff" stroke-dashoffset="1.9"/>
<use href="#ck21" stroke="#e0e000" stroke-dashoffset="4.3"/>
<use href="#ck21" stroke="#0000ff" stroke-dashoffset="6.7"/>
<use href="#ck22" stroke="#ff40ff" stroke-dashoffset="4.2"/>
<use href="#ck22" stroke="#00e0ff" stroke-dashoffset="6.6"/>
<use href="#ck22" stroke="#ff6000" stroke-dashoffset="9.0"/>
<use href="#ck23" stroke="#ff00ff" stroke-dashoffset="3.4"/>
<use href="#ck23" stroke="#00e000" stroke-dashoffset="5.8"/>
<use href="#ck23" stroke="#8000ff" stroke-dashoffset="8.2"/>
</g>
<path d="M834.6,1051.4L876,1051.4L877.4,1052.1L878.7,1053.7L880.1,1056.1L881.4,1060.4L882.8,1066.7L885.5,1089.2L890.9,1143.4L892.3,1151.9L893.7,1158L895,1160.9L896.4,1162.6L897.7,1163.2L901.8,1162.8L908.6,1161.4L911.3,1161.2L983.2,1161.4L1003.6,1161.7L1051.1,1162.9L1106.7,1161.9L1113.5,1162.3L1128.4,1164L1133.8,1164.4L1161,1165.3L1182.7,1165.7L1184,1165.5L1186.8,1164.6L1194.9,1160.2L1197.6,1159.3L1199,1159.2L1200.3,1159.4L1201.7,1160.2L1207.1,1164.6L1208.5,1165.4L1209.8,1165.7L1211.2,1165.3L1212.5,1164.2L1218,1157.8L1219.3,1156.8L1220.7,1156.4L1223.4,1157L1228.8,1159.5L1231.5,1160.1L1237,1159.5L1249.2,1156.3L1253.3,1155.6L1256,1155.5L1258.7,1155.8L1266.8,1158L1269.5,1158.2L1298,1157.3L1336,1158.2L1375.4,1158.6" fill="none" stroke="#000" stroke-width="1.8" stroke-linejoin="round"/>
</g>
<text transform="translate(1364.50,1026.80) scale(0.8000,1)" font-family="'Liberation Mono', 'Noto Sans CJK JP', monospace" font-size="23.6" text-anchor="end" fill="#000" stroke="#000" stroke-width="0.4">Acoustic impedance</text>
<text transform="translate(1114.70,1296.00)" font-family="'Liberation Sans', 'Noto Sans CJK JP', sans-serif" font-size="20.6" text-anchor="middle" fill="#000" stroke="#000" stroke-width="0.3">Times (ns)</text>
<text transform="translate(734.00,1046.50) scale(0.9500,1)" font-family="'Liberation Sans', 'Noto Sans CJK JP', sans-serif" font-size="32.5" text-anchor="start" fill="#000">(k)</text>
<text transform="translate(767.0,1140.0) rotate(-90)" text-anchor="middle" font-family="'Liberation Sans', 'Noto Sans CJK JP', sans-serif" font-size="22" fill="#000" stroke="#000" stroke-width="0.35">MNs/m<tspan font-size="13" dy="-8.5">3</tspan></text>
<text transform="translate(890.40,1202.70)" font-family="'Liberation Sans', 'Noto Sans CJK JP', sans-serif" font-size="25" font-weight="bold" text-anchor="middle" fill="#000">S</text>
<g id="heat-c">
<g clip-path="url(#hc-c)"><g filter="url(#cm)"><g filter="url(#dpc)">
<rect x="1473.0" y="1.0" width="516.0" height="252.1" fill="#484848"/>
<ellipse cx="1700.8" cy="64.2" rx="170.5" ry="60.9" fill="url(#q78)" fill-opacity="0.9"/>
<ellipse cx="1855.5" cy="85.3" rx="194.9" ry="79.2" fill="url(#q81)" fill-opacity="0.9"/>
<ellipse cx="1841.4" cy="54.8" rx="158.4" ry="42.6" fill="url(#q79)" fill-opacity="0.7"/>
<ellipse cx="1935.1" cy="73.6" rx="91.4" ry="73.1" fill="url(#q77)" fill-opacity="0.7"/>
<ellipse cx="1560.3" cy="61.9" rx="134.0" ry="54.8" fill="url(#q75)" fill-opacity="0.6"/>
<ellipse cx="1588.4" cy="136.8" rx="170.5" ry="73.1" fill="url(#q60)"/>
<ellipse cx="1731.3" cy="127.4" rx="140.1" ry="60.9" fill="url(#q59)"/>
<ellipse cx="1923.4" cy="155.6" rx="152.3" ry="85.3" fill="url(#q61)"/>
<ellipse cx="1818.0" cy="129.8" rx="79.2" ry="36.5" fill="url(#q65)" fill-opacity="0.8"/>
<ellipse cx="1548.6" cy="176.6" rx="194.9" ry="48.7" fill="url(#q62)" fill-opacity="0.9"/>
<ellipse cx="1724.3" cy="155.6" rx="91.4" ry="36.5" fill="url(#q64)" fill-opacity="0.7"/>
<ellipse cx="1663.4" cy="118.1" rx="33.5" ry="27.4" fill="url(#q77)" fill-opacity="0.9"/>
<ellipse cx="1664.5" cy="133.3" rx="30.5" ry="21.3" fill="url(#q78)" fill-opacity="0.9"/>
<ellipse cx="1836.7" cy="111.1" rx="48.7" ry="33.5" fill="url(#q80)" fill-opacity="0.8"/>
<ellipse cx="1782.8" cy="104.0" rx="36.5" ry="36.5" fill="url(#q75)" fill-opacity="0.7"/>
<ellipse cx="1792.2" cy="167.3" rx="126.5" ry="37.5" fill="url(#r88)" fill-opacity="0.9"/>
<ellipse cx="1665.7" cy="172.0" rx="70.3" ry="30.5" fill="url(#r88)" fill-opacity="0.9"/>
<ellipse cx="1719.6" cy="184.8" rx="75.0" ry="21.1" fill="url(#r95)" fill-opacity="0.9"/>
<ellipse cx="1862.5" cy="187.2" rx="42.6" ry="24.4" fill="url(#q96)" fill-opacity="0.9"/>
<ellipse cx="1771.1" cy="155.6" rx="33.5" ry="33.5" fill="url(#q95)" fill-opacity="0.8"/>
<ellipse cx="1829.7" cy="160.2" rx="39.6" ry="33.5" fill="url(#q92)" fill-opacity="0.8"/>
<ellipse cx="1663.8" cy="187.9" rx="45.9" ry="20.6" fill="url(#r117)"/>
<ellipse cx="1765.3" cy="186.5" rx="37.5" ry="24.4" fill="url(#r118)"/>
<ellipse cx="1815.6" cy="188.4" rx="53.9" ry="18.7" fill="url(#r115)"/>
<ellipse cx="1668.0" cy="188.8" rx="30.5" ry="15.8" fill="url(#q125)" fill-opacity="0.8"/>
<ellipse cx="1762.9" cy="189.5" rx="27.4" ry="17.1" fill="url(#q127)" fill-opacity="0.8"/>
<ellipse cx="1822.7" cy="190.2" rx="27.4" ry="12.2" fill="url(#q123)" fill-opacity="0.8"/>
<ellipse cx="1555.6" cy="189.5" rx="11.0" ry="24.4" fill="url(#q87)"/>
<ellipse cx="1597.8" cy="189.5" rx="11.0" ry="24.4" fill="url(#q87)"/>
<ellipse cx="1515.8" cy="189.5" rx="8.5" ry="24.4" fill="url(#q77)" fill-opacity="0.8"/>
<ellipse cx="1632.9" cy="189.5" rx="8.5" ry="18.3" fill="url(#q84)" fill-opacity="0.8"/>
<ellipse cx="1946.8" cy="191.9" rx="9.7" ry="15.2" fill="url(#q84)"/>
<ellipse cx="1888.3" cy="191.9" rx="9.7" ry="15.2" fill="url(#q77)" fill-opacity="0.8"/>
</g>
<path d="M1489,195.3L1494,195.3L1499,195.3L1504,195.3L1509,195.2L1514,195.2L1519,195.2L1524,195.2L1529,195L1534,194.9L1539,194.9L1544,194.8L1549,194.7L1554,194.4L1559,194.7L1564,195.3L1569,195.7L1574,195.8L1579,195.8L1584,195.4L1589,194.9L1594,194.3L1599,194.2L1604,194.6L1609,195L1614,195.1L1619,195.2L1624,195.3L1629,195.4L1634,195.4L1639,195.5L1644,195.5L1649,195.5L1654,195.4L1659,195.1L1664,194.7L1669,194.3L1674,194.3L1679,194.5L1684,194.8L1689,195.1L1694,195.2L1699,195.3L1704,195.4L1709,195.6L1714,195.7L1719,195.8L1724,195.6L1729,195.4L1734,195.2L1739,195.2L1744,195.3L1749,195.4L1754,195.5L1759,195.5L1764,195.3L1769,195L1774,194.8L1779,194.9L1784,195.1L1789,195.2L1794,195.2L1799,195.1L1804,194.9L1809,194.8L1814,194.8L1819,194.8L1824,194.8L1829,195L1834,195.2L1839,195.5L1844,195.6L1849,195.7L1854,195.7L1859,195.6L1864,195.3L1869,194.9L1874,194.8L1879,194.9L1884,195.4L1889,195.8L1894,195.9L1899,195.7L1904,195.4L1909,195.2L1914,195.1L1919,195L1924,195L1929,195.1L1934,195.3L1939,195.4L1944,195.1L1949,195.1L1954,195.4L1959,195.6L1964,195.5L1969,195.4L1974,195.3L1977,241 1485,241Z" fill="#fff" filter="url(#bc0)"/>
</g></g>
<line x1="1780.50" y1="21.00" x2="1780.50" y2="233.10" stroke="#ffff00" stroke-width="1.7"/>
</g>
<line x1="1482.10" y1="21.80" x2="1488.90" y2="21.80" stroke="#222" stroke-width="1.4"/>
<line x1="1482.10" y1="232.80" x2="1488.90" y2="232.80" stroke="#222" stroke-width="1.4"/>
<text transform="translate(1477.00,30.30) scale(0.7000,1)" font-family="'Liberation Sans', 'Noto Sans CJK JP', sans-serif" font-size="19.5" text-anchor="end" fill="#222" letter-spacing="1.7" stroke="#222" stroke-width="0.45">120</text>
<text transform="translate(1477.00,240.50) scale(0.7000,1)" font-family="'Liberation Sans', 'Noto Sans CJK JP', sans-serif" font-size="19.5" text-anchor="end" fill="#222" letter-spacing="1.7" stroke="#222" stroke-width="0.45">000</text>
<text transform="translate(1493.30,263.50) scale(0.7000,1)" font-family="'Liberation Sans', 'Noto Sans CJK JP', sans-serif" font-size="19.5" text-anchor="middle" fill="#222" letter-spacing="1.7" stroke="#222" stroke-width="0.45">000</text>
<text transform="translate(1969.80,263.50) scale(0.7000,1)" font-family="'Liberation Sans', 'Noto Sans CJK JP', sans-serif" font-size="19.5" text-anchor="middle" fill="#222" letter-spacing="1.7" stroke="#222" stroke-width="0.45">200</text>
<rect x="1492.70" y="237.30" width="1.20" height="2.00" fill="#333"/>
<rect x="1967.80" y="237.30" width="1.20" height="2.00" fill="#333"/>
<text transform="translate(1411.50,33.00) scale(0.9500,1)" font-family="'Liberation Sans', 'Noto Sans CJK JP', sans-serif" font-size="32.5" text-anchor="start" fill="#000">(c)</text>
<g id="cbar-c">
<rect x="1975.30" y="21.00" width="29.70" height="211.70" fill="#8a8a8a"/>
<rect x="1976.50" y="21.60" width="27.30" height="6.20" fill="#a03800"/>
<rect x="1976.50" y="27.20" width="27.30" height="2.60" fill="#808488"/>
<rect x="1976.50" y="29.80" width="27.30" height="195.20" fill="url(#cbar)"/>
<rect x="1976.50" y="224.90" width="27.30" height="1.80" fill="#707070"/>
<rect x="1976.50" y="226.70" width="27.30" height="5.50" fill="#000"/>
<line x1="2009.60" y1="30.80" x2="2017.30" y2="30.80" stroke="#222" stroke-width="1.6"/>
<text transform="translate(2020.60,39.40) scale(0.8200,1)" font-family="'Liberation Sans', 'Noto Sans CJK JP', sans-serif" font-size="20.0" text-anchor="start" fill="#000" letter-spacing="1.7" stroke="#000" stroke-width="0.4">1.7</text>
<line x1="2009.60" y1="69.52" x2="2017.30" y2="69.52" stroke="#222" stroke-width="1.6"/>
<text transform="translate(2020.60,78.12) scale(0.8200,1)" font-family="'Liberation Sans', 'Noto Sans CJK JP', sans-serif" font-size="20.0" text-anchor="start" fill="#000" letter-spacing="1.7" stroke="#000" stroke-width="0.4">1.65</text>
<line x1="2009.60" y1="108.24" x2="2017.30" y2="108.24" stroke="#222" stroke-width="1.6"/>
<text transform="translate(2020.60,116.84) scale(0.8200,1)" font-family="'Liberation Sans', 'Noto Sans CJK JP', sans-serif" font-size="20.0" text-anchor="start" fill="#000" letter-spacing="1.7" stroke="#000" stroke-width="0.4">1.6</text>
<line x1="2009.60" y1="146.96" x2="2017.30" y2="146.96" stroke="#222" stroke-width="1.6"/>
<text transform="translate(2020.60,155.56) scale(0.8200,1)" font-family="'Liberation Sans', 'Noto Sans CJK JP', sans-serif" font-size="20.0" text-anchor="start" fill="#000" letter-spacing="1.7" stroke="#000" stroke-width="0.4">1.55</text>
<line x1="2009.60" y1="185.68" x2="2017.30" y2="185.68" stroke="#222" stroke-width="1.6"/>
<text transform="translate(2020.60,194.28) scale(0.8200,1)" font-family="'Liberation Sans', 'Noto Sans CJK JP', sans-serif" font-size="20.0" text-anchor="start" fill="#000" letter-spacing="1.7" stroke="#000" stroke-width="0.4">1.5</text>
<line x1="2009.60" y1="224.40" x2="2017.30" y2="224.40" stroke="#222" stroke-width="1.6"/>
<text transform="translate(2020.60,233.00) scale(0.8200,1)" font-family="'Liberation Sans', 'Noto Sans CJK JP', sans-serif" font-size="20.0" text-anchor="start" fill="#000" letter-spacing="1.7" stroke="#000" stroke-width="0.4">1.45</text>
</g>
<g id="heat-f">
<g clip-path="url(#hc-f)"><g filter="url(#cm)"><g filter="url(#dpf)">
<rect x="1473.0" y="340.3" width="516.0" height="252.1" fill="#616161"/>
<rect x="1482.7" y="355.0" width="100.8" height="24.8" fill="#5c5c5c" filter="url(#bf0)"/>
<rect x="1583.5" y="355.0" width="169.4" height="23.4" fill="#666666" filter="url(#bf1)"/>
<rect x="1482.7" y="380.6" width="270.2" height="18.3" fill="#6b6b6b" filter="url(#bf2)"/>
<ellipse cx="1638.9" cy="387.9" rx="87.3" ry="20.9" fill="url(#q112)"/>
<ellipse cx="1507.5" cy="388.6" rx="45.6" ry="15.2" fill="url(#q108)" fill-opacity="0.8"/>
<rect x="1482.7" y="399.5" width="270.2" height="16.8" fill="#686868" filter="url(#bf3)"/>
<ellipse cx="1643.3" cy="413.4" rx="132.9" ry="8.4" fill="url(#q107)" fill-opacity="0.9"/>
<rect x="1482.7" y="418.1" width="270.2" height="12.9" fill="#5c5c5c" filter="url(#bf3)"/>
<ellipse cx="1603.9" cy="426.6" rx="106.3" ry="10.6" fill="url(#q88)" fill-opacity="0.9"/>
<rect x="1482.7" y="432.4" width="270.2" height="17.5" fill="#5e5e5e" filter="url(#bf3)"/>
<ellipse cx="1640.4" cy="442.6" rx="113.9" ry="14.4" fill="url(#q100)" fill-opacity="0.9"/>
<ellipse cx="1647.7" cy="442.6" rx="36.1" ry="17.1" fill="url(#q112)"/>
<rect x="1482.7" y="450.6" width="270.2" height="13.9" fill="#5b5b5b" filter="url(#bf3)"/>
<ellipse cx="1511.9" cy="457.9" rx="57.0" ry="11.4" fill="url(#q97)" fill-opacity="0.9"/>
<ellipse cx="1648.4" cy="467.4" rx="22.8" ry="22.8" fill="url(#q109)"/>
<rect x="1482.7" y="467.4" width="147.5" height="42.3" fill="#515151" filter="url(#bf4)"/>
<ellipse cx="1548.4" cy="490.8" rx="121.5" ry="28.5" fill="url(#q77)" fill-opacity="0.9"/>
<rect x="1666.7" y="451.4" width="86.2" height="83.2" fill="#555555" filter="url(#bf5)"/>
<ellipse cx="1709.0" cy="476.2" rx="34.2" ry="22.8" fill="url(#q80)" fill-opacity="0.8"/>
<ellipse cx="1723.6" cy="522.9" rx="30.4" ry="22.8" fill="url(#q77)" fill-opacity="0.9"/>
<ellipse cx="1697.4" cy="501.0" rx="38.0" ry="30.4" fill="url(#q83)" fill-opacity="0.7"/>
<ellipse cx="1650.6" cy="499.6" rx="18.2" ry="26.6" fill="url(#q109)"/>
<rect x="1482.7" y="512.7" width="147.5" height="23.4" fill="#5e5e5e" filter="url(#bf6)"/>
<ellipse cx="1506.1" cy="525.9" rx="45.6" ry="14.4" fill="url(#q107)"/>
<ellipse cx="1560.1" cy="518.6" rx="49.4" ry="11.4" fill="url(#q98)" fill-opacity="0.8"/>
<ellipse cx="1601.0" cy="517.1" rx="38.0" ry="11.4" fill="url(#q99)" fill-opacity="0.8"/>
<ellipse cx="1647.7" cy="522.9" rx="38.0" ry="17.5" fill="url(#r115)"/>
<ellipse cx="1648.4" cy="528.0" rx="23.5" ry="15.2" fill="url(#q153)"/>
<ellipse cx="1648.4" cy="532.4" rx="17.1" ry="6.1" fill="url(#q173)" fill-opacity="0.9"/>
<rect x="1753.2" y="375.4" width="233.6" height="160.6" fill="#707070" filter="url(#bf7)"/>
<rect x="1715.2" y="436.8" width="33.6" height="99.3" fill="#575757" fill-opacity="0.95" filter="url(#bf8)"/>
<ellipse cx="1731.3" cy="480.6" rx="26.6" ry="34.2" fill="url(#q82)" fill-opacity="0.8"/>
<ellipse cx="1732.8" cy="528.8" rx="22.8" ry="15.2" fill="url(#q78)" fill-opacity="0.9"/>
<rect x="1779.5" y="357.9" width="61.3" height="19.0" fill="#696969" fill-opacity="0.9" filter="url(#bf0)"/>
<rect x="1843.7" y="357.9" width="62.8" height="19.0" fill="#616161" fill-opacity="0.9" filter="url(#bf0)"/>
<rect x="1899.2" y="355.0" width="87.6" height="27.7" fill="#585858" filter="url(#bf9)"/>
<ellipse cx="1957.6" cy="363.8" rx="45.6" ry="19.0" fill="url(#q83)" fill-opacity="0.9"/>
<ellipse cx="1818.9" cy="387.9" rx="113.9" ry="20.9" fill="url(#q112)" fill-opacity="0.9"/>
<ellipse cx="1908.0" cy="394.4" rx="30.4" ry="13.3" fill="url(#q96)" fill-opacity="0.9"/>
<ellipse cx="1957.6" cy="394.4" rx="38.0" ry="15.2" fill="url(#q106)" fill-opacity="0.8"/>
<ellipse cx="1884.6" cy="388.6" rx="45.6" ry="15.2" fill="url(#q101)" fill-opacity="0.7"/>
<rect x="1735.7" y="398.8" width="170.9" height="10.5" fill="#636363" fill-opacity="0.95" filter="url(#bf10)"/>
<rect x="1753.2" y="410.5" width="233.6" height="12.4" fill="#737373" fill-opacity="0.9" filter="url(#bf11)"/>
<ellipse cx="1957.6" cy="419.3" rx="45.6" ry="15.2" fill="url(#q124)" fill-opacity="0.9"/>
<rect x="1786.8" y="424.8" width="144.6" height="9.1" fill="#676767" fill-opacity="0.9" filter="url(#bf12)"/>
<ellipse cx="1870.0" cy="428.7" rx="75.9" ry="8.4" fill="url(#q99)" fill-opacity="0.8"/>
<rect x="1767.8" y="435.3" width="124.1" height="15.3" fill="#7c7c7c" fill-opacity="0.95" filter="url(#bf13)"/>
<ellipse cx="1855.4" cy="441.2" rx="41.8" ry="10.6" fill="url(#q130)" fill-opacity="0.9"/>
<ellipse cx="1817.5" cy="444.1" rx="41.8" ry="9.5" fill="url(#q129)" fill-opacity="0.9"/>
<ellipse cx="1785.3" cy="442.6" rx="30.4" ry="10.6" fill="url(#q126)" fill-opacity="0.8"/>
<rect x="1767.8" y="452.5" width="109.5" height="9.8" fill="#707070" fill-opacity="0.9" filter="url(#bf12)"/>
<ellipse cx="1899.2" cy="457.9" rx="45.6" ry="14.4" fill="url(#q95)"/>
<ellipse cx="1918.2" cy="457.9" rx="22.8" ry="9.5" fill="url(#q98)" fill-opacity="0.8"/>
<rect x="1772.2" y="463.8" width="102.2" height="12.4" fill="#838383" fill-opacity="0.95" filter="url(#bf13)"/>
<ellipse cx="1786.8" cy="468.9" rx="22.8" ry="10.6" fill="url(#q138)" fill-opacity="0.9"/>
<ellipse cx="1818.9" cy="469.6" rx="26.6" ry="9.1" fill="url(#q137)" fill-opacity="0.9"/>
<ellipse cx="1859.8" cy="470.4" rx="22.8" ry="13.3" fill="url(#q138)" fill-opacity="0.9"/>
<ellipse cx="1899.2" cy="471.8" rx="38.0" ry="13.3" fill="url(#q116)" fill-opacity="0.8"/>
<ellipse cx="1964.9" cy="444.1" rx="64.5" ry="22.8" fill="url(#q173)"/>
<ellipse cx="1943.0" cy="448.5" rx="30.4" ry="15.2" fill="url(#q146)" fill-opacity="0.8"/>
<ellipse cx="1964.9" cy="471.8" rx="51.1" ry="16.1" fill="url(#r193)"/>
<ellipse cx="1935.7" cy="471.8" rx="30.4" ry="15.2" fill="url(#q155)" fill-opacity="0.8"/>
<ellipse cx="1964.9" cy="457.2" rx="38.0" ry="8.4" fill="url(#q146)" fill-opacity="0.8"/>
<ellipse cx="1964.9" cy="492.3" rx="57.0" ry="18.2" fill="url(#q191)"/>
<ellipse cx="1938.7" cy="490.8" rx="26.6" ry="13.3" fill="url(#q146)" fill-opacity="0.8"/>
<ellipse cx="1957.6" cy="482.0" rx="30.4" ry="5.7" fill="url(#q146)" fill-opacity="0.7"/>
<ellipse cx="1785.3" cy="490.8" rx="20.9" ry="13.3" fill="url(#q152)" fill-opacity="0.95"/>
<ellipse cx="1767.8" cy="490.8" rx="22.8" ry="22.8" fill="url(#q128)" fill-opacity="0.8"/>
<ellipse cx="1864.2" cy="486.4" rx="22.8" ry="17.1" fill="url(#q133)" fill-opacity="0.9"/>
<ellipse cx="1889.0" cy="484.2" rx="22.8" ry="10.6" fill="url(#q99)"/>
<ellipse cx="1913.8" cy="486.4" rx="30.4" ry="15.2" fill="url(#q117)" fill-opacity="0.7"/>
<path d="M1794.1,502.5C1796.3,500.9 1802.9,495.6 1807.2,493C1811.6,490.4 1815.8,487.4 1820.4,487.2C1825,486.9 1830.4,489.6 1835,491.5C1839.6,493.5 1844,496.9 1848.1,498.8C1852.3,500.8 1857.9,502.5 1859.8,503.2" fill="none" stroke="#585858" stroke-width="11.7" stroke-linecap="round" stroke-linejoin="round" filter="url(#bf14)"/>
<ellipse cx="1823.3" cy="490.1" rx="30.4" ry="10.6" fill="url(#q89)" fill-opacity="0.8"/>
<ellipse cx="1896.3" cy="506.9" rx="34.2" ry="14.4" fill="url(#q88)"/>
<ellipse cx="1922.6" cy="505.4" rx="41.8" ry="12.1" fill="url(#q93)"/>
<ellipse cx="1947.4" cy="506.9" rx="22.8" ry="7.6" fill="url(#q102)" fill-opacity="0.8"/>
<path d="M1745.9,539C1747.9,536.3 1751.7,527.8 1757.6,522.9C1763.4,518.1 1770.7,513.1 1781,509.8C1791.2,506.5 1806.3,503.2 1818.9,503.2C1831.6,503.2 1847.4,506.5 1856.9,509.8C1866.4,513.1 1871.2,518.1 1875.9,522.9C1880.5,527.8 1883.2,536.3 1884.6,539Z" fill="#b1b1b1" filter="url(#bf15)"/>
<ellipse cx="1817.5" cy="522.9" rx="87.6" ry="23.4" fill="url(#r182)"/>
<path d="M1780.2,532.4C1781.2,530.6 1782.8,524.3 1786.1,521.5C1789.3,518.7 1795.7,516.8 1799.9,515.6C1804.2,514.5 1809.7,514.7 1811.6,514.5" fill="none" stroke="#eaeaea" stroke-width="10.5" stroke-linecap="round" stroke-linejoin="round" filter="url(#bf16)"/>
<path d="M1835,513.9C1837.9,514.4 1847.5,515.3 1852.5,516.8C1857.5,518.3 1862.2,520.3 1864.9,522.9C1867.6,525.5 1868,530.8 1868.6,532.4" fill="none" stroke="#eaeaea" stroke-width="10.5" stroke-linecap="round" stroke-linejoin="round" filter="url(#bf16)"/>
<path d="M1811.6,514.5C1813.6,514.2 1819.4,513.1 1823.3,513C1827.2,512.9 1833,513.7 1835,513.9" fill="none" stroke="#cccccc" stroke-width="7.3" stroke-linecap="round" stroke-linejoin="round" stroke-opacity="0.9" filter="url(#bf16)"/>
<ellipse cx="1824.8" cy="528.8" rx="43.8" ry="8.8" fill="url(#r159)"/>
<ellipse cx="1829.1" cy="531.0" rx="34.2" ry="6.1" fill="url(#q143)" fill-opacity="0.9"/>
<ellipse cx="1886.1" cy="528.8" rx="22.8" ry="15.2" fill="url(#q159)" fill-opacity="0.95"/>
<ellipse cx="1912.4" cy="524.4" rx="26.6" ry="19.0" fill="url(#q178)"/>
<ellipse cx="1896.3" cy="518.6" rx="30.4" ry="11.4" fill="url(#q146)" fill-opacity="0.8"/>
<ellipse cx="1928.4" cy="517.1" rx="22.8" ry="11.4" fill="url(#q164)" fill-opacity="0.8"/>
</g>
<path d="M1489,535.8L1494,535.5L1499,535L1504,534.7L1509,534.8L1514,535L1519,535.2L1524,535.2L1529,535.2L1534,535.1L1539,535L1544,535.2L1549,535.3L1554,535.2L1559,535.2L1564,535.3L1569,535.5L1574,535.7L1579,535.7L1584,535.6L1589,535.7L1594,535.8L1599,536L1604,536L1609,536L1614,535.8L1619,535.5L1624,535.3L1629,535.2L1634,535L1639,534.6L1644,534.1L1649,534L1654,534.4L1659,535L1664,535.4L1669,535.6L1674,535.6L1679,535.5L1684,535.4L1689,535.3L1694,535.2L1699,535.2L1704,535.4L1709,535.4L1714,535.3L1719,535.2L1724,535L1729,534.9L1734,535.1L1739,535.4L1744,535.8L1749,535.9L1754,535.9L1759,535.8L1764,535.7L1769,535.6L1774,535.4L1779,535.3L1784,535.2L1789,535.3L1794,535.4L1799,535.5L1804,535.6L1809,535.7L1814,535.6L1819,535.5L1824,535.4L1829,535.4L1834,535.4L1839,535.6L1844,535.7L1849,535.9L1854,536L1859,536.1L1864,535.9L1869,535.6L1874,535.2L1879,534.9L1884,534.8L1889,534.9L1894,535.2L1899,535.5L1904,535.5L1909,535.4L1914,535.2L1919,535.2L1924,535.2L1926.2,535.2L1928.4,532.4L1929.2,528L1932.1,524.4L1935,522.9L1938.7,519.7L1946,517.4L1957.6,516.2L1972.2,515.6L1981,515.6L1977,580 1485,580Z" fill="#fff" filter="url(#bf17)"/>
</g></g>
<line x1="1841.00" y1="360.30" x2="1841.00" y2="572.40" stroke="#ffff00" stroke-width="1.7"/>
</g>
<line x1="1482.10" y1="361.10" x2="1488.90" y2="361.10" stroke="#222" stroke-width="1.4"/>
<line x1="1482.10" y1="572.10" x2="1488.90" y2="572.10" stroke="#222" stroke-width="1.4"/>
<text transform="translate(1477.00,369.60) scale(0.7000,1)" font-family="'Liberation Sans', 'Noto Sans CJK JP', sans-serif" font-size="19.5" text-anchor="end" fill="#222" letter-spacing="1.7" stroke="#222" stroke-width="0.45">120</text>
<text transform="translate(1477.00,579.80) scale(0.7000,1)" font-family="'Liberation Sans', 'Noto Sans CJK JP', sans-serif" font-size="19.5" text-anchor="end" fill="#222" letter-spacing="1.7" stroke="#222" stroke-width="0.45">000</text>
<text transform="translate(1493.30,602.80) scale(0.7000,1)" font-family="'Liberation Sans', 'Noto Sans CJK JP', sans-serif" font-size="19.5" text-anchor="middle" fill="#222" letter-spacing="1.7" stroke="#222" stroke-width="0.45">000</text>
<text transform="translate(1969.80,602.80) scale(0.7000,1)" font-family="'Liberation Sans', 'Noto Sans CJK JP', sans-serif" font-size="19.5" text-anchor="middle" fill="#222" letter-spacing="1.7" stroke="#222" stroke-width="0.45">200</text>
<rect x="1492.70" y="576.60" width="1.20" height="2.00" fill="#333"/>
<rect x="1967.80" y="576.60" width="1.20" height="2.00" fill="#333"/>
<text transform="translate(1411.50,372.50) scale(0.9500,1)" font-family="'Liberation Sans', 'Noto Sans CJK JP', sans-serif" font-size="32.5" text-anchor="start" fill="#000">(f)</text>
<g id="cbar-f">
<rect x="1975.30" y="360.30" width="29.70" height="211.70" fill="#8a8a8a"/>
<rect x="1976.50" y="360.90" width="27.30" height="6.20" fill="#a03800"/>
<rect x="1976.50" y="366.50" width="27.30" height="2.60" fill="#808488"/>
<rect x="1976.50" y="369.10" width="27.30" height="195.20" fill="url(#cbar)"/>
<rect x="1976.50" y="564.20" width="27.30" height="1.80" fill="#707070"/>
<rect x="1976.50" y="566.00" width="27.30" height="5.50" fill="#000"/>
<line x1="2009.60" y1="370.10" x2="2017.30" y2="370.10" stroke="#222" stroke-width="1.6"/>
<text transform="translate(2020.60,378.70) scale(0.8200,1)" font-family="'Liberation Sans', 'Noto Sans CJK JP', sans-serif" font-size="20.0" text-anchor="start" fill="#000" letter-spacing="1.7" stroke="#000" stroke-width="0.4">1.7</text>
<line x1="2009.60" y1="408.82" x2="2017.30" y2="408.82" stroke="#222" stroke-width="1.6"/>
<text transform="translate(2020.60,417.42) scale(0.8200,1)" font-family="'Liberation Sans', 'Noto Sans CJK JP', sans-serif" font-size="20.0" text-anchor="start" fill="#000" letter-spacing="1.7" stroke="#000" stroke-width="0.4">1.65</text>
<line x1="2009.60" y1="447.54" x2="2017.30" y2="447.54" stroke="#222" stroke-width="1.6"/>
<text transform="translate(2020.60,456.14) scale(0.8200,1)" font-family="'Liberation Sans', 'Noto Sans CJK JP', sans-serif" font-size="20.0" text-anchor="start" fill="#000" letter-spacing="1.7" stroke="#000" stroke-width="0.4">1.6</text>
<line x1="2009.60" y1="486.26" x2="2017.30" y2="486.26" stroke="#222" stroke-width="1.6"/>
<text transform="translate(2020.60,494.86) scale(0.8200,1)" font-family="'Liberation Sans', 'Noto Sans CJK JP', sans-serif" font-size="20.0" text-anchor="start" fill="#000" letter-spacing="1.7" stroke="#000" stroke-width="0.4">1.55</text>
<line x1="2009.60" y1="524.98" x2="2017.30" y2="524.98" stroke="#222" stroke-width="1.6"/>
<text transform="translate(2020.60,533.58) scale(0.8200,1)" font-family="'Liberation Sans', 'Noto Sans CJK JP', sans-serif" font-size="20.0" text-anchor="start" fill="#000" letter-spacing="1.7" stroke="#000" stroke-width="0.4">1.5</text>
<line x1="2009.60" y1="563.70" x2="2017.30" y2="563.70" stroke="#222" stroke-width="1.6"/>
<text transform="translate(2020.60,572.30) scale(0.8200,1)" font-family="'Liberation Sans', 'Noto Sans CJK JP', sans-serif" font-size="20.0" text-anchor="start" fill="#000" letter-spacing="1.7" stroke="#000" stroke-width="0.4">1.45</text>
</g>
<g id="heat-i">
<g clip-path="url(#hc-i)"><g filter="url(#cm)"><g filter="url(#dpi)">
<rect x="1482.3" y="676.0" width="516.0" height="252.1" fill="#404040"/>
<ellipse cx="1543.5" cy="728.7" rx="45.7" ry="23.1" fill="url(#q80)"/>
<ellipse cx="1599.7" cy="722.8" rx="51.8" ry="23.1" fill="url(#q77)"/>
<ellipse cx="1569.3" cy="746.2" rx="73.1" ry="17.1" fill="url(#q75)" fill-opacity="0.9" transform="rotate(20 1569.3 746.2)"/>
<ellipse cx="1604.4" cy="759.1" rx="45.7" ry="13.4" fill="url(#q74)" fill-opacity="0.9"/>
<ellipse cx="1520.1" cy="746.2" rx="42.6" ry="27.4" fill="url(#q72)" fill-opacity="0.8"/>
<ellipse cx="1513.1" cy="708.7" rx="48.7" ry="30.5" fill="url(#q69)" fill-opacity="0.7"/>
<ellipse cx="1534.1" cy="779.0" rx="60.9" ry="15.2" fill="url(#q69)" fill-opacity="0.8"/>
<ellipse cx="1599.7" cy="800.1" rx="27.4" ry="17.1" fill="url(#q73)" fill-opacity="0.8"/>
<ellipse cx="1527.1" cy="804.8" rx="27.4" ry="15.2" fill="url(#q69)" fill-opacity="0.8"/>
<ellipse cx="1651.3" cy="809.5" rx="19.5" ry="13.4" fill="url(#q70)" fill-opacity="0.8"/>
<ellipse cx="1620.8" cy="825.9" rx="30.5" ry="21.3" fill="url(#q69)" fill-opacity="0.7"/>
<ellipse cx="1740.3" cy="720.5" rx="30.5" ry="25.6" fill="url(#q47)"/>
<ellipse cx="1651.3" cy="789.6" rx="39.6" ry="27.4" fill="url(#q53)"/>
<ellipse cx="1745.0" cy="767.3" rx="33.5" ry="27.4" fill="url(#q56)" fill-opacity="0.8"/>
<ellipse cx="1686.4" cy="736.9" rx="73.1" ry="36.5" fill="url(#q59)" fill-opacity="0.6"/>
<ellipse cx="1740.3" cy="742.0" rx="25.6" ry="11.0" fill="url(#q74)" fill-opacity="0.9"/>
<ellipse cx="1803.5" cy="736.9" rx="91.4" ry="73.1" fill="url(#q60)" fill-opacity="0.5"/>
<ellipse cx="1920.7" cy="776.7" rx="140.1" ry="36.5" fill="url(#q70)" fill-opacity="0.8"/>
<ellipse cx="1932.4" cy="729.8" rx="60.9" ry="33.5" fill="url(#q67)" fill-opacity="0.7"/>
<ellipse cx="1885.5" cy="821.2" rx="182.7" ry="42.6" fill="url(#q71)" fill-opacity="0.8"/>
<ellipse cx="1791.8" cy="821.2" rx="91.4" ry="36.5" fill="url(#q75)" fill-opacity="0.8"/>
<path d="M1643.6,874.2C1645.5,869.6 1649.4,855 1655.2,846.6C1661,838.3 1668.2,829.4 1678.4,824.1C1688.6,818.8 1701.4,816.3 1716.2,814.7C1730.9,813.1 1751.7,812.9 1767,814.7C1782.2,816.5 1797,820.3 1807.6,825.6C1818.3,830.9 1825.3,838.5 1830.9,846.6C1836.4,854.7 1839.3,869.6 1841,874.2Z" fill="#5b5b5b" filter="url(#bi0)"/>
<ellipse cx="1626.1" cy="861.9" rx="22.7" ry="17.0" fill="url(#q82)" fill-opacity="0.9"/>
<ellipse cx="1650.8" cy="851.7" rx="26.4" ry="18.9" fill="url(#q83)" fill-opacity="0.9"/>
<ellipse cx="1829.4" cy="859.7" rx="18.9" ry="22.7" fill="url(#q80)" fill-opacity="0.8"/>
<path d="M1679.1,871.3C1679.5,869.1 1679.1,862.2 1681.3,858.2C1683.5,854.3 1687.4,850 1692.2,847.4C1697,844.7 1704.4,842.8 1710.4,842.3C1716.3,841.7 1722.9,842.7 1727.8,844C1732.6,845.3 1736.9,847.6 1739.4,850.3C1741.9,852.9 1742.3,856.2 1743,859.7C1743.7,863.2 1743.6,869.4 1743.7,871.3" fill="none" stroke="#767676" stroke-width="12.8" stroke-linecap="round" stroke-linejoin="round" filter="url(#bi1)"/>
<path d="M1746.7,871.3C1746.9,869.1 1746.4,862.2 1748.1,858.2C1749.8,854.3 1752.5,850.3 1756.8,847.8C1761.2,845.3 1768.4,843.6 1774.2,843.1C1780,842.7 1786.7,843.5 1791.7,844.9C1796.6,846.3 1800.9,849 1804,851.7C1807.1,854.4 1809,857.9 1810.3,861.1C1811.5,864.4 1811.1,869.6 1811.3,871.3" fill="none" stroke="#767676" stroke-width="12.8" stroke-linecap="round" stroke-linejoin="round" filter="url(#bi1)"/>
<ellipse cx="1745.2" cy="853.9" rx="26.4" ry="22.7" fill="url(#q111)" fill-opacity="0.8"/>
<ellipse cx="1711.1" cy="862.6" rx="26.4" ry="14.3" fill="url(#q60)"/>
<ellipse cx="1776.4" cy="862.6" rx="25.7" ry="14.3" fill="url(#q56)"/>
<ellipse cx="1698.7" cy="865.5" rx="15.1" ry="9.4" fill="url(#q73)" fill-opacity="0.8"/>
<ellipse cx="1745.2" cy="865.5" rx="15.1" ry="10.6" fill="url(#q98)" fill-opacity="0.8"/>
<ellipse cx="1681.3" cy="865.5" rx="13.2" ry="9.4" fill="url(#q120)" fill-opacity="0.8"/>
<ellipse cx="1806.2" cy="862.6" rx="13.2" ry="11.3" fill="url(#q120)" fill-opacity="0.8"/>
<ellipse cx="1854.1" cy="858.2" rx="30.2" ry="13.2" fill="url(#q57)" fill-opacity="0.9"/>
<ellipse cx="1884.6" cy="858.2" rx="26.4" ry="13.2" fill="url(#q57)" fill-opacity="0.9"/>
<ellipse cx="1835.2" cy="862.6" rx="15.1" ry="11.3" fill="url(#q60)" fill-opacity="0.8"/>
<ellipse cx="1906.6" cy="859.8" rx="12.2" ry="24.4" fill="url(#q87)"/>
<ellipse cx="1534.1" cy="858.7" rx="39.6" ry="15.2" fill="url(#q54)" fill-opacity="0.9"/>
<ellipse cx="1592.7" cy="857.5" rx="36.5" ry="15.2" fill="url(#q56)" fill-opacity="0.7"/>
<ellipse cx="1939.4" cy="857.5" rx="42.6" ry="13.4" fill="url(#q56)" fill-opacity="0.9"/>
<ellipse cx="1962.9" cy="839.9" rx="36.5" ry="30.5" fill="url(#q68)" fill-opacity="0.6"/>
</g>
<path d="M1498.3,869.9L1503.3,869.9L1508.3,869.9L1513.3,869.8L1518.3,869.7L1523.3,869.7L1528.3,869.7L1533.3,869.9L1538.3,870L1543.3,870.1L1548.3,870.2L1553.3,870.2L1558.3,870.2L1563.3,870.1L1568.3,870L1573.3,869.9L1578.3,869.8L1583.3,869.7L1588.3,869.6L1593.3,869.5L1598.3,869.4L1603.3,869.1L1608.3,868.8L1613.3,868.7L1618.3,869.1L1623.3,869.6L1628.3,870L1633.3,870.1L1638.3,870.2L1643.3,870.3L1648.3,870.2L1653.3,870L1658.3,869.8L1663.3,869.7L1668.3,869.7L1673.3,869.4L1678.3,869.1L1683.3,869.3L1688.3,869.8L1693.3,870L1698.3,870.1L1703.3,870.1L1708.3,870.2L1713.3,870.2L1718.3,870.1L1723.3,869.9L1728.3,869.8L1733.3,869.7L1738.3,869.6L1743.3,869.7L1748.3,869.8L1753.3,870L1758.3,870L1763.3,870L1768.3,870L1773.3,870L1778.3,870.1L1783.3,870.2L1788.3,870.2L1793.3,870L1798.3,869.6L1803.3,869.3L1808.3,869.3L1813.3,869.6L1818.3,869.8L1823.3,869.9L1828.3,870L1833.3,870.1L1838.3,870.1L1843.3,870.1L1848.3,869.9L1853.3,869.7L1858.3,869.6L1863.3,869.8L1868.3,870.3L1873.3,870.7L1878.3,870.9L1883.3,870.8L1888.3,870.5L1893.3,870.1L1898.3,869.8L1903.3,869.5L1908.3,869.5L1913.3,869.8L1918.3,870.1L1923.3,870.3L1928.3,870.4L1933.3,870.3L1938.3,870L1943.3,869.8L1948.3,869.7L1953.3,869.7L1958.3,869.9L1963.3,870.1L1968.3,870.2L1973.3,870.3L1978.3,870.4L1983.3,870.6L1986,916 1494,916Z" fill="#fff" filter="url(#bi2)"/>
</g></g>
<line x1="1763.30" y1="696.00" x2="1763.30" y2="908.10" stroke="#ffff00" stroke-width="1.7"/>
</g>
<line x1="1491.40" y1="696.80" x2="1498.20" y2="696.80" stroke="#222" stroke-width="1.4"/>
<line x1="1491.40" y1="907.80" x2="1498.20" y2="907.80" stroke="#222" stroke-width="1.4"/>
<text transform="translate(1486.30,705.30) scale(0.7000,1)" font-family="'Liberation Sans', 'Noto Sans CJK JP', sans-serif" font-size="19.5" text-anchor="end" fill="#222" letter-spacing="1.7" stroke="#222" stroke-width="0.45">120</text>
<text transform="translate(1486.30,915.50) scale(0.7000,1)" font-family="'Liberation Sans', 'Noto Sans CJK JP', sans-serif" font-size="19.5" text-anchor="end" fill="#222" letter-spacing="1.7" stroke="#222" stroke-width="0.45">000</text>
<text transform="translate(1502.60,938.50) scale(0.7000,1)" font-family="'Liberation Sans', 'Noto Sans CJK JP', sans-serif" font-size="19.5" text-anchor="middle" fill="#222" letter-spacing="1.7" stroke="#222" stroke-width="0.45">000</text>
<text transform="translate(1979.10,938.50) scale(0.7000,1)" font-family="'Liberation Sans', 'Noto Sans CJK JP', sans-serif" font-size="19.5" text-anchor="middle" fill="#222" letter-spacing="1.7" stroke="#222" stroke-width="0.45">200</text>
<rect x="1502.00" y="912.30" width="1.20" height="2.00" fill="#333"/>
<rect x="1977.10" y="912.30" width="1.20" height="2.00" fill="#333"/>
<text transform="translate(1420.00,709.00) scale(0.9500,1)" font-family="'Liberation Sans', 'Noto Sans CJK JP', sans-serif" font-size="32.5" text-anchor="start" fill="#000">(i)</text>
<g id="cbar-i">
<rect x="1984.60" y="696.00" width="29.70" height="211.70" fill="#8a8a8a"/>
<rect x="1985.80" y="696.60" width="27.30" height="6.20" fill="#a03800"/>
<rect x="1985.80" y="702.20" width="27.30" height="2.60" fill="#808488"/>
<rect x="1985.80" y="704.80" width="27.30" height="195.20" fill="url(#cbar)"/>
<rect x="1985.80" y="899.90" width="27.30" height="1.80" fill="#707070"/>
<rect x="1985.80" y="901.70" width="27.30" height="5.50" fill="#000"/>
<line x1="2018.90" y1="705.80" x2="2026.60" y2="705.80" stroke="#222" stroke-width="1.6"/>
<text transform="translate(2029.90,714.40) scale(0.8200,1)" font-family="'Liberation Sans', 'Noto Sans CJK JP', sans-serif" font-size="20.0" text-anchor="start" fill="#000" letter-spacing="1.7" stroke="#000" stroke-width="0.4">1.7</text>
<line x1="2018.90" y1="744.52" x2="2026.60" y2="744.52" stroke="#222" stroke-width="1.6"/>
<text transform="translate(2029.90,753.12) scale(0.8200,1)" font-family="'Liberation Sans', 'Noto Sans CJK JP', sans-serif" font-size="20.0" text-anchor="start" fill="#000" letter-spacing="1.7" stroke="#000" stroke-width="0.4">1.65</text>
<line x1="2018.90" y1="783.24" x2="2026.60" y2="783.24" stroke="#222" stroke-width="1.6"/>
<text transform="translate(2029.90,791.84) scale(0.8200,1)" font-family="'Liberation Sans', 'Noto Sans CJK JP', sans-serif" font-size="20.0" text-anchor="start" fill="#000" letter-spacing="1.7" stroke="#000" stroke-width="0.4">1.6</text>
<line x1="2018.90" y1="821.96" x2="2026.60" y2="821.96" stroke="#222" stroke-width="1.6"/>
<text transform="translate(2029.90,830.56) scale(0.8200,1)" font-family="'Liberation Sans', 'Noto Sans CJK JP', sans-serif" font-size="20.0" text-anchor="start" fill="#000" letter-spacing="1.7" stroke="#000" stroke-width="0.4">1.55</text>
<line x1="2018.90" y1="860.68" x2="2026.60" y2="860.68" stroke="#222" stroke-width="1.6"/>
<text transform="translate(2029.90,869.28) scale(0.8200,1)" font-family="'Liberation Sans', 'Noto Sans CJK JP', sans-serif" font-size="20.0" text-anchor="start" fill="#000" letter-spacing="1.7" stroke="#000" stroke-width="0.4">1.5</text>
<line x1="2018.90" y1="899.40" x2="2026.60" y2="899.40" stroke="#222" stroke-width="1.6"/>
<text transform="translate(2029.90,908.00) scale(0.8200,1)" font-family="'Liberation Sans', 'Noto Sans CJK JP', sans-serif" font-size="20.0" text-anchor="start" fill="#000" letter-spacing="1.7" stroke="#000" stroke-width="0.4">1.45</text>
</g>
<g id="heat-l">
<g clip-path="url(#hc-l)"><g filter="url(#cm)"><g filter="url(#dpl)">
<rect x="1473.0" y="1006.4" width="516.0" height="252.1" fill="#474747"/>
<rect x="1471.3" y="1016.3" width="253.0" height="35.1" fill="#434343" filter="url(#bl0)"/>
<rect x="1471.3" y="1056.1" width="253.0" height="12.9" fill="#4b4b4b" fill-opacity="0.9" filter="url(#bl1)"/>
<rect x="1471.3" y="1071.4" width="253.0" height="29.3" fill="#454545" fill-opacity="0.9" filter="url(#bl2)"/>
<rect x="1471.3" y="1103.0" width="253.0" height="49.2" fill="#4e4e4e" fill-opacity="0.9" filter="url(#bl3)"/>
<rect x="1471.3" y="1152.2" width="253.0" height="49.2" fill="#545454" fill-opacity="0.9" filter="url(#bl3)"/>
<ellipse cx="1583.7" cy="1170.9" rx="182.7" ry="36.5" fill="url(#q85)" fill-opacity="0.7"/>
<ellipse cx="1707.9" cy="1138.1" rx="36.5" ry="48.7" fill="url(#q66)" fill-opacity="0.8"/>
<ellipse cx="1654.0" cy="1091.3" rx="91.4" ry="30.5" fill="url(#q62)" fill-opacity="0.6"/>
<ellipse cx="1560.3" cy="1119.4" rx="121.8" ry="18.3" fill="url(#q79)" fill-opacity="0.6"/>
<ellipse cx="1518.1" cy="1133.4" rx="36.5" ry="24.4" fill="url(#q71)" fill-opacity="0.6"/>
<rect x="1801.6" y="1016.3" width="185.1" height="28.1" fill="#676767" filter="url(#bl2)"/>
<ellipse cx="1911.7" cy="1032.7" rx="152.3" ry="21.3" fill="url(#q107)" fill-opacity="0.8"/>
<rect x="1801.6" y="1045.6" width="185.1" height="17.6" fill="#626262" filter="url(#bl2)"/>
<rect x="1801.6" y="1064.3" width="185.1" height="38.7" fill="#5b5b5b" filter="url(#bl0)"/>
<ellipse cx="1888.3" cy="1079.6" rx="182.7" ry="15.2" fill="url(#q96)" fill-opacity="0.7"/>
<ellipse cx="1888.3" cy="1096.0" rx="182.7" ry="12.2" fill="url(#q87)" fill-opacity="0.7"/>
<rect x="1801.6" y="1103.0" width="185.1" height="49.2" fill="#4e4e4e" filter="url(#bl0)"/>
<ellipse cx="1853.1" cy="1119.4" rx="121.8" ry="27.4" fill="url(#q66)" fill-opacity="0.9" transform="rotate(12 1853.1 1119.4)"/>
<ellipse cx="1923.4" cy="1131.1" rx="91.4" ry="24.4" fill="url(#q68)" fill-opacity="0.9" transform="rotate(12 1923.4 1131.1)"/>
<ellipse cx="1836.7" cy="1145.2" rx="36.5" ry="24.4" fill="url(#q65)" fill-opacity="0.8"/>
<rect x="1801.6" y="1153.4" width="145.2" height="17.6" fill="#656565" fill-opacity="0.9" filter="url(#bl4)"/>
<rect x="1801.6" y="1173.3" width="185.1" height="29.3" fill="#616161" fill-opacity="0.9" filter="url(#bl5)"/>
<ellipse cx="1846.1" cy="1189.7" rx="76.1" ry="24.4" fill="url(#q115)"/>
<ellipse cx="1892.9" cy="1185.0" rx="48.7" ry="21.3" fill="url(#q105)" fill-opacity="0.8"/>
<ellipse cx="1953.9" cy="1185.0" rx="36.5" ry="30.5" fill="url(#q87)" fill-opacity="0.9"/>
<ellipse cx="1818.0" cy="1195.5" rx="15.2" ry="8.5" fill="url(#q91)" fill-opacity="0.8"/>
<rect x="1779.8" y="1057.3" width="17.4" height="101.7" fill="#3e3e3e" fill-opacity="0.9" filter="url(#bl6)"/>
<ellipse cx="1787.8" cy="1144.5" rx="17.0" ry="30.2" fill="url(#q52)" fill-opacity="0.8"/>
<rect x="1731.2" y="1016.6" width="47.9" height="108.9" fill="#6b6b6b" fill-opacity="0.85" filter="url(#bl7)"/>
<ellipse cx="1741.3" cy="1064.6" rx="22.7" ry="75.5" fill="url(#q106)" fill-opacity="0.6"/>
<ellipse cx="1755.9" cy="1037.0" rx="9.8" ry="22.7" fill="url(#q90)"/>
<ellipse cx="1754.4" cy="1083.5" rx="7.6" ry="11.3" fill="url(#q98)" fill-opacity="0.7"/>
<ellipse cx="1770.4" cy="1050.0" rx="15.1" ry="52.9" fill="url(#q118)" fill-opacity="0.8"/>
<ellipse cx="1764.6" cy="1055.9" rx="11.3" ry="15.1" fill="url(#q138)" fill-opacity="0.9"/>
<ellipse cx="1764.6" cy="1071.8" rx="12.1" ry="18.1" fill="url(#q166)"/>
<ellipse cx="1765.3" cy="1096.5" rx="17.0" ry="13.6" fill="url(#q178)"/>
<ellipse cx="1747.1" cy="1114.0" rx="52.3" ry="21.8" fill="url(#r122)" fill-opacity="0.95"/>
<ellipse cx="1741.3" cy="1110.3" rx="23.4" ry="12.8" fill="url(#q173)"/>
<ellipse cx="1763.4" cy="1118.6" rx="23.4" ry="12.8" fill="url(#q184)"/>
<ellipse cx="1757.3" cy="1108.1" rx="7.6" ry="5.7" fill="url(#q105)" fill-opacity="0.8"/>
<ellipse cx="1722.5" cy="1111.1" rx="15.1" ry="15.1" fill="url(#q109)" fill-opacity="0.7"/>
<ellipse cx="1728.3" cy="1176.4" rx="43.6" ry="23.2" fill="url(#r111)" fill-opacity="0.95"/>
<ellipse cx="1738.4" cy="1159.0" rx="9.1" ry="22.7" fill="url(#q138)" fill-opacity="0.95"/>
<ellipse cx="1742.1" cy="1167.0" rx="7.6" ry="13.2" fill="url(#q155)" fill-opacity="0.9"/>
<ellipse cx="1690.5" cy="1191.2" rx="39.2" ry="12.2" fill="url(#r55)"/>
<ellipse cx="1703.6" cy="1144.5" rx="37.8" ry="26.4" fill="url(#q66)" fill-opacity="0.7"/>
<ellipse cx="1795.1" cy="1186.6" rx="28.3" ry="34.0" fill="url(#q144)" fill-opacity="0.95"/>
<ellipse cx="1793.6" cy="1188.0" rx="13.6" ry="26.4" fill="url(#q184)"/>
<ellipse cx="1795.1" cy="1194.6" rx="6.8" ry="15.1" fill="url(#q220)"/>
<ellipse cx="1784.9" cy="1179.3" rx="15.1" ry="11.3" fill="url(#q146)" fill-opacity="0.8"/>
<ellipse cx="1818.3" cy="1193.8" rx="15.1" ry="7.6" fill="url(#q92)" fill-opacity="0.9"/>
<ellipse cx="1819.8" cy="1157.5" rx="34.0" ry="11.3" fill="url(#q103)" fill-opacity="0.8"/>
<ellipse cx="1761.7" cy="1129.5" rx="20.8" ry="5.3" fill="url(#q55)"/>
<ellipse cx="1763.8" cy="1140.4" rx="22.7" ry="15.1" fill="url(#r187)"/>
<ellipse cx="1764.3" cy="1142.3" rx="20.8" ry="11.3" fill="url(#q211)"/>
<ellipse cx="1764.6" cy="1144.9" rx="13.4" ry="3.2" fill="url(#r248)"/>
<ellipse cx="1767.5" cy="1156.8" rx="30.5" ry="11.6" fill="url(#r27)"/>
<ellipse cx="1763.8" cy="1152.4" rx="22.7" ry="5.3" fill="url(#q11)" fill-opacity="0.9"/>
<ellipse cx="1771.8" cy="1160.7" rx="22.7" ry="5.3" fill="url(#q11)" fill-opacity="0.9"/>
<ellipse cx="1764.6" cy="1156.4" rx="15.1" ry="4.5" fill="url(#q59)" fill-opacity="0.8"/>
<ellipse cx="1763.4" cy="1168.9" rx="34.3" ry="7.6" fill="url(#r189)"/>
<ellipse cx="1763.4" cy="1168.9" rx="29.0" ry="4.4" fill="url(#r217)"/>
<ellipse cx="1763.4" cy="1168.9" rx="24.7" ry="2.0" fill="url(#r248)"/>
<ellipse cx="1764.6" cy="1176.7" rx="30.5" ry="3.8" fill="url(#r123)"/>
<ellipse cx="1766.0" cy="1177.1" rx="18.9" ry="3.0" fill="url(#q102)" fill-opacity="0.9"/>
<ellipse cx="1761.7" cy="1190.6" rx="45.0" ry="16.8" fill="url(#r20)"/>
<ellipse cx="1760.2" cy="1188.0" rx="34.9" ry="8.7" fill="url(#r5)"/>
<ellipse cx="1761.7" cy="1194.3" rx="20.8" ry="6.8" fill="url(#q84)"/>
</g>
<path d="M1489,1200.7L1494,1200.7L1499,1200.7L1504,1200.6L1509,1200.6L1514,1200.7L1519,1200.8L1524,1200.9L1529,1201L1534,1200.9L1539,1200.8L1544,1200.7L1549,1200.7L1554,1200.7L1559,1200.7L1564,1200.6L1569,1200.5L1574,1200.5L1579,1200.6L1584,1200.7L1589,1200.9L1594,1201.2L1599,1201.3L1604,1201.1L1609,1200.9L1614,1200.8L1619,1200.8L1624,1200.9L1629,1201L1634,1201.1L1639,1201.2L1644,1201.2L1649,1201.2L1654,1201L1659,1200.8L1664,1200.7L1669,1200.6L1674,1200.4L1679,1200.4L1684,1200.5L1689,1200.6L1694,1200.8L1699,1200.9L1704,1200.9L1709,1200.9L1714,1200.9L1719,1201L1724,1201.1L1729,1201.2L1734,1201.1L1739,1200.9L1744,1200.7L1749,1200.5L1754,1200.4L1759,1200.6L1764,1201L1769,1201.1L1774,1201.1L1779,1201L1784,1201L1789,1200.8L1794,1200.2L1799,1200.6L1804,1201.1L1809,1201.1L1814,1200.9L1819,1200.7L1824,1200.7L1829,1200.8L1834,1200.9L1839,1200.8L1844,1200.6L1849,1200.4L1854,1200.3L1859,1200.4L1864,1200.5L1869,1200.6L1874,1200.7L1879,1200.8L1884,1200.8L1889,1200.7L1894,1200.8L1899,1200.9L1904,1201.1L1909,1201.1L1914,1201.1L1919,1201.1L1924,1201.2L1929,1201.2L1934,1201.2L1939,1201.1L1944,1200.9L1949,1200.7L1954,1200.6L1959,1200.4L1964,1200.1L1969,1199.8L1974,1199.6L1977,1246 1485,1246Z" fill="#fff" filter="url(#bl8)"/>
</g></g>
<line x1="1768.30" y1="1026.40" x2="1768.30" y2="1238.50" stroke="#ffff00" stroke-width="1.7"/>
</g>
<line x1="1482.10" y1="1027.20" x2="1488.90" y2="1027.20" stroke="#222" stroke-width="1.4"/>
<line x1="1482.10" y1="1238.20" x2="1488.90" y2="1238.20" stroke="#222" stroke-width="1.4"/>
<text transform="translate(1477.00,1035.70) scale(0.7000,1)" font-family="'Liberation Sans', 'Noto Sans CJK JP', sans-serif" font-size="19.5" text-anchor="end" fill="#222" letter-spacing="1.7" stroke="#222" stroke-width="0.45">120</text>
<text transform="translate(1477.00,1245.90) scale(0.7000,1)" font-family="'Liberation Sans', 'Noto Sans CJK JP', sans-serif" font-size="19.5" text-anchor="end" fill="#222" letter-spacing="1.7" stroke="#222" stroke-width="0.45">000</text>
<text transform="translate(1493.30,1268.90) scale(0.7000,1)" font-family="'Liberation Sans', 'Noto Sans CJK JP', sans-serif" font-size="19.5" text-anchor="middle" fill="#222" letter-spacing="1.7" stroke="#222" stroke-width="0.45">000</text>
<text transform="translate(1969.80,1268.90) scale(0.7000,1)" font-family="'Liberation Sans', 'Noto Sans CJK JP', sans-serif" font-size="19.5" text-anchor="middle" fill="#222" letter-spacing="1.7" stroke="#222" stroke-width="0.45">200</text>
<rect x="1492.70" y="1242.70" width="1.20" height="2.00" fill="#333"/>
<rect x="1967.80" y="1242.70" width="1.20" height="2.00" fill="#333"/>
<text transform="translate(1411.50,1040.00) scale(0.9500,1)" font-family="'Liberation Sans', 'Noto Sans CJK JP', sans-serif" font-size="32.5" text-anchor="start" fill="#000">(l)</text>
<g id="cbar-l">
<rect x="1975.30" y="1026.40" width="29.70" height="211.70" fill="#8a8a8a"/>
<rect x="1976.50" y="1027.00" width="27.30" height="6.20" fill="#a03800"/>
<rect x="1976.50" y="1032.60" width="27.30" height="2.60" fill="#808488"/>
<rect x="1976.50" y="1035.20" width="27.30" height="195.20" fill="url(#cbar)"/>
<rect x="1976.50" y="1230.30" width="27.30" height="1.80" fill="#707070"/>
<rect x="1976.50" y="1232.10" width="27.30" height="5.50" fill="#000"/>
<line x1="2009.60" y1="1036.20" x2="2017.30" y2="1036.20" stroke="#222" stroke-width="1.6"/>
<text transform="translate(2020.60,1044.80) scale(0.8200,1)" font-family="'Liberation Sans', 'Noto Sans CJK JP', sans-serif" font-size="20.0" text-anchor="start" fill="#000" letter-spacing="1.7" stroke="#000" stroke-width="0.4">1.7</text>
<line x1="2009.60" y1="1074.92" x2="2017.30" y2="1074.92" stroke="#222" stroke-width="1.6"/>
<text transform="translate(2020.60,1083.52) scale(0.8200,1)" font-family="'Liberation Sans', 'Noto Sans CJK JP', sans-serif" font-size="20.0" text-anchor="start" fill="#000" letter-spacing="1.7" stroke="#000" stroke-width="0.4">1.65</text>
<line x1="2009.60" y1="1113.64" x2="2017.30" y2="1113.64" stroke="#222" stroke-width="1.6"/>
<text transform="translate(2020.60,1122.24) scale(0.8200,1)" font-family="'Liberation Sans', 'Noto Sans CJK JP', sans-serif" font-size="20.0" text-anchor="start" fill="#000" letter-spacing="1.7" stroke="#000" stroke-width="0.4">1.6</text>
<line x1="2009.60" y1="1152.36" x2="2017.30" y2="1152.36" stroke="#222" stroke-width="1.6"/>
<text transform="translate(2020.60,1160.96) scale(0.8200,1)" font-family="'Liberation Sans', 'Noto Sans CJK JP', sans-serif" font-size="20.0" text-anchor="start" fill="#000" letter-spacing="1.7" stroke="#000" stroke-width="0.4">1.55</text>
<line x1="2009.60" y1="1191.08" x2="2017.30" y2="1191.08" stroke="#222" stroke-width="1.6"/>
<text transform="translate(2020.60,1199.68) scale(0.8200,1)" font-family="'Liberation Sans', 'Noto Sans CJK JP', sans-serif" font-size="20.0" text-anchor="start" fill="#000" letter-spacing="1.7" stroke="#000" stroke-width="0.4">1.5</text>
<line x1="2009.60" y1="1229.80" x2="2017.30" y2="1229.80" stroke="#222" stroke-width="1.6"/>
<text transform="translate(2020.60,1238.40) scale(0.8200,1)" font-family="'Liberation Sans', 'Noto Sans CJK JP', sans-serif" font-size="20.0" text-anchor="start" fill="#000" letter-spacing="1.7" stroke="#000" stroke-width="0.4">1.45</text>
</g>
<text transform="translate(178.00,160.20)" font-family="'Liberation Sans', 'Noto Sans CJK JP', sans-serif" font-size="38.5" text-anchor="middle" fill="#000" stroke="#000" stroke-width="0.65">*</text>
<text transform="translate(178.00,504.30)" font-family="'Liberation Sans', 'Noto Sans CJK JP', sans-serif" font-size="38.5" text-anchor="middle" fill="#000" stroke="#000" stroke-width="0.65">*</text>
<text transform="translate(190.70,845.30)" font-family="'Liberation Sans', 'Noto Sans CJK JP', sans-serif" font-size="38.5" text-anchor="middle" fill="#000" stroke="#000" stroke-width="0.65">*</text>
<text transform="translate(178.00,1173.00)" font-family="'Liberation Sans', 'Noto Sans CJK JP', sans-serif" font-size="38.5" text-anchor="middle" fill="#000" stroke="#000" stroke-width="0.65">*</text>
<path d="M456.7,519.4 L471.2,512.5 L471.2,526.3 Z M667.4,519.4 L654.8,512.5 L654.8,526.3 Z" fill="#000"/>
<line x1="476.7" y1="519.4" x2="655.0" y2="519.4" stroke="#000" stroke-width="5" stroke-dasharray="4.6 5.05"/>
<path d="M345.6,1210.7 L360.1,1203.8 L360.1,1217.6 Z M664.7,1210.7 L652.1,1203.8 L652.1,1217.6 Z" fill="#000"/>
<line x1="365.6" y1="1210.7" x2="650.1" y2="1210.7" stroke="#000" stroke-width="5" stroke-dasharray="4.6 5.05"/>
<path d="M1164.2,519.2 L1178.7,512.3 L1178.7,526.1 Z M1374.5,519.2 L1361.9,512.3 L1361.9,526.1 Z" fill="#000"/>
<line x1="1184.2" y1="519.2" x2="1362.5" y2="519.2" stroke="#000" stroke-width="5" stroke-dasharray="4.6 5.05"/>
<path d="M1055.0,1190.4 L1069.5,1183.5 L1069.5,1197.3 Z M1375.3,1190.4 L1362.7,1183.5 L1362.7,1197.3 Z" fill="#000"/>
<line x1="1075.0" y1="1190.4" x2="1359.4" y2="1190.4" stroke="#000" stroke-width="5" stroke-dasharray="4.6 5.05"/>
<rect x="1523.50" y="28.00" width="132.90" height="12.00" fill="#fff"/>
<rect x="1523.50" y="28.00" width="11.90" height="110.70" fill="#fff"/>
<text transform="translate(1561.30,61.00)" font-family="'Liberation Sans', 'Noto Sans CJK JP', sans-serif" font-size="20.2" font-weight="bold" text-anchor="start" fill="#fff">50 µm</text>
<text transform="translate(1515.00,111.00) rotate(-90)" font-family="'Liberation Sans', 'Noto Sans CJK JP', sans-serif" font-size="20.2" font-weight="bold" text-anchor="start" fill="#fff">10 µm</text>
</svg>
</body></html>
